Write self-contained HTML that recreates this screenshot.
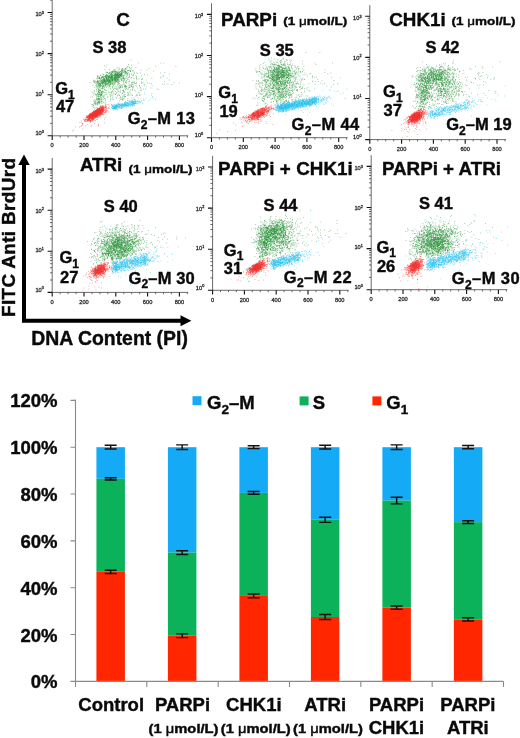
<!DOCTYPE html><html><head><meta charset="utf-8"><title>Figure</title><style>html,body{margin:0;padding:0;background:#fff}svg{display:block}text{font-family:"Liberation Sans", Arial, Helvetica, sans-serif;font-weight:bold;fill:#0a0a0a;stroke:#0a0a0a;stroke-width:0.4px}.tk{font-size:5.7px;font-weight:normal;fill:#2a2a2a;stroke:#2a2a2a;stroke-width:0.28px}</style></head><body><svg width="520" height="738" viewBox="0 0 520 738"><rect width="520" height="738" fill="#fff"/><g><path transform="scale(.5)" d="M209 170h1.55M200 211h1.55M183 209h1.55M198 205h1.55M196 184h1.55M208 163h1.55M199 172h1.55M195 208h1.55M186 211h1.55M191 200h1.55M205 165h1.55M196 203h1.55M191 206h1.55M203 185h1.55M193 199h1.55M185 212h1.55M198 202h1.55M187 203h1.55M192 172h1.55M199 176h1.55M198 157h1.55M196 179h1.55M198 174h1.55M207 192h1.55M211 152h1.55M195 152h1.55M196 198h1.55M210 189h1.55M196 193h1.55M208 168h1.55M199 182h1.55M198 185h1.55M206 195h1.55M197 179h1.55M192 176h1.55M194 204h1.55M194 187h1.55M208 131h1.55M202 191h1.55M196 183h1.55M188 204h1.55M198 167h1.55M200 190h1.55M191 216h1.55M199 205h1.55M206 170h1.55M192 196h1.55M207 155h1.55M205 168h1.55M196 180h1.55M190 207h1.55M202 155h1.55M206 184h1.55M202 156h1.55M191 210h1.55M199 214h1.55M207 149h1.55M200 200h1.55M194 197h1.55M208 162h1.55M210 181h1.55M202 160h1.55M188 199h1.55M190 189h1.55M191 167h1.55M196 202h1.55M200 181h1.55M206 161h1.55M192 169h1.55M200 204h1.55M200 181h1.55M201 187h1.55M195 189h1.55M205 175h1.55M203 190h1.55M207 192h1.55M196 170h1.55M202 190h1.55M201 196h1.55M185 214h1.55M213 130h1.55M192 208h1.55M209 178h1.55M186 222h1.55M197 196h1.55M202 188h1.55M200 190h1.55M202 165h1.55M201 189h1.55M201 199h1.55M187 186h1.55M199 167h1.55M196 157h1.55M200 184h1.55M195 207h1.55M207 194h1.55M184 209h1.55M196 183h1.55M202 184h1.55M193 179h1.55M195 193h1.55M204 170h1.55M203 185h1.55M202 177h1.55M205 168h1.55M204 158h1.55M202 203h1.55M205 176h1.55M195 154h1.55M208 179h1.55M203 189h1.55M206 149h1.55M193 172h1.55M198 205h1.55M196 182h1.55M195 208h1.55M193 189h1.55M199 197h1.55M204 175h1.55M209 139h1.55M194 172h1.55M202 171h1.55M198 203h1.55M199 176h1.55M196 177h1.55M202 204h1.55M204 162h1.55M202 203h1.55M207 171h1.55M190 202h1.55M183 184h1.55M198 185h1.55M198 199h1.55M197 197h1.55M208 175h1.55M209 206h1.55M202 161h1.55M199 188h1.55M199 169h1.55M201 173h1.55M198 190h1.55M188 220h1.55M200 176h1.55M190 172h1.55M194 153h1.55M186 190h1.55M197 203h1.55M202 170h1.55M200 190h1.55M216 165h1.55M195 164h1.55M195 188h1.55M190 204h1.55M211 134h1.55M202 163h1.55M201 194h1.55M205 192h1.55M186 211h1.55M195 188h1.55M196 182h1.55M194 176h1.55M199 208h1.55M192 206h1.55M199 181h1.55M195 199h1.55M203 188h1.55M203 182h1.55M197 170h1.55M193 199h1.55M203 187h1.55M206 205h1.55M194 208h1.55M205 166h1.55M197 184h1.55M197 173h1.55M196 165h1.55M194 201h1.55M195 187h1.55M193 192h1.55M206 165h1.55M196 197h1.55M199 179h1.55M207 174h1.55M193 173h1.55M198 167h1.55M196 192h1.55M208 190h1.55M197 198h1.55M203 197h1.55M200 192h1.55M199 186h1.55M193 184h1.55M196 185h1.55M193 194h1.55M201 194h1.55M190 209h1.55M196 197h1.55M198 167h1.55M204 148h1.55M196 170h1.55M197 199h1.55M203 198h1.55M204 183h1.55M206 158h1.55M197 197h1.55M197 197h1.55M206 199h1.55M199 160h1.55M202 185h1.55M196 190h1.55M200 213h1.55M189 203h1.55M189 206h1.55M181 194h1.55M198 189h1.55M196 163h1.55M207 172h1.55M191 166h1.55M201 190h1.55M190 206h1.55M199 182h1.55M186 208h1.55M200 172h1.55M207 162h1.55M206 173h1.55M203 163h1.55M204 166h1.55M192 180h1.55M196 204h1.55M192 202h1.55M199 199h1.55M191 190h1.55M196 206h1.55M201 194h1.55M198 202h1.55M208 185h1.55M206 184h1.55M185 186h1.55M197 205h1.55M192 191h1.55M208 197h1.55M194 216h1.55M193 182h1.55M193 197h1.55M188 206h1.55M202 189h1.55M188 183h1.55M204 204h1.55M203 207h1.55M196 188h1.55M197 190h1.55M203 167h1.55M203 184h1.55M195 192h1.55M209 180h1.55M196 205h1.55M191 189h1.55M210 198h1.55M211 168h1.55M194 205h1.55M196 183h1.55M184 194h1.55M204 178h1.55M211 166h1.55M195 198h1.55M204 186h1.55M193 158h1.55M208 160h1.55M215 162h1.55M241 148h1.55M222 156h1.55M202 156h1.55M209 153h1.55M218 161h1.55M249 145h1.55M215 163h1.55M230 140h1.55M236 154h1.55M207 167h1.55M222 155h1.55M210 152h1.55M210 166h1.55M232 149h1.55M216 152h1.55M197 155h1.55M256 129h1.55M222 143h1.55M222 147h1.55M221 156h1.55M237 162h1.55M217 147h1.55M239 147h1.55M224 146h1.55M234 165h1.55M209 164h1.55M228 157h1.55M219 146h1.55M239 146h1.55M225 155h1.55M230 152h1.55M210 156h1.55M211 161h1.55M221 165h1.55M235 152h1.55M205 164h1.55M198 156h1.55M228 140h1.55M213 155h1.55M210 167h1.55M222 154h1.55M240 151h1.55M241 143h1.55M210 162h1.55M205 152h1.55M213 154h1.55M240 151h1.55M215 157h1.55M214 168h1.55M208 160h1.55M223 144h1.55M193 165h1.55M202 156h1.55M236 150h1.55M250 148h1.55M218 165h1.55M213 159h1.55M233 144h1.55M222 162h1.55M220 160h1.55M218 161h1.55M210 162h1.55M216 160h1.55M201 164h1.55M232 148h1.55M218 166h1.55M206 171h1.55M214 162h1.55M193 163h1.55M200 170h1.55M210 155h1.55M256 145h1.55M221 160h1.55M221 158h1.55M268 146h1.55M224 161h1.55M232 156h1.55M236 158h1.55M259 140h1.55M193 163h1.55M219 165h1.55M233 156h1.55M238 154h1.55M239 149h1.55M230 152h1.55M219 160h1.55M230 148h1.55M212 145h1.55M255 151h1.55M243 149h1.55M230 159h1.55M254 150h1.55M225 160h1.55M253 135h1.55M204 167h1.55M231 156h1.55M221 164h1.55M231 160h1.55M233 136h1.55M215 148h1.55M232 157h1.55M221 163h1.55M225 151h1.55M240 151h1.55M205 164h1.55M251 143h1.55M228 168h1.55M216 155h1.55M206 154h1.55M217 164h1.55M215 160h1.55M242 152h1.55M195 168h1.55M229 143h1.55M202 154h1.55M234 148h1.55M214 166h1.55M206 156h1.55M226 148h1.55M254 144h1.55M219 145h1.55M204 167h1.55M219 160h1.55M229 160h1.55M247 156h1.55M215 171h1.55M200 161h1.55M235 153h1.55M237 146h1.55M215 160h1.55M226 141h1.55M216 156h1.55M231 145h1.55M229 147h1.55M208 164h1.55M193 169h1.55M262 139h1.55M225 153h1.55M230 162h1.55M213 161h1.55M229 159h1.55M224 161h1.55M204 168h1.55M209 156h1.55M245 143h1.55M222 160h1.55M200 169h1.55M247 139h1.55M229 156h1.55M223 153h1.55M223 153h1.55M212 160h1.55M216 152h1.55M201 156h1.55M224 159h1.55M224 155h1.55M220 155h1.55M219 169h1.55M236 151h1.55M251 142h1.55M189 161h1.55M212 157h1.55M258 135h1.55M207 163h1.55M196 162h1.55M236 158h1.55M230 147h1.55M239 154h1.55M216 167h1.55M202 162h1.55M222 148h1.55M230 156h1.55M197 156h1.55M227 155h1.55M210 168h1.55M237 157h1.55M233 148h1.55M222 167h1.55M228 145h1.55M214 168h1.55M242 148h1.55M211 153h1.55M219 155h1.55M220 163h1.55M230 159h1.55M197 170h1.55M242 141h1.55M258 136h1.55M250 144h1.55M216 156h1.55M207 158h1.55M216 157h1.55M211 162h1.55M241 150h1.55M213 158h1.55M239 151h1.55M209 172h1.55M200 158h1.55M222 153h1.55M241 147h1.55M233 155h1.55M197 162h1.55M221 153h1.55M207 163h1.55M259 147h1.55M223 147h1.55M220 156h1.55M188 165h1.55M214 151h1.55M224 158h1.55M232 154h1.55M212 150h1.55M240 148h1.55M236 146h1.55M234 151h1.55M225 153h1.55M233 150h1.55M216 160h1.55M234 158h1.55M222 151h1.55M228 156h1.55M225 158h1.55M241 151h1.55M200 173h1.55M229 152h1.55M220 166h1.55M224 161h1.55M214 160h1.55M211 159h1.55M213 163h1.55M217 149h1.55M248 140h1.55M212 160h1.55M237 145h1.55M198 166h1.55M211 156h1.55M236 154h1.55M260 143h1.55M265 141h1.55M219 145h1.55M217 162h1.55M249 146h1.55M235 160h1.55M251 138h1.55M229 149h1.55M217 161h1.55M198 164h1.55M243 143h1.55M238 145h1.55M212 169h1.55M234 150h1.55M241 151h1.55M209 159h1.55M219 168h1.55M216 164h1.55M207 166h1.55M235 136h1.55M254 147h1.55M243 148h1.55M232 157h1.55M227 165h1.55M255 148h1.55M235 155h1.55M231 160h1.55M216 153h1.55M238 163h1.55M241 157h1.55M228 151h1.55M215 161h1.55M219 155h1.55M236 142h1.55M225 142h1.55M205 152h1.55M218 153h1.55M222 156h1.55M208 159h1.55M257 141h1.55M224 156h1.55M236 152h1.55M224 154h1.55M244 142h1.55M209 166h1.55M223 151h1.55M241 150h1.55M260 143h1.55M244 138h1.55M250 144h1.55M237 160h1.55M197 171h1.55M234 145h1.55M220 150h1.55M230 143h1.55M200 171h1.55M211 168h1.55M253 150h1.55M212 163h1.55M240 152h1.55M235 148h1.55M219 173h1.55M212 169h1.55M253 149h1.55M206 160h1.55M227 160h1.55M240 143h1.55M231 158h1.55M215 173h1.55M230 151h1.55M209 161h1.55M281 140h1.55M195 163h1.55M218 161h1.55M235 152h1.55M239 146h1.55M243 147h1.55M186 162h1.55M194 161h1.55M232 162h1.55M223 150h1.55M208 162h1.55M215 166h1.55M211 152h1.55M236 151h1.55M223 155h1.55M229 153h1.55M194 162h1.55M216 176h1.55M239 158h1.55M222 157h1.55M213 156h1.55M221 159h1.55M209 163h1.55M207 162h1.55M244 141h1.55M234 160h1.55M239 144h1.55M263 155h1.55M225 157h1.55M245 155h1.55M213 145h1.55M245 160h1.55M222 148h1.55M213 156h1.55M229 163h1.55M212 153h1.55M245 151h1.55M244 152h1.55M228 154h1.55M203 162h1.55M224 174h1.55M213 166h1.55M213 167h1.55M219 174h1.55M239 149h1.55M229 155h1.55M226 157h1.55M210 171h1.55M223 149h1.55M225 145h1.55M203 166h1.55M211 153h1.55M253 147h1.55M237 152h1.55M208 163h1.55M204 154h1.55M231 145h1.55M236 167h1.55M237 150h1.55M185 171h1.55M237 139h1.55M206 158h1.55M230 154h1.55M219 154h1.55M232 148h1.55M221 166h1.55M243 140h1.55M215 159h1.55M242 160h1.55M227 139h1.55M230 158h1.55M258 142h1.55M229 157h1.55M231 165h1.55M207 172h1.55M239 150h1.55M248 160h1.55M211 151h1.55M216 171h1.55M213 162h1.55M221 148h1.55M243 138h1.55M235 155h1.55M220 167h1.55M242 140h1.55M228 160h1.55M234 148h1.55M230 161h1.55M230 157h1.55M235 147h1.55M233 155h1.55M248 141h1.55M243 142h1.55M234 149h1.55M211 173h1.55M208 158h1.55M239 149h1.55M222 145h1.55M222 168h1.55M200 168h1.55M234 147h1.55M219 152h1.55M225 160h1.55M216 154h1.55M243 156h1.55M208 161h1.55M262 148h1.55M203 161h1.55M234 156h1.55M223 153h1.55M196 167h1.55M232 146h1.55M244 148h1.55M198 157h1.55M238 154h1.55M239 143h1.55M227 170h1.55M218 163h1.55M211 162h1.55M206 160h1.55M258 150h1.55M243 152h1.55M234 153h1.55M247 151h1.55M238 155h1.55M228 154h1.55M246 157h1.55M199 156h1.55M227 143h1.55M207 161h1.55M230 142h1.55M225 158h1.55M236 152h1.55M210 156h1.55M196 174h1.55M248 150h1.55M218 156h1.55M242 145h1.55M210 165h1.55M242 149h1.55M212 155h1.55M238 136h1.55M208 167h1.55M212 158h1.55M214 152h1.55M215 161h1.55M233 151h1.55M204 154h1.55M235 155h1.55M230 161h1.55M205 165h1.55M230 153h1.55M215 169h1.55M193 157h1.55M232 158h1.55M243 145h1.55M219 162h1.55M242 146h1.55M250 143h1.55M216 163h1.55M212 159h1.55M227 150h1.55M234 159h1.55M223 162h1.55M235 160h1.55M217 164h1.55M215 161h1.55M250 147h1.55M202 167h1.55M235 148h1.55M224 143h1.55M242 148h1.55M247 155h1.55M224 162h1.55M224 145h1.55M213 150h1.55M205 154h1.55M199 171h1.55M241 150h1.55M227 155h1.55M228 155h1.55M209 164h1.55M228 160h1.55M228 143h1.55M199 169h1.55M220 157h1.55M228 159h1.55M224 156h1.55M219 147h1.55M230 163h1.55M198 162h1.55M220 161h1.55M203 166h1.55M224 160h1.55M217 153h1.55M236 147h1.55M225 164h1.55M234 142h1.55M242 141h1.55M228 152h1.55M221 149h1.55M215 145h1.55M238 152h1.55M228 165h1.55M213 162h1.55M266 144h1.55M239 149h1.55M218 154h1.55M190 163h1.55M255 141h1.55M223 155h1.55M236 154h1.55M225 152h1.55M218 156h1.55M228 149h1.55M210 165h1.55M215 152h1.55M232 163h1.55M199 153h1.55M233 161h1.55M209 161h1.55M244 137h1.55M219 160h1.55M258 149h1.55M249 144h1.55M223 148h1.55M234 157h1.55M200 165h1.55M230 144h1.55M179 165h1.55M231 143h1.55M237 149h1.55M231 151h1.55M214 160h1.55M228 157h1.55M204 173h1.55M231 149h1.55M229 162h1.55M239 152h1.55M187 160h1.55M195 152h1.55M234 155h1.55M188 175h1.55M245 138h1.55M233 164h1.55M219 160h1.55M232 153h1.55M234 163h1.55M211 152h1.55M199 160h1.55M260 137h1.55M199 157h1.55M194 166h1.55M215 151h1.55M243 147h1.55M251 138h1.55M219 164h1.55M265 142h1.55M231 154h1.55M220 168h1.55M222 157h1.55M242 152h1.55M201 172h1.55M223 154h1.55M237 153h1.55M233 151h1.55M252 145h1.55M225 151h1.55M246 153h1.55M217 160h1.55M187 162h1.55M242 149h1.55M276 126h1.55M254 133h1.55M242 158h1.55M248 143h1.55M205 163h1.55M234 145h1.55M228 157h1.55M239 155h1.55M221 152h1.55M200 163h1.55M195 174h1.55M205 164h1.55M236 151h1.55M239 149h1.55M220 154h1.55M220 156h1.55M243 152h1.55M246 154h1.55M225 167h1.55M212 150h1.55M227 146h1.55M203 171h1.55M230 148h1.55M242 160h1.55M233 153h1.55M225 152h1.55M224 167h1.55M210 171h1.55M203 165h1.55M247 151h1.55M215 167h1.55M196 166h1.55M217 160h1.55M208 159h1.55M204 160h1.55M212 155h1.55M209 159h1.55M232 153h1.55M251 144h1.55M208 157h1.55M212 164h1.55M224 154h1.55M256 155h1.55M218 151h1.55M221 155h1.55M252 153h1.55M223 151h1.55M219 169h1.55M208 161h1.55M223 144h1.55M250 156h1.55M239 144h1.55M251 146h1.55M215 158h1.55M248 142h1.55M250 140h1.55M217 165h1.55M258 152h1.55M219 160h1.55M211 165h1.55M219 142h1.55M225 159h1.55M224 149h1.55M212 163h1.55M194 163h1.55M232 143h1.55M200 151h1.55M239 152h1.55M219 160h1.55M203 159h1.55M216 164h1.55M233 152h1.55M215 161h1.55M213 151h1.55M242 153h1.55M221 148h1.55M216 147h1.55M230 149h1.55M189 164h1.55M229 150h1.55M231 149h1.55M214 154h1.55M228 161h1.55M207 161h1.55M235 166h1.55M188 163h1.55M218 139h1.55M200 167h1.55M213 156h1.55M244 137h1.55M205 155h1.55M204 162h1.55M226 151h1.55M208 153h1.55M223 156h1.55M223 163h1.55M235 149h1.55M228 142h1.55M211 163h1.55M223 151h1.55M219 151h1.55M236 163h1.55M218 172h1.55M221 160h1.55M234 151h1.55M220 149h1.55M237 159h1.55M212 158h1.55M253 146h1.55M221 155h1.55M237 151h1.55M230 156h1.55M217 164h1.55M236 155h1.55M232 150h1.55M246 165h1.55M211 169h1.55M220 152h1.55M262 130h1.55M246 145h1.55M217 155h1.55M187 164h1.55M223 152h1.55M210 169h1.55M214 160h1.55M231 155h1.55M229 149h1.55M206 164h1.55M200 169h1.55M241 154h1.55M254 141h1.55M239 149h1.55M236 144h1.55M227 158h1.55M211 148h1.55M222 159h1.55M217 170h1.55M215 157h1.55M218 163h1.55M230 150h1.55M217 157h1.55M207 157h1.55M209 164h1.55M228 157h1.55M201 151h1.55M253 156h1.55M229 162h1.55M233 161h1.55M233 149h1.55M250 137h1.55M215 153h1.55M217 159h1.55M220 169h1.55M239 163h1.55M219 154h1.55M230 164h1.55M212 156h1.55M239 139h1.55M194 165h1.55M215 154h1.55M197 167h1.55M237 155h1.55M221 164h1.55M246 156h1.55M210 163h1.55M214 145h1.55M231 159h1.55M233 150h1.55M229 154h1.55M235 159h1.55M206 166h1.55M205 159h1.55M253 136h1.55M231 151h1.55M216 168h1.55M237 161h1.55M230 154h1.55M237 150h1.55M227 158h1.55M197 169h1.55M233 145h1.55M249 152h1.55M207 158h1.55M211 144h1.55M233 162h1.55M212 150h1.55M194 167h1.55M198 155h1.55M219 164h1.55M198 171h1.55M260 141h1.55M223 164h1.55M231 156h1.55M207 153h1.55M234 158h1.55M249 146h1.55M232 151h1.55M242 144h1.55M217 154h1.55M231 176h1.55M282 180h1.55M219 189h1.55M223 160h1.55M194 152h1.55M278 171h1.55M246 180h1.55M252 161h1.55M254 159h1.55M285 165h1.55M257 174h1.55M240 172h1.55M238 171h1.55M222 184h1.55M232 197h1.55M227 188h1.55M244 200h1.55M240 194h1.55M221 178h1.55M264 164h1.55M231 186h1.55M278 191h1.55M273 190h1.55M226 179h1.55M228 152h1.55M252 173h1.55M262 168h1.55M217 164h1.55M268 146h1.55M205 155h1.55M228 167h1.55M256 132h1.55M209 202h1.55M265 160h1.55M251 175h1.55M187 201h1.55M239 172h1.55M259 174h1.55M222 187h1.55M198 207h1.55M288 172h1.55M230 148h1.55M263 166h1.55M258 175h1.55M215 167h1.55M236 151h1.55M236 183h1.55M249 176h1.55M238 191h1.55M245 169h1.55M282 163h1.55M199 181h1.55M294 166h1.55M223 184h1.55M243 199h1.55M257 185h1.55M202 199h1.55M246 142h1.55M268 164h1.55M230 183h1.55M265 177h1.55M245 158h1.55M223 191h1.55M250 172h1.55M240 184h1.55M230 148h1.55M278 190h1.55M241 174h1.55M248 196h1.55M237 174h1.55M224 176h1.55M193 215h1.55M241 169h1.55M239 184h1.55M240 158h1.55M261 171h1.55M225 163h1.55M248 159h1.55M238 190h1.55M247 184h1.55M262 155h1.55M188 181h1.55M266 151h1.55M234 192h1.55M258 154h1.55M247 192h1.55M205 182h1.55M225 192h1.55M246 157h1.55M197 200h1.55M270 167h1.55M230 168h1.55M220 202h1.55M234 152h1.55M263 169h1.55M265 175h1.55M222 209h1.55M242 160h1.55M249 174h1.55M226 162h1.55M246 197h1.55M274 176h1.55M249 173h1.55M263 165h1.55M267 164h1.55M232 186h1.55M259 183h1.55M262 173h1.55M224 195h1.55M229 150h1.55M258 170h1.55M211 153h1.55M234 178h1.55M225 159h1.55M246 181h1.55M249 189h1.55M217 185h1.55M290 178h1.55M245 200h1.55M243 171h1.55M263 190h1.55M230 189h1.55M224 143h1.55M236 178h1.55M225 167h1.55M293 140h1.55M280 181h1.55M264 168h1.55M264 151h1.55M263 196h1.55M246 182h1.55M250 172h1.55M271 192h1.55M224 182h1.55M250 179h1.55M239 175h1.55M265 170h1.55M254 201h1.55M188 216h1.55M250 174h1.55M244 187h1.55M227 166h1.55M249 173h1.55M228 176h1.55M267 168h1.55M238 196h1.55M247 189h1.55M204 173h1.55M216 153h1.55M244 196h1.55M212 172h1.55M249 170h1.55M234 170h1.55M273 158h1.55M243 198h1.55M243 149h1.55M261 190h1.55M239 155h1.55M224 173h1.55M260 143h1.55M246 162h1.55M233 178h1.55M226 160h1.55M189 187h1.55M215 195h1.55M210 200h1.55M240 175h1.55M282 166h1.55M247 168h1.55M239 152h1.55M243 172h1.55M238 176h1.55M235 161h1.55M241 174h1.55M236 165h1.55M225 165h1.55M224 169h1.55M283 159h1.55M244 194h1.55M257 170h1.55M264 179h1.55M244 145h1.55M251 178h1.55M211 185h1.55M253 162h1.55M220 199h1.55M223 198h1.55M233 174h1.55M283 159h1.55M281 190h1.55M272 153h1.55M247 160h1.55M245 142h1.55M267 196h1.55M193 164h1.55M232 156h1.55M236 188h1.55M231 173h1.55M248 184h1.55M250 163h1.55M225 199h1.55M197 194h1.55M244 186h1.55M227 182h1.55M238 167h1.55M257 163h1.55M270 182h1.55M252 166h1.55M220 193h1.55M250 171h1.55M215 193h1.55M271 152h1.55M236 155h1.55M221 185h1.55M264 174h1.55M212 175h1.55M250 193h1.55M240 199h1.55M302 168h1.55M245 186h1.55M220 189h1.55M237 148h1.55M240 150h1.55M216 182h1.55M238 202h1.55M326 153h1.55M249 185h1.55M232 195h1.55M266 174h1.55M236 174h1.55M212 181h1.55M234 170h1.55M231 178h1.55M248 157h1.55M220 166h1.55M219 185h1.55M243 172h1.55M188 208h1.55M232 163h1.55M217 158h1.55M199 187h1.55M253 172h1.55M242 160h1.55M219 172h1.55M266 172h1.55M194 210h1.55M226 198h1.55M254 185h1.55M294 150h1.55M212 189h1.55M272 155h1.55M212 167h1.55M219 145h1.55M225 170h1.55M255 178h1.55M232 159h1.55M252 173h1.55M242 146h1.55M259 162h1.55M255 197h1.55M246 182h1.55M260 180h1.55M255 188h1.55M264 180h1.55M237 167h1.55M233 178h1.55M256 141h1.55M204 202h1.55M251 157h1.55M229 177h1.55M225 143h1.55M241 195h1.55M211 206h1.55M272 172h1.55M282 152h1.55M246 163h1.55M254 156h1.55M221 191h1.55M227 178h1.55M240 196h1.55M216 153h1.55M292 174h1.55M249 173h1.55M218 171h1.55M231 151h1.55M252 177h1.55M263 180h1.55M257 159h1.55M201 191h1.55M244 162h1.55M244 175h1.55M234 182h1.55M245 192h1.55M256 176h1.55M255 180h1.55M249 171h1.55M258 162h1.55M262 172h1.55M240 180h1.55M213 186h1.55M261 156h1.55M220 177h1.55M264 191h1.55M247 168h1.55M256 166h1.55M287 168h1.55M263 148h1.55M248 192h1.55M272 167h1.55M250 165h1.55M257 154h1.55M244 174h1.55M259 172h1.55M227 146h1.55M266 149h1.55M268 180h1.55M239 177h1.55M220 196h1.55M250 193h1.55M250 165h1.55M237 182h1.55M252 164h1.55M254 191h1.55M194 156h1.55M227 186h1.55M203 200h1.55M220 169h1.55M187 215h1.55M233 186h1.55M225 188h1.55M203 183h1.55M267 165h1.55M222 160h1.55M256 188h1.55M230 189h1.55M234 158h1.55M225 183h1.55M248 193h1.55M227 170h1.55M275 196h1.55M258 175h1.55M267 157h1.55M284 157h1.55M235 191h1.55M205 177h1.55M248 160h1.55M303 187h1.55M270 171h1.55M288 149h1.55M338 148h1.55M208 197h1.55M204 194h1.55M237 169h1.55M272 146h1.55M328 163h1.55M321 156h1.55M297 137h1.55M240 174h1.55M347 165h1.55M292 160h1.55M273 190h1.55M261 186h1.55M325 151h1.55M316 179h1.55M303 157h1.55M328 168h1.55M311 133h1.55M358 166h1.55M246 198h1.55M320 146h1.55M301 176h1.55M327 126h1.55M283 166h1.55M329 145h1.55M338 160h1.55M299 167h1.55M263 173h1.55M272 157h1.55M272 165h1.55M257 191h1.55M343 169h1.55M351 133h1.55M198 193h1.55M268 167h1.55M280 175h1.55M333 156h1.55M324 168h1.55M253 146h1.55M277 185h1.55M274 147h1.55M281 177h1.55M306 142h1.55M278 171h1.55M261 120h1.55M271 135h1.55M277 158h1.55M205 177h1.55M288 169h1.55M273 190h1.55M226 172h1.55M260 170h1.55M279 174h1.55M250 137h1.55M244 181h1.55M277 186h1.55M244 156h1.55M320 154h1.55M335 168h1.55M321 126h1.55M263 135h1.55M257 189h1.55M286 178h1.55M313 178h1.55M280 146h1.55M273 160h1.55" stroke="#258f35" stroke-width="1.55" stroke-opacity="0.64" fill="none"/><path transform="scale(.5)" d="M226 218h1.55M225 217h1.55M267 207h1.55M232 213h1.55M257 210h1.55M231 215h1.55M262 201h1.55M233 210h1.55M230 218h1.55M250 211h1.55M241 218h1.55M230 211h1.55M232 214h1.55M237 214h1.55M268 199h1.55M257 207h1.55M242 211h1.55M238 213h1.55M228 214h1.55M231 218h1.55M232 213h1.55M238 213h1.55M280 198h1.55M242 212h1.55M255 212h1.55M252 205h1.55M236 208h1.55M237 210h1.55M274 203h1.55M233 216h1.55M235 209h1.55M269 203h1.55M250 210h1.55M227 221h1.55M251 209h1.55M253 205h1.55M244 214h1.55M249 210h1.55M238 214h1.55M244 210h1.55M264 207h1.55M260 205h1.55M241 216h1.55M266 204h1.55M262 205h1.55M225 211h1.55M245 209h1.55M251 208h1.55M259 203h1.55M245 207h1.55M241 211h1.55M228 210h1.55M236 206h1.55M253 210h1.55M280 205h1.55M257 211h1.55M263 209h1.55M268 200h1.55M238 213h1.55M259 211h1.55M264 201h1.55M243 209h1.55M242 215h1.55M247 213h1.55M278 206h1.55M259 209h1.55M229 216h1.55M257 208h1.55M254 208h1.55M234 219h1.55M265 203h1.55M228 215h1.55M244 210h1.55M267 211h1.55M235 212h1.55M240 211h1.55M261 204h1.55M248 212h1.55M234 214h1.55M264 204h1.55M243 212h1.55M279 204h1.55M265 204h1.55M250 210h1.55M263 204h1.55M227 213h1.55M235 213h1.55M259 202h1.55M228 215h1.55M251 211h1.55M265 204h1.55M259 208h1.55M240 211h1.55M232 214h1.55M251 208h1.55M264 202h1.55M234 213h1.55M265 212h1.55M250 208h1.55M235 211h1.55M310 199h1.55M277 204h1.55M236 210h1.55M275 204h1.55M249 214h1.55M226 215h1.55M228 216h1.55M253 207h1.55M242 217h1.55M234 209h1.55M243 211h1.55M228 216h1.55M230 213h1.55M236 215h1.55M230 216h1.55M248 212h1.55M230 213h1.55M248 205h1.55M257 207h1.55M273 202h1.55M257 203h1.55M273 203h1.55M242 210h1.55M254 206h1.55M232 211h1.55M272 207h1.55M263 209h1.55M229 219h1.55M229 217h1.55M268 210h1.55M267 208h1.55M264 210h1.55M264 212h1.55M263 208h1.55M270 207h1.55M233 210h1.55M249 212h1.55M242 217h1.55M269 207h1.55M254 211h1.55M262 207h1.55M229 210h1.55M247 209h1.55M241 215h1.55M226 210h1.55M254 210h1.55M228 216h1.55M267 203h1.55M253 211h1.55M260 207h1.55M286 197h1.55M248 210h1.55M231 211h1.55M236 209h1.55M225 213h1.55M238 216h1.55M245 217h1.55M240 212h1.55M251 210h1.55M300 198h1.55M269 202h1.55M291 196h1.55M250 204h1.55M239 207h1.55M260 210h1.55M255 210h1.55M252 214h1.55M225 216h1.55M282 202h1.55M271 203h1.55M270 206h1.55M232 216h1.55M270 202h1.55M249 213h1.55M233 213h1.55M245 210h1.55M237 215h1.55M251 209h1.55M262 211h1.55M239 208h1.55M260 212h1.55M233 219h1.55M246 210h1.55M265 207h1.55M262 204h1.55M252 212h1.55M224 212h1.55M247 212h1.55M238 213h1.55M264 203h1.55M259 201h1.55M254 212h1.55M225 217h1.55M297 201h1.55M235 211h1.55M258 208h1.55M259 204h1.55M225 217h1.55M224 214h1.55M228 216h1.55M249 207h1.55M234 215h1.55M260 207h1.55M268 208h1.55M247 214h1.55M231 208h1.55M268 203h1.55M245 215h1.55M257 209h1.55M241 209h1.55M249 208h1.55M237 217h1.55M268 207h1.55M256 209h1.55M230 218h1.55M233 212h1.55M270 203h1.55M243 214h1.55M230 213h1.55M250 210h1.55M245 212h1.55M246 210h1.55M231 217h1.55M265 203h1.55M275 202h1.55M285 206h1.55M248 208h1.55M225 211h1.55M243 213h1.55M264 205h1.55M230 211h1.55M287 200h1.55M243 213h1.55M230 215h1.55M227 216h1.55M233 213h1.55M263 210h1.55M222 210h1.55M269 204h1.55M270 202h1.55M267 207h1.55M269 207h1.55M229 214h1.55M265 206h1.55M250 213h1.55M275 206h1.55M267 206h1.55M263 209h1.55M252 205h1.55M267 206h1.55M260 212h1.55M236 207h1.55M271 203h1.55M256 211h1.55M241 216h1.55M250 204h1.55M284 207h1.55M243 212h1.55M242 214h1.55M237 211h1.55M268 211h1.55M266 205h1.55M233 213h1.55M267 206h1.55M263 210h1.55M230 217h1.55M233 215h1.55M245 214h1.55M245 213h1.55M228 212h1.55M225 210h1.55M227 213h1.55M258 210h1.55M226 217h1.55M267 208h1.55M282 201h1.55M238 209h1.55M271 205h1.55M236 214h1.55M257 208h1.55M266 205h1.55M260 203h1.55M249 207h1.55M266 208h1.55M249 208h1.55M271 206h1.55M305 195h1.55M232 214h1.55M231 216h1.55M247 208h1.55M231 210h1.55M232 211h1.55M274 207h1.55M275 202h1.55M243 212h1.55M244 208h1.55M231 213h1.55M266 206h1.55M253 211h1.55M267 200h1.55M235 207h1.55M228 215h1.55M241 210h1.55M242 208h1.55M281 205h1.55M222 215h1.55M230 214h1.55M232 212h1.55M263 205h1.55M269 204h1.55M242 209h1.55M254 212h1.55M228 214h1.55M248 209h1.55M250 203h1.55M269 204h1.55M234 211h1.55M225 214h1.55M225 217h1.55M248 211h1.55M231 214h1.55M287 200h1.55M252 215h1.55M255 205h1.55M266 203h1.55M231 214h1.55M271 206h1.55M265 210h1.55M228 210h1.55M267 210h1.55M231 216h1.55M254 206h1.55M246 211h1.55M247 209h1.55M222 215h1.55M255 208h1.55M270 200h1.55M264 200h1.55M253 210h1.55M232 213h1.55M239 211h1.55M266 207h1.55M287 201h1.55M237 212h1.55M247 212h1.55M225 216h1.55M262 202h1.55M244 207h1.55M256 207h1.55M231 212h1.55M234 212h1.55M229 213h1.55M238 214h1.55M246 209h1.55M232 217h1.55M232 214h1.55M241 208h1.55M226 216h1.55M253 207h1.55M223 214h1.55M264 206h1.55M254 207h1.55M251 211h1.55M234 218h1.55M226 215h1.55M255 213h1.55M229 216h1.55M229 214h1.55M250 208h1.55M233 209h1.55M278 203h1.55M270 207h1.55M226 215h1.55M251 210h1.55M225 213h1.55M253 206h1.55M256 211h1.55M271 206h1.55M279 203h1.55M226 214h1.55M229 220h1.55M227 214h1.55M225 210h1.55M230 213h1.55M262 204h1.55M240 210h1.55M270 203h1.55M268 207h1.55M248 206h1.55M257 206h1.55M230 217h1.55M226 213h1.55M262 205h1.55M238 209h1.55M263 206h1.55M256 212h1.55M264 208h1.55M237 210h1.55M236 215h1.55M265 208h1.55M264 206h1.55M259 202h1.55M263 203h1.55M257 202h1.55M267 199h1.55M253 209h1.55M245 210h1.55M261 208h1.55M277 202h1.55M268 207h1.55M238 209h1.55M234 218h1.55M266 208h1.55M251 206h1.55M243 211h1.55M253 205h1.55M268 206h1.55M225 217h1.55M244 209h1.55M258 205h1.55M238 209h1.55M231 211h1.55M229 216h1.55M243 215h1.55M260 209h1.55M235 212h1.55M269 206h1.55M249 206h1.55M240 213h1.55M238 212h1.55M223 211h1.55M232 210h1.55M252 210h1.55M257 213h1.55M304 193h1.55M276 208h1.55M226 214h1.55M253 209h1.55M289 188h1.55M250 204h1.55M257 205h1.55M253 226h1.55M262 209h1.55M304 172h1.55M268 199h1.55M306 197h1.55M302 191h1.55M228 217h1.55M271 219h1.55M288 185h1.55" stroke="#2cc2f0" stroke-width="1.55" stroke-opacity="0.66" fill="none"/><path transform="scale(.5)" d="M188 227h1.55M190 229h1.55M184 233h1.55M200 220h1.55M199 221h1.55M194 224h1.55M175 234h1.55M194 223h1.55M180 241h1.55M184 233h1.55M194 225h1.55M197 226h1.55M193 224h1.55M182 226h1.55M193 221h1.55M187 233h1.55M188 229h1.55M196 223h1.55M189 232h1.55M184 226h1.55M184 231h1.55M197 229h1.55M189 223h1.55M175 239h1.55M192 230h1.55M195 224h1.55M177 233h1.55M195 221h1.55M202 218h1.55M194 230h1.55M197 225h1.55M190 233h1.55M184 234h1.55M206 226h1.55M178 234h1.55M202 217h1.55M180 245h1.55M195 227h1.55M180 230h1.55M200 221h1.55M192 224h1.55M203 217h1.55M194 223h1.55M175 232h1.55M198 220h1.55M176 240h1.55M201 228h1.55M188 225h1.55M177 230h1.55M196 224h1.55M193 223h1.55M190 223h1.55M186 232h1.55M200 221h1.55M182 229h1.55M204 220h1.55M180 235h1.55M190 229h1.55M205 222h1.55M204 224h1.55M183 230h1.55M199 218h1.55M194 225h1.55M191 225h1.55M189 227h1.55M196 224h1.55M196 221h1.55M207 215h1.55M188 230h1.55M189 224h1.55M187 228h1.55M211 224h1.55M181 232h1.55M194 224h1.55M186 227h1.55M194 227h1.55M211 213h1.55M187 230h1.55M189 228h1.55M169 243h1.55M202 225h1.55M189 225h1.55M195 218h1.55M177 237h1.55M187 227h1.55M205 229h1.55M203 225h1.55M199 227h1.55M190 223h1.55M189 227h1.55M197 222h1.55M187 223h1.55M200 222h1.55M216 215h1.55M199 223h1.55M191 224h1.55M192 224h1.55M181 240h1.55M198 226h1.55M185 237h1.55M200 218h1.55M205 222h1.55M193 230h1.55M194 218h1.55M181 227h1.55M200 222h1.55M172 234h1.55M191 229h1.55M194 224h1.55M205 222h1.55M198 217h1.55M203 220h1.55M183 228h1.55M192 226h1.55M203 220h1.55M173 241h1.55M174 235h1.55M195 227h1.55M189 225h1.55M189 223h1.55M189 224h1.55M200 214h1.55M184 228h1.55M177 240h1.55M173 235h1.55M181 234h1.55M189 228h1.55M186 230h1.55M206 217h1.55M194 221h1.55M192 232h1.55M184 227h1.55M178 238h1.55M198 219h1.55M190 225h1.55M195 229h1.55M179 237h1.55M200 224h1.55M185 234h1.55M178 236h1.55M180 232h1.55M171 239h1.55M189 236h1.55M198 224h1.55M174 242h1.55M194 227h1.55M196 221h1.55M196 222h1.55M201 218h1.55M199 230h1.55M196 218h1.55M189 230h1.55M211 221h1.55M182 230h1.55M207 217h1.55M194 221h1.55M184 232h1.55M192 223h1.55M191 228h1.55M183 234h1.55M198 222h1.55M185 234h1.55M211 209h1.55M201 231h1.55M195 222h1.55M204 217h1.55M189 226h1.55M173 235h1.55M195 227h1.55M181 237h1.55M193 225h1.55M189 232h1.55M207 212h1.55M184 237h1.55M203 215h1.55M205 215h1.55M183 231h1.55M174 241h1.55M190 226h1.55M185 231h1.55M194 223h1.55M196 223h1.55M187 227h1.55M193 229h1.55M186 230h1.55M190 227h1.55M191 227h1.55M192 231h1.55M193 222h1.55M195 225h1.55M197 227h1.55M175 237h1.55M182 230h1.55M187 240h1.55M179 228h1.55M190 233h1.55M184 230h1.55M195 224h1.55M202 217h1.55M190 225h1.55M203 215h1.55M202 224h1.55M188 226h1.55M187 226h1.55M194 221h1.55M202 221h1.55M187 226h1.55M199 222h1.55M181 233h1.55M192 222h1.55M198 223h1.55M197 221h1.55M193 226h1.55M188 226h1.55M183 235h1.55M194 231h1.55M191 235h1.55M184 229h1.55M196 224h1.55M192 232h1.55M205 216h1.55M202 224h1.55M193 233h1.55M196 220h1.55M175 238h1.55M200 229h1.55M178 240h1.55M188 234h1.55M191 226h1.55M195 222h1.55M201 215h1.55M181 236h1.55M184 236h1.55M190 227h1.55M198 229h1.55M181 234h1.55M190 229h1.55M192 230h1.55M196 222h1.55M192 229h1.55M195 236h1.55M183 232h1.55M178 235h1.55M195 230h1.55M189 229h1.55M194 223h1.55M192 230h1.55M190 228h1.55M197 222h1.55M187 235h1.55M189 231h1.55M182 233h1.55M187 229h1.55M196 225h1.55M211 215h1.55M200 221h1.55M205 228h1.55M184 230h1.55M191 222h1.55M196 220h1.55M196 225h1.55M197 227h1.55M203 223h1.55M189 228h1.55M201 221h1.55M184 231h1.55M195 222h1.55M181 226h1.55M205 218h1.55M194 227h1.55M204 221h1.55M198 225h1.55M184 229h1.55M202 220h1.55M184 228h1.55M190 226h1.55M202 215h1.55M190 225h1.55M186 231h1.55M173 232h1.55M205 223h1.55M181 240h1.55M202 222h1.55M191 228h1.55M192 231h1.55M194 231h1.55M190 227h1.55M195 225h1.55M183 231h1.55M184 225h1.55M198 223h1.55M188 232h1.55M184 233h1.55M193 224h1.55M185 231h1.55M218 217h1.55M186 229h1.55M192 225h1.55M188 227h1.55M190 225h1.55M177 240h1.55M193 230h1.55M181 231h1.55M184 229h1.55M197 222h1.55M195 225h1.55M179 235h1.55M196 226h1.55M189 225h1.55M182 230h1.55M208 218h1.55M193 227h1.55M203 218h1.55M200 224h1.55M191 227h1.55M173 233h1.55M202 227h1.55M197 223h1.55M194 224h1.55M179 236h1.55M205 220h1.55M185 236h1.55M180 233h1.55M204 217h1.55M188 232h1.55M194 223h1.55M185 236h1.55M193 225h1.55M180 235h1.55M186 229h1.55M190 228h1.55M186 226h1.55M203 220h1.55M199 225h1.55M190 224h1.55M204 220h1.55M190 227h1.55M178 235h1.55M185 230h1.55M185 239h1.55M191 226h1.55M185 227h1.55M190 230h1.55M198 229h1.55M185 231h1.55M198 223h1.55M195 227h1.55M190 221h1.55M186 230h1.55M191 223h1.55M185 240h1.55M195 221h1.55M192 225h1.55M198 221h1.55M207 221h1.55M194 239h1.55M198 224h1.55M191 228h1.55M188 232h1.55M185 229h1.55M191 227h1.55M188 225h1.55M195 225h1.55M197 224h1.55M179 229h1.55M197 227h1.55M199 220h1.55M175 231h1.55M192 223h1.55M193 226h1.55M176 233h1.55M192 228h1.55M194 225h1.55M197 224h1.55M195 233h1.55M186 227h1.55M203 221h1.55M187 223h1.55M187 227h1.55M205 218h1.55M203 222h1.55M193 226h1.55M190 223h1.55M212 216h1.55M185 229h1.55M181 231h1.55M196 225h1.55M198 228h1.55M200 227h1.55M186 232h1.55M186 227h1.55M192 228h1.55M193 220h1.55M190 226h1.55M201 219h1.55M213 221h1.55M190 226h1.55M198 220h1.55M191 231h1.55M190 223h1.55M184 236h1.55M194 233h1.55M190 230h1.55M196 227h1.55M184 233h1.55M192 229h1.55M190 225h1.55M198 216h1.55M185 232h1.55M185 231h1.55M198 228h1.55M195 225h1.55M175 236h1.55M204 226h1.55M197 222h1.55M194 223h1.55M202 220h1.55M199 223h1.55M199 225h1.55M187 223h1.55M195 225h1.55M183 236h1.55M191 223h1.55M194 223h1.55M188 223h1.55M189 231h1.55M198 222h1.55M190 230h1.55M188 227h1.55M196 229h1.55M194 224h1.55M181 230h1.55M189 229h1.55M195 219h1.55M184 230h1.55M185 226h1.55M184 228h1.55M214 222h1.55M186 228h1.55M191 229h1.55M209 215h1.55M176 234h1.55M174 233h1.55M186 230h1.55M201 220h1.55M183 239h1.55M200 218h1.55M183 229h1.55M194 222h1.55M173 240h1.55M197 220h1.55M203 229h1.55M191 225h1.55M214 216h1.55M188 229h1.55M199 223h1.55M202 223h1.55M194 227h1.55M194 228h1.55M176 233h1.55M195 227h1.55M191 223h1.55M183 233h1.55M195 223h1.55M192 235h1.55M201 219h1.55M192 228h1.55M194 227h1.55M184 235h1.55M187 232h1.55M180 232h1.55M179 232h1.55M182 232h1.55M202 219h1.55M185 231h1.55M195 231h1.55M186 230h1.55M187 229h1.55M196 221h1.55M197 220h1.55M189 229h1.55M189 229h1.55M193 233h1.55M188 229h1.55M183 232h1.55M196 225h1.55M213 223h1.55M193 233h1.55M170 240h1.55M196 225h1.55M200 230h1.55M197 221h1.55M192 229h1.55M197 225h1.55M194 227h1.55M172 239h1.55M191 224h1.55M184 232h1.55M196 223h1.55M187 237h1.55M195 218h1.55M197 220h1.55M187 232h1.55M200 225h1.55M178 240h1.55M187 233h1.55M194 228h1.55M202 220h1.55M179 229h1.55M186 230h1.55M191 228h1.55M195 227h1.55M180 243h1.55M182 236h1.55M191 227h1.55M195 224h1.55M186 233h1.55M174 239h1.55M194 223h1.55M190 228h1.55M199 222h1.55M196 221h1.55M190 222h1.55M187 231h1.55M186 234h1.55M201 213h1.55M190 225h1.55M199 218h1.55M203 224h1.55M185 229h1.55M203 219h1.55M184 233h1.55M187 233h1.55M205 221h1.55M200 220h1.55M185 229h1.55M203 216h1.55M201 220h1.55M196 225h1.55M192 221h1.55M179 235h1.55M194 227h1.55M187 226h1.55M207 214h1.55M197 230h1.55M207 216h1.55M193 230h1.55M193 230h1.55M191 225h1.55M191 226h1.55M181 228h1.55M189 236h1.55M191 230h1.55M183 234h1.55M196 229h1.55M187 224h1.55M197 224h1.55M192 227h1.55M189 225h1.55M195 234h1.55M192 230h1.55M198 225h1.55M184 236h1.55M184 242h1.55M175 236h1.55M189 236h1.55M177 233h1.55M185 232h1.55M191 221h1.55M205 213h1.55M192 226h1.55M203 213h1.55M188 227h1.55M193 225h1.55M189 234h1.55M189 234h1.55M200 219h1.55M178 230h1.55M202 228h1.55M205 215h1.55M211 219h1.55M195 223h1.55M192 225h1.55M203 225h1.55M183 238h1.55M187 232h1.55M194 224h1.55M193 229h1.55M186 227h1.55M197 223h1.55M185 224h1.55M185 228h1.55M201 221h1.55M200 226h1.55M199 221h1.55M176 234h1.55M181 228h1.55M186 231h1.55M194 226h1.55M194 227h1.55M197 223h1.55M198 234h1.55M201 221h1.55M176 236h1.55M193 221h1.55M179 229h1.55M189 226h1.55M190 232h1.55M198 218h1.55M202 216h1.55M189 235h1.55M187 232h1.55M183 230h1.55M194 226h1.55M193 226h1.55M191 224h1.55M200 224h1.55M176 231h1.55M190 223h1.55M178 237h1.55M194 231h1.55M185 228h1.55M197 217h1.55M186 236h1.55M194 221h1.55M195 230h1.55M196 220h1.55M197 225h1.55M192 223h1.55M190 235h1.55M193 224h1.55M189 224h1.55M186 230h1.55M187 227h1.55M205 219h1.55M205 211h1.55M197 221h1.55M206 218h1.55M192 231h1.55M192 221h1.55M195 223h1.55M189 228h1.55M177 232h1.55M190 232h1.55M186 233h1.55M196 219h1.55M178 232h1.55M200 224h1.55M180 237h1.55M185 229h1.55M192 235h1.55M196 230h1.55M201 225h1.55M187 233h1.55M184 226h1.55M197 221h1.55M197 230h1.55M188 231h1.55M182 231h1.55M186 233h1.55M186 239h1.55M193 220h1.55M194 229h1.55M168 241h1.55M201 219h1.55M196 218h1.55M201 222h1.55M198 219h1.55M179 237h1.55M179 235h1.55M198 227h1.55M171 235h1.55M191 221h1.55M178 231h1.55M189 227h1.55M188 225h1.55M200 221h1.55M178 232h1.55M186 228h1.55M190 221h1.55M201 222h1.55M191 220h1.55M186 229h1.55M199 217h1.55M198 228h1.55M180 233h1.55M182 228h1.55M201 228h1.55M184 231h1.55M187 230h1.55M196 227h1.55M196 226h1.55M185 228h1.55M186 229h1.55M204 218h1.55M188 226h1.55M186 226h1.55M179 232h1.55M188 232h1.55M207 220h1.55M204 216h1.55M205 222h1.55M198 216h1.55M190 228h1.55M211 213h1.55M189 231h1.55M194 224h1.55M189 221h1.55M187 227h1.55M205 222h1.55M182 238h1.55M186 238h1.55M198 230h1.55M192 220h1.55M178 237h1.55M174 235h1.55M185 232h1.55M190 225h1.55M188 229h1.55M186 230h1.55M181 233h1.55M176 239h1.55M207 216h1.55M180 233h1.55M186 237h1.55M183 229h1.55M194 225h1.55M185 235h1.55M202 219h1.55M187 238h1.55M182 234h1.55M193 226h1.55M191 232h1.55M179 228h1.55M183 229h1.55M177 237h1.55M191 223h1.55M180 231h1.55M196 227h1.55M197 227h1.55M184 231h1.55M169 242h1.55M185 237h1.55M186 227h1.55M185 226h1.55M184 237h1.55M203 217h1.55M200 224h1.55M197 222h1.55M196 223h1.55M202 222h1.55M186 236h1.55M202 223h1.55M184 235h1.55M190 233h1.55M190 230h1.55M188 233h1.55M192 228h1.55M191 226h1.55M198 231h1.55M188 232h1.55M200 227h1.55M186 232h1.55M186 226h1.55M185 227h1.55M182 240h1.55M200 219h1.55M195 224h1.55M197 228h1.55M200 223h1.55M199 221h1.55M177 241h1.55M201 221h1.55M187 228h1.55M188 231h1.55M192 226h1.55M204 219h1.55M203 215h1.55M192 226h1.55M191 230h1.55M192 229h1.55M204 216h1.55M191 235h1.55M191 228h1.55M184 236h1.55M171 238h1.55M191 228h1.55M203 219h1.55M193 227h1.55M183 226h1.55M196 217h1.55M188 229h1.55M182 229h1.55M178 233h1.55M198 217h1.55M181 229h1.55M186 233h1.55M178 231h1.55M206 220h1.55M185 232h1.55M210 210h1.55M190 235h1.55M183 227h1.55M207 218h1.55M186 232h1.55M174 235h1.55M180 230h1.55M179 240h1.55M195 228h1.55M198 223h1.55M180 232h1.55M202 228h1.55M205 216h1.55M201 228h1.55M186 232h1.55M203 225h1.55M187 238h1.55M188 227h1.55M178 238h1.55M192 220h1.55M197 224h1.55M183 236h1.55M185 230h1.55M187 223h1.55M195 228h1.55M202 216h1.55M193 228h1.55M177 240h1.55M200 224h1.55M180 234h1.55M192 224h1.55M194 219h1.55M182 229h1.55M181 230h1.55M192 225h1.55M199 222h1.55M199 218h1.55M193 228h1.55M186 233h1.55M189 228h1.55M215 209h1.55M199 225h1.55M186 232h1.55M195 229h1.55M206 220h1.55M204 228h1.55M190 226h1.55M191 224h1.55M193 225h1.55M176 239h1.55M170 238h1.55M194 226h1.55M185 233h1.55M203 212h1.55M188 224h1.55M181 241h1.55M189 232h1.55M186 230h1.55M218 212h1.55M191 226h1.55M189 225h1.55M208 221h1.55M193 227h1.55M197 229h1.55M181 243h1.55M195 224h1.55M196 233h1.55M189 231h1.55M181 237h1.55M196 222h1.55M190 226h1.55M186 230h1.55M190 225h1.55M191 228h1.55M191 230h1.55M209 213h1.55M206 224h1.55M195 221h1.55M204 213h1.55M200 226h1.55M183 231h1.55M197 227h1.55M189 230h1.55M191 226h1.55M191 232h1.55M198 216h1.55M188 225h1.55M193 223h1.55M196 227h1.55M194 221h1.55M206 214h1.55M189 231h1.55M184 231h1.55M189 225h1.55M210 215h1.55M196 222h1.55M194 226h1.55M192 230h1.55M193 226h1.55M195 228h1.55M191 227h1.55M198 227h1.55M193 222h1.55M197 225h1.55M187 230h1.55M194 219h1.55M191 230h1.55M194 224h1.55M185 234h1.55M189 226h1.55M183 236h1.55M197 228h1.55M191 225h1.55M192 231h1.55M191 228h1.55M195 228h1.55M203 226h1.55M190 228h1.55M200 223h1.55M197 226h1.55M194 218h1.55M187 228h1.55M181 229h1.55M201 220h1.55M181 232h1.55M199 218h1.55M201 228h1.55M183 227h1.55M179 231h1.55M205 215h1.55M201 222h1.55M181 234h1.55M189 228h1.55M197 224h1.55M192 225h1.55M195 224h1.55M190 230h1.55M202 219h1.55M183 235h1.55M191 229h1.55M202 224h1.55M195 224h1.55M181 233h1.55M189 226h1.55M187 229h1.55M179 239h1.55M196 220h1.55M192 229h1.55M204 227h1.55M183 229h1.55M198 226h1.55M173 233h1.55M194 229h1.55M190 224h1.55M167 238h1.55M201 229h1.55M201 228h1.55M200 220h1.55M211 216h1.55M189 224h1.55M187 233h1.55M188 229h1.55M181 232h1.55M195 224h1.55M206 219h1.55M203 221h1.55M201 228h1.55M193 226h1.55M188 231h1.55M189 231h1.55M174 241h1.55M187 232h1.55M182 233h1.55M198 223h1.55M184 226h1.55M197 219h1.55M201 222h1.55M188 225h1.55M187 230h1.55M193 224h1.55M187 226h1.55M188 226h1.55M199 219h1.55M199 226h1.55M181 236h1.55M192 220h1.55M180 233h1.55M185 234h1.55M187 227h1.55M191 222h1.55M181 230h1.55M199 222h1.55M196 226h1.55M183 234h1.55M184 225h1.55M192 225h1.55M199 225h1.55M198 221h1.55M177 234h1.55M195 223h1.55M205 219h1.55M194 222h1.55M181 229h1.55M181 239h1.55M197 227h1.55M193 232h1.55M194 230h1.55M197 229h1.55M195 225h1.55M192 227h1.55M195 230h1.55M169 241h1.55M184 233h1.55M198 230h1.55M186 233h1.55M182 232h1.55M191 230h1.55M181 230h1.55M184 229h1.55M198 230h1.55M182 233h1.55M192 223h1.55M196 220h1.55M188 230h1.55M198 224h1.55M203 226h1.55M197 224h1.55M173 235h1.55M194 225h1.55M183 234h1.55M205 221h1.55M164 248h1.55M181 234h1.55M189 232h1.55M182 229h1.55M188 233h1.55M197 221h1.55M181 231h1.55M177 240h1.55M201 222h1.55M179 233h1.55M199 222h1.55M177 238h1.55M193 223h1.55M207 218h1.55M187 230h1.55M203 223h1.55M207 228h1.55M199 225h1.55M194 223h1.55M181 234h1.55M192 224h1.55M185 235h1.55M190 229h1.55M177 233h1.55M184 226h1.55M198 222h1.55M199 226h1.55M189 230h1.55M180 234h1.55M187 224h1.55M164 247h1.55M184 233h1.55M194 224h1.55M192 228h1.55M194 223h1.55M176 238h1.55M182 238h1.55M192 226h1.55M194 229h1.55M191 231h1.55M193 223h1.55M203 214h1.55M185 233h1.55M183 231h1.55M206 214h1.55M175 243h1.55M179 233h1.55M190 226h1.55M207 220h1.55M195 227h1.55M177 242h1.55M170 240h1.55M190 224h1.55M191 230h1.55M176 236h1.55M190 225h1.55M187 228h1.55M198 223h1.55M188 230h1.55M183 233h1.55M188 228h1.55M200 216h1.55M186 228h1.55M192 223h1.55M191 226h1.55M189 232h1.55M196 219h1.55M196 222h1.55M194 227h1.55M175 235h1.55M194 227h1.55M181 229h1.55M173 232h1.55M185 231h1.55M186 229h1.55M191 230h1.55M201 223h1.55M186 228h1.55M187 231h1.55M195 226h1.55M181 234h1.55M186 223h1.55M180 230h1.55M185 232h1.55M188 228h1.55M195 217h1.55M183 227h1.55M198 219h1.55M183 229h1.55M189 227h1.55M188 227h1.55M198 218h1.55M187 225h1.55M205 222h1.55M206 223h1.55M194 222h1.55M203 218h1.55M188 232h1.55M179 232h1.55M190 230h1.55M197 226h1.55M188 231h1.55M202 214h1.55M193 232h1.55M193 225h1.55M193 223h1.55M187 226h1.55M198 222h1.55M188 231h1.55M199 226h1.55M191 230h1.55M178 233h1.55M191 227h1.55M201 226h1.55M190 227h1.55M200 226h1.55M197 222h1.55M200 216h1.55M192 228h1.55M190 232h1.55M194 232h1.55M189 226h1.55M200 223h1.55M204 221h1.55M193 233h1.55M186 233h1.55M202 218h1.55M181 231h1.55M195 225h1.55M192 228h1.55M190 235h1.55M188 224h1.55M203 220h1.55M185 232h1.55M198 221h1.55M186 229h1.55M188 227h1.55M190 233h1.55M190 225h1.55M182 233h1.55M199 223h1.55M196 220h1.55M180 228h1.55M178 237h1.55M195 219h1.55M185 234h1.55M196 231h1.55M195 222h1.55M186 228h1.55M197 222h1.55M193 220h1.55M187 229h1.55M185 227h1.55M187 228h1.55M192 226h1.55M205 218h1.55M201 217h1.55M202 220h1.55M197 220h1.55M186 230h1.55M190 228h1.55M203 222h1.55M181 241h1.55M189 231h1.55M190 225h1.55M205 217h1.55M196 227h1.55M193 220h1.55M205 225h1.55M195 218h1.55M200 227h1.55M187 227h1.55M196 227h1.55M182 229h1.55M178 230h1.55M191 226h1.55M181 236h1.55M199 227h1.55M210 220h1.55M181 233h1.55M194 222h1.55M188 230h1.55M190 230h1.55M169 238h1.55M193 225h1.55M185 230h1.55M191 227h1.55M203 226h1.55M195 229h1.55M186 225h1.55M182 233h1.55M185 228h1.55M186 237h1.55M196 225h1.55M187 226h1.55M185 233h1.55M191 225h1.55M185 227h1.55M210 216h1.55M210 223h1.55M203 221h1.55M193 227h1.55M188 234h1.55M186 226h1.55M201 222h1.55M188 232h1.55M178 228h1.55M198 220h1.55M183 243h1.55M172 243h1.55M194 220h1.55M209 224h1.55M184 226h1.55M174 239h1.55M163 244h1.55M182 235h1.55M180 231h1.55M162 251h1.55M190 233h1.55M217 210h1.55M176 232h1.55M212 217h1.55M191 232h1.55M190 231h1.55M211 212h1.55M187 240h1.55M211 223h1.55M208 226h1.55M181 252h1.55M196 251h1.55M188 232h1.55M182 236h1.55M158 254h1.55M184 239h1.55M206 230h1.55M189 226h1.55M177 231h1.55M208 225h1.55M183 251h1.55M190 228h1.55M179 229h1.55M150 254h1.55M190 230h1.55M184 241h1.55M176 235h1.55M202 229h1.55M210 225h1.55M199 216h1.55M183 233h1.55M162 242h1.55M211 213h1.55M184 229h1.55M196 221h1.55M184 239h1.55M144 262h1.55M192 226h1.55M161 253h1.55M216 224h1.55M175 249h1.55M208 238h1.55M216 217h1.55M192 239h1.55M179 242h1.55M171 243h1.55M201 216h1.55M169 240h1.55M179 229h1.55M166 239h1.55M175 241h1.55M189 224h1.55M190 241h1.55M204 222h1.55M212 220h1.55M196 220h1.55M204 213h1.55M201 225h1.55M186 227h1.55M187 237h1.55M175 232h1.55M164 258h1.55M182 238h1.55M196 252h1.55M182 235h1.55M211 235h1.55M179 229h1.55M211 225h1.55M200 224h1.55M180 243h1.55M184 240h1.55M203 214h1.55M210 210h1.55M178 240h1.55M184 231h1.55M211 220h1.55M193 225h1.55M170 252h1.55M181 228h1.55M190 222h1.55M190 232h1.55M200 232h1.55M165 247h1.55M164 250h1.55M177 242h1.55M190 236h1.55M188 247h1.55M194 234h1.55M208 246h1.55M172 236h1.55M146 260h1.55M188 227h1.55M159 245h1.55M195 235h1.55M200 221h1.55M190 232h1.55M196 222h1.55M205 212h1.55M177 238h1.55M205 221h1.55M191 221h1.55M196 249h1.55M188 226h1.55M193 233h1.55M209 216h1.55M180 242h1.55M199 233h1.55" stroke="#f23632" stroke-width="1.55" stroke-opacity="0.66" fill="none"/><path d="M52.2 0.0V135.8H188.2M60.2 135.8v1.8M68.1 135.8v1.8M76.1 135.8v1.8M92.0 135.8v1.8M99.9 135.8v1.8M107.8 135.8v1.8M123.8 135.8v1.8M131.7 135.8v1.8M139.7 135.8v1.8M155.6 135.8v1.8M163.5 135.8v1.8M171.4 135.8v1.8M187.4 135.8v1.8M52.2 123.4h-2.2M52.2 116.2h-2.2M52.2 111.1h-2.2M52.2 107.1h-2.2M52.2 103.8h-2.2M52.2 101.1h-2.2M52.2 98.7h-2.2M52.2 96.6h-2.2M52.2 82.3h-2.2M52.2 75.1h-2.2M52.2 70.0h-2.2M52.2 66.0h-2.2M52.2 62.7h-2.2M52.2 60.0h-2.2M52.2 57.6h-2.2M52.2 55.5h-2.2M52.2 41.2h-2.2M52.2 34.0h-2.2M52.2 28.9h-2.2M52.2 24.9h-2.2M52.2 21.6h-2.2M52.2 18.9h-2.2M52.2 16.5h-2.2M52.2 14.4h-2.2M52.2 0.1h-2.2" fill="none" stroke="#3a3a3a" stroke-width="0.75"/><path d="M52.2 135.8v4.2M84.0 135.8v4.2M115.8 135.8v4.2M147.6 135.8v4.2M179.4 135.8v4.2M52.2 135.8h-4.6M52.2 94.7h-4.6M52.2 53.6h-4.6M52.2 12.5h-4.6" fill="none" stroke="#111" stroke-width="1.1"/><text x="52.2" y="147.1" text-anchor="middle" class="tk">0</text><text x="84.0" y="147.1" text-anchor="middle" class="tk">200</text><text x="115.8" y="147.1" text-anchor="middle" class="tk">400</text><text x="147.6" y="147.1" text-anchor="middle" class="tk">600</text><text x="179.4" y="147.1" text-anchor="middle" class="tk">800</text><text x="43.9" y="135.1" text-anchor="end" class="tk">10<tspan dy="-2.4" font-size="3.8">0</tspan></text><text x="43.9" y="95.5" text-anchor="end" class="tk">10<tspan dy="-2.4" font-size="3.8">1</tspan></text><text x="43.9" y="56.0" text-anchor="end" class="tk">10<tspan dy="-2.4" font-size="3.8">2</tspan></text><text x="43.9" y="16.4" text-anchor="end" class="tk">10<tspan dy="-2.4" font-size="3.8">3</tspan></text></g><g><path transform="scale(.5)" d="M556 143h1.55M553 146h1.55M553 140h1.55M552 152h1.55M539 157h1.55M536 150h1.55M576 159h1.55M547 156h1.55M567 149h1.55M555 158h1.55M556 151h1.55M545 132h1.55M567 147h1.55M562 120h1.55M569 151h1.55M558 134h1.55M567 149h1.55M562 159h1.55M555 151h1.55M554 131h1.55M558 133h1.55M561 163h1.55M579 151h1.55M556 134h1.55M581 142h1.55M579 150h1.55M570 156h1.55M575 151h1.55M571 159h1.55M580 126h1.55M555 146h1.55M545 150h1.55M536 141h1.55M557 133h1.55M559 149h1.55M546 140h1.55M559 160h1.55M535 138h1.55M558 147h1.55M551 153h1.55M559 144h1.55M538 120h1.55M575 166h1.55M559 134h1.55M551 163h1.55M568 152h1.55M557 128h1.55M558 131h1.55M549 168h1.55M554 151h1.55M569 140h1.55M530 162h1.55M553 155h1.55M550 151h1.55M563 163h1.55M546 158h1.55M578 146h1.55M536 143h1.55M575 163h1.55M540 143h1.55M559 139h1.55M583 136h1.55M575 150h1.55M582 152h1.55M567 169h1.55M552 138h1.55M546 153h1.55M526 154h1.55M539 148h1.55M553 155h1.55M554 152h1.55M559 149h1.55M575 133h1.55M519 135h1.55M555 143h1.55M545 141h1.55M568 152h1.55M541 142h1.55M567 156h1.55M528 162h1.55M564 132h1.55M545 154h1.55M542 144h1.55M545 129h1.55M568 148h1.55M552 136h1.55M553 151h1.55M559 134h1.55M581 148h1.55M541 158h1.55M556 139h1.55M518 143h1.55M565 143h1.55M536 147h1.55M552 158h1.55M567 131h1.55M561 140h1.55M574 144h1.55M551 130h1.55M550 151h1.55M564 150h1.55M543 136h1.55M559 154h1.55M549 141h1.55M571 143h1.55M576 145h1.55M582 134h1.55M542 149h1.55M564 146h1.55M543 142h1.55M559 163h1.55M540 152h1.55M573 145h1.55M561 135h1.55M555 146h1.55M557 136h1.55M548 143h1.55M548 146h1.55M576 153h1.55M566 145h1.55M562 140h1.55M559 140h1.55M587 151h1.55M542 140h1.55M563 124h1.55M549 139h1.55M551 152h1.55M551 156h1.55M545 151h1.55M556 146h1.55M572 155h1.55M558 156h1.55M572 155h1.55M554 155h1.55M576 157h1.55M542 152h1.55M554 157h1.55M576 150h1.55M528 151h1.55M540 155h1.55M552 156h1.55M553 151h1.55M565 118h1.55M549 152h1.55M574 126h1.55M571 148h1.55M588 142h1.55M577 150h1.55M539 133h1.55M547 159h1.55M562 156h1.55M569 144h1.55M556 152h1.55M579 129h1.55M577 158h1.55M584 142h1.55M584 138h1.55M550 165h1.55M547 134h1.55M550 129h1.55M539 141h1.55M559 161h1.55M565 150h1.55M557 169h1.55M544 155h1.55M557 155h1.55M590 147h1.55M562 149h1.55M577 138h1.55M576 161h1.55M561 147h1.55M569 152h1.55M562 156h1.55M553 143h1.55M552 156h1.55M556 143h1.55M566 158h1.55M554 159h1.55M541 122h1.55M576 137h1.55M554 137h1.55M581 131h1.55M571 156h1.55M594 134h1.55M572 141h1.55M565 150h1.55M531 130h1.55M597 137h1.55M569 145h1.55M571 147h1.55M557 140h1.55M532 134h1.55M553 141h1.55M566 128h1.55M586 158h1.55M544 146h1.55M534 142h1.55M558 155h1.55M573 155h1.55M548 148h1.55M572 147h1.55M554 145h1.55M555 167h1.55M572 140h1.55M575 143h1.55M568 164h1.55M540 169h1.55M577 152h1.55M579 140h1.55M552 148h1.55M547 152h1.55M563 139h1.55M553 164h1.55M577 157h1.55M571 162h1.55M547 169h1.55M568 141h1.55M604 122h1.55M563 168h1.55M555 144h1.55M564 144h1.55M544 151h1.55M588 150h1.55M554 160h1.55M548 135h1.55M565 152h1.55M553 138h1.55M551 156h1.55M557 175h1.55M577 154h1.55M570 146h1.55M575 151h1.55M596 137h1.55M555 144h1.55M529 162h1.55M528 153h1.55M591 140h1.55M539 166h1.55M564 139h1.55M554 131h1.55M560 125h1.55M569 123h1.55M518 143h1.55M569 129h1.55M568 142h1.55M564 144h1.55M566 129h1.55M535 154h1.55M538 155h1.55M563 144h1.55M564 138h1.55M566 150h1.55M558 158h1.55M552 149h1.55M566 163h1.55M576 146h1.55M536 151h1.55M568 145h1.55M554 157h1.55M562 145h1.55M564 151h1.55M579 165h1.55M561 165h1.55M530 148h1.55M572 149h1.55M566 148h1.55M577 152h1.55M567 143h1.55M534 137h1.55M551 160h1.55M548 139h1.55M552 139h1.55M545 146h1.55M533 153h1.55M579 151h1.55M564 166h1.55M584 147h1.55M566 151h1.55M544 152h1.55M555 159h1.55M558 158h1.55M555 178h1.55M544 145h1.55M563 149h1.55M563 128h1.55M564 145h1.55M557 144h1.55M571 170h1.55M589 134h1.55M567 153h1.55M558 155h1.55M580 152h1.55M535 152h1.55M546 146h1.55M562 156h1.55M536 153h1.55M540 151h1.55M562 151h1.55M562 151h1.55M585 164h1.55M542 137h1.55M540 142h1.55M556 148h1.55M538 154h1.55M559 170h1.55M560 152h1.55M525 149h1.55M555 164h1.55M576 147h1.55M543 159h1.55M564 153h1.55M571 160h1.55M562 142h1.55M567 155h1.55M546 161h1.55M562 169h1.55M601 146h1.55M577 149h1.55M579 148h1.55M573 135h1.55M565 160h1.55M565 145h1.55M555 150h1.55M571 169h1.55M565 130h1.55M548 136h1.55M552 151h1.55M554 148h1.55M548 155h1.55M556 158h1.55M557 137h1.55M546 147h1.55M549 161h1.55M559 151h1.55M573 139h1.55M561 154h1.55M580 160h1.55M547 141h1.55M564 140h1.55M555 140h1.55M578 166h1.55M565 137h1.55M545 159h1.55M563 141h1.55M560 165h1.55M562 148h1.55M552 137h1.55M527 150h1.55M549 142h1.55M552 130h1.55M562 153h1.55M535 153h1.55M556 131h1.55M564 145h1.55M545 147h1.55M546 164h1.55M566 152h1.55M538 138h1.55M576 141h1.55M536 159h1.55M544 146h1.55M607 133h1.55M558 157h1.55M539 157h1.55M561 150h1.55M566 141h1.55M541 141h1.55M557 131h1.55M557 152h1.55M556 135h1.55M565 135h1.55M573 143h1.55M593 145h1.55M554 136h1.55M541 146h1.55M574 155h1.55M532 165h1.55M573 120h1.55M547 163h1.55M539 133h1.55M569 139h1.55M547 142h1.55M547 143h1.55M549 162h1.55M552 144h1.55M564 153h1.55M574 163h1.55M529 144h1.55M556 148h1.55M551 143h1.55M560 133h1.55M546 162h1.55M557 150h1.55M556 171h1.55M562 129h1.55M563 134h1.55M567 144h1.55M563 135h1.55M565 140h1.55M558 155h1.55M564 151h1.55M569 170h1.55M583 131h1.55M580 141h1.55M544 153h1.55M541 145h1.55M559 145h1.55M533 166h1.55M525 135h1.55M566 146h1.55M555 167h1.55M553 152h1.55M545 138h1.55M529 148h1.55M569 137h1.55M539 179h1.55M577 130h1.55M556 150h1.55M562 135h1.55M561 150h1.55M561 143h1.55M589 144h1.55M543 128h1.55M579 129h1.55M545 155h1.55M539 150h1.55M577 135h1.55M559 144h1.55M566 148h1.55M544 156h1.55M584 154h1.55M541 142h1.55M554 151h1.55M561 148h1.55M533 139h1.55M560 128h1.55M572 152h1.55M553 155h1.55M525 142h1.55M548 137h1.55M561 148h1.55M583 154h1.55M585 148h1.55M589 131h1.55M549 128h1.55M564 142h1.55M553 148h1.55M553 151h1.55M569 137h1.55M576 132h1.55M557 139h1.55M554 141h1.55M567 141h1.55M548 160h1.55M585 152h1.55M549 143h1.55M553 142h1.55M580 161h1.55M559 140h1.55M537 141h1.55M580 144h1.55M566 149h1.55M574 150h1.55M560 154h1.55M547 135h1.55M557 137h1.55M537 162h1.55M543 127h1.55M573 121h1.55M551 140h1.55M564 149h1.55M567 146h1.55M568 165h1.55M544 159h1.55M582 134h1.55M544 142h1.55M552 159h1.55M542 116h1.55M560 147h1.55M577 141h1.55M540 125h1.55M590 134h1.55M546 148h1.55M562 158h1.55M597 142h1.55M551 150h1.55M557 174h1.55M560 133h1.55M561 141h1.55M560 165h1.55M567 138h1.55M545 160h1.55M552 161h1.55M523 154h1.55M550 146h1.55M577 154h1.55M536 150h1.55M567 130h1.55M572 143h1.55M561 165h1.55M568 137h1.55M558 150h1.55M564 141h1.55M566 141h1.55M537 155h1.55M534 140h1.55M597 151h1.55M556 144h1.55M547 129h1.55M559 123h1.55M592 138h1.55M546 133h1.55M556 155h1.55M554 134h1.55M547 150h1.55M572 148h1.55M570 132h1.55M553 160h1.55M540 134h1.55M567 145h1.55M552 135h1.55M549 118h1.55M565 163h1.55M574 142h1.55M559 148h1.55M577 150h1.55M582 152h1.55M574 161h1.55M574 155h1.55M554 139h1.55M547 142h1.55M557 132h1.55M571 142h1.55M557 156h1.55M579 147h1.55M541 157h1.55M532 159h1.55M552 144h1.55M571 136h1.55M533 154h1.55M567 142h1.55M559 155h1.55M569 146h1.55M555 148h1.55M555 144h1.55M574 144h1.55M549 149h1.55M556 141h1.55M568 128h1.55M573 163h1.55M548 161h1.55M560 121h1.55M566 152h1.55M578 138h1.55M548 158h1.55M579 136h1.55M529 158h1.55M568 160h1.55M559 156h1.55M535 155h1.55M550 144h1.55M533 146h1.55M555 164h1.55M577 150h1.55M563 129h1.55M563 136h1.55M562 153h1.55M563 163h1.55M565 137h1.55M566 153h1.55M542 156h1.55M556 163h1.55M587 153h1.55M561 152h1.55M563 170h1.55M544 149h1.55M558 143h1.55M550 139h1.55M562 147h1.55M558 135h1.55M556 130h1.55M560 144h1.55M558 144h1.55M566 153h1.55M567 118h1.55M566 145h1.55M548 156h1.55M546 145h1.55M547 130h1.55M553 157h1.55M545 149h1.55M555 137h1.55M548 144h1.55M573 148h1.55M533 147h1.55M573 141h1.55M561 168h1.55M582 146h1.55M542 152h1.55M561 146h1.55M543 122h1.55M576 134h1.55M568 150h1.55M543 162h1.55M574 144h1.55M585 169h1.55M577 140h1.55M550 138h1.55M549 151h1.55M566 144h1.55M562 144h1.55M574 155h1.55M530 160h1.55M521 129h1.55M549 148h1.55M564 155h1.55M551 145h1.55M558 138h1.55M556 154h1.55M539 167h1.55M562 143h1.55M551 134h1.55M519 144h1.55M542 152h1.55M556 155h1.55M554 144h1.55M593 143h1.55M568 137h1.55M544 143h1.55M552 138h1.55M549 136h1.55M546 153h1.55M570 135h1.55M569 124h1.55M573 145h1.55M573 154h1.55M570 141h1.55M557 155h1.55M576 167h1.55M558 162h1.55M554 152h1.55M547 155h1.55M561 125h1.55M584 146h1.55M552 141h1.55M548 164h1.55M580 181h1.55M588 162h1.55M523 177h1.55M567 173h1.55M532 163h1.55M593 154h1.55M554 168h1.55M584 183h1.55M583 165h1.55M559 166h1.55M567 195h1.55M593 180h1.55M518 172h1.55M555 179h1.55M545 165h1.55M524 201h1.55M557 144h1.55M572 188h1.55M524 165h1.55M568 175h1.55M568 161h1.55M562 146h1.55M525 197h1.55M549 200h1.55M598 160h1.55M562 157h1.55M548 159h1.55M549 161h1.55M563 146h1.55M527 203h1.55M543 197h1.55M561 154h1.55M544 155h1.55M579 185h1.55M565 143h1.55M567 168h1.55M568 162h1.55M555 177h1.55M530 138h1.55M591 172h1.55M536 171h1.55M592 168h1.55M534 160h1.55M566 192h1.55M551 174h1.55M531 175h1.55M580 148h1.55M581 154h1.55M552 163h1.55M583 170h1.55M571 187h1.55M559 186h1.55M531 172h1.55M545 174h1.55M539 176h1.55M552 164h1.55M561 134h1.55M556 148h1.55M548 198h1.55M547 188h1.55M573 156h1.55M561 195h1.55M562 184h1.55M589 156h1.55M611 105h1.55M548 128h1.55M536 118h1.55M553 159h1.55M591 147h1.55M595 164h1.55M522 179h1.55M534 162h1.55M514 206h1.55M531 179h1.55M581 177h1.55M530 192h1.55M548 152h1.55M553 146h1.55M608 177h1.55M583 199h1.55M541 168h1.55M561 168h1.55M524 201h1.55M537 190h1.55M519 186h1.55M570 184h1.55M586 165h1.55M581 190h1.55M568 205h1.55M547 172h1.55M603 159h1.55M544 155h1.55M559 175h1.55M556 154h1.55M599 199h1.55M561 185h1.55M547 125h1.55M578 182h1.55M527 132h1.55M597 144h1.55M566 190h1.55M591 174h1.55M563 178h1.55M535 209h1.55M513 211h1.55M547 182h1.55M557 185h1.55M546 183h1.55M531 150h1.55M549 153h1.55M570 179h1.55M531 190h1.55M505 196h1.55M605 138h1.55M569 168h1.55M586 167h1.55M581 151h1.55M600 143h1.55M541 165h1.55M579 156h1.55M605 159h1.55M544 158h1.55M583 171h1.55M568 170h1.55M561 167h1.55M545 162h1.55M557 137h1.55M563 172h1.55M519 132h1.55M554 188h1.55M551 177h1.55M547 139h1.55M547 183h1.55M544 164h1.55M516 162h1.55M555 208h1.55M596 197h1.55M572 172h1.55M537 162h1.55M558 188h1.55M578 170h1.55M562 194h1.55M528 192h1.55M565 183h1.55M565 180h1.55M551 178h1.55M557 180h1.55M542 157h1.55M577 146h1.55M571 163h1.55M556 159h1.55M542 181h1.55M564 177h1.55M529 183h1.55M550 191h1.55M566 150h1.55M563 200h1.55M553 181h1.55M535 194h1.55M562 188h1.55M572 202h1.55M574 188h1.55M559 175h1.55M540 156h1.55M516 180h1.55M572 178h1.55M560 201h1.55M554 172h1.55M543 178h1.55M552 200h1.55M558 193h1.55M579 189h1.55M587 170h1.55M559 192h1.55M570 196h1.55M520 174h1.55M505 161h1.55M537 144h1.55M554 139h1.55M526 192h1.55M564 187h1.55M558 179h1.55M564 142h1.55M523 146h1.55M527 201h1.55M568 177h1.55M570 165h1.55M583 176h1.55M555 183h1.55M553 193h1.55M556 170h1.55M564 155h1.55M545 182h1.55M543 170h1.55M557 188h1.55M537 170h1.55M566 184h1.55M545 174h1.55M514 198h1.55M556 148h1.55M570 201h1.55M577 178h1.55M564 148h1.55M561 171h1.55M553 172h1.55M528 154h1.55M569 152h1.55M550 158h1.55M566 117h1.55M583 188h1.55M534 161h1.55M564 162h1.55M561 193h1.55M552 125h1.55M576 191h1.55M526 127h1.55M573 184h1.55M570 181h1.55M532 178h1.55M561 145h1.55M522 149h1.55M573 150h1.55M564 155h1.55M534 169h1.55M523 198h1.55M604 128h1.55M562 163h1.55M555 162h1.55M565 195h1.55M537 183h1.55M554 125h1.55M511 137h1.55M548 187h1.55M544 128h1.55M534 189h1.55M564 152h1.55M564 172h1.55M582 193h1.55M593 180h1.55M568 194h1.55M538 157h1.55M569 177h1.55M559 101h1.55M582 189h1.55M560 194h1.55M595 133h1.55M516 169h1.55M543 145h1.55M567 191h1.55M546 177h1.55M593 166h1.55M546 187h1.55M576 179h1.55M591 148h1.55M559 173h1.55M575 137h1.55M550 170h1.55M527 186h1.55M560 177h1.55M553 154h1.55M568 155h1.55M546 190h1.55M523 175h1.55M556 174h1.55M566 179h1.55M524 167h1.55M553 154h1.55M559 185h1.55M558 190h1.55M560 204h1.55M554 148h1.55M572 202h1.55M548 195h1.55M520 166h1.55M568 177h1.55M585 153h1.55M543 177h1.55M553 176h1.55M579 142h1.55M526 137h1.55M522 189h1.55M607 150h1.55M581 167h1.55M570 188h1.55M590 174h1.55M532 169h1.55M549 137h1.55M569 165h1.55M537 167h1.55M528 199h1.55M585 163h1.55M534 195h1.55M552 169h1.55M557 157h1.55M517 194h1.55M555 152h1.55M549 208h1.55M537 174h1.55M615 192h1.55M548 193h1.55M579 158h1.55M552 169h1.55M592 175h1.55M531 180h1.55M528 176h1.55M577 180h1.55M571 145h1.55M599 175h1.55M566 155h1.55M570 151h1.55M564 158h1.55M575 160h1.55M568 166h1.55M555 175h1.55M546 188h1.55M585 175h1.55M509 197h1.55M548 149h1.55M561 162h1.55M547 190h1.55M519 168h1.55M560 191h1.55M553 151h1.55M574 154h1.55M581 165h1.55M557 175h1.55M563 173h1.55M540 191h1.55M584 179h1.55M548 143h1.55M536 180h1.55M550 188h1.55M550 164h1.55M547 156h1.55M578 195h1.55M559 179h1.55M578 164h1.55M577 135h1.55M572 164h1.55M585 172h1.55M544 156h1.55M573 184h1.55M553 205h1.55M604 174h1.55M549 190h1.55M545 175h1.55M554 158h1.55M593 167h1.55M535 134h1.55M542 162h1.55M563 177h1.55M534 176h1.55M553 135h1.55M517 150h1.55M541 199h1.55M546 141h1.55M549 159h1.55M558 199h1.55M553 167h1.55M532 136h1.55M555 166h1.55M527 193h1.55M558 158h1.55M576 203h1.55M529 206h1.55M529 178h1.55M556 177h1.55M537 172h1.55M555 180h1.55M562 180h1.55M547 152h1.55M572 171h1.55M553 145h1.55M532 175h1.55M562 182h1.55M544 197h1.55M552 156h1.55M555 202h1.55M560 147h1.55M565 184h1.55M549 184h1.55M529 160h1.55M541 135h1.55M585 181h1.55M615 175h1.55M555 167h1.55M549 180h1.55M570 191h1.55M556 182h1.55M587 154h1.55M559 198h1.55M557 194h1.55M547 170h1.55M570 150h1.55M543 174h1.55M552 158h1.55M600 144h1.55M575 166h1.55M564 177h1.55M552 160h1.55M624 156h1.55M532 189h1.55M572 157h1.55M558 163h1.55M533 147h1.55M513 192h1.55M542 189h1.55M561 172h1.55M569 130h1.55M572 193h1.55M560 192h1.55M541 188h1.55M581 189h1.55M567 190h1.55M571 147h1.55M522 166h1.55M536 172h1.55M551 158h1.55M521 140h1.55M567 188h1.55M578 141h1.55M570 184h1.55M543 198h1.55M591 167h1.55M558 183h1.55M585 178h1.55M538 172h1.55M528 138h1.55M511 176h1.55M566 163h1.55M556 178h1.55M632 154h1.55M597 168h1.55M596 168h1.55M575 141h1.55M574 129h1.55M526 193h1.55M556 181h1.55M570 175h1.55M573 190h1.55M515 143h1.55M561 166h1.55M530 171h1.55M554 165h1.55M555 152h1.55M589 177h1.55M545 161h1.55M528 197h1.55M600 173h1.55M557 202h1.55M571 183h1.55M530 173h1.55M547 129h1.55M556 192h1.55M591 163h1.55M570 136h1.55M570 166h1.55M533 185h1.55M544 182h1.55M573 176h1.55M568 182h1.55M591 145h1.55M530 191h1.55M567 183h1.55M555 171h1.55M513 167h1.55M572 194h1.55M553 178h1.55M551 176h1.55M523 181h1.55M564 165h1.55M569 186h1.55M556 154h1.55M558 170h1.55M556 164h1.55M529 182h1.55M579 191h1.55M571 183h1.55M553 201h1.55M532 154h1.55M525 179h1.55M518 138h1.55M576 189h1.55M533 186h1.55M557 138h1.55M593 190h1.55M558 154h1.55M544 189h1.55M583 201h1.55M558 177h1.55M551 176h1.55M518 165h1.55M539 135h1.55M602 177h1.55M593 136h1.55M541 185h1.55M586 186h1.55M531 207h1.55M545 194h1.55M562 169h1.55M555 206h1.55M560 161h1.55M550 146h1.55M543 159h1.55M557 146h1.55M598 193h1.55M513 161h1.55M562 167h1.55M551 193h1.55M581 160h1.55M545 177h1.55M569 202h1.55M541 167h1.55M566 204h1.55M555 131h1.55M576 201h1.55M550 191h1.55M544 197h1.55M545 180h1.55M526 161h1.55M556 132h1.55M571 151h1.55M569 175h1.55M531 166h1.55M562 189h1.55M565 167h1.55M537 147h1.55M546 175h1.55M583 182h1.55M548 167h1.55M552 188h1.55M532 175h1.55M545 159h1.55M579 171h1.55M577 187h1.55M594 180h1.55M556 184h1.55M543 160h1.55M561 194h1.55M574 171h1.55M569 168h1.55M555 196h1.55M585 175h1.55M579 120h1.55M572 119h1.55M539 190h1.55M525 162h1.55M541 186h1.55M572 182h1.55M586 143h1.55M566 136h1.55M568 169h1.55M577 148h1.55M523 157h1.55M601 163h1.55M593 194h1.55M565 189h1.55M538 173h1.55M526 182h1.55M576 188h1.55M531 168h1.55M573 152h1.55M548 186h1.55M583 150h1.55M564 169h1.55M551 163h1.55M573 171h1.55M569 204h1.55M548 142h1.55M568 203h1.55M547 175h1.55M580 123h1.55M557 179h1.55M565 198h1.55M591 195h1.55M575 182h1.55M534 173h1.55M599 194h1.55M565 189h1.55M532 189h1.55M525 160h1.55M525 180h1.55M543 156h1.55M547 182h1.55M591 154h1.55M579 139h1.55M567 166h1.55M548 171h1.55M585 187h1.55M542 132h1.55M534 184h1.55M558 191h1.55M536 145h1.55M556 167h1.55M540 169h1.55M555 184h1.55M554 149h1.55M528 162h1.55M565 178h1.55M540 171h1.55M579 192h1.55M573 171h1.55M574 166h1.55M552 172h1.55M564 185h1.55M554 154h1.55M572 141h1.55M579 176h1.55M529 124h1.55M545 186h1.55M570 191h1.55M560 170h1.55M551 200h1.55M556 166h1.55M536 177h1.55M564 194h1.55M573 203h1.55M580 186h1.55M579 169h1.55M565 204h1.55M579 195h1.55M604 156h1.55M562 174h1.55M570 162h1.55M562 155h1.55M547 141h1.55M570 173h1.55M530 208h1.55M537 151h1.55M528 178h1.55M534 194h1.55M545 177h1.55M573 188h1.55M545 172h1.55M591 159h1.55M546 157h1.55M561 205h1.55M565 137h1.55M530 164h1.55M531 182h1.55M557 183h1.55M552 161h1.55M548 182h1.55M550 171h1.55M540 161h1.55M567 187h1.55M531 187h1.55M577 157h1.55M549 132h1.55M589 157h1.55M589 174h1.55M549 172h1.55M517 183h1.55M541 149h1.55M563 139h1.55M541 146h1.55M558 163h1.55M572 200h1.55M579 181h1.55M572 173h1.55M538 186h1.55M565 180h1.55M589 142h1.55M561 182h1.55M589 168h1.55M589 199h1.55M511 168h1.55M578 175h1.55M552 166h1.55M569 174h1.55M557 170h1.55M578 155h1.55M546 153h1.55M575 183h1.55M559 199h1.55M563 190h1.55M579 142h1.55M554 196h1.55M591 198h1.55M551 185h1.55M562 173h1.55M534 160h1.55M564 166h1.55M584 128h1.55M565 183h1.55M552 179h1.55M537 195h1.55M544 166h1.55M525 195h1.55M534 180h1.55M520 188h1.55M560 166h1.55M546 168h1.55M575 179h1.55M537 191h1.55M563 168h1.55M515 144h1.55M566 170h1.55M599 153h1.55M566 175h1.55M559 155h1.55M513 178h1.55M531 190h1.55M555 185h1.55M540 175h1.55M547 171h1.55M577 190h1.55M557 194h1.55M572 156h1.55M575 148h1.55M564 196h1.55M536 153h1.55M557 158h1.55M546 183h1.55M595 146h1.55M526 197h1.55M556 152h1.55M575 153h1.55M581 155h1.55M580 190h1.55M533 192h1.55M579 141h1.55M535 186h1.55M556 163h1.55M558 142h1.55M564 179h1.55M547 153h1.55M550 165h1.55M553 202h1.55M512 191h1.55M536 161h1.55M553 197h1.55M575 181h1.55M604 176h1.55M562 191h1.55M589 162h1.55M553 178h1.55M552 150h1.55M533 148h1.55M543 177h1.55M603 177h1.55M558 179h1.55M559 172h1.55M552 167h1.55M542 149h1.55M577 197h1.55M547 185h1.55M547 196h1.55M546 160h1.55M578 174h1.55M557 197h1.55M585 181h1.55M540 163h1.55M598 174h1.55M569 187h1.55M574 184h1.55M567 176h1.55M536 181h1.55M568 148h1.55M569 127h1.55M571 132h1.55M573 165h1.55M516 162h1.55M556 184h1.55M523 154h1.55M559 185h1.55M541 181h1.55M564 160h1.55M559 170h1.55M561 184h1.55M583 173h1.55M537 141h1.55M539 189h1.55M561 179h1.55M551 155h1.55M585 199h1.55M603 192h1.55M532 165h1.55M541 205h1.55M573 161h1.55M559 144h1.55M582 181h1.55M545 168h1.55M547 172h1.55M575 166h1.55M520 146h1.55M554 168h1.55M522 183h1.55M523 147h1.55M553 207h1.55M559 196h1.55M563 195h1.55M521 187h1.55M554 194h1.55M568 154h1.55M556 178h1.55M561 154h1.55M566 199h1.55M561 122h1.55M570 166h1.55M566 161h1.55M566 170h1.55M585 172h1.55M517 187h1.55M558 158h1.55M567 158h1.55M566 167h1.55M533 187h1.55M572 136h1.55M544 159h1.55M517 196h1.55M565 192h1.55M512 143h1.55M552 175h1.55M562 132h1.55M543 182h1.55M546 157h1.55M571 137h1.55M553 203h1.55M571 196h1.55M560 142h1.55M555 179h1.55M561 189h1.55M566 179h1.55M564 192h1.55M567 166h1.55M539 181h1.55M531 172h1.55M549 178h1.55M564 180h1.55M556 188h1.55M608 184h1.55M571 178h1.55M601 192h1.55M554 168h1.55M537 132h1.55M561 166h1.55M519 174h1.55M529 169h1.55M566 177h1.55M549 196h1.55M537 145h1.55M541 186h1.55M572 203h1.55M543 153h1.55M560 163h1.55M573 173h1.55M546 146h1.55M528 160h1.55M589 172h1.55M556 199h1.55M570 168h1.55M570 175h1.55M561 188h1.55M581 174h1.55M580 151h1.55M546 203h1.55M578 163h1.55M545 155h1.55M511 172h1.55M546 161h1.55M547 188h1.55M570 165h1.55M524 171h1.55M542 204h1.55M539 195h1.55M603 189h1.55M538 185h1.55M588 179h1.55M573 149h1.55M547 169h1.55M578 166h1.55M590 160h1.55M596 190h1.55M529 194h1.55M549 182h1.55M517 167h1.55M560 154h1.55M574 165h1.55M544 167h1.55M540 129h1.55M531 151h1.55M546 140h1.55M552 203h1.55M544 183h1.55M572 189h1.55M551 124h1.55M555 162h1.55M617 181h1.55M558 183h1.55M566 192h1.55M548 161h1.55M580 163h1.55M602 185h1.55M569 194h1.55M577 185h1.55M585 168h1.55M515 210h1.55M568 157h1.55M577 161h1.55M547 175h1.55M558 175h1.55M583 191h1.55M545 149h1.55M552 165h1.55M545 177h1.55M578 136h1.55M561 189h1.55M550 161h1.55M604 143h1.55M555 178h1.55M560 197h1.55M547 171h1.55M524 201h1.55M528 198h1.55M591 158h1.55M535 192h1.55M526 204h1.55M512 145h1.55M567 145h1.55M570 190h1.55M576 161h1.55M562 202h1.55M513 163h1.55M568 171h1.55M550 173h1.55M533 164h1.55M594 182h1.55M523 183h1.55M511 141h1.55M553 168h1.55M563 186h1.55M546 203h1.55M600 166h1.55M574 139h1.55M553 188h1.55M547 170h1.55M531 160h1.55M555 194h1.55M566 142h1.55M538 184h1.55M551 165h1.55M575 175h1.55M539 193h1.55M568 132h1.55M565 193h1.55M607 140h1.55M578 192h1.55M555 119h1.55M652 172h1.55M573 177h1.55M549 164h1.55M560 177h1.55M624 164h1.55M640 166h1.55M648 167h1.55M583 195h1.55M611 149h1.55M596 139h1.55M624 153h1.55M538 180h1.55M619 182h1.55M655 147h1.55M662 174h1.55M664 126h1.55M607 169h1.55M666 169h1.55M588 146h1.55M600 179h1.55M558 182h1.55M639 105h1.55M567 193h1.55M625 162h1.55M585 170h1.55M649 140h1.55M570 161h1.55M550 154h1.55M524 188h1.55M629 126h1.55M590 149h1.55M624 152h1.55M582 165h1.55M578 185h1.55M617 167h1.55M604 144h1.55M569 152h1.55M554 157h1.55M614 152h1.55M628 155h1.55M528 148h1.55M608 159h1.55M601 157h1.55M597 190h1.55M549 142h1.55M628 178h1.55M661 146h1.55M561 187h1.55M571 149h1.55M630 163h1.55M594 179h1.55M609 182h1.55M635 159h1.55M631 129h1.55M609 146h1.55M613 178h1.55M643 161h1.55M629 168h1.55M649 145h1.55M595 149h1.55M593 181h1.55M600 169h1.55M645 168h1.55M554 148h1.55M636 163h1.55M611 192h1.55M667 161h1.55M517 183h1.55M618 148h1.55M609 158h1.55M594 167h1.55M582 121h1.55M603 161h1.55M521 181h1.55M620 147h1.55M541 177h1.55M663 155h1.55M591 155h1.55M599 174h1.55" stroke="#258f35" stroke-width="1.55" stroke-opacity="0.64" fill="none"/><path transform="scale(.5)" d="M554 215h1.55M570 215h1.55M582 209h1.55M574 213h1.55M591 207h1.55M598 203h1.55M568 214h1.55M576 206h1.55M604 212h1.55M643 199h1.55M585 218h1.55M606 201h1.55M625 208h1.55M592 202h1.55M611 206h1.55M600 207h1.55M559 212h1.55M575 217h1.55M642 203h1.55M618 208h1.55M626 204h1.55M572 222h1.55M611 204h1.55M610 202h1.55M561 209h1.55M564 216h1.55M567 211h1.55M614 200h1.55M587 212h1.55M621 197h1.55M578 213h1.55M597 208h1.55M609 208h1.55M627 205h1.55M589 208h1.55M632 197h1.55M569 211h1.55M572 211h1.55M593 209h1.55M599 204h1.55M643 201h1.55M623 205h1.55M632 201h1.55M566 216h1.55M584 211h1.55M588 205h1.55M580 209h1.55M630 202h1.55M562 215h1.55M552 215h1.55M560 217h1.55M627 198h1.55M603 204h1.55M624 201h1.55M597 202h1.55M622 209h1.55M579 216h1.55M573 216h1.55M564 211h1.55M563 212h1.55M601 216h1.55M591 209h1.55M571 217h1.55M602 200h1.55M562 211h1.55M607 211h1.55M612 208h1.55M570 213h1.55M565 218h1.55M623 206h1.55M568 213h1.55M564 214h1.55M619 203h1.55M572 207h1.55M575 211h1.55M624 202h1.55M565 215h1.55M553 213h1.55M593 215h1.55M628 207h1.55M617 209h1.55M618 202h1.55M569 208h1.55M612 208h1.55M621 210h1.55M623 208h1.55M615 203h1.55M577 212h1.55M592 203h1.55M615 207h1.55M585 209h1.55M590 201h1.55M560 222h1.55M607 203h1.55M568 215h1.55M629 203h1.55M622 203h1.55M568 218h1.55M592 209h1.55M591 214h1.55M565 216h1.55M597 211h1.55M623 206h1.55M580 219h1.55M566 215h1.55M576 215h1.55M613 202h1.55M608 206h1.55M609 213h1.55M624 198h1.55M570 209h1.55M573 210h1.55M563 217h1.55M582 207h1.55M655 195h1.55M608 209h1.55M561 213h1.55M578 206h1.55M588 206h1.55M606 207h1.55M570 212h1.55M587 208h1.55M560 214h1.55M561 208h1.55M618 207h1.55M581 211h1.55M599 205h1.55M624 202h1.55M607 205h1.55M565 214h1.55M573 213h1.55M584 209h1.55M555 212h1.55M622 205h1.55M585 208h1.55M563 216h1.55M600 215h1.55M586 209h1.55M629 206h1.55M574 212h1.55M591 217h1.55M570 216h1.55M620 202h1.55M625 206h1.55M567 213h1.55M623 204h1.55M571 210h1.55M621 199h1.55M616 207h1.55M594 211h1.55M556 217h1.55M614 209h1.55M597 206h1.55M624 203h1.55M594 212h1.55M644 196h1.55M596 209h1.55M596 212h1.55M577 211h1.55M600 207h1.55M604 204h1.55M568 212h1.55M610 208h1.55M577 214h1.55M593 211h1.55M607 208h1.55M646 208h1.55M599 207h1.55M558 213h1.55M569 223h1.55M577 221h1.55M626 204h1.55M557 213h1.55M570 206h1.55M575 212h1.55M558 216h1.55M593 214h1.55M657 192h1.55M630 202h1.55M616 203h1.55M560 223h1.55M557 224h1.55M626 200h1.55M570 213h1.55M587 210h1.55M631 202h1.55M581 213h1.55M596 202h1.55M562 219h1.55M602 209h1.55M588 205h1.55M554 216h1.55M599 209h1.55M613 214h1.55M570 217h1.55M564 217h1.55M557 213h1.55M619 201h1.55M578 212h1.55M609 213h1.55M581 208h1.55M589 207h1.55M567 212h1.55M618 199h1.55M637 205h1.55M558 222h1.55M628 198h1.55M558 218h1.55M609 205h1.55M619 212h1.55M572 221h1.55M632 198h1.55M592 212h1.55M567 212h1.55M587 203h1.55M615 199h1.55M594 215h1.55M574 213h1.55M610 207h1.55M619 202h1.55M605 213h1.55M616 198h1.55M596 218h1.55M568 215h1.55M583 209h1.55M596 201h1.55M600 208h1.55M627 197h1.55M579 214h1.55M588 214h1.55M558 213h1.55M563 209h1.55M567 216h1.55M568 213h1.55M620 208h1.55M626 196h1.55M631 206h1.55M631 210h1.55M595 207h1.55M593 207h1.55M587 208h1.55M595 211h1.55M630 202h1.55M589 206h1.55M600 208h1.55M643 200h1.55M591 205h1.55M576 213h1.55M593 209h1.55M636 203h1.55M570 219h1.55M556 221h1.55M563 209h1.55M626 205h1.55M593 213h1.55M603 211h1.55M596 212h1.55M577 209h1.55M562 217h1.55M599 205h1.55M583 212h1.55M587 217h1.55M624 197h1.55M612 197h1.55M561 214h1.55M617 208h1.55M641 201h1.55M563 216h1.55M603 202h1.55M621 199h1.55M646 199h1.55M558 215h1.55M626 206h1.55M626 196h1.55M627 204h1.55M585 217h1.55M581 208h1.55M564 208h1.55M632 199h1.55M613 203h1.55M570 213h1.55M608 199h1.55M576 218h1.55M618 198h1.55M629 197h1.55M554 216h1.55M622 204h1.55M589 208h1.55M580 212h1.55M597 203h1.55M617 208h1.55M583 215h1.55M602 210h1.55M574 217h1.55M575 206h1.55M563 220h1.55M600 207h1.55M583 219h1.55M593 202h1.55M615 204h1.55M624 205h1.55M566 218h1.55M576 213h1.55M631 203h1.55M628 194h1.55M597 213h1.55M558 216h1.55M577 217h1.55M612 209h1.55M567 211h1.55M575 207h1.55M588 211h1.55M604 204h1.55M557 216h1.55M576 216h1.55M647 193h1.55M575 210h1.55M622 199h1.55M564 211h1.55M615 202h1.55M563 217h1.55M566 206h1.55M632 203h1.55M615 205h1.55M589 203h1.55M563 214h1.55M590 201h1.55M601 210h1.55M582 216h1.55M619 204h1.55M625 197h1.55M608 206h1.55M586 204h1.55M583 212h1.55M577 211h1.55M623 202h1.55M570 222h1.55M559 213h1.55M591 211h1.55M571 207h1.55M577 208h1.55M594 202h1.55M560 214h1.55M605 211h1.55M564 208h1.55M631 206h1.55M566 215h1.55M576 213h1.55M628 204h1.55M586 206h1.55M587 208h1.55M556 222h1.55M602 206h1.55M620 195h1.55M629 199h1.55M598 209h1.55M595 212h1.55M602 207h1.55M601 208h1.55M608 198h1.55M562 215h1.55M611 212h1.55M626 199h1.55M571 223h1.55M571 216h1.55M593 202h1.55M612 203h1.55M607 214h1.55M564 214h1.55M606 200h1.55M548 219h1.55M660 198h1.55M610 209h1.55M551 219h1.55M602 206h1.55M650 204h1.55M633 201h1.55M579 214h1.55M583 206h1.55M619 207h1.55M593 205h1.55M598 207h1.55M617 204h1.55M576 210h1.55M560 220h1.55M605 207h1.55M590 215h1.55M578 218h1.55M557 223h1.55M617 210h1.55M575 216h1.55M593 209h1.55M613 207h1.55M632 194h1.55M619 206h1.55M614 202h1.55M579 213h1.55M562 220h1.55M588 205h1.55M609 202h1.55M599 202h1.55M558 218h1.55M603 207h1.55M624 204h1.55M575 212h1.55M596 210h1.55M564 216h1.55M605 209h1.55M601 211h1.55M641 201h1.55M624 206h1.55M593 208h1.55M629 199h1.55M591 209h1.55M565 214h1.55M566 223h1.55M589 210h1.55M641 202h1.55M582 212h1.55M589 207h1.55M585 212h1.55M558 213h1.55M567 216h1.55M552 211h1.55M617 209h1.55M613 204h1.55M614 204h1.55M595 207h1.55M598 207h1.55M589 204h1.55M576 208h1.55M566 218h1.55M604 199h1.55M633 195h1.55M578 208h1.55M570 206h1.55M585 207h1.55M554 213h1.55M578 211h1.55M604 202h1.55M629 198h1.55M605 203h1.55M617 204h1.55M588 214h1.55M577 205h1.55M597 216h1.55M650 198h1.55M554 209h1.55M584 216h1.55M621 208h1.55M629 204h1.55M635 198h1.55M587 209h1.55M588 211h1.55M584 208h1.55M559 218h1.55M620 211h1.55M632 200h1.55M631 203h1.55M618 202h1.55M604 212h1.55M560 211h1.55M604 205h1.55M600 207h1.55M610 209h1.55M600 205h1.55M601 204h1.55M575 209h1.55M561 216h1.55M628 203h1.55M611 212h1.55M604 204h1.55M630 197h1.55M555 218h1.55M608 208h1.55M621 212h1.55M565 212h1.55M561 216h1.55M559 223h1.55M558 218h1.55M575 208h1.55M623 200h1.55M633 203h1.55M577 212h1.55M612 199h1.55M595 201h1.55M605 201h1.55M573 209h1.55M557 218h1.55M620 204h1.55M572 218h1.55M562 212h1.55M634 193h1.55M604 205h1.55M622 201h1.55M604 198h1.55M619 206h1.55M571 209h1.55M592 202h1.55M605 201h1.55M602 210h1.55M577 212h1.55M565 224h1.55M557 213h1.55M570 214h1.55M559 214h1.55M570 216h1.55M565 206h1.55M578 211h1.55M567 212h1.55M590 202h1.55M564 216h1.55M574 214h1.55M575 216h1.55M562 212h1.55M615 205h1.55M568 212h1.55M633 199h1.55M589 205h1.55M592 215h1.55M604 210h1.55M560 210h1.55M556 222h1.55M625 195h1.55M631 197h1.55M596 206h1.55M607 204h1.55M622 210h1.55M602 205h1.55M574 206h1.55M563 216h1.55M610 205h1.55M618 197h1.55M558 215h1.55M576 210h1.55M630 209h1.55M632 205h1.55M614 207h1.55M564 218h1.55M588 210h1.55M602 206h1.55M592 211h1.55M577 210h1.55M599 210h1.55M625 202h1.55M561 214h1.55M614 208h1.55M555 211h1.55M611 211h1.55M565 217h1.55M557 217h1.55M569 212h1.55M558 216h1.55M629 208h1.55M622 200h1.55M572 207h1.55M561 209h1.55M644 200h1.55M614 212h1.55M627 206h1.55M571 210h1.55M564 218h1.55M562 217h1.55M590 202h1.55M618 195h1.55M619 202h1.55M560 211h1.55M576 205h1.55M630 208h1.55M576 209h1.55M586 215h1.55M624 194h1.55M614 206h1.55M573 210h1.55M587 215h1.55M567 222h1.55M609 212h1.55M607 198h1.55M605 206h1.55M615 199h1.55M631 196h1.55M599 207h1.55M561 218h1.55M594 205h1.55M588 204h1.55M561 219h1.55M578 205h1.55M578 216h1.55M573 213h1.55M595 204h1.55M578 207h1.55M560 218h1.55M566 219h1.55M578 212h1.55M576 205h1.55M609 205h1.55M577 221h1.55M601 203h1.55M570 217h1.55M608 204h1.55M588 209h1.55M612 207h1.55M580 212h1.55M557 212h1.55M575 213h1.55M571 218h1.55M608 208h1.55M596 205h1.55M646 199h1.55M590 206h1.55M588 210h1.55M572 213h1.55M613 201h1.55M564 221h1.55M567 220h1.55M585 210h1.55M559 217h1.55M571 209h1.55M602 204h1.55M598 202h1.55M556 213h1.55M591 205h1.55M601 214h1.55M605 209h1.55M625 199h1.55M593 210h1.55M593 211h1.55M568 213h1.55M600 213h1.55M581 210h1.55M555 216h1.55M633 200h1.55M565 220h1.55M615 200h1.55M604 211h1.55M579 210h1.55M626 202h1.55M565 224h1.55M625 199h1.55M587 211h1.55M575 217h1.55M619 202h1.55M630 203h1.55M576 212h1.55M622 198h1.55M618 212h1.55M557 225h1.55M565 211h1.55M588 219h1.55M602 212h1.55M618 202h1.55M572 215h1.55M577 209h1.55M636 200h1.55M632 199h1.55M612 206h1.55M628 204h1.55M595 206h1.55M558 220h1.55M648 195h1.55M549 219h1.55M581 208h1.55M615 203h1.55M589 213h1.55M612 210h1.55M575 211h1.55M585 212h1.55M577 205h1.55M565 206h1.55M613 201h1.55M563 222h1.55M563 212h1.55M592 205h1.55M624 201h1.55M559 212h1.55M620 203h1.55M611 206h1.55M571 212h1.55M572 212h1.55M622 198h1.55M565 215h1.55M589 205h1.55M555 213h1.55M629 204h1.55M600 207h1.55M563 215h1.55M623 206h1.55M597 210h1.55M605 211h1.55M571 214h1.55M613 205h1.55M578 220h1.55M626 207h1.55M584 204h1.55M592 212h1.55M572 212h1.55M610 209h1.55M624 203h1.55M621 201h1.55M652 197h1.55M593 209h1.55M572 207h1.55M550 217h1.55M601 211h1.55M604 201h1.55M569 214h1.55M559 216h1.55M560 217h1.55M576 214h1.55M599 199h1.55M568 216h1.55M559 213h1.55M575 211h1.55M599 211h1.55M562 215h1.55M611 200h1.55M628 204h1.55M586 212h1.55M547 211h1.55M621 210h1.55M584 211h1.55M597 205h1.55M586 208h1.55M628 206h1.55M570 210h1.55M598 205h1.55M648 199h1.55M616 200h1.55M561 214h1.55M588 217h1.55M611 209h1.55M583 208h1.55M599 211h1.55M574 209h1.55M610 201h1.55M599 211h1.55M559 216h1.55M592 210h1.55M611 210h1.55M595 205h1.55M611 207h1.55M549 215h1.55M573 209h1.55M565 216h1.55M584 212h1.55M576 204h1.55M608 206h1.55M629 201h1.55M581 207h1.55M582 217h1.55M570 220h1.55M562 211h1.55M611 208h1.55M570 209h1.55M592 204h1.55M570 218h1.55M618 199h1.55M551 214h1.55M589 212h1.55M575 210h1.55M585 206h1.55M630 196h1.55M606 200h1.55M553 215h1.55M601 199h1.55M618 202h1.55M579 206h1.55M549 210h1.55M625 208h1.55M594 214h1.55M623 204h1.55M606 200h1.55M576 217h1.55M587 214h1.55M571 211h1.55M573 212h1.55M628 194h1.55M612 199h1.55M636 197h1.55M627 198h1.55M625 196h1.55M567 216h1.55M576 216h1.55M597 208h1.55M594 208h1.55M630 202h1.55M588 205h1.55M550 210h1.55M584 203h1.55M556 213h1.55M564 210h1.55M561 215h1.55M591 215h1.55M617 198h1.55M635 198h1.55M565 207h1.55M572 210h1.55M597 207h1.55M604 210h1.55M612 206h1.55M617 205h1.55M555 210h1.55M562 208h1.55M569 220h1.55M617 200h1.55M557 221h1.55M563 214h1.55M636 209h1.55M562 214h1.55M587 213h1.55M605 203h1.55M595 207h1.55M577 208h1.55M558 214h1.55M633 199h1.55M586 214h1.55M619 203h1.55M561 217h1.55M627 197h1.55M564 222h1.55M593 217h1.55M567 218h1.55M582 211h1.55M583 209h1.55M582 213h1.55M582 218h1.55M589 207h1.55M616 206h1.55M562 211h1.55M583 211h1.55M576 212h1.55M630 204h1.55M555 218h1.55M562 211h1.55M553 221h1.55M596 208h1.55M581 212h1.55M618 210h1.55M557 215h1.55M595 213h1.55M588 217h1.55M611 208h1.55M565 216h1.55M573 216h1.55M637 194h1.55M605 199h1.55M590 207h1.55M557 219h1.55M595 208h1.55M604 201h1.55M551 212h1.55M566 215h1.55M624 207h1.55M609 203h1.55M575 212h1.55M582 209h1.55M605 211h1.55M564 214h1.55M562 216h1.55M618 208h1.55M590 213h1.55M612 205h1.55M617 207h1.55M607 202h1.55M578 212h1.55M561 211h1.55M563 222h1.55M604 210h1.55M552 220h1.55M637 200h1.55M586 215h1.55M613 209h1.55M558 214h1.55M604 202h1.55M613 202h1.55M590 211h1.55M637 193h1.55M567 217h1.55M628 200h1.55M617 209h1.55M566 222h1.55M605 209h1.55M634 204h1.55M571 213h1.55M558 219h1.55M617 209h1.55M617 204h1.55M618 201h1.55M636 198h1.55M573 207h1.55M598 203h1.55M614 209h1.55M568 210h1.55M621 201h1.55M622 209h1.55M560 217h1.55M590 217h1.55M566 217h1.55M625 203h1.55M575 222h1.55M563 214h1.55M609 208h1.55M569 210h1.55M591 213h1.55M622 204h1.55M583 208h1.55M582 209h1.55M619 211h1.55M592 212h1.55M570 214h1.55M583 208h1.55M571 216h1.55M624 203h1.55M588 210h1.55M554 220h1.55M608 200h1.55M557 220h1.55M569 214h1.55M633 207h1.55M609 206h1.55M580 216h1.55M623 202h1.55M625 200h1.55M569 215h1.55M608 204h1.55M610 203h1.55M577 209h1.55M583 213h1.55M562 210h1.55M584 219h1.55M574 216h1.55M566 216h1.55M644 204h1.55M595 214h1.55M571 212h1.55M599 214h1.55M618 203h1.55M582 214h1.55M608 213h1.55M630 198h1.55M597 200h1.55M573 215h1.55M630 200h1.55M589 202h1.55M604 207h1.55M627 202h1.55M581 213h1.55M560 214h1.55M623 208h1.55M637 201h1.55M601 206h1.55M624 206h1.55M567 215h1.55M595 208h1.55M568 216h1.55M579 211h1.55M595 210h1.55M590 209h1.55M574 212h1.55M557 213h1.55M574 216h1.55M582 212h1.55M601 202h1.55M617 210h1.55M554 211h1.55M602 209h1.55M602 214h1.55M610 205h1.55M592 211h1.55M598 212h1.55M600 201h1.55M571 219h1.55M551 220h1.55M574 219h1.55M563 217h1.55M574 215h1.55M628 201h1.55M608 210h1.55M598 208h1.55M610 214h1.55M609 207h1.55M561 210h1.55M579 211h1.55M572 219h1.55M576 215h1.55M647 198h1.55M557 212h1.55M609 207h1.55M594 207h1.55M618 198h1.55M622 205h1.55M636 201h1.55M616 203h1.55M596 214h1.55M595 210h1.55M599 207h1.55M584 210h1.55M608 207h1.55M571 217h1.55M601 203h1.55M609 207h1.55M572 211h1.55M615 208h1.55M588 211h1.55M576 215h1.55M608 206h1.55M615 204h1.55M604 201h1.55M572 208h1.55M569 212h1.55M569 216h1.55M590 204h1.55M572 215h1.55M579 208h1.55M647 201h1.55M626 205h1.55M576 213h1.55M618 199h1.55M592 210h1.55M574 208h1.55M583 213h1.55M575 213h1.55M615 208h1.55M562 213h1.55M621 206h1.55M608 207h1.55M621 206h1.55M626 203h1.55M589 212h1.55M615 206h1.55M621 205h1.55M605 215h1.55M625 205h1.55M600 206h1.55M625 198h1.55M589 207h1.55M569 211h1.55M562 215h1.55M554 212h1.55M569 219h1.55M566 211h1.55M586 211h1.55M558 215h1.55M607 209h1.55M567 220h1.55M593 212h1.55M594 208h1.55M627 202h1.55M598 213h1.55M631 199h1.55M621 201h1.55M580 208h1.55M619 201h1.55M630 206h1.55M605 202h1.55M588 211h1.55M557 210h1.55M561 216h1.55M577 216h1.55M599 208h1.55M610 204h1.55M610 207h1.55M587 215h1.55M586 208h1.55M588 207h1.55M562 213h1.55M608 207h1.55M630 209h1.55M577 213h1.55M604 208h1.55M566 208h1.55M583 214h1.55M626 200h1.55M578 204h1.55M616 205h1.55M631 200h1.55M578 218h1.55M622 199h1.55M575 220h1.55M597 204h1.55M562 216h1.55M611 207h1.55M591 205h1.55M594 215h1.55M616 211h1.55M605 206h1.55M566 208h1.55M578 212h1.55M596 216h1.55M559 215h1.55M606 202h1.55M640 205h1.55M563 220h1.55M623 200h1.55M606 213h1.55M624 205h1.55M622 194h1.55M626 203h1.55M611 210h1.55M604 213h1.55M554 216h1.55M601 208h1.55M568 212h1.55M558 216h1.55M623 211h1.55M611 207h1.55M578 209h1.55M568 209h1.55M557 216h1.55M631 196h1.55M601 211h1.55M629 198h1.55M572 217h1.55M554 221h1.55M579 213h1.55M571 218h1.55M619 206h1.55M574 208h1.55M567 206h1.55M553 220h1.55M587 216h1.55M584 218h1.55M567 213h1.55M565 208h1.55M567 217h1.55M625 198h1.55M633 205h1.55M599 212h1.55M567 211h1.55M571 214h1.55M599 216h1.55M607 204h1.55M614 202h1.55M617 207h1.55M569 209h1.55M635 197h1.55M642 199h1.55M577 209h1.55M594 207h1.55M620 210h1.55M578 213h1.55M617 203h1.55M648 195h1.55M567 211h1.55M574 211h1.55M584 214h1.55M606 208h1.55M633 203h1.55M622 201h1.55M603 211h1.55M570 212h1.55M623 200h1.55M566 223h1.55M607 209h1.55M554 215h1.55M574 212h1.55M573 210h1.55M637 198h1.55M619 211h1.55M553 215h1.55M553 210h1.55M603 212h1.55M566 207h1.55M628 208h1.55M605 210h1.55M584 217h1.55M621 207h1.55M558 215h1.55M565 216h1.55M583 212h1.55M572 216h1.55M604 212h1.55M589 211h1.55M587 211h1.55M584 208h1.55M576 212h1.55M560 215h1.55M574 221h1.55M593 208h1.55M613 203h1.55M594 210h1.55M572 217h1.55M554 212h1.55M582 211h1.55M633 207h1.55M557 215h1.55M559 217h1.55M628 202h1.55M607 208h1.55M586 208h1.55M583 212h1.55M625 204h1.55M603 208h1.55M610 199h1.55M630 203h1.55M616 206h1.55M652 200h1.55M550 215h1.55M590 210h1.55M569 215h1.55M623 206h1.55M562 218h1.55M610 207h1.55M590 213h1.55M580 216h1.55M619 210h1.55M617 205h1.55M619 208h1.55M566 222h1.55M598 210h1.55M567 216h1.55M621 204h1.55M573 211h1.55M599 211h1.55M561 218h1.55M621 201h1.55M612 212h1.55M612 198h1.55M572 221h1.55M602 208h1.55M618 203h1.55M560 218h1.55M594 205h1.55M583 214h1.55M613 206h1.55M604 212h1.55M581 213h1.55M615 206h1.55M572 214h1.55M631 198h1.55M606 210h1.55M606 213h1.55M560 222h1.55M580 210h1.55M587 213h1.55M619 201h1.55M631 201h1.55M609 209h1.55M618 202h1.55M578 215h1.55M573 215h1.55M555 214h1.55M601 207h1.55M603 205h1.55M572 213h1.55M604 202h1.55M563 224h1.55M600 215h1.55M555 217h1.55M595 207h1.55M594 210h1.55M624 198h1.55M575 216h1.55M573 213h1.55M652 200h1.55M584 209h1.55M559 207h1.55M603 210h1.55M581 210h1.55M585 207h1.55M556 211h1.55M604 208h1.55M584 208h1.55M588 208h1.55M633 200h1.55M619 205h1.55M596 203h1.55M575 211h1.55M592 213h1.55M653 195h1.55M590 205h1.55M624 205h1.55M627 198h1.55M601 202h1.55M575 205h1.55M585 211h1.55M577 214h1.55M625 210h1.55M577 213h1.55M618 200h1.55M640 194h1.55M605 204h1.55M549 219h1.55M553 217h1.55M595 215h1.55M562 212h1.55M595 209h1.55M635 198h1.55M562 218h1.55M565 219h1.55M604 202h1.55M568 209h1.55M625 205h1.55M616 206h1.55M574 220h1.55M603 208h1.55M599 204h1.55M597 203h1.55M616 204h1.55M584 217h1.55M557 215h1.55M620 206h1.55M596 202h1.55M561 211h1.55M594 211h1.55M606 202h1.55M629 196h1.55M584 209h1.55M624 208h1.55M584 205h1.55M592 206h1.55M566 221h1.55M600 208h1.55M623 198h1.55M610 207h1.55M572 212h1.55M582 206h1.55M622 200h1.55M629 204h1.55M556 222h1.55M594 203h1.55M590 215h1.55M624 203h1.55M586 203h1.55M572 212h1.55M615 207h1.55M568 212h1.55M578 211h1.55M629 194h1.55M618 202h1.55M618 212h1.55M626 202h1.55M592 205h1.55M572 216h1.55M577 214h1.55M577 209h1.55M567 208h1.55M560 212h1.55M564 210h1.55M624 201h1.55M609 203h1.55M614 207h1.55M566 221h1.55M620 209h1.55M640 198h1.55M584 213h1.55M566 222h1.55M577 219h1.55M564 220h1.55M573 222h1.55M561 212h1.55M560 214h1.55M609 205h1.55M583 218h1.55M564 215h1.55M596 212h1.55M581 208h1.55M560 219h1.55M628 210h1.55M616 204h1.55M605 207h1.55M571 214h1.55M574 205h1.55M615 208h1.55M608 206h1.55M585 220h1.55M628 202h1.55M604 203h1.55M579 215h1.55M553 215h1.55M567 207h1.55M612 208h1.55M630 198h1.55M586 213h1.55M571 214h1.55M577 213h1.55M581 212h1.55M651 206h1.55M589 208h1.55M578 214h1.55M607 206h1.55M576 211h1.55M581 215h1.55M570 215h1.55M574 214h1.55M575 214h1.55M628 194h1.55M598 204h1.55M583 221h1.55M601 201h1.55M601 210h1.55M586 206h1.55M565 216h1.55M559 219h1.55M612 206h1.55M590 214h1.55M564 220h1.55M567 219h1.55M603 204h1.55M591 202h1.55M578 210h1.55M553 219h1.55M646 197h1.55M621 200h1.55M564 210h1.55M614 201h1.55M581 214h1.55M583 203h1.55M619 206h1.55M586 219h1.55M591 213h1.55M613 202h1.55M579 212h1.55M628 203h1.55M567 220h1.55M567 217h1.55M623 199h1.55M555 213h1.55M571 220h1.55M602 205h1.55M655 195h1.55M585 216h1.55M558 214h1.55M628 198h1.55M595 212h1.55M579 212h1.55M568 211h1.55M580 212h1.55M612 201h1.55M561 208h1.55M601 213h1.55M566 210h1.55M570 222h1.55M565 209h1.55M551 221h1.55M602 210h1.55M568 214h1.55M624 203h1.55M607 202h1.55M603 201h1.55M588 206h1.55M585 207h1.55M553 218h1.55M611 207h1.55M593 212h1.55M559 222h1.55M605 205h1.55M569 213h1.55M558 220h1.55M573 207h1.55M591 209h1.55M591 209h1.55M569 217h1.55M573 204h1.55M612 211h1.55M578 209h1.55M608 203h1.55M564 218h1.55M621 202h1.55M574 212h1.55M632 204h1.55M579 205h1.55M578 208h1.55M632 197h1.55M556 210h1.55M616 209h1.55M572 216h1.55M596 212h1.55M631 195h1.55M562 215h1.55M576 215h1.55M645 197h1.55M637 200h1.55M641 195h1.55M613 211h1.55M624 201h1.55M568 207h1.55M615 203h1.55M604 206h1.55M563 223h1.55M657 193h1.55M645 181h1.55M597 202h1.55M632 213h1.55M655 203h1.55M693 178h1.55M590 220h1.55M666 211h1.55M639 206h1.55M606 225h1.55M658 195h1.55M624 199h1.55M570 229h1.55M610 219h1.55M615 216h1.55M607 218h1.55M668 182h1.55M564 219h1.55M691 197h1.55M674 167h1.55M675 168h1.55M681 188h1.55M686 186h1.55M650 192h1.55M661 196h1.55M654 198h1.55M624 204h1.55M596 212h1.55M680 156h1.55M599 211h1.55M615 218h1.55M636 205h1.55M620 199h1.55M676 182h1.55M661 181h1.55M647 209h1.55M639 191h1.55M614 230h1.55M602 221h1.55M673 183h1.55M653 206h1.55M688 196h1.55M658 180h1.55M662 208h1.55M607 206h1.55M618 225h1.55M587 211h1.55M636 214h1.55M562 211h1.55" stroke="#2cc2f0" stroke-width="1.55" stroke-opacity="0.66" fill="none"/><path transform="scale(.5)" d="M509 231h1.55M508 237h1.55M516 224h1.55M511 225h1.55M537 224h1.55M521 230h1.55M509 230h1.55M488 238h1.55M525 221h1.55M510 225h1.55M532 217h1.55M496 238h1.55M516 236h1.55M514 225h1.55M514 230h1.55M534 222h1.55M506 232h1.55M528 219h1.55M518 229h1.55M529 217h1.55M496 235h1.55M486 234h1.55M525 227h1.55M502 236h1.55M495 235h1.55M514 238h1.55M514 223h1.55M503 236h1.55M537 217h1.55M510 230h1.55M527 227h1.55M519 235h1.55M501 242h1.55M525 222h1.55M522 218h1.55M516 226h1.55M520 223h1.55M505 234h1.55M515 228h1.55M508 232h1.55M519 225h1.55M521 221h1.55M521 220h1.55M523 217h1.55M525 227h1.55M541 210h1.55M529 218h1.55M519 232h1.55M522 227h1.55M516 238h1.55M536 224h1.55M503 231h1.55M524 228h1.55M516 226h1.55M517 224h1.55M526 225h1.55M514 234h1.55M524 221h1.55M487 235h1.55M515 226h1.55M520 227h1.55M523 231h1.55M485 236h1.55M493 243h1.55M527 224h1.55M513 237h1.55M515 229h1.55M512 237h1.55M517 225h1.55M528 219h1.55M531 214h1.55M481 236h1.55M517 232h1.55M519 221h1.55M501 241h1.55M525 226h1.55M533 219h1.55M513 236h1.55M527 231h1.55M504 240h1.55M532 211h1.55M515 230h1.55M522 218h1.55M512 224h1.55M490 241h1.55M516 234h1.55M540 220h1.55M519 233h1.55M524 223h1.55M514 231h1.55M511 234h1.55M498 230h1.55M529 228h1.55M502 232h1.55M543 216h1.55M513 230h1.55M520 227h1.55M527 217h1.55M520 218h1.55M515 231h1.55M503 246h1.55M523 230h1.55M533 230h1.55M516 230h1.55M502 229h1.55M511 228h1.55M510 230h1.55M511 230h1.55M517 231h1.55M522 226h1.55M507 237h1.55M519 219h1.55M502 236h1.55M519 221h1.55M527 228h1.55M515 223h1.55M520 227h1.55M503 233h1.55M516 228h1.55M531 214h1.55M507 231h1.55M513 229h1.55M533 215h1.55M518 230h1.55M514 227h1.55M509 226h1.55M519 232h1.55M546 228h1.55M514 229h1.55M525 217h1.55M530 213h1.55M520 225h1.55M528 222h1.55M503 236h1.55M523 221h1.55M501 228h1.55M523 232h1.55M520 221h1.55M523 226h1.55M505 227h1.55M519 226h1.55M514 234h1.55M496 239h1.55M528 218h1.55M506 225h1.55M516 233h1.55M525 216h1.55M514 235h1.55M521 238h1.55M514 221h1.55M521 229h1.55M525 226h1.55M532 222h1.55M540 218h1.55M520 230h1.55M501 233h1.55M522 230h1.55M524 226h1.55M510 231h1.55M519 222h1.55M530 219h1.55M509 234h1.55M523 230h1.55M515 230h1.55M515 227h1.55M525 215h1.55M524 218h1.55M502 229h1.55M534 226h1.55M546 216h1.55M486 233h1.55M519 230h1.55M508 226h1.55M520 228h1.55M531 225h1.55M508 234h1.55M506 229h1.55M516 233h1.55M515 238h1.55M518 226h1.55M524 225h1.55M523 229h1.55M516 227h1.55M501 232h1.55M518 226h1.55M518 231h1.55M506 230h1.55M516 232h1.55M506 227h1.55M515 223h1.55M519 232h1.55M526 221h1.55M510 232h1.55M504 229h1.55M511 228h1.55M520 227h1.55M521 226h1.55M504 236h1.55M501 231h1.55M525 226h1.55M523 223h1.55M529 226h1.55M519 231h1.55M506 225h1.55M495 242h1.55M520 222h1.55M511 240h1.55M496 235h1.55M527 218h1.55M505 226h1.55M513 226h1.55M511 222h1.55M515 239h1.55M512 228h1.55M521 229h1.55M516 233h1.55M514 228h1.55M516 219h1.55M493 236h1.55M524 230h1.55M517 227h1.55M504 230h1.55M537 214h1.55M523 219h1.55M513 224h1.55M507 231h1.55M522 218h1.55M514 230h1.55M522 225h1.55M516 223h1.55M506 228h1.55M521 226h1.55M503 237h1.55M514 224h1.55M493 235h1.55M521 231h1.55M525 221h1.55M523 229h1.55M502 230h1.55M532 218h1.55M515 230h1.55M495 233h1.55M513 223h1.55M506 227h1.55M507 229h1.55M533 223h1.55M527 223h1.55M505 232h1.55M525 227h1.55M515 231h1.55M508 232h1.55M527 225h1.55M531 222h1.55M506 227h1.55M534 223h1.55M525 229h1.55M513 231h1.55M527 229h1.55M512 233h1.55M520 232h1.55M522 232h1.55M528 228h1.55M492 231h1.55M532 224h1.55M503 231h1.55M538 214h1.55M526 229h1.55M496 235h1.55M528 221h1.55M514 222h1.55M505 227h1.55M527 225h1.55M518 226h1.55M525 228h1.55M514 228h1.55M517 227h1.55M520 227h1.55M509 226h1.55M510 232h1.55M509 237h1.55M522 225h1.55M514 226h1.55M513 226h1.55M536 216h1.55M510 222h1.55M528 230h1.55M531 219h1.55M528 228h1.55M508 235h1.55M525 229h1.55M507 227h1.55M509 230h1.55M510 239h1.55M516 228h1.55M498 231h1.55M524 219h1.55M513 235h1.55M515 227h1.55M516 231h1.55M507 236h1.55M516 230h1.55M536 220h1.55M522 227h1.55M516 232h1.55M514 236h1.55M491 233h1.55M504 231h1.55M516 230h1.55M526 226h1.55M522 227h1.55M525 218h1.55M515 223h1.55M519 218h1.55M518 234h1.55M518 225h1.55M513 230h1.55M516 234h1.55M537 221h1.55M508 240h1.55M507 232h1.55M532 217h1.55M511 236h1.55M504 234h1.55M527 225h1.55M522 235h1.55M529 222h1.55M522 220h1.55M505 233h1.55M520 230h1.55M524 224h1.55M515 220h1.55M513 224h1.55M508 231h1.55M533 231h1.55M523 226h1.55M528 221h1.55M518 233h1.55M514 232h1.55M513 228h1.55M499 230h1.55M512 226h1.55M494 241h1.55M514 231h1.55M508 230h1.55M523 229h1.55M493 235h1.55M511 225h1.55M526 223h1.55M501 236h1.55M506 226h1.55M496 233h1.55M500 238h1.55M502 238h1.55M511 228h1.55M508 228h1.55M535 217h1.55M504 234h1.55M516 229h1.55M527 217h1.55M538 215h1.55M487 242h1.55M525 227h1.55M508 227h1.55M520 231h1.55M516 243h1.55M519 232h1.55M518 233h1.55M507 234h1.55M504 236h1.55M527 219h1.55M525 225h1.55M519 230h1.55M516 232h1.55M502 239h1.55M537 216h1.55M508 232h1.55M509 225h1.55M517 230h1.55M523 223h1.55M510 234h1.55M521 233h1.55M504 228h1.55M524 218h1.55M513 232h1.55M514 231h1.55M531 222h1.55M533 223h1.55M517 219h1.55M509 234h1.55M513 237h1.55M514 232h1.55M542 218h1.55M491 235h1.55M527 223h1.55M518 223h1.55M510 230h1.55M515 220h1.55M532 219h1.55M500 231h1.55M513 223h1.55M517 226h1.55M525 227h1.55M505 228h1.55M522 221h1.55M534 226h1.55M531 231h1.55M516 226h1.55M526 218h1.55M506 234h1.55M516 231h1.55M508 235h1.55M526 216h1.55M521 217h1.55M519 231h1.55M509 230h1.55M525 217h1.55M504 228h1.55M509 228h1.55M524 217h1.55M510 229h1.55M522 227h1.55M516 225h1.55M499 239h1.55M541 213h1.55M514 238h1.55M505 230h1.55M523 222h1.55M524 227h1.55M536 224h1.55M522 226h1.55M496 233h1.55M512 226h1.55M530 220h1.55M509 232h1.55M513 222h1.55M523 217h1.55M526 227h1.55M525 219h1.55M514 226h1.55M515 234h1.55M514 225h1.55M517 239h1.55M505 227h1.55M517 222h1.55M509 233h1.55M507 236h1.55M522 224h1.55M510 229h1.55M503 236h1.55M503 242h1.55M503 239h1.55M531 214h1.55M531 223h1.55M525 229h1.55M510 229h1.55M498 235h1.55M527 233h1.55M490 242h1.55M515 228h1.55M503 231h1.55M519 230h1.55M534 218h1.55M511 231h1.55M497 238h1.55M522 224h1.55M504 238h1.55M498 243h1.55M517 226h1.55M507 233h1.55M506 229h1.55M524 226h1.55M514 235h1.55M514 224h1.55M520 218h1.55M514 233h1.55M526 218h1.55M507 227h1.55M516 228h1.55M536 216h1.55M520 227h1.55M516 222h1.55M523 228h1.55M521 226h1.55M520 227h1.55M495 246h1.55M516 239h1.55M525 226h1.55M524 235h1.55M517 222h1.55M521 232h1.55M528 225h1.55M509 230h1.55M524 230h1.55M516 227h1.55M530 215h1.55M546 217h1.55M506 231h1.55M536 223h1.55M514 232h1.55M521 223h1.55M514 225h1.55M508 233h1.55M516 227h1.55M531 220h1.55M530 220h1.55M529 221h1.55M508 236h1.55M538 219h1.55M546 219h1.55M505 228h1.55M497 232h1.55M519 223h1.55M502 232h1.55M527 223h1.55M528 222h1.55M521 227h1.55M501 235h1.55M523 228h1.55M498 244h1.55M531 221h1.55M505 226h1.55M517 235h1.55M513 233h1.55M516 232h1.55M516 225h1.55M510 231h1.55M513 225h1.55M507 228h1.55M531 222h1.55M506 234h1.55M498 239h1.55M503 235h1.55M511 227h1.55M517 225h1.55M515 227h1.55M502 231h1.55M529 216h1.55M500 233h1.55M497 233h1.55M515 230h1.55M508 232h1.55M518 232h1.55M516 226h1.55M522 225h1.55M527 221h1.55M500 232h1.55M528 235h1.55M514 227h1.55M516 227h1.55M512 223h1.55M521 227h1.55M508 234h1.55M520 225h1.55M517 220h1.55M528 220h1.55M517 228h1.55M512 225h1.55M504 239h1.55M513 234h1.55M506 226h1.55M490 237h1.55M502 235h1.55M512 235h1.55M499 235h1.55M487 252h1.55M510 225h1.55M538 219h1.55M508 233h1.55M520 221h1.55M505 231h1.55M514 223h1.55M512 231h1.55M509 238h1.55M518 223h1.55M528 220h1.55M513 234h1.55M505 237h1.55M520 225h1.55M491 240h1.55M515 233h1.55M515 225h1.55M507 239h1.55M512 228h1.55M510 222h1.55M520 231h1.55M526 226h1.55M524 223h1.55M532 225h1.55M524 222h1.55M505 229h1.55M541 214h1.55M508 232h1.55M530 219h1.55M534 222h1.55M534 227h1.55M515 230h1.55M508 225h1.55M509 229h1.55M536 214h1.55M513 233h1.55M493 237h1.55M524 218h1.55M530 233h1.55M505 229h1.55M510 226h1.55M547 217h1.55M541 216h1.55M500 235h1.55M528 225h1.55M536 223h1.55M512 225h1.55M515 231h1.55M515 225h1.55M533 212h1.55M538 217h1.55M498 237h1.55M514 234h1.55M511 230h1.55M515 223h1.55M504 228h1.55M515 224h1.55M533 226h1.55M536 222h1.55M519 221h1.55M530 229h1.55M516 222h1.55M515 228h1.55M514 220h1.55M512 234h1.55M505 236h1.55M513 227h1.55M519 235h1.55M497 233h1.55M527 229h1.55M532 232h1.55M542 212h1.55M497 234h1.55M517 229h1.55M513 230h1.55M517 232h1.55M509 228h1.55M525 230h1.55M508 224h1.55M521 217h1.55M503 239h1.55M496 247h1.55M514 234h1.55M505 236h1.55M513 225h1.55M526 232h1.55M534 221h1.55M505 233h1.55M515 235h1.55M535 221h1.55M508 228h1.55M534 216h1.55M505 230h1.55M528 220h1.55M525 226h1.55M519 235h1.55M510 236h1.55M513 221h1.55M493 245h1.55M506 233h1.55M531 224h1.55M505 227h1.55M520 223h1.55M527 226h1.55M520 229h1.55M508 231h1.55M524 230h1.55M506 229h1.55M517 224h1.55M514 232h1.55M524 221h1.55M482 239h1.55M506 229h1.55M535 220h1.55M505 232h1.55M516 225h1.55M500 234h1.55M525 220h1.55M521 219h1.55M505 227h1.55M521 230h1.55M512 228h1.55M517 220h1.55M520 228h1.55M542 217h1.55M505 228h1.55M513 233h1.55M502 228h1.55M504 233h1.55M512 231h1.55M507 231h1.55M521 220h1.55M515 234h1.55M499 235h1.55M485 235h1.55M516 227h1.55M502 238h1.55M507 229h1.55M510 227h1.55M526 233h1.55M511 223h1.55M510 230h1.55M517 233h1.55M542 216h1.55M525 226h1.55M530 215h1.55M528 217h1.55M522 218h1.55M521 225h1.55M527 227h1.55M486 238h1.55M520 229h1.55M515 233h1.55M506 231h1.55M516 223h1.55M514 225h1.55M526 227h1.55M498 239h1.55M515 231h1.55M543 218h1.55M523 228h1.55M527 229h1.55M527 221h1.55M514 235h1.55M537 221h1.55M538 230h1.55M537 218h1.55M527 219h1.55M512 229h1.55M506 239h1.55M523 242h1.55M533 218h1.55M533 224h1.55M521 224h1.55M516 224h1.55M525 231h1.55M522 223h1.55M528 216h1.55M484 253h1.55M532 247h1.55M541 218h1.55M492 243h1.55M521 226h1.55M517 240h1.55M499 242h1.55M513 245h1.55M524 224h1.55M522 228h1.55M479 238h1.55M505 237h1.55M471 250h1.55M531 243h1.55M509 238h1.55M484 234h1.55M508 223h1.55M516 247h1.55M470 261h1.55M533 214h1.55M488 235h1.55M514 237h1.55M513 239h1.55M518 232h1.55M526 221h1.55M498 242h1.55M508 245h1.55M513 240h1.55M496 229h1.55M454 263h1.55M526 217h1.55M439 260h1.55M516 228h1.55M506 238h1.55M513 222h1.55M433 267h1.55M537 221h1.55M483 245h1.55M521 243h1.55M544 217h1.55M525 228h1.55M517 246h1.55M533 228h1.55M466 246h1.55M540 233h1.55M508 231h1.55M520 240h1.55M545 249h1.55M509 239h1.55" stroke="#f23632" stroke-width="1.55" stroke-opacity="0.66" fill="none"/><path d="M211.5 3.2V137.7H347.5M219.4 137.7v1.8M227.4 137.7v1.8M235.3 137.7v1.8M251.2 137.7v1.8M259.2 137.7v1.8M267.1 137.7v1.8M283.1 137.7v1.8M291.0 137.7v1.8M298.9 137.7v1.8M314.9 137.7v1.8M322.8 137.7v1.8M330.8 137.7v1.8M346.6 137.7v1.8M211.5 125.3h-2.2M211.5 118.1h-2.2M211.5 113.0h-2.2M211.5 109.0h-2.2M211.5 105.7h-2.2M211.5 103.0h-2.2M211.5 100.6h-2.2M211.5 98.5h-2.2M211.5 84.2h-2.2M211.5 77.0h-2.2M211.5 71.9h-2.2M211.5 67.9h-2.2M211.5 64.6h-2.2M211.5 61.9h-2.2M211.5 59.5h-2.2M211.5 57.4h-2.2M211.5 43.1h-2.2M211.5 35.9h-2.2M211.5 30.8h-2.2M211.5 26.8h-2.2M211.5 23.5h-2.2M211.5 20.8h-2.2M211.5 18.4h-2.2M211.5 16.3h-2.2" fill="none" stroke="#3a3a3a" stroke-width="0.75"/><path d="M211.5 137.7v4.2M243.3 137.7v4.2M275.1 137.7v4.2M306.9 137.7v4.2M338.7 137.7v4.2M211.5 137.7h-4.6M211.5 96.6h-4.6M211.5 55.5h-4.6M211.5 14.4h-4.6" fill="none" stroke="#111" stroke-width="1.1"/><text x="211.5" y="149.0" text-anchor="middle" class="tk">0</text><text x="243.3" y="149.0" text-anchor="middle" class="tk">200</text><text x="275.1" y="149.0" text-anchor="middle" class="tk">400</text><text x="306.9" y="149.0" text-anchor="middle" class="tk">600</text><text x="338.7" y="149.0" text-anchor="middle" class="tk">800</text><text x="203.2" y="137.0" text-anchor="end" class="tk">10<tspan dy="-2.4" font-size="3.8">0</tspan></text><text x="203.2" y="97.4" text-anchor="end" class="tk">10<tspan dy="-2.4" font-size="3.8">1</tspan></text><text x="203.2" y="57.9" text-anchor="end" class="tk">10<tspan dy="-2.4" font-size="3.8">2</tspan></text><text x="203.2" y="18.3" text-anchor="end" class="tk">10<tspan dy="-2.4" font-size="3.8">3</tspan></text></g><g><path transform="scale(.5)" d="M880 146h1.55M871 168h1.55M889 142h1.55M873 158h1.55M842 158h1.55M857 159h1.55M860 166h1.55M881 153h1.55M869 148h1.55M859 164h1.55M839 161h1.55M881 139h1.55M890 140h1.55M876 157h1.55M859 157h1.55M866 164h1.55M873 144h1.55M860 172h1.55M858 140h1.55M845 147h1.55M854 156h1.55M869 152h1.55M882 154h1.55M852 174h1.55M840 146h1.55M869 138h1.55M849 163h1.55M872 157h1.55M842 147h1.55M864 158h1.55M864 152h1.55M862 154h1.55M893 157h1.55M873 156h1.55M857 152h1.55M846 148h1.55M897 173h1.55M846 142h1.55M892 169h1.55M865 136h1.55M891 144h1.55M881 155h1.55M850 145h1.55M849 144h1.55M874 149h1.55M879 149h1.55M854 157h1.55M840 140h1.55M863 176h1.55M883 155h1.55M878 140h1.55M872 158h1.55M861 151h1.55M876 160h1.55M837 153h1.55M887 147h1.55M844 139h1.55M893 143h1.55M854 158h1.55M896 169h1.55M835 135h1.55M841 164h1.55M855 151h1.55M895 145h1.55M846 153h1.55M830 154h1.55M880 133h1.55M849 156h1.55M839 146h1.55M849 159h1.55M867 142h1.55M851 161h1.55M847 149h1.55M837 156h1.55M862 145h1.55M867 149h1.55M873 162h1.55M899 135h1.55M867 148h1.55M841 174h1.55M858 153h1.55M868 163h1.55M873 170h1.55M886 150h1.55M883 168h1.55M862 134h1.55M854 144h1.55M853 156h1.55M854 156h1.55M844 124h1.55M842 147h1.55M857 144h1.55M861 156h1.55M857 165h1.55M867 158h1.55M866 147h1.55M851 136h1.55M873 160h1.55M861 147h1.55M871 154h1.55M847 179h1.55M849 140h1.55M857 147h1.55M861 149h1.55M865 153h1.55M892 164h1.55M882 156h1.55M862 155h1.55M906 121h1.55M864 137h1.55M878 158h1.55M883 165h1.55M876 157h1.55M882 156h1.55M872 152h1.55M868 143h1.55M865 175h1.55M857 141h1.55M825 155h1.55M867 139h1.55M848 171h1.55M877 169h1.55M884 142h1.55M869 142h1.55M897 138h1.55M857 142h1.55M858 171h1.55M859 157h1.55M854 135h1.55M833 175h1.55M842 151h1.55M899 140h1.55M895 158h1.55M878 149h1.55M872 144h1.55M873 164h1.55M884 152h1.55M860 174h1.55M833 151h1.55M865 149h1.55M836 153h1.55M886 170h1.55M885 167h1.55M886 156h1.55M877 168h1.55M881 145h1.55M887 135h1.55M881 152h1.55M866 154h1.55M850 156h1.55M856 163h1.55M875 145h1.55M880 158h1.55M881 156h1.55M874 154h1.55M832 143h1.55M871 134h1.55M894 148h1.55M867 157h1.55M900 164h1.55M857 165h1.55M863 164h1.55M864 152h1.55M846 147h1.55M862 155h1.55M849 146h1.55M901 149h1.55M874 170h1.55M906 149h1.55M878 152h1.55M829 169h1.55M851 160h1.55M910 140h1.55M867 164h1.55M884 158h1.55M837 156h1.55M876 152h1.55M850 155h1.55M878 173h1.55M896 146h1.55M880 157h1.55M841 155h1.55M895 151h1.55M837 154h1.55M879 150h1.55M864 144h1.55M863 137h1.55M862 174h1.55M870 148h1.55M910 161h1.55M863 149h1.55M844 160h1.55M840 135h1.55M847 167h1.55M866 164h1.55M873 150h1.55M887 146h1.55M870 153h1.55M844 161h1.55M842 157h1.55M884 143h1.55M898 148h1.55M860 142h1.55M838 151h1.55M857 158h1.55M880 140h1.55M843 162h1.55M882 169h1.55M854 154h1.55M847 134h1.55M904 139h1.55M846 156h1.55M848 157h1.55M854 161h1.55M867 147h1.55M848 141h1.55M858 154h1.55M856 172h1.55M882 142h1.55M866 155h1.55M875 159h1.55M835 141h1.55M878 145h1.55M880 153h1.55M837 160h1.55M874 159h1.55M886 144h1.55M879 146h1.55M856 156h1.55M878 173h1.55M879 136h1.55M875 160h1.55M863 140h1.55M881 151h1.55M908 137h1.55M857 139h1.55M861 150h1.55M853 164h1.55M886 149h1.55M871 164h1.55M858 158h1.55M882 166h1.55M859 146h1.55M876 158h1.55M878 152h1.55M860 140h1.55M837 167h1.55M889 140h1.55M877 159h1.55M871 147h1.55M878 136h1.55M834 158h1.55M894 148h1.55M886 144h1.55M898 139h1.55M892 164h1.55M840 154h1.55M857 147h1.55M871 160h1.55M872 159h1.55M853 152h1.55M875 140h1.55M876 149h1.55M872 156h1.55M882 172h1.55M879 130h1.55M894 160h1.55M883 147h1.55M900 150h1.55M850 170h1.55M883 134h1.55M847 156h1.55M925 147h1.55M870 141h1.55M843 157h1.55M846 160h1.55M879 165h1.55M872 141h1.55M870 153h1.55M851 158h1.55M889 145h1.55M905 159h1.55M854 153h1.55M877 158h1.55M860 160h1.55M880 157h1.55M850 143h1.55M880 159h1.55M852 165h1.55M883 160h1.55M878 160h1.55M882 157h1.55M905 152h1.55M863 148h1.55M871 157h1.55M857 158h1.55M837 160h1.55M885 148h1.55M863 135h1.55M865 161h1.55M863 157h1.55M895 144h1.55M849 155h1.55M866 140h1.55M882 155h1.55M888 141h1.55M879 148h1.55M875 151h1.55M868 160h1.55M883 155h1.55M848 143h1.55M868 158h1.55M857 155h1.55M869 159h1.55M898 154h1.55M849 140h1.55M884 146h1.55M873 153h1.55M865 162h1.55M837 148h1.55M855 171h1.55M869 179h1.55M852 146h1.55M860 160h1.55M908 140h1.55M883 152h1.55M865 135h1.55M877 148h1.55M869 144h1.55M879 150h1.55M856 160h1.55M878 148h1.55M883 160h1.55M821 174h1.55M858 158h1.55M841 152h1.55M868 162h1.55M886 150h1.55M863 156h1.55M862 147h1.55M825 152h1.55M882 148h1.55M918 143h1.55M877 145h1.55M886 165h1.55M840 168h1.55M894 145h1.55M894 141h1.55M839 156h1.55M882 139h1.55M850 140h1.55M888 152h1.55M857 158h1.55M872 166h1.55M877 143h1.55M882 147h1.55M926 141h1.55M862 143h1.55M871 151h1.55M905 126h1.55M849 142h1.55M857 138h1.55M852 129h1.55M855 160h1.55M866 148h1.55M866 138h1.55M892 156h1.55M881 155h1.55M849 165h1.55M864 146h1.55M866 152h1.55M856 177h1.55M883 130h1.55M848 166h1.55M885 143h1.55M887 139h1.55M844 160h1.55M863 142h1.55M860 174h1.55M896 155h1.55M860 161h1.55M848 148h1.55M871 151h1.55M879 160h1.55M845 142h1.55M865 161h1.55M845 162h1.55M823 152h1.55M859 141h1.55M877 154h1.55M848 158h1.55M863 160h1.55M907 154h1.55M898 140h1.55M862 154h1.55M906 173h1.55M888 158h1.55M890 147h1.55M842 160h1.55M845 181h1.55M838 163h1.55M829 169h1.55M880 134h1.55M889 130h1.55M859 146h1.55M840 159h1.55M865 145h1.55M841 143h1.55M883 146h1.55M860 152h1.55M869 138h1.55M850 159h1.55M840 152h1.55M873 160h1.55M895 136h1.55M882 144h1.55M896 131h1.55M879 158h1.55M856 163h1.55M876 149h1.55M866 160h1.55M861 143h1.55M846 157h1.55M879 158h1.55M860 150h1.55M877 139h1.55M860 145h1.55M880 149h1.55M832 175h1.55M855 163h1.55M882 157h1.55M872 155h1.55M850 148h1.55M860 151h1.55M847 156h1.55M872 159h1.55M908 140h1.55M895 133h1.55M846 161h1.55M877 142h1.55M865 155h1.55M870 167h1.55M881 161h1.55M897 159h1.55M845 140h1.55M860 145h1.55M870 142h1.55M892 148h1.55M870 149h1.55M861 167h1.55M855 156h1.55M871 154h1.55M883 145h1.55M867 143h1.55M911 159h1.55M869 146h1.55M858 147h1.55M891 141h1.55M883 145h1.55M895 137h1.55M862 150h1.55M866 160h1.55M862 144h1.55M862 143h1.55M876 145h1.55M850 162h1.55M888 142h1.55M855 167h1.55M845 151h1.55M845 138h1.55M837 154h1.55M861 164h1.55M877 143h1.55M865 163h1.55M879 143h1.55M862 178h1.55M870 159h1.55M867 138h1.55M863 145h1.55M905 169h1.55M891 163h1.55M854 157h1.55M856 149h1.55M856 158h1.55M884 157h1.55M857 169h1.55M910 141h1.55M863 153h1.55M846 148h1.55M872 165h1.55M868 146h1.55M857 133h1.55M851 140h1.55M891 160h1.55M832 157h1.55M895 155h1.55M860 173h1.55M885 148h1.55M871 164h1.55M852 156h1.55M882 167h1.55M882 148h1.55M848 151h1.55M877 169h1.55M873 158h1.55M872 144h1.55M870 157h1.55M876 154h1.55M872 144h1.55M884 153h1.55M870 147h1.55M866 155h1.55M896 131h1.55M856 163h1.55M865 175h1.55M901 141h1.55M906 139h1.55M826 170h1.55M887 151h1.55M878 147h1.55M852 171h1.55M879 152h1.55M888 146h1.55M835 164h1.55M858 152h1.55M843 181h1.55M882 165h1.55M874 141h1.55M885 142h1.55M892 165h1.55M855 149h1.55M898 153h1.55M839 161h1.55M899 144h1.55M837 164h1.55M877 141h1.55M879 135h1.55M871 147h1.55M872 142h1.55M866 144h1.55M883 156h1.55M878 151h1.55M870 154h1.55M872 150h1.55M843 166h1.55M870 161h1.55M832 137h1.55M866 167h1.55M884 148h1.55M876 151h1.55M861 150h1.55M838 154h1.55M885 142h1.55M881 150h1.55M890 141h1.55M828 165h1.55M840 162h1.55M905 154h1.55M887 161h1.55M837 169h1.55M864 160h1.55M822 168h1.55M868 157h1.55M845 173h1.55M851 148h1.55M886 127h1.55M866 160h1.55M845 149h1.55M857 159h1.55M840 158h1.55M881 160h1.55M876 155h1.55M879 161h1.55M855 164h1.55M868 159h1.55M842 159h1.55M884 143h1.55M868 156h1.55M894 160h1.55M914 137h1.55M874 148h1.55M905 162h1.55M850 155h1.55M861 147h1.55M876 161h1.55M841 141h1.55M852 168h1.55M851 161h1.55M879 153h1.55M834 142h1.55M898 148h1.55M833 154h1.55M876 154h1.55M885 133h1.55M864 155h1.55M872 150h1.55M862 138h1.55M887 137h1.55M840 151h1.55M863 171h1.55M899 164h1.55M847 179h1.55M844 153h1.55M895 139h1.55M872 143h1.55M860 155h1.55M866 162h1.55M897 164h1.55M871 151h1.55M838 171h1.55M877 160h1.55M871 157h1.55M868 158h1.55M862 145h1.55M837 168h1.55M875 148h1.55M882 149h1.55M853 157h1.55M840 150h1.55M872 164h1.55M877 141h1.55M884 171h1.55M881 145h1.55M914 139h1.55M904 145h1.55M834 178h1.55M891 144h1.55M870 139h1.55M866 152h1.55M874 152h1.55M858 155h1.55M875 139h1.55M868 149h1.55M880 160h1.55M848 155h1.55M863 164h1.55M859 172h1.55M889 145h1.55M895 173h1.55M866 151h1.55M852 147h1.55M867 149h1.55M867 156h1.55M858 154h1.55M895 150h1.55M854 162h1.55M883 136h1.55M880 147h1.55M884 161h1.55M858 149h1.55M872 132h1.55M857 146h1.55M901 158h1.55M864 147h1.55M875 148h1.55M896 136h1.55M850 163h1.55M850 158h1.55M882 149h1.55M886 144h1.55M859 175h1.55M859 167h1.55M842 161h1.55M907 152h1.55M882 144h1.55M870 162h1.55M905 148h1.55M907 144h1.55M866 153h1.55M859 161h1.55M881 159h1.55M884 162h1.55M833 161h1.55M891 157h1.55M905 135h1.55M863 141h1.55M862 154h1.55M877 152h1.55M894 161h1.55M849 172h1.55M862 156h1.55M845 150h1.55M841 167h1.55M899 155h1.55M876 181h1.55M868 152h1.55M864 147h1.55M863 154h1.55M853 157h1.55M866 144h1.55M856 166h1.55M861 160h1.55M860 141h1.55M856 136h1.55M892 149h1.55M866 152h1.55M850 150h1.55M878 155h1.55M857 149h1.55M842 163h1.55M851 173h1.55M847 150h1.55M894 159h1.55M856 149h1.55M872 160h1.55M853 145h1.55M834 173h1.55M867 150h1.55M852 165h1.55M890 148h1.55M843 153h1.55M861 142h1.55M887 160h1.55M853 156h1.55M857 149h1.55M860 137h1.55M849 171h1.55M858 160h1.55M858 161h1.55M849 152h1.55M867 157h1.55M838 152h1.55M895 151h1.55M866 142h1.55M865 145h1.55M860 162h1.55M898 163h1.55M880 139h1.55M871 152h1.55M889 160h1.55M865 150h1.55M857 185h1.55M849 183h1.55M833 159h1.55M842 216h1.55M862 196h1.55M830 174h1.55M833 195h1.55M844 157h1.55M833 183h1.55M841 206h1.55M843 185h1.55M831 176h1.55M847 157h1.55M836 191h1.55M839 179h1.55M865 167h1.55M843 185h1.55M853 180h1.55M845 204h1.55M849 186h1.55M837 180h1.55M846 184h1.55M840 148h1.55M845 195h1.55M846 199h1.55M851 195h1.55M849 174h1.55M848 204h1.55M845 208h1.55M851 192h1.55M845 168h1.55M846 170h1.55M857 176h1.55M838 193h1.55M842 198h1.55M856 217h1.55M830 216h1.55M852 176h1.55M847 179h1.55M849 180h1.55M838 188h1.55M846 171h1.55M846 175h1.55M853 181h1.55M835 190h1.55M843 184h1.55M840 155h1.55M841 150h1.55M855 153h1.55M846 176h1.55M845 182h1.55M846 178h1.55M850 153h1.55M857 186h1.55M841 190h1.55M841 177h1.55M844 184h1.55M833 196h1.55M845 207h1.55M837 213h1.55M845 193h1.55M832 213h1.55M837 198h1.55M846 186h1.55M850 190h1.55M841 176h1.55M860 139h1.55M851 191h1.55M854 197h1.55M839 206h1.55M847 198h1.55M845 169h1.55M847 180h1.55M849 185h1.55M848 160h1.55M847 199h1.55M850 182h1.55M845 154h1.55M845 174h1.55M847 208h1.55M845 175h1.55M854 198h1.55M841 203h1.55M849 158h1.55M858 194h1.55M842 195h1.55M843 202h1.55M848 199h1.55M835 195h1.55M838 161h1.55M852 210h1.55M846 207h1.55M836 169h1.55M837 216h1.55M848 197h1.55M858 170h1.55M833 167h1.55M853 163h1.55M842 180h1.55M833 206h1.55M838 188h1.55M849 190h1.55M840 195h1.55M837 176h1.55M848 171h1.55M843 161h1.55M843 191h1.55M851 195h1.55M849 182h1.55M847 189h1.55M845 213h1.55M853 181h1.55M851 173h1.55M865 144h1.55M836 162h1.55M852 182h1.55M832 188h1.55M842 191h1.55M848 186h1.55M836 179h1.55M857 152h1.55M847 193h1.55M851 165h1.55M848 201h1.55M842 185h1.55M854 178h1.55M824 211h1.55M852 187h1.55M854 162h1.55M837 193h1.55M834 174h1.55M841 183h1.55M845 202h1.55M845 155h1.55M852 188h1.55M833 166h1.55M835 178h1.55M852 177h1.55M850 172h1.55M837 180h1.55M845 183h1.55M848 212h1.55M856 187h1.55M841 170h1.55M851 183h1.55M850 209h1.55M848 184h1.55M853 206h1.55M846 192h1.55M857 178h1.55M841 187h1.55M852 176h1.55M845 203h1.55M842 188h1.55M844 188h1.55M860 172h1.55M849 193h1.55M852 196h1.55M841 191h1.55M845 183h1.55M831 197h1.55M840 216h1.55M841 180h1.55M841 197h1.55M846 206h1.55M847 163h1.55M843 156h1.55M843 203h1.55M843 205h1.55M856 164h1.55M861 171h1.55M840 205h1.55M833 194h1.55M854 205h1.55M857 183h1.55M849 200h1.55M845 213h1.55M848 191h1.55M853 179h1.55M858 191h1.55M841 213h1.55M840 207h1.55M845 155h1.55M848 195h1.55M857 161h1.55M834 205h1.55M843 172h1.55M850 193h1.55M850 198h1.55M844 200h1.55M829 217h1.55M846 186h1.55M848 192h1.55M852 174h1.55M850 177h1.55M840 164h1.55M832 167h1.55M849 189h1.55M855 186h1.55M849 182h1.55M864 158h1.55M850 179h1.55M830 183h1.55M843 209h1.55M852 176h1.55M841 168h1.55M835 190h1.55M844 187h1.55M847 181h1.55M854 186h1.55M854 132h1.55M835 181h1.55M849 146h1.55M845 176h1.55M843 203h1.55M837 206h1.55M854 153h1.55M850 182h1.55M851 155h1.55M842 191h1.55M850 162h1.55M854 190h1.55M832 192h1.55M856 167h1.55M856 174h1.55M848 150h1.55M837 191h1.55M846 194h1.55M839 176h1.55M838 172h1.55M854 185h1.55M860 174h1.55M850 192h1.55M843 197h1.55M830 180h1.55M851 175h1.55M845 187h1.55M853 185h1.55M835 202h1.55M850 162h1.55M839 210h1.55M855 165h1.55M851 206h1.55M860 159h1.55M843 213h1.55M842 204h1.55M854 178h1.55M851 164h1.55M842 156h1.55M852 149h1.55M847 162h1.55M858 167h1.55M842 151h1.55M841 211h1.55M855 167h1.55M858 163h1.55M846 202h1.55M860 198h1.55M842 185h1.55M844 185h1.55M849 184h1.55M839 185h1.55M844 161h1.55M833 174h1.55M849 199h1.55M848 171h1.55M849 174h1.55M840 168h1.55M851 172h1.55M843 167h1.55M850 175h1.55M853 160h1.55M842 172h1.55M838 175h1.55M845 163h1.55M848 138h1.55M855 170h1.55M841 188h1.55M849 198h1.55M850 175h1.55M840 200h1.55M854 188h1.55M844 159h1.55M842 199h1.55M848 166h1.55M863 211h1.55M847 182h1.55M845 184h1.55M848 199h1.55M856 162h1.55M851 200h1.55M834 170h1.55M841 198h1.55M854 155h1.55M856 153h1.55M847 189h1.55M853 173h1.55M851 207h1.55M862 152h1.55M845 209h1.55M845 183h1.55M855 176h1.55M847 175h1.55M852 186h1.55M849 200h1.55M843 149h1.55M854 197h1.55M843 195h1.55M836 177h1.55M836 185h1.55M846 193h1.55M853 162h1.55M852 136h1.55M854 151h1.55M850 189h1.55M840 181h1.55M842 160h1.55M853 182h1.55M826 202h1.55M838 211h1.55M847 199h1.55M854 167h1.55M848 201h1.55M844 172h1.55M845 166h1.55M847 195h1.55M850 198h1.55M835 195h1.55M846 177h1.55M845 204h1.55M826 214h1.55M847 192h1.55M857 215h1.55M842 174h1.55M845 181h1.55M840 212h1.55M850 186h1.55M861 177h1.55M834 189h1.55M844 200h1.55M854 182h1.55M838 171h1.55M853 184h1.55M843 202h1.55M842 156h1.55M838 172h1.55M832 168h1.55M841 179h1.55M845 169h1.55M844 147h1.55M834 203h1.55M836 217h1.55M833 220h1.55M843 167h1.55M852 167h1.55M833 208h1.55M840 194h1.55M831 201h1.55M832 191h1.55M853 167h1.55M848 201h1.55M839 198h1.55M846 180h1.55M848 168h1.55M846 184h1.55M838 213h1.55M837 160h1.55M830 194h1.55M839 182h1.55M844 190h1.55M839 178h1.55M842 193h1.55M839 173h1.55M857 174h1.55M854 152h1.55M852 170h1.55M849 192h1.55M833 191h1.55M849 190h1.55M841 174h1.55M841 186h1.55M932 189h1.55M858 213h1.55M862 149h1.55M919 142h1.55M939 137h1.55M916 180h1.55M894 199h1.55M893 207h1.55M918 144h1.55M890 205h1.55M890 187h1.55M874 166h1.55M901 173h1.55M910 159h1.55M894 171h1.55M852 176h1.55M892 164h1.55M887 203h1.55M912 182h1.55M887 193h1.55M886 192h1.55M865 177h1.55M876 178h1.55M888 180h1.55M881 195h1.55M891 160h1.55M873 153h1.55M885 157h1.55M857 184h1.55M882 209h1.55M850 173h1.55M873 154h1.55M899 186h1.55M832 188h1.55M912 148h1.55M851 179h1.55M898 198h1.55M856 199h1.55M908 194h1.55M882 183h1.55M896 138h1.55M888 159h1.55M921 166h1.55M916 150h1.55M903 180h1.55M878 182h1.55M875 167h1.55M892 155h1.55M891 178h1.55M906 163h1.55M850 163h1.55M883 196h1.55M878 196h1.55M885 196h1.55M863 193h1.55M903 174h1.55M885 171h1.55M894 183h1.55M897 163h1.55M840 199h1.55M879 153h1.55M889 173h1.55M886 177h1.55M901 160h1.55M853 206h1.55M896 206h1.55M929 183h1.55M883 160h1.55M874 199h1.55M899 194h1.55M899 168h1.55M899 176h1.55M875 200h1.55M871 167h1.55M911 203h1.55M891 184h1.55M892 189h1.55M874 152h1.55M875 198h1.55M908 163h1.55M881 141h1.55M902 182h1.55M904 181h1.55M873 163h1.55M856 176h1.55M878 192h1.55M890 198h1.55M902 193h1.55M880 184h1.55M880 148h1.55M858 188h1.55M890 126h1.55M882 160h1.55M901 190h1.55M889 156h1.55M897 180h1.55M890 200h1.55M864 199h1.55M922 184h1.55M911 186h1.55M916 189h1.55M855 180h1.55M903 187h1.55M886 192h1.55M861 166h1.55M914 164h1.55M902 176h1.55M887 194h1.55M896 171h1.55M902 167h1.55M868 210h1.55M880 178h1.55M852 186h1.55M852 182h1.55M856 191h1.55M889 186h1.55M889 182h1.55M852 200h1.55M881 182h1.55M852 168h1.55M905 198h1.55M891 193h1.55M869 201h1.55M919 174h1.55M909 183h1.55M865 175h1.55M904 134h1.55M873 179h1.55M858 194h1.55M907 161h1.55M878 207h1.55M873 140h1.55M854 182h1.55M862 194h1.55M894 194h1.55M882 184h1.55M876 180h1.55M843 182h1.55M923 174h1.55M848 175h1.55M873 189h1.55M874 159h1.55M875 193h1.55M896 188h1.55M879 165h1.55M884 169h1.55M882 151h1.55M886 174h1.55M872 167h1.55M849 209h1.55M918 177h1.55M891 149h1.55M864 167h1.55M863 191h1.55M911 176h1.55M865 192h1.55M896 160h1.55M853 197h1.55M909 193h1.55M844 169h1.55M916 175h1.55M882 184h1.55M898 165h1.55M902 190h1.55M897 140h1.55M897 160h1.55M881 186h1.55M930 170h1.55M883 191h1.55M895 149h1.55M871 176h1.55M869 187h1.55M905 157h1.55M858 178h1.55M878 173h1.55M884 169h1.55M862 176h1.55M850 196h1.55M863 193h1.55M888 156h1.55M867 158h1.55M876 183h1.55M858 192h1.55M933 162h1.55M896 164h1.55M850 197h1.55M896 201h1.55M907 179h1.55M869 195h1.55M908 167h1.55M912 174h1.55M888 153h1.55M860 190h1.55M898 166h1.55M904 202h1.55M892 176h1.55M905 200h1.55M876 182h1.55M920 169h1.55M858 205h1.55M873 159h1.55M867 161h1.55M857 194h1.55M862 201h1.55M904 168h1.55M875 175h1.55M880 186h1.55M886 166h1.55M896 178h1.55M919 172h1.55M849 159h1.55M876 200h1.55M886 177h1.55M886 204h1.55M877 172h1.55M918 164h1.55M905 147h1.55M902 160h1.55M900 164h1.55M866 211h1.55M866 173h1.55M913 178h1.55M870 156h1.55M906 170h1.55M909 167h1.55M881 179h1.55M876 172h1.55M884 183h1.55M905 200h1.55M887 190h1.55M900 137h1.55M890 156h1.55M908 174h1.55M878 150h1.55M889 165h1.55M843 186h1.55M912 186h1.55M873 175h1.55M900 196h1.55M884 167h1.55M852 171h1.55M840 170h1.55M894 153h1.55M836 188h1.55M877 178h1.55M860 161h1.55M880 182h1.55M861 193h1.55M843 194h1.55M867 182h1.55M845 192h1.55M898 183h1.55M884 197h1.55M872 179h1.55M870 167h1.55M858 192h1.55M891 158h1.55M843 180h1.55M874 182h1.55M885 182h1.55M895 181h1.55M900 166h1.55M842 178h1.55M855 202h1.55M899 169h1.55M888 205h1.55M887 178h1.55M889 168h1.55M890 186h1.55M898 165h1.55M891 194h1.55M889 187h1.55M881 162h1.55M895 178h1.55M886 178h1.55M882 187h1.55M898 186h1.55M883 172h1.55M879 177h1.55M912 166h1.55M888 187h1.55M866 181h1.55M883 157h1.55M859 162h1.55M879 177h1.55M900 161h1.55M896 190h1.55M884 183h1.55M911 190h1.55M910 171h1.55M870 180h1.55M897 197h1.55M910 177h1.55M908 182h1.55M869 169h1.55M898 176h1.55M848 168h1.55M907 203h1.55M852 190h1.55M894 174h1.55M853 181h1.55M891 168h1.55M882 192h1.55M863 167h1.55M888 177h1.55M889 165h1.55M889 160h1.55M851 165h1.55M904 186h1.55M900 189h1.55M893 185h1.55M854 171h1.55M873 149h1.55M849 178h1.55M870 203h1.55M868 195h1.55M891 166h1.55M845 213h1.55M890 185h1.55M903 167h1.55M873 192h1.55M926 188h1.55M864 201h1.55M891 172h1.55M905 202h1.55M892 195h1.55M892 206h1.55M865 189h1.55M894 190h1.55M883 167h1.55M912 153h1.55M904 156h1.55M855 196h1.55M882 180h1.55M909 163h1.55M899 169h1.55M845 163h1.55M891 179h1.55M860 214h1.55M895 161h1.55M860 215h1.55M892 191h1.55M909 165h1.55M921 177h1.55M858 178h1.55M873 170h1.55M926 191h1.55M910 190h1.55M889 168h1.55M924 169h1.55M895 183h1.55M876 191h1.55M869 171h1.55M881 153h1.55M855 194h1.55M875 158h1.55M862 174h1.55M905 154h1.55M877 183h1.55M906 178h1.55M899 175h1.55M905 166h1.55M896 183h1.55M897 179h1.55M950 158h1.55M889 183h1.55M841 188h1.55M892 169h1.55M876 159h1.55M896 188h1.55M857 163h1.55M877 191h1.55M861 196h1.55M897 166h1.55M880 165h1.55M904 160h1.55M844 188h1.55M868 149h1.55M919 164h1.55M861 164h1.55M883 189h1.55M909 169h1.55M888 191h1.55M862 150h1.55M875 208h1.55M917 179h1.55M881 178h1.55M937 192h1.55M890 172h1.55M891 170h1.55M882 133h1.55M888 154h1.55M887 192h1.55M885 209h1.55M938 194h1.55M917 181h1.55M880 191h1.55M875 198h1.55M881 176h1.55M884 155h1.55M895 199h1.55M924 185h1.55M879 181h1.55M859 148h1.55M874 176h1.55M870 194h1.55M881 181h1.55M896 194h1.55M904 159h1.55M895 185h1.55M911 173h1.55M897 167h1.55M858 179h1.55M905 197h1.55M917 191h1.55M843 173h1.55M900 162h1.55M873 156h1.55M906 155h1.55M892 182h1.55M882 190h1.55M874 149h1.55M867 160h1.55M879 159h1.55M932 200h1.55M872 187h1.55M879 188h1.55M891 183h1.55M887 178h1.55M923 173h1.55M897 145h1.55M862 178h1.55M885 169h1.55M853 195h1.55M918 182h1.55M883 201h1.55M885 172h1.55M887 140h1.55M877 166h1.55M856 187h1.55M872 177h1.55M912 174h1.55M895 163h1.55M893 168h1.55M866 164h1.55M888 191h1.55M835 149h1.55M885 165h1.55M906 176h1.55M863 170h1.55M884 146h1.55M881 184h1.55M855 193h1.55M882 177h1.55M914 182h1.55M894 178h1.55M865 188h1.55M883 184h1.55M885 170h1.55M860 190h1.55M898 192h1.55M912 188h1.55M889 178h1.55M883 190h1.55M885 179h1.55M889 176h1.55M864 171h1.55M874 178h1.55M909 148h1.55M864 166h1.55M878 130h1.55M908 185h1.55M890 171h1.55M893 207h1.55M890 194h1.55M883 163h1.55M905 183h1.55M898 166h1.55M894 187h1.55M847 182h1.55M896 153h1.55M884 163h1.55M847 163h1.55M924 183h1.55M861 179h1.55M904 181h1.55M831 172h1.55M910 174h1.55M905 189h1.55M871 208h1.55M903 193h1.55M903 173h1.55M877 189h1.55M893 183h1.55M902 198h1.55M877 198h1.55M871 181h1.55M893 202h1.55M870 151h1.55M908 166h1.55M887 188h1.55M880 191h1.55M858 209h1.55M868 158h1.55M872 213h1.55M894 179h1.55M880 184h1.55M857 163h1.55M916 183h1.55M889 179h1.55M886 176h1.55M841 202h1.55M891 173h1.55M837 176h1.55M898 197h1.55M878 170h1.55M853 176h1.55M901 139h1.55M918 182h1.55M916 198h1.55M894 165h1.55M862 186h1.55M874 191h1.55M914 169h1.55M882 170h1.55M877 159h1.55M863 195h1.55M873 198h1.55M875 184h1.55M890 182h1.55M875 194h1.55M915 169h1.55M891 203h1.55M857 187h1.55M890 168h1.55M882 173h1.55M881 190h1.55M877 187h1.55M891 153h1.55M880 176h1.55M837 141h1.55M886 179h1.55M886 188h1.55M868 180h1.55M862 185h1.55M892 187h1.55M876 186h1.55M902 185h1.55M867 173h1.55M913 190h1.55M916 192h1.55M907 156h1.55M889 162h1.55M891 156h1.55M888 165h1.55M909 178h1.55M839 196h1.55M864 168h1.55M918 189h1.55M902 194h1.55M894 166h1.55M878 178h1.55M891 156h1.55M899 192h1.55M857 196h1.55M864 208h1.55M918 159h1.55M859 186h1.55M895 190h1.55M858 187h1.55M889 159h1.55M863 198h1.55M898 174h1.55M855 185h1.55M873 169h1.55M904 169h1.55M885 180h1.55M889 181h1.55M864 192h1.55M884 168h1.55M891 154h1.55M867 210h1.55M876 170h1.55M834 193h1.55M862 216h1.55M855 134h1.55M845 199h1.55M916 167h1.55M965 136h1.55M886 170h1.55M916 187h1.55M954 189h1.55M885 170h1.55M882 183h1.55M916 167h1.55M857 213h1.55M957 176h1.55M907 147h1.55M930 155h1.55M906 189h1.55M946 166h1.55M890 203h1.55M888 182h1.55M903 170h1.55M865 200h1.55M965 145h1.55M957 145h1.55M974 156h1.55M941 139h1.55M990 186h1.55M934 154h1.55M875 173h1.55M963 151h1.55M903 174h1.55M905 126h1.55M911 177h1.55M988 155h1.55M956 150h1.55M961 153h1.55M981 159h1.55M853 191h1.55M957 147h1.55M896 170h1.55M966 170h1.55M966 163h1.55M964 134h1.55M950 133h1.55M892 169h1.55M875 207h1.55M977 181h1.55M829 203h1.55M891 180h1.55M950 157h1.55M954 147h1.55M933 171h1.55M959 153h1.55M938 178h1.55M881 180h1.55M916 155h1.55M991 183h1.55M942 165h1.55M984 134h1.55M986 158h1.55M902 147h1.55M959 159h1.55M855 194h1.55M972 149h1.55M906 185h1.55M942 186h1.55M878 139h1.55M901 175h1.55M913 182h1.55M918 171h1.55M957 156h1.55M941 164h1.55M959 170h1.55M975 152h1.55M955 171h1.55M906 165h1.55M949 156h1.55M851 185h1.55M971 165h1.55M932 160h1.55M923 165h1.55M848 198h1.55M967 187h1.55M870 170h1.55M923 183h1.55M999 124h1.55M915 173h1.55" stroke="#258f35" stroke-width="1.55" stroke-opacity="0.64" fill="none"/><path transform="scale(.5)" d="M874 230h1.55M925 217h1.55M894 220h1.55M939 209h1.55M889 222h1.55M881 228h1.55M939 207h1.55M897 218h1.55M870 220h1.55M885 220h1.55M889 228h1.55M920 215h1.55M886 219h1.55M871 233h1.55M932 216h1.55M933 201h1.55M928 204h1.55M908 221h1.55M923 214h1.55M936 203h1.55M917 209h1.55M892 225h1.55M925 218h1.55M931 220h1.55M858 228h1.55M877 227h1.55M928 213h1.55M886 221h1.55M911 212h1.55M876 230h1.55M897 229h1.55M868 229h1.55M960 203h1.55M935 210h1.55M884 216h1.55M861 217h1.55M884 221h1.55M883 218h1.55M954 210h1.55M929 219h1.55M904 221h1.55M887 217h1.55M931 206h1.55M936 202h1.55M889 228h1.55M858 228h1.55M864 222h1.55M869 228h1.55M941 218h1.55M864 230h1.55M922 213h1.55M934 215h1.55M900 225h1.55M864 223h1.55M933 212h1.55M887 223h1.55M910 214h1.55M878 219h1.55M886 216h1.55M931 216h1.55M879 214h1.55M859 225h1.55M919 221h1.55M884 227h1.55M871 233h1.55M872 221h1.55M906 213h1.55M867 229h1.55M861 233h1.55M878 230h1.55M864 226h1.55M905 213h1.55M917 224h1.55M878 230h1.55M880 222h1.55M912 209h1.55M900 216h1.55M914 222h1.55M974 196h1.55M860 229h1.55M877 219h1.55M860 223h1.55M871 230h1.55M930 212h1.55M875 225h1.55M873 230h1.55M862 225h1.55M860 233h1.55M989 198h1.55M897 224h1.55M923 211h1.55M920 210h1.55M911 207h1.55M895 219h1.55M899 214h1.55M918 207h1.55M876 219h1.55M875 233h1.55M932 216h1.55M909 210h1.55M896 218h1.55M920 210h1.55M868 226h1.55M956 202h1.55M921 218h1.55M870 227h1.55M881 231h1.55M937 216h1.55M899 221h1.55M928 205h1.55M917 216h1.55M889 223h1.55M870 216h1.55M859 234h1.55M917 217h1.55M913 206h1.55M885 217h1.55M874 226h1.55M966 195h1.55M883 228h1.55M931 214h1.55M879 230h1.55M875 222h1.55M921 211h1.55M905 223h1.55M949 200h1.55M878 218h1.55M860 231h1.55M905 216h1.55M878 229h1.55M931 213h1.55M973 210h1.55M869 229h1.55M875 215h1.55M890 215h1.55M934 205h1.55M959 210h1.55M913 222h1.55M864 223h1.55M936 217h1.55M938 205h1.55M936 212h1.55M925 213h1.55M942 205h1.55M937 211h1.55M897 218h1.55M891 221h1.55M880 222h1.55M912 213h1.55M923 222h1.55M888 213h1.55M887 217h1.55M898 225h1.55M928 218h1.55M863 235h1.55M878 216h1.55M878 225h1.55M935 205h1.55M906 213h1.55M912 213h1.55M902 223h1.55M894 213h1.55M886 219h1.55M877 217h1.55M861 227h1.55M880 229h1.55M911 220h1.55M862 236h1.55M892 229h1.55M886 221h1.55M886 224h1.55M939 203h1.55M870 229h1.55M927 211h1.55M965 204h1.55M929 214h1.55M866 222h1.55M864 227h1.55M901 214h1.55M910 213h1.55M868 218h1.55M911 213h1.55M905 213h1.55M872 228h1.55M929 216h1.55M890 223h1.55M874 233h1.55M916 212h1.55M896 221h1.55M901 212h1.55M915 218h1.55M925 219h1.55M877 228h1.55M892 214h1.55M885 226h1.55M899 216h1.55M933 212h1.55M915 215h1.55M885 227h1.55M914 215h1.55M870 228h1.55M927 207h1.55M926 211h1.55M871 231h1.55M922 210h1.55M865 228h1.55M863 228h1.55M926 206h1.55M898 215h1.55M916 212h1.55M892 212h1.55M876 222h1.55M942 204h1.55M860 228h1.55M857 224h1.55M941 214h1.55M900 229h1.55M908 216h1.55M868 228h1.55M898 228h1.55M906 211h1.55M960 199h1.55M878 224h1.55M930 215h1.55M879 215h1.55M912 210h1.55M877 230h1.55M874 229h1.55M909 214h1.55M863 224h1.55M914 209h1.55M869 226h1.55M912 222h1.55M910 219h1.55M902 211h1.55M918 216h1.55M902 215h1.55M927 211h1.55M888 221h1.55M926 210h1.55M881 223h1.55M866 237h1.55M882 220h1.55M893 214h1.55M887 218h1.55M857 229h1.55M881 228h1.55M900 220h1.55M930 210h1.55M904 219h1.55M908 223h1.55M865 224h1.55M898 220h1.55M864 232h1.55M870 226h1.55M875 219h1.55M927 217h1.55M919 211h1.55M872 224h1.55M931 217h1.55M872 222h1.55M921 219h1.55M918 216h1.55M880 213h1.55M894 218h1.55M906 221h1.55M888 220h1.55M903 219h1.55M890 220h1.55M865 230h1.55M875 220h1.55M903 220h1.55M879 231h1.55M876 221h1.55M931 202h1.55M868 226h1.55M934 210h1.55M873 218h1.55M939 209h1.55M944 202h1.55M915 218h1.55M910 225h1.55M911 213h1.55M873 229h1.55M889 229h1.55M870 223h1.55M936 207h1.55M944 204h1.55M878 225h1.55M885 220h1.55M903 219h1.55M886 220h1.55M861 230h1.55M921 219h1.55M962 200h1.55M872 217h1.55M895 224h1.55M913 214h1.55M865 228h1.55M895 217h1.55M917 216h1.55M893 222h1.55M872 221h1.55M907 219h1.55M893 221h1.55M888 217h1.55M924 211h1.55M856 218h1.55M934 200h1.55M883 230h1.55M865 222h1.55M891 226h1.55M934 208h1.55M914 214h1.55M889 221h1.55M883 223h1.55M948 205h1.55M914 212h1.55M952 209h1.55M930 206h1.55M909 210h1.55M883 221h1.55M869 226h1.55M867 233h1.55M916 211h1.55M878 226h1.55M916 216h1.55M937 204h1.55M929 209h1.55M861 227h1.55M871 228h1.55M910 216h1.55M878 226h1.55M875 229h1.55M905 215h1.55M862 230h1.55M928 209h1.55M876 229h1.55M867 235h1.55M867 222h1.55M861 223h1.55M898 218h1.55M893 213h1.55M860 230h1.55M928 215h1.55M867 228h1.55M883 220h1.55M910 224h1.55M895 223h1.55M883 225h1.55M913 215h1.55M897 224h1.55M905 219h1.55M923 218h1.55M883 218h1.55M886 219h1.55M907 222h1.55M908 218h1.55M931 217h1.55M868 236h1.55M921 214h1.55M876 226h1.55M871 221h1.55M916 213h1.55M911 210h1.55M885 229h1.55M884 228h1.55M911 224h1.55M883 220h1.55M909 217h1.55M887 221h1.55M867 235h1.55M860 226h1.55M882 216h1.55M864 230h1.55M898 221h1.55M916 218h1.55M908 214h1.55M934 205h1.55M882 224h1.55M886 232h1.55M900 214h1.55M868 229h1.55M869 233h1.55M906 211h1.55M864 227h1.55M894 225h1.55M893 218h1.55M881 224h1.55M914 210h1.55M899 218h1.55M934 221h1.55M946 213h1.55M897 225h1.55M910 214h1.55M898 214h1.55M934 207h1.55M941 216h1.55M901 224h1.55M905 214h1.55M890 217h1.55M930 210h1.55M900 224h1.55M900 228h1.55M902 216h1.55M872 227h1.55M919 213h1.55M882 222h1.55M911 217h1.55M890 220h1.55M898 221h1.55M888 216h1.55M962 203h1.55M920 215h1.55M890 218h1.55M925 205h1.55M920 214h1.55M932 215h1.55M918 217h1.55M928 205h1.55M983 199h1.55M945 202h1.55M872 228h1.55M947 213h1.55M875 218h1.55M888 222h1.55M902 222h1.55M891 214h1.55M875 224h1.55M913 215h1.55M857 232h1.55M916 208h1.55M874 232h1.55M946 210h1.55M880 226h1.55M855 227h1.55M901 219h1.55M887 218h1.55M876 228h1.55M921 218h1.55M866 228h1.55M897 213h1.55M891 217h1.55M884 225h1.55M876 228h1.55M931 209h1.55M868 233h1.55M920 211h1.55M865 231h1.55M876 218h1.55M883 229h1.55M946 202h1.55M868 229h1.55M894 220h1.55M888 216h1.55M911 206h1.55M880 216h1.55M869 230h1.55M876 224h1.55M950 207h1.55M903 216h1.55M871 226h1.55M869 228h1.55M861 236h1.55M860 233h1.55M923 206h1.55M862 222h1.55M878 229h1.55M857 231h1.55M915 216h1.55M882 223h1.55M856 227h1.55M963 202h1.55M895 216h1.55M901 215h1.55M909 212h1.55M911 216h1.55M884 223h1.55M938 210h1.55M864 225h1.55M956 199h1.55M915 214h1.55M864 226h1.55M896 216h1.55M877 224h1.55M893 226h1.55M916 220h1.55M872 229h1.55M861 225h1.55M865 230h1.55M887 229h1.55M881 225h1.55M869 215h1.55M909 219h1.55M863 221h1.55M866 231h1.55M908 219h1.55M872 231h1.55M883 216h1.55M935 215h1.55M856 232h1.55M859 222h1.55M863 224h1.55M915 214h1.55M922 219h1.55M914 218h1.55M883 228h1.55M937 203h1.55M988 158h1.55M995 192h1.55M991 202h1.55M890 215h1.55M970 191h1.55M1009 172h1.55M935 207h1.55M922 210h1.55M901 226h1.55M912 220h1.55M1008 192h1.55M942 232h1.55M920 210h1.55M874 237h1.55M943 222h1.55M901 220h1.55M944 197h1.55M988 182h1.55M918 216h1.55M942 212h1.55M995 188h1.55M903 211h1.55M925 211h1.55" stroke="#2cc2f0" stroke-width="1.55" stroke-opacity="0.66" fill="none"/><path transform="scale(.5)" d="M822 236h1.55M849 215h1.55M833 241h1.55M841 232h1.55M829 236h1.55M848 213h1.55M810 242h1.55M829 234h1.55M826 235h1.55M837 231h1.55M836 226h1.55M830 229h1.55M843 226h1.55M853 225h1.55M824 240h1.55M842 217h1.55M841 233h1.55M829 236h1.55M835 238h1.55M833 235h1.55M837 235h1.55M827 235h1.55M836 230h1.55M833 233h1.55M827 238h1.55M823 235h1.55M835 232h1.55M825 239h1.55M827 230h1.55M828 234h1.55M824 234h1.55M831 238h1.55M817 244h1.55M825 230h1.55M823 242h1.55M819 236h1.55M834 234h1.55M836 230h1.55M827 236h1.55M833 226h1.55M844 223h1.55M831 233h1.55M825 238h1.55M837 232h1.55M832 240h1.55M833 226h1.55M831 233h1.55M833 232h1.55M827 230h1.55M846 218h1.55M835 233h1.55M819 235h1.55M828 232h1.55M834 246h1.55M851 228h1.55M833 225h1.55M818 241h1.55M834 240h1.55M846 227h1.55M835 231h1.55M849 228h1.55M827 234h1.55M837 230h1.55M837 223h1.55M838 237h1.55M828 245h1.55M825 232h1.55M843 224h1.55M839 231h1.55M827 232h1.55M819 242h1.55M824 237h1.55M835 230h1.55M842 226h1.55M841 226h1.55M815 244h1.55M825 239h1.55M813 246h1.55M831 240h1.55M827 231h1.55M830 230h1.55M820 230h1.55M827 243h1.55M831 230h1.55M840 224h1.55M843 235h1.55M834 235h1.55M810 238h1.55M820 236h1.55M839 230h1.55M820 233h1.55M831 233h1.55M831 231h1.55M836 230h1.55M839 229h1.55M823 243h1.55M838 234h1.55M831 229h1.55M826 237h1.55M825 245h1.55M835 230h1.55M824 241h1.55M827 238h1.55M827 239h1.55M850 224h1.55M822 242h1.55M841 228h1.55M837 232h1.55M824 229h1.55M835 234h1.55M840 236h1.55M820 242h1.55M828 235h1.55M820 238h1.55M830 235h1.55M835 233h1.55M842 232h1.55M834 233h1.55M816 249h1.55M826 234h1.55M823 242h1.55M831 242h1.55M824 232h1.55M841 233h1.55M827 240h1.55M824 236h1.55M828 237h1.55M822 246h1.55M832 237h1.55M838 232h1.55M833 229h1.55M818 234h1.55M824 232h1.55M841 236h1.55M823 247h1.55M838 229h1.55M841 234h1.55M837 230h1.55M834 228h1.55M828 227h1.55M821 242h1.55M842 233h1.55M837 230h1.55M840 242h1.55M822 235h1.55M820 236h1.55M845 242h1.55M835 238h1.55M827 246h1.55M830 227h1.55M847 215h1.55M832 243h1.55M838 225h1.55M835 239h1.55M822 241h1.55M839 220h1.55M828 246h1.55M828 231h1.55M825 237h1.55M843 236h1.55M842 218h1.55M831 232h1.55M838 234h1.55M837 229h1.55M825 238h1.55M830 237h1.55M835 227h1.55M840 231h1.55M837 231h1.55M847 230h1.55M841 231h1.55M816 239h1.55M823 244h1.55M830 232h1.55M829 232h1.55M838 239h1.55M837 221h1.55M825 233h1.55M831 238h1.55M834 243h1.55M824 234h1.55M838 227h1.55M835 235h1.55M829 224h1.55M833 234h1.55M838 229h1.55M831 237h1.55M832 233h1.55M817 239h1.55M844 224h1.55M834 229h1.55M836 226h1.55M832 240h1.55M834 229h1.55M828 237h1.55M831 225h1.55M829 240h1.55M833 237h1.55M830 240h1.55M839 226h1.55M828 226h1.55M841 233h1.55M837 233h1.55M819 239h1.55M823 230h1.55M830 236h1.55M825 238h1.55M829 231h1.55M827 240h1.55M825 241h1.55M829 236h1.55M824 233h1.55M825 236h1.55M829 233h1.55M833 235h1.55M833 236h1.55M827 229h1.55M834 224h1.55M822 233h1.55M833 229h1.55M825 227h1.55M824 237h1.55M822 241h1.55M834 230h1.55M830 227h1.55M828 246h1.55M843 235h1.55M837 230h1.55M841 232h1.55M838 231h1.55M828 241h1.55M826 235h1.55M843 221h1.55M839 229h1.55M845 225h1.55M846 231h1.55M839 235h1.55M829 236h1.55M816 241h1.55M836 240h1.55M831 234h1.55M821 244h1.55M840 230h1.55M830 235h1.55M832 239h1.55M835 242h1.55M833 234h1.55M825 246h1.55M834 234h1.55M828 239h1.55M830 228h1.55M833 243h1.55M827 242h1.55M832 227h1.55M836 235h1.55M840 231h1.55M823 240h1.55M847 224h1.55M824 234h1.55M822 232h1.55M840 235h1.55M829 237h1.55M824 236h1.55M825 228h1.55M831 228h1.55M838 227h1.55M839 232h1.55M837 225h1.55M841 231h1.55M824 231h1.55M838 236h1.55M836 229h1.55M818 245h1.55M824 242h1.55M831 238h1.55M841 229h1.55M818 237h1.55M838 238h1.55M842 234h1.55M821 232h1.55M827 236h1.55M826 239h1.55M816 244h1.55M823 233h1.55M830 239h1.55M832 244h1.55M839 239h1.55M821 238h1.55M820 239h1.55M847 227h1.55M819 236h1.55M848 228h1.55M836 227h1.55M830 229h1.55M827 232h1.55M830 235h1.55M823 239h1.55M833 238h1.55M827 239h1.55M841 225h1.55M833 225h1.55M832 223h1.55M840 224h1.55M830 233h1.55M833 237h1.55M818 239h1.55M819 237h1.55M844 225h1.55M826 241h1.55M836 231h1.55M827 234h1.55M825 243h1.55M836 235h1.55M837 232h1.55M832 234h1.55M842 228h1.55M835 238h1.55M833 233h1.55M839 240h1.55M836 230h1.55M833 230h1.55M842 233h1.55M827 235h1.55M814 241h1.55M826 233h1.55M826 237h1.55M829 243h1.55M834 235h1.55M823 241h1.55M830 241h1.55M831 230h1.55M836 234h1.55M830 247h1.55M834 226h1.55M828 243h1.55M818 233h1.55M831 236h1.55M832 233h1.55M829 236h1.55M834 226h1.55M823 239h1.55M830 233h1.55M848 219h1.55M837 230h1.55M832 226h1.55M843 231h1.55M832 231h1.55M824 240h1.55M825 232h1.55M836 233h1.55M833 232h1.55M824 236h1.55M820 239h1.55M827 235h1.55M822 230h1.55M824 233h1.55M829 228h1.55M829 242h1.55M834 226h1.55M846 246h1.55M840 219h1.55M834 237h1.55M840 238h1.55M827 232h1.55M843 228h1.55M833 240h1.55M832 237h1.55M833 236h1.55M835 232h1.55M825 234h1.55M836 232h1.55M828 231h1.55M835 232h1.55M847 226h1.55M823 242h1.55M837 240h1.55M843 221h1.55M823 236h1.55M822 240h1.55M826 228h1.55M819 244h1.55M818 244h1.55M829 235h1.55M841 232h1.55M823 230h1.55M834 237h1.55M834 238h1.55M826 240h1.55M815 233h1.55M828 234h1.55M830 235h1.55M824 235h1.55M830 239h1.55M834 223h1.55M833 229h1.55M829 234h1.55M837 230h1.55M838 221h1.55M832 231h1.55M826 239h1.55M827 238h1.55M824 236h1.55M834 233h1.55M843 225h1.55M830 233h1.55M825 233h1.55M825 238h1.55M845 223h1.55M826 243h1.55M845 236h1.55M840 220h1.55M827 234h1.55M830 239h1.55M836 234h1.55M835 229h1.55M826 236h1.55M832 234h1.55M826 229h1.55M825 236h1.55M838 227h1.55M831 240h1.55M834 243h1.55M828 236h1.55M839 225h1.55M838 227h1.55M837 239h1.55M828 237h1.55M834 239h1.55M819 240h1.55M829 235h1.55M830 235h1.55M820 235h1.55M834 232h1.55M846 228h1.55M838 230h1.55M829 230h1.55M831 234h1.55M822 238h1.55M835 233h1.55M820 235h1.55M829 228h1.55M820 236h1.55M832 232h1.55M828 232h1.55M837 229h1.55M821 234h1.55M842 234h1.55M829 226h1.55M837 233h1.55M832 231h1.55M824 240h1.55M830 236h1.55M846 235h1.55M826 241h1.55M841 228h1.55M830 235h1.55M835 236h1.55M834 242h1.55M839 230h1.55M841 231h1.55M831 246h1.55M830 228h1.55M818 248h1.55M828 230h1.55M841 218h1.55M837 238h1.55M824 235h1.55M833 237h1.55M830 233h1.55M849 224h1.55M835 230h1.55M839 233h1.55M839 221h1.55M838 235h1.55M824 239h1.55M833 238h1.55M834 240h1.55M833 240h1.55M840 242h1.55M827 239h1.55M822 242h1.55M826 229h1.55M837 232h1.55M837 230h1.55M838 231h1.55M834 233h1.55M834 222h1.55M839 220h1.55M826 228h1.55M829 235h1.55M822 234h1.55M820 241h1.55M839 235h1.55M838 236h1.55M828 234h1.55M828 245h1.55M825 236h1.55M834 239h1.55M824 237h1.55M824 241h1.55M841 231h1.55M829 228h1.55M828 237h1.55M831 233h1.55M840 220h1.55M823 231h1.55M822 243h1.55M828 239h1.55M832 232h1.55M824 236h1.55M825 234h1.55M836 237h1.55M822 234h1.55M830 233h1.55M825 229h1.55M836 234h1.55M836 237h1.55M829 237h1.55M826 242h1.55M841 232h1.55M833 240h1.55M843 232h1.55M835 228h1.55M836 233h1.55M817 247h1.55M833 241h1.55M822 238h1.55M828 229h1.55M831 226h1.55M834 233h1.55M830 229h1.55M836 226h1.55M830 240h1.55M836 225h1.55M824 238h1.55M824 238h1.55M848 225h1.55M828 236h1.55M827 234h1.55M818 238h1.55M826 237h1.55M846 217h1.55M833 233h1.55M832 227h1.55M844 230h1.55M842 227h1.55M833 234h1.55M827 233h1.55M831 230h1.55M830 239h1.55M829 236h1.55M829 224h1.55M833 234h1.55M845 215h1.55M835 225h1.55M819 243h1.55M831 234h1.55M816 241h1.55M841 219h1.55M832 230h1.55M837 242h1.55M833 227h1.55M836 228h1.55M844 231h1.55M834 240h1.55M837 227h1.55M846 220h1.55M833 244h1.55M830 236h1.55M832 236h1.55M828 234h1.55M829 240h1.55M833 241h1.55M815 244h1.55M828 244h1.55M830 234h1.55M842 230h1.55M832 234h1.55M830 242h1.55M822 250h1.55M826 242h1.55M832 244h1.55M832 231h1.55M824 242h1.55M826 233h1.55M838 226h1.55M833 225h1.55M836 230h1.55M833 227h1.55M830 229h1.55M830 241h1.55M829 231h1.55M847 225h1.55M828 246h1.55M825 239h1.55M827 234h1.55M833 236h1.55M851 224h1.55M832 240h1.55M826 235h1.55M819 243h1.55M825 237h1.55M836 231h1.55M839 231h1.55M836 236h1.55M822 245h1.55M828 233h1.55M844 223h1.55M838 234h1.55M845 228h1.55M826 235h1.55M821 238h1.55M823 231h1.55M839 238h1.55M830 238h1.55M829 229h1.55M823 240h1.55M838 234h1.55M830 238h1.55M837 226h1.55M820 234h1.55M844 227h1.55M832 230h1.55M833 234h1.55M833 233h1.55M815 238h1.55M835 236h1.55M829 244h1.55M832 232h1.55M830 229h1.55M832 239h1.55M828 227h1.55M841 227h1.55M847 229h1.55M828 238h1.55M854 236h1.55M833 232h1.55M823 236h1.55M816 242h1.55M826 241h1.55M833 233h1.55M827 236h1.55M822 232h1.55M833 231h1.55M837 219h1.55M820 240h1.55M821 236h1.55M829 239h1.55M826 230h1.55M823 236h1.55M830 236h1.55M827 226h1.55M827 235h1.55M838 238h1.55M828 233h1.55M834 231h1.55M825 240h1.55M837 234h1.55M837 228h1.55M847 233h1.55M835 240h1.55M836 229h1.55M823 238h1.55M831 226h1.55M816 243h1.55M843 226h1.55M825 229h1.55M844 228h1.55M837 228h1.55M837 238h1.55M847 224h1.55M827 244h1.55M842 225h1.55M838 229h1.55M821 241h1.55M828 242h1.55M834 236h1.55M833 231h1.55M830 239h1.55M827 230h1.55M836 224h1.55M827 241h1.55M833 233h1.55M835 229h1.55M820 239h1.55M843 227h1.55M831 234h1.55M818 238h1.55M832 228h1.55M829 239h1.55M824 239h1.55M829 231h1.55M826 241h1.55M824 241h1.55M835 226h1.55M828 229h1.55M835 233h1.55M839 236h1.55M825 236h1.55M833 236h1.55M831 239h1.55M833 227h1.55M844 234h1.55M839 233h1.55M822 242h1.55M829 229h1.55M839 228h1.55M845 236h1.55M829 232h1.55M853 229h1.55M813 246h1.55M828 233h1.55M832 238h1.55M827 234h1.55M823 240h1.55M831 242h1.55M829 238h1.55M831 231h1.55M826 233h1.55M827 239h1.55M835 234h1.55M834 227h1.55M838 233h1.55M823 240h1.55M830 231h1.55M832 229h1.55M821 243h1.55M829 231h1.55M829 233h1.55M821 233h1.55M835 239h1.55M830 236h1.55M819 234h1.55M822 240h1.55M823 239h1.55M835 221h1.55M838 230h1.55M841 236h1.55M832 237h1.55M816 245h1.55M818 235h1.55M821 233h1.55M827 230h1.55M832 225h1.55M828 243h1.55M840 228h1.55M839 229h1.55M829 228h1.55M834 233h1.55M829 228h1.55M837 221h1.55M837 235h1.55M838 231h1.55M825 238h1.55M829 242h1.55M834 237h1.55M837 228h1.55M821 238h1.55M837 236h1.55M838 231h1.55M827 232h1.55M816 246h1.55M835 229h1.55M840 224h1.55M829 228h1.55M828 231h1.55M816 252h1.55M836 224h1.55M832 227h1.55M817 240h1.55M822 242h1.55M822 233h1.55M823 233h1.55M836 229h1.55M831 227h1.55M831 229h1.55M839 238h1.55M844 222h1.55M829 231h1.55M824 239h1.55M823 240h1.55M842 234h1.55M822 236h1.55M821 233h1.55M830 231h1.55M839 224h1.55M828 231h1.55M838 230h1.55M827 241h1.55M819 239h1.55M838 226h1.55M832 239h1.55M843 226h1.55M842 227h1.55M831 233h1.55M817 233h1.55M827 235h1.55M831 230h1.55M827 240h1.55M831 239h1.55M823 234h1.55M827 232h1.55M828 233h1.55M822 230h1.55M825 234h1.55M841 219h1.55M828 239h1.55M832 231h1.55M842 229h1.55M836 231h1.55M823 230h1.55M841 224h1.55M834 233h1.55M847 229h1.55M841 230h1.55M835 230h1.55M829 236h1.55M834 234h1.55M822 231h1.55M825 236h1.55M826 244h1.55M831 229h1.55M840 234h1.55M824 238h1.55M838 228h1.55M822 239h1.55M818 240h1.55M823 243h1.55M819 245h1.55M824 233h1.55M828 236h1.55M827 236h1.55M831 240h1.55M828 232h1.55M824 249h1.55M837 230h1.55M829 244h1.55M826 230h1.55M826 236h1.55M846 220h1.55M833 239h1.55M838 224h1.55M826 232h1.55M831 224h1.55M838 229h1.55M837 231h1.55M824 240h1.55M825 231h1.55M830 231h1.55M823 234h1.55M831 242h1.55M835 229h1.55M837 220h1.55M834 239h1.55M815 243h1.55M817 234h1.55M838 236h1.55M813 236h1.55M837 224h1.55M841 224h1.55M825 236h1.55M833 236h1.55M837 246h1.55M823 240h1.55M813 243h1.55M839 223h1.55M835 243h1.55M823 240h1.55M844 238h1.55M826 229h1.55M838 235h1.55M829 233h1.55M840 230h1.55M830 235h1.55M824 241h1.55M838 232h1.55M829 239h1.55M823 234h1.55M832 230h1.55M832 232h1.55M838 233h1.55M831 240h1.55M839 224h1.55M830 231h1.55M834 227h1.55M836 231h1.55M828 230h1.55M835 228h1.55M842 231h1.55M834 238h1.55M838 225h1.55M832 235h1.55M837 245h1.55M836 227h1.55M837 234h1.55M829 237h1.55M832 237h1.55M825 236h1.55M831 226h1.55M841 229h1.55M834 227h1.55M839 240h1.55M819 245h1.55M842 221h1.55M830 234h1.55M833 232h1.55M839 233h1.55M828 237h1.55M824 245h1.55M828 243h1.55M835 225h1.55M837 236h1.55M833 232h1.55M818 235h1.55M833 229h1.55M817 248h1.55M849 227h1.55M843 224h1.55M829 240h1.55M825 240h1.55M809 239h1.55M850 221h1.55M833 236h1.55M831 237h1.55M842 231h1.55M826 228h1.55M844 230h1.55M825 239h1.55M829 230h1.55M828 237h1.55M831 240h1.55M840 231h1.55M834 236h1.55M826 237h1.55M827 228h1.55M824 231h1.55M831 228h1.55M829 239h1.55M826 231h1.55M828 231h1.55M847 233h1.55M824 241h1.55M824 235h1.55M825 243h1.55M830 234h1.55M832 233h1.55M820 243h1.55M834 230h1.55M837 236h1.55M830 244h1.55M831 239h1.55M837 232h1.55M832 231h1.55M823 242h1.55M814 248h1.55M847 220h1.55M842 228h1.55M828 234h1.55M826 234h1.55M840 236h1.55M816 245h1.55M833 241h1.55M833 225h1.55M839 237h1.55M835 237h1.55M838 228h1.55M831 228h1.55M802 249h1.55M826 253h1.55M836 221h1.55M834 246h1.55M851 220h1.55M851 245h1.55M783 261h1.55M812 259h1.55M828 227h1.55M854 224h1.55M813 273h1.55M829 250h1.55M830 237h1.55M844 239h1.55M833 236h1.55M815 254h1.55M830 241h1.55M833 252h1.55M847 222h1.55M848 239h1.55M829 242h1.55M808 259h1.55M840 236h1.55M832 259h1.55M816 255h1.55M824 235h1.55M852 258h1.55M832 252h1.55M839 260h1.55M822 244h1.55M806 247h1.55M817 264h1.55M827 235h1.55M829 262h1.55M807 240h1.55M830 257h1.55M818 259h1.55M836 241h1.55M837 232h1.55M823 248h1.55M819 234h1.55M853 228h1.55M811 256h1.55M851 228h1.55M844 228h1.55M834 225h1.55M830 245h1.55M833 255h1.55M814 263h1.55M850 244h1.55M814 241h1.55M804 275h1.55M851 215h1.55M832 248h1.55M839 228h1.55M847 237h1.55M828 226h1.55M834 269h1.55M819 238h1.55M809 245h1.55M827 230h1.55M814 236h1.55M839 248h1.55M828 228h1.55M816 245h1.55M844 250h1.55M803 261h1.55M851 224h1.55M819 235h1.55M846 234h1.55M826 226h1.55M826 243h1.55M803 257h1.55M816 232h1.55M850 247h1.55M825 233h1.55M845 223h1.55M812 236h1.55M838 247h1.55M826 232h1.55M829 241h1.55" stroke="#f23632" stroke-width="1.55" stroke-opacity="0.66" fill="none"/><path d="M369.8 5.1V139.6H505.8M377.8 139.6v1.8M385.7 139.6v1.8M393.7 139.6v1.8M409.6 139.6v1.8M417.5 139.6v1.8M425.4 139.6v1.8M441.4 139.6v1.8M449.3 139.6v1.8M457.2 139.6v1.8M473.2 139.6v1.8M481.1 139.6v1.8M489.1 139.6v1.8M505.0 139.6v1.8M369.8 127.2h-2.2M369.8 120.0h-2.2M369.8 114.9h-2.2M369.8 110.9h-2.2M369.8 107.6h-2.2M369.8 104.9h-2.2M369.8 102.5h-2.2M369.8 100.4h-2.2M369.8 86.1h-2.2M369.8 78.9h-2.2M369.8 73.8h-2.2M369.8 69.8h-2.2M369.8 66.5h-2.2M369.8 63.8h-2.2M369.8 61.4h-2.2M369.8 59.3h-2.2M369.8 45.0h-2.2M369.8 37.8h-2.2M369.8 32.7h-2.2M369.8 28.7h-2.2M369.8 25.4h-2.2M369.8 22.7h-2.2M369.8 20.3h-2.2M369.8 18.2h-2.2" fill="none" stroke="#3a3a3a" stroke-width="0.75"/><path d="M369.8 139.6v4.2M401.6 139.6v4.2M433.4 139.6v4.2M465.2 139.6v4.2M497.0 139.6v4.2M369.8 139.6h-4.6M369.8 98.5h-4.6M369.8 57.4h-4.6M369.8 16.3h-4.6" fill="none" stroke="#111" stroke-width="1.1"/><text x="369.8" y="150.9" text-anchor="middle" class="tk">0</text><text x="401.6" y="150.9" text-anchor="middle" class="tk">200</text><text x="433.4" y="150.9" text-anchor="middle" class="tk">400</text><text x="465.2" y="150.9" text-anchor="middle" class="tk">600</text><text x="497.0" y="150.9" text-anchor="middle" class="tk">800</text><text x="361.5" y="138.9" text-anchor="end" class="tk">10<tspan dy="-2.4" font-size="3.8">0</tspan></text><text x="361.5" y="99.3" text-anchor="end" class="tk">10<tspan dy="-2.4" font-size="3.8">1</tspan></text><text x="361.5" y="59.8" text-anchor="end" class="tk">10<tspan dy="-2.4" font-size="3.8">2</tspan></text><text x="361.5" y="20.2" text-anchor="end" class="tk">10<tspan dy="-2.4" font-size="3.8">3</tspan></text></g><g><path transform="scale(.5)" d="M253 490h1.55M222 506h1.55M226 485h1.55M247 484h1.55M225 496h1.55M218 504h1.55M235 495h1.55M214 507h1.55M258 468h1.55M217 473h1.55M248 473h1.55M235 491h1.55M258 472h1.55M209 475h1.55M238 477h1.55M217 506h1.55M261 475h1.55M256 481h1.55M235 514h1.55M273 495h1.55M210 471h1.55M242 510h1.55M188 487h1.55M250 491h1.55M239 495h1.55M258 488h1.55M247 500h1.55M262 489h1.55M229 484h1.55M242 484h1.55M224 476h1.55M268 479h1.55M233 472h1.55M285 480h1.55M216 500h1.55M217 488h1.55M229 471h1.55M267 504h1.55M250 500h1.55M231 512h1.55M235 474h1.55M234 481h1.55M204 496h1.55M233 487h1.55M259 495h1.55M249 479h1.55M235 480h1.55M241 505h1.55M263 450h1.55M233 480h1.55M200 444h1.55M205 473h1.55M235 456h1.55M232 490h1.55M228 493h1.55M224 487h1.55M265 490h1.55M213 490h1.55M241 485h1.55M233 496h1.55M271 483h1.55M251 481h1.55M209 520h1.55M235 481h1.55M241 497h1.55M270 473h1.55M190 499h1.55M242 484h1.55M235 484h1.55M243 484h1.55M254 466h1.55M239 489h1.55M214 486h1.55M225 481h1.55M267 485h1.55M236 488h1.55M249 497h1.55M246 453h1.55M205 487h1.55M238 464h1.55M272 474h1.55M241 481h1.55M220 472h1.55M203 482h1.55M217 498h1.55M222 479h1.55M248 505h1.55M202 480h1.55M257 491h1.55M257 486h1.55M215 500h1.55M257 489h1.55M180 507h1.55M193 481h1.55M256 465h1.55M233 479h1.55M213 502h1.55M244 481h1.55M273 471h1.55M225 467h1.55M274 482h1.55M242 461h1.55M240 486h1.55M249 476h1.55M261 508h1.55M221 470h1.55M261 497h1.55M201 490h1.55M222 474h1.55M230 483h1.55M221 497h1.55M272 508h1.55M242 515h1.55M250 461h1.55M287 456h1.55M260 489h1.55M204 498h1.55M218 465h1.55M226 484h1.55M194 479h1.55M248 466h1.55M227 498h1.55M237 475h1.55M252 457h1.55M238 492h1.55M262 489h1.55M214 508h1.55M242 490h1.55M238 485h1.55M233 500h1.55M258 463h1.55M248 506h1.55M226 488h1.55M233 479h1.55M227 476h1.55M241 509h1.55M248 511h1.55M244 498h1.55M280 476h1.55M218 482h1.55M220 510h1.55M218 491h1.55M255 491h1.55M230 499h1.55M207 494h1.55M201 480h1.55M245 463h1.55M236 491h1.55M242 485h1.55M228 468h1.55M251 486h1.55M243 478h1.55M224 461h1.55M264 485h1.55M213 485h1.55M230 482h1.55M236 482h1.55M221 499h1.55M233 488h1.55M229 492h1.55M232 483h1.55M247 479h1.55M242 517h1.55M223 474h1.55M231 458h1.55M217 511h1.55M224 497h1.55M238 489h1.55M260 501h1.55M265 479h1.55M258 481h1.55M224 509h1.55M231 485h1.55M239 505h1.55M269 468h1.55M236 488h1.55M228 481h1.55M248 475h1.55M235 450h1.55M224 485h1.55M232 494h1.55M232 495h1.55M229 489h1.55M208 468h1.55M219 504h1.55M240 493h1.55M223 474h1.55M254 480h1.55M284 475h1.55M267 487h1.55M215 498h1.55M246 476h1.55M249 481h1.55M241 488h1.55M210 490h1.55M201 473h1.55M213 489h1.55M199 522h1.55M254 468h1.55M218 504h1.55M250 487h1.55M245 511h1.55M224 480h1.55M247 477h1.55M239 505h1.55M215 479h1.55M231 503h1.55M225 476h1.55M264 480h1.55M223 502h1.55M219 493h1.55M203 487h1.55M221 486h1.55M223 494h1.55M205 510h1.55M236 494h1.55M265 479h1.55M230 495h1.55M209 474h1.55M187 501h1.55M235 491h1.55M238 480h1.55M230 458h1.55M224 487h1.55M222 466h1.55M252 467h1.55M233 477h1.55M213 498h1.55M202 513h1.55M237 492h1.55M254 499h1.55M215 494h1.55M265 467h1.55M251 487h1.55M220 494h1.55M250 471h1.55M268 456h1.55M207 497h1.55M237 480h1.55M243 510h1.55M225 471h1.55M208 506h1.55M248 459h1.55M202 482h1.55M241 496h1.55M207 498h1.55M271 488h1.55M229 510h1.55M251 494h1.55M238 460h1.55M267 486h1.55M243 480h1.55M231 492h1.55M282 487h1.55M195 491h1.55M254 488h1.55M239 485h1.55M224 458h1.55M232 516h1.55M204 505h1.55M227 494h1.55M273 473h1.55M233 484h1.55M265 493h1.55M288 499h1.55M230 495h1.55M190 485h1.55M233 474h1.55M230 514h1.55M258 475h1.55M248 485h1.55M182 499h1.55M269 476h1.55M196 498h1.55M269 460h1.55M207 487h1.55M208 452h1.55M246 498h1.55M251 459h1.55M262 484h1.55M268 451h1.55M241 473h1.55M218 472h1.55M257 493h1.55M214 474h1.55M235 484h1.55M219 505h1.55M284 463h1.55M229 470h1.55M247 473h1.55M215 485h1.55M236 504h1.55M181 491h1.55M190 491h1.55M195 501h1.55M241 490h1.55M266 472h1.55M232 488h1.55M221 499h1.55M188 476h1.55M250 492h1.55M258 481h1.55M188 484h1.55M241 499h1.55M183 489h1.55M275 464h1.55M251 509h1.55M253 501h1.55M211 490h1.55M203 499h1.55M208 520h1.55M219 487h1.55M226 493h1.55M224 490h1.55M245 452h1.55M206 479h1.55M227 491h1.55M238 471h1.55M221 479h1.55M229 497h1.55M267 461h1.55M222 498h1.55M232 459h1.55M214 472h1.55M254 511h1.55M222 492h1.55M231 462h1.55M241 457h1.55M199 502h1.55M238 494h1.55M234 502h1.55M217 501h1.55M241 476h1.55M226 505h1.55M231 467h1.55M224 515h1.55M248 444h1.55M261 489h1.55M255 478h1.55M231 497h1.55M240 473h1.55M257 502h1.55M235 477h1.55M235 489h1.55M252 467h1.55M244 492h1.55M229 491h1.55M268 470h1.55M222 505h1.55M242 514h1.55M233 476h1.55M261 475h1.55M204 517h1.55M244 471h1.55M215 473h1.55M227 494h1.55M217 509h1.55M207 507h1.55M249 481h1.55M243 492h1.55M228 500h1.55M243 478h1.55M231 464h1.55M267 499h1.55M243 450h1.55M243 475h1.55M208 490h1.55M264 496h1.55M224 492h1.55M216 496h1.55M201 500h1.55M215 472h1.55M302 485h1.55M234 501h1.55M230 489h1.55M217 468h1.55M232 480h1.55M200 466h1.55M208 489h1.55M230 504h1.55M254 471h1.55M189 512h1.55M212 488h1.55M205 472h1.55M235 483h1.55M214 504h1.55M203 502h1.55M235 475h1.55M217 494h1.55M216 500h1.55M210 499h1.55M234 480h1.55M202 494h1.55M227 485h1.55M261 463h1.55M219 476h1.55M244 496h1.55M274 458h1.55M247 487h1.55M230 481h1.55M252 486h1.55M222 472h1.55M216 472h1.55M255 490h1.55M174 483h1.55M242 502h1.55M261 492h1.55M206 479h1.55M204 483h1.55M226 508h1.55M181 523h1.55M260 488h1.55M198 470h1.55M247 486h1.55M231 480h1.55M238 485h1.55M246 504h1.55M256 500h1.55M205 509h1.55M220 492h1.55M215 468h1.55M202 464h1.55M231 512h1.55M257 508h1.55M213 458h1.55M243 447h1.55M258 502h1.55M188 487h1.55M281 499h1.55M236 492h1.55M231 484h1.55M213 487h1.55M251 513h1.55M215 498h1.55M249 472h1.55M263 498h1.55M232 475h1.55M235 475h1.55M205 460h1.55M197 496h1.55M193 487h1.55M268 458h1.55M252 491h1.55M213 491h1.55M194 498h1.55M241 493h1.55M220 470h1.55M216 484h1.55M236 508h1.55M228 484h1.55M233 455h1.55M260 470h1.55M256 476h1.55M242 476h1.55M262 465h1.55M234 484h1.55M265 481h1.55M233 501h1.55M223 463h1.55M265 478h1.55M247 470h1.55M224 478h1.55M227 488h1.55M243 508h1.55M245 465h1.55M209 484h1.55M220 512h1.55M209 492h1.55M222 500h1.55M224 465h1.55M227 507h1.55M211 466h1.55M239 496h1.55M227 492h1.55M271 472h1.55M258 500h1.55M199 459h1.55M273 499h1.55M277 492h1.55M254 509h1.55M194 530h1.55M229 490h1.55M258 487h1.55M269 488h1.55M255 511h1.55M196 482h1.55M235 493h1.55M248 494h1.55M265 475h1.55M250 505h1.55M213 504h1.55M228 483h1.55M225 496h1.55M236 506h1.55M197 477h1.55M277 470h1.55M206 509h1.55M261 481h1.55M233 476h1.55M215 487h1.55M264 495h1.55M235 465h1.55M276 488h1.55M229 487h1.55M200 526h1.55M225 468h1.55M240 506h1.55M247 495h1.55M229 502h1.55M191 465h1.55M241 470h1.55M228 486h1.55M238 468h1.55M251 511h1.55M187 512h1.55M246 473h1.55M225 475h1.55M190 491h1.55M233 488h1.55M209 475h1.55M243 480h1.55M248 467h1.55M184 483h1.55M275 490h1.55M211 493h1.55M259 464h1.55M256 493h1.55M217 489h1.55M218 492h1.55M233 464h1.55M222 495h1.55M248 495h1.55M229 474h1.55M209 471h1.55M258 471h1.55M194 484h1.55M238 502h1.55M230 472h1.55M265 499h1.55M225 466h1.55M233 474h1.55M251 453h1.55M241 484h1.55M249 483h1.55M286 476h1.55M219 493h1.55M218 507h1.55M251 502h1.55M226 500h1.55M224 473h1.55M252 483h1.55M217 490h1.55M213 500h1.55M232 508h1.55M215 512h1.55M254 487h1.55M224 513h1.55M265 484h1.55M205 496h1.55M219 460h1.55M230 500h1.55M242 491h1.55M222 482h1.55M265 454h1.55M200 491h1.55M258 482h1.55M213 480h1.55M242 496h1.55M218 460h1.55M249 478h1.55M229 500h1.55M242 488h1.55M224 486h1.55M248 475h1.55M216 489h1.55M209 494h1.55M231 470h1.55M245 484h1.55M243 505h1.55M238 469h1.55M279 479h1.55M264 483h1.55M227 494h1.55M224 514h1.55M191 485h1.55M266 483h1.55M238 515h1.55M268 480h1.55M230 455h1.55M262 483h1.55M254 479h1.55M222 487h1.55M231 466h1.55M217 477h1.55M254 486h1.55M220 507h1.55M282 500h1.55M228 469h1.55M233 502h1.55M211 507h1.55M265 497h1.55M188 503h1.55M203 467h1.55M259 459h1.55M252 497h1.55M212 504h1.55M197 478h1.55M238 494h1.55M254 482h1.55M188 502h1.55M196 487h1.55M195 477h1.55M229 476h1.55M197 510h1.55M236 482h1.55M236 482h1.55M226 475h1.55M261 496h1.55M276 486h1.55M212 487h1.55M221 465h1.55M279 458h1.55M241 490h1.55M217 494h1.55M263 449h1.55M212 472h1.55M248 503h1.55M225 480h1.55M239 463h1.55M203 443h1.55M254 492h1.55M211 481h1.55M253 477h1.55M230 492h1.55M237 500h1.55M242 484h1.55M227 502h1.55M209 482h1.55M257 496h1.55M237 497h1.55M229 490h1.55M246 470h1.55M252 510h1.55M234 462h1.55M194 512h1.55M230 474h1.55M229 493h1.55M231 471h1.55M215 503h1.55M234 483h1.55M215 466h1.55M201 496h1.55M285 495h1.55M221 492h1.55M225 489h1.55M229 491h1.55M248 481h1.55M212 510h1.55M247 462h1.55M226 498h1.55M222 490h1.55M221 453h1.55M212 506h1.55M224 486h1.55M209 489h1.55M245 481h1.55M252 484h1.55M277 451h1.55M254 472h1.55M243 509h1.55M212 503h1.55M258 470h1.55M249 491h1.55M270 470h1.55M239 475h1.55M187 477h1.55M182 487h1.55M239 480h1.55M263 475h1.55M205 470h1.55M212 495h1.55M221 459h1.55M207 516h1.55M227 477h1.55M233 488h1.55M248 462h1.55M221 468h1.55M237 503h1.55M234 481h1.55M206 490h1.55M226 508h1.55M233 485h1.55M243 489h1.55M241 478h1.55M249 465h1.55M225 482h1.55M241 480h1.55M254 462h1.55M244 495h1.55M222 482h1.55M246 481h1.55M220 503h1.55M235 484h1.55M240 497h1.55M270 477h1.55M248 491h1.55M218 499h1.55M227 483h1.55M246 486h1.55M282 464h1.55M242 473h1.55M265 504h1.55M271 467h1.55M232 492h1.55M208 478h1.55M247 479h1.55M253 482h1.55M225 512h1.55M253 499h1.55M230 490h1.55M218 480h1.55M205 513h1.55M246 483h1.55M207 485h1.55M246 508h1.55M201 455h1.55M230 466h1.55M277 479h1.55M218 479h1.55M216 506h1.55M242 470h1.55M233 449h1.55M262 473h1.55M221 502h1.55M251 497h1.55M222 504h1.55M225 491h1.55M235 491h1.55M220 493h1.55M239 482h1.55M265 473h1.55M267 489h1.55M209 480h1.55M257 480h1.55M273 470h1.55M205 499h1.55M242 494h1.55M208 484h1.55M223 511h1.55M217 507h1.55M232 491h1.55M214 503h1.55M232 471h1.55M182 508h1.55M257 506h1.55M238 482h1.55M259 472h1.55M222 483h1.55M251 475h1.55M210 491h1.55M216 506h1.55M256 486h1.55M236 465h1.55M263 456h1.55M249 500h1.55M218 475h1.55M260 493h1.55M238 480h1.55M234 481h1.55M232 497h1.55M265 501h1.55M233 452h1.55M214 481h1.55M237 479h1.55M213 487h1.55M209 483h1.55M258 483h1.55M267 464h1.55M229 507h1.55M233 494h1.55M227 492h1.55M230 510h1.55M257 507h1.55M244 486h1.55M247 485h1.55M239 476h1.55M208 493h1.55M260 500h1.55M236 482h1.55M225 476h1.55M235 496h1.55M200 464h1.55M249 464h1.55M207 487h1.55M232 490h1.55M240 457h1.55M229 471h1.55M196 476h1.55M231 471h1.55M255 471h1.55M241 488h1.55M219 497h1.55M207 483h1.55M244 472h1.55M226 491h1.55M234 476h1.55M215 484h1.55M206 511h1.55M239 501h1.55M211 508h1.55M211 502h1.55M239 475h1.55M240 488h1.55M239 480h1.55M216 499h1.55M243 461h1.55M232 502h1.55M194 484h1.55M208 482h1.55M257 485h1.55M252 476h1.55M204 486h1.55M243 507h1.55M250 474h1.55M214 465h1.55M285 451h1.55M239 500h1.55M212 483h1.55M198 463h1.55M229 487h1.55M283 484h1.55M202 487h1.55M254 489h1.55M237 469h1.55M249 477h1.55M235 475h1.55M228 464h1.55M254 509h1.55M218 495h1.55M232 455h1.55M241 479h1.55M252 496h1.55M211 456h1.55M260 493h1.55M271 480h1.55M220 482h1.55M255 452h1.55M223 470h1.55M214 508h1.55M234 477h1.55M267 468h1.55M222 494h1.55M238 508h1.55M269 483h1.55M232 486h1.55M253 471h1.55M236 486h1.55M246 472h1.55M222 506h1.55M201 487h1.55M213 488h1.55M272 474h1.55M262 479h1.55M226 486h1.55M237 478h1.55M254 485h1.55M218 458h1.55M195 500h1.55M211 467h1.55M247 476h1.55M211 474h1.55M270 491h1.55M247 494h1.55M245 458h1.55M225 501h1.55M230 483h1.55M243 472h1.55M210 462h1.55M207 483h1.55M269 476h1.55M200 468h1.55M243 490h1.55M248 491h1.55M208 516h1.55M204 453h1.55M228 457h1.55M247 463h1.55M207 504h1.55M230 459h1.55M209 498h1.55M217 500h1.55M212 496h1.55M233 491h1.55M204 512h1.55M239 494h1.55M204 495h1.55M258 496h1.55M250 466h1.55M212 474h1.55M208 507h1.55M247 486h1.55M188 466h1.55M212 469h1.55M211 485h1.55M233 495h1.55M261 482h1.55M226 466h1.55M220 480h1.55M259 509h1.55M215 491h1.55M186 479h1.55M234 499h1.55M236 509h1.55M229 512h1.55M226 497h1.55M248 503h1.55M236 510h1.55M258 481h1.55M244 490h1.55M241 481h1.55M276 490h1.55M252 489h1.55M221 509h1.55M220 490h1.55M246 498h1.55M265 478h1.55M199 521h1.55M218 490h1.55M228 490h1.55M235 511h1.55M250 492h1.55M233 494h1.55M215 482h1.55M215 512h1.55M260 501h1.55M192 525h1.55M218 506h1.55M259 491h1.55M239 496h1.55M238 493h1.55M242 487h1.55M220 495h1.55M249 488h1.55M229 506h1.55M222 504h1.55M221 487h1.55M260 493h1.55M208 490h1.55M232 496h1.55M238 492h1.55M250 485h1.55M257 490h1.55M271 493h1.55M235 512h1.55M221 483h1.55M248 483h1.55M211 509h1.55M248 500h1.55M247 483h1.55M244 503h1.55M239 472h1.55M247 498h1.55M238 507h1.55M302 469h1.55M246 515h1.55M260 511h1.55M216 509h1.55M247 506h1.55M245 486h1.55M256 482h1.55M268 485h1.55M240 513h1.55M236 494h1.55M223 516h1.55M203 503h1.55M240 482h1.55M217 494h1.55M295 468h1.55M182 498h1.55M237 493h1.55M237 514h1.55M255 486h1.55M249 510h1.55M254 472h1.55M249 492h1.55M214 516h1.55M236 489h1.55M266 501h1.55M254 490h1.55M233 479h1.55M271 503h1.55M250 478h1.55M204 507h1.55M251 505h1.55M224 488h1.55M243 469h1.55M242 488h1.55M240 501h1.55M251 497h1.55M240 503h1.55M236 509h1.55M248 513h1.55M276 454h1.55M251 500h1.55M239 499h1.55M236 509h1.55M229 482h1.55M249 465h1.55M231 478h1.55M200 493h1.55M246 498h1.55M266 485h1.55M253 474h1.55M237 517h1.55M250 501h1.55M224 501h1.55M213 512h1.55M203 512h1.55M228 486h1.55M228 509h1.55M243 487h1.55M247 498h1.55M255 501h1.55M260 479h1.55M229 512h1.55M242 488h1.55M235 513h1.55M219 503h1.55M237 508h1.55M244 475h1.55M237 495h1.55M196 520h1.55M258 472h1.55M242 508h1.55M257 498h1.55M253 500h1.55M228 499h1.55M251 502h1.55M237 472h1.55M251 502h1.55M237 517h1.55M226 489h1.55M222 512h1.55M219 496h1.55M205 507h1.55M240 493h1.55M263 486h1.55M214 497h1.55M220 497h1.55M249 513h1.55M241 495h1.55M242 512h1.55M219 472h1.55M211 487h1.55M233 493h1.55M242 476h1.55M207 497h1.55M204 506h1.55M234 487h1.55M234 487h1.55M261 491h1.55M211 492h1.55M241 495h1.55M259 503h1.55M237 480h1.55M242 498h1.55M232 499h1.55M243 505h1.55M241 517h1.55M248 501h1.55M242 503h1.55M205 513h1.55M241 461h1.55M224 504h1.55M232 501h1.55M254 494h1.55M253 507h1.55M227 501h1.55M238 495h1.55M271 486h1.55M257 489h1.55M197 494h1.55M270 508h1.55M274 482h1.55M256 473h1.55M247 495h1.55M212 502h1.55M269 493h1.55M251 483h1.55M200 515h1.55M250 501h1.55M225 476h1.55M245 496h1.55M262 511h1.55M259 494h1.55M225 516h1.55M202 499h1.55M211 516h1.55M256 506h1.55M269 485h1.55M259 496h1.55M245 496h1.55M203 508h1.55M227 497h1.55M256 498h1.55M218 485h1.55M257 496h1.55M230 484h1.55M218 495h1.55M254 506h1.55M226 488h1.55M244 472h1.55M243 502h1.55M214 501h1.55M263 478h1.55M264 497h1.55M252 514h1.55M233 480h1.55M239 467h1.55M223 479h1.55M225 492h1.55M238 513h1.55M253 505h1.55M243 471h1.55M243 499h1.55M277 463h1.55M237 487h1.55M207 475h1.55M194 509h1.55M242 510h1.55M242 502h1.55M244 504h1.55M236 480h1.55M243 507h1.55M244 498h1.55M243 506h1.55M271 501h1.55M250 511h1.55M241 506h1.55M292 485h1.55M215 502h1.55M234 497h1.55M251 498h1.55M253 495h1.55M230 493h1.55M224 520h1.55M276 501h1.55M216 510h1.55M239 508h1.55M228 500h1.55M253 512h1.55M211 490h1.55M239 510h1.55M190 514h1.55M268 506h1.55M232 498h1.55M237 476h1.55M229 491h1.55M195 522h1.55M228 495h1.55M246 477h1.55M246 500h1.55M247 512h1.55M199 505h1.55M193 512h1.55M214 516h1.55M238 488h1.55M226 488h1.55M243 488h1.55M217 491h1.55M259 496h1.55M286 479h1.55M272 468h1.55M219 501h1.55M240 497h1.55M230 510h1.55M226 498h1.55M199 515h1.55M265 500h1.55M242 491h1.55M241 516h1.55M216 501h1.55M246 508h1.55M236 512h1.55M220 504h1.55M268 504h1.55M253 494h1.55M233 517h1.55M246 494h1.55M239 518h1.55M262 479h1.55M250 489h1.55M230 485h1.55M222 492h1.55M239 495h1.55M222 485h1.55M235 505h1.55M253 504h1.55M248 508h1.55M245 510h1.55M228 516h1.55M230 491h1.55M238 501h1.55M224 504h1.55M221 516h1.55M190 532h1.55M186 528h1.55M219 499h1.55M225 510h1.55M261 498h1.55M222 511h1.55M243 483h1.55M228 491h1.55M228 479h1.55M237 497h1.55M236 477h1.55M200 514h1.55M198 493h1.55M222 516h1.55M236 481h1.55M213 507h1.55M229 491h1.55M275 497h1.55M239 489h1.55M245 510h1.55M228 471h1.55M257 500h1.55M210 507h1.55M217 503h1.55M240 501h1.55M274 480h1.55M234 510h1.55M252 493h1.55M272 483h1.55M224 503h1.55M244 504h1.55M203 506h1.55M227 501h1.55M203 510h1.55M217 473h1.55M280 489h1.55M231 479h1.55M216 507h1.55M257 475h1.55M224 520h1.55M263 496h1.55M241 516h1.55M210 508h1.55M295 495h1.55M216 494h1.55M222 493h1.55M221 497h1.55M206 519h1.55M214 472h1.55M189 521h1.55M232 509h1.55M235 503h1.55M266 494h1.55M238 504h1.55M222 515h1.55M220 512h1.55M229 492h1.55M195 498h1.55M224 516h1.55M265 483h1.55M253 499h1.55M234 509h1.55M251 505h1.55M204 520h1.55M253 478h1.55M264 484h1.55M250 491h1.55M208 514h1.55M225 498h1.55M220 510h1.55M250 485h1.55M210 509h1.55M227 498h1.55M254 481h1.55M193 490h1.55M241 500h1.55M254 509h1.55M249 502h1.55M240 516h1.55M217 510h1.55M234 504h1.55M229 485h1.55M279 486h1.55M228 485h1.55M208 519h1.55M300 486h1.55M228 502h1.55M225 498h1.55M256 493h1.55M209 501h1.55M245 507h1.55M232 494h1.55M253 472h1.55M272 476h1.55M225 516h1.55M245 504h1.55M210 507h1.55M241 499h1.55M223 516h1.55M231 494h1.55M183 535h1.55M246 513h1.55M255 497h1.55M210 499h1.55M255 494h1.55M199 496h1.55M228 483h1.55M245 492h1.55M196 494h1.55M242 505h1.55M208 519h1.55M186 528h1.55M245 505h1.55M276 484h1.55M219 473h1.55M249 510h1.55M264 508h1.55M256 501h1.55M217 504h1.55M221 510h1.55M248 491h1.55M222 518h1.55M236 514h1.55M262 493h1.55M277 481h1.55M233 508h1.55M264 486h1.55M219 504h1.55M246 457h1.55M255 501h1.55M235 492h1.55M220 498h1.55M251 492h1.55M225 507h1.55M224 509h1.55M255 484h1.55M261 498h1.55M233 518h1.55M246 502h1.55M271 484h1.55M235 510h1.55M266 506h1.55M225 518h1.55M237 480h1.55M231 492h1.55M207 508h1.55M224 519h1.55M204 522h1.55M234 485h1.55M230 518h1.55M236 501h1.55M230 479h1.55M182 515h1.55M236 516h1.55M232 469h1.55M210 490h1.55M247 503h1.55M241 494h1.55M250 499h1.55M233 491h1.55M190 505h1.55M259 482h1.55M219 513h1.55M236 492h1.55M242 514h1.55M219 504h1.55M267 487h1.55M267 489h1.55M251 495h1.55M224 518h1.55M257 490h1.55M193 507h1.55M250 490h1.55M255 489h1.55M245 512h1.55M233 490h1.55M271 477h1.55M222 492h1.55M227 517h1.55M241 490h1.55M205 507h1.55M262 504h1.55M276 500h1.55M251 488h1.55M249 503h1.55M221 481h1.55M281 482h1.55M215 490h1.55M233 516h1.55M223 505h1.55M241 497h1.55M211 498h1.55M285 474h1.55M235 505h1.55M213 513h1.55M230 502h1.55M226 512h1.55M211 500h1.55M219 497h1.55M215 508h1.55M243 485h1.55M255 497h1.55M235 479h1.55M226 497h1.55M234 489h1.55M230 488h1.55M235 517h1.55M235 510h1.55M249 485h1.55M236 513h1.55M252 495h1.55M222 485h1.55M240 490h1.55M254 484h1.55M269 486h1.55M247 499h1.55M272 489h1.55M236 488h1.55M230 503h1.55M239 511h1.55M249 482h1.55M231 492h1.55M252 514h1.55M247 494h1.55M246 498h1.55M222 500h1.55M242 480h1.55M272 482h1.55M240 489h1.55M253 503h1.55M248 486h1.55M261 486h1.55M248 502h1.55M241 515h1.55M223 507h1.55M278 501h1.55M216 502h1.55M230 504h1.55M255 471h1.55M226 482h1.55M208 512h1.55M238 517h1.55M196 518h1.55M260 505h1.55M224 494h1.55M235 484h1.55M261 498h1.55M248 513h1.55M244 508h1.55M210 518h1.55M230 485h1.55M237 489h1.55M212 501h1.55M244 492h1.55M222 518h1.55M239 472h1.55M216 507h1.55M244 491h1.55M263 506h1.55M243 472h1.55M263 481h1.55M229 489h1.55M257 498h1.55M226 520h1.55M183 513h1.55M230 506h1.55M215 503h1.55M222 498h1.55M243 499h1.55M244 510h1.55M235 502h1.55M230 491h1.55M235 487h1.55M238 483h1.55M221 509h1.55M211 507h1.55M266 486h1.55M225 495h1.55M229 500h1.55M275 490h1.55M229 501h1.55M239 504h1.55M192 520h1.55M211 487h1.55M269 502h1.55M279 495h1.55M239 473h1.55M252 498h1.55M233 496h1.55M254 477h1.55M221 497h1.55M234 509h1.55M236 474h1.55M193 518h1.55M207 507h1.55M209 497h1.55M209 505h1.55M269 472h1.55M249 503h1.55M214 479h1.55M234 509h1.55M227 508h1.55M183 534h1.55M265 492h1.55M229 504h1.55M233 476h1.55M251 475h1.55M244 496h1.55M222 515h1.55M280 498h1.55M265 490h1.55M215 483h1.55M232 517h1.55M262 489h1.55M225 488h1.55M239 503h1.55M185 513h1.55M205 493h1.55M263 496h1.55M233 510h1.55M256 491h1.55M267 472h1.55M224 481h1.55M249 504h1.55M223 516h1.55M257 503h1.55M203 483h1.55M239 487h1.55M213 507h1.55M239 489h1.55M260 478h1.55M277 482h1.55M192 526h1.55M195 502h1.55M264 502h1.55M234 514h1.55M226 516h1.55M214 515h1.55M254 505h1.55M241 505h1.55M248 470h1.55M245 477h1.55M268 485h1.55M227 501h1.55M212 484h1.55M235 490h1.55M245 497h1.55M259 494h1.55M239 475h1.55M276 482h1.55M249 490h1.55M248 498h1.55M228 498h1.55M178 515h1.55M255 499h1.55M268 477h1.55M226 488h1.55M258 491h1.55M243 497h1.55M201 495h1.55M261 480h1.55M230 505h1.55M240 493h1.55M267 487h1.55M245 477h1.55M186 516h1.55M208 489h1.55M215 507h1.55M221 513h1.55M252 486h1.55M228 492h1.55M264 508h1.55M227 493h1.55M216 510h1.55M272 483h1.55M251 512h1.55M221 501h1.55M245 511h1.55M214 496h1.55M234 514h1.55M245 475h1.55M244 488h1.55M247 492h1.55M234 494h1.55M225 505h1.55M261 498h1.55M223 520h1.55M210 509h1.55M213 485h1.55M244 501h1.55M229 510h1.55M191 518h1.55M239 486h1.55M271 509h1.55M235 491h1.55M230 477h1.55M269 494h1.55M259 501h1.55M233 517h1.55M226 486h1.55M242 484h1.55M275 487h1.55M251 492h1.55M243 503h1.55M220 495h1.55M265 493h1.55M242 480h1.55M233 451h1.55M269 478h1.55M278 496h1.55M194 471h1.55M236 484h1.55M231 484h1.55M233 519h1.55M238 478h1.55M255 501h1.55M240 510h1.55M230 504h1.55M229 500h1.55M250 497h1.55M222 518h1.55M264 494h1.55M238 493h1.55M211 511h1.55M216 511h1.55M245 509h1.55M262 492h1.55M197 483h1.55M188 502h1.55M248 479h1.55M223 520h1.55M258 467h1.55M235 490h1.55M238 513h1.55M217 504h1.55M245 513h1.55M234 484h1.55M237 493h1.55M236 504h1.55M249 494h1.55M260 487h1.55M212 494h1.55M247 498h1.55M242 495h1.55M246 484h1.55M264 495h1.55M234 507h1.55M216 512h1.55M226 479h1.55M251 503h1.55M241 492h1.55M207 516h1.55M272 502h1.55M217 506h1.55M256 497h1.55M211 506h1.55M250 501h1.55M223 483h1.55M245 476h1.55M221 511h1.55M244 482h1.55M207 494h1.55M266 504h1.55M253 510h1.55M242 490h1.55M229 505h1.55M239 506h1.55M215 486h1.55M263 499h1.55M248 477h1.55M223 503h1.55M246 509h1.55M264 484h1.55M189 502h1.55M249 498h1.55M235 488h1.55M218 484h1.55M224 518h1.55M255 483h1.55M247 510h1.55M242 492h1.55M245 485h1.55M232 472h1.55M213 517h1.55M231 503h1.55M240 494h1.55M284 498h1.55M218 491h1.55M227 495h1.55M221 506h1.55M233 492h1.55M203 501h1.55M234 507h1.55M257 483h1.55M187 510h1.55M228 512h1.55M238 485h1.55M218 507h1.55M239 504h1.55M205 508h1.55M233 487h1.55M286 487h1.55M318 484h1.55M247 470h1.55M225 489h1.55M260 489h1.55M304 489h1.55M271 491h1.55M216 477h1.55M241 493h1.55M257 503h1.55M247 501h1.55M310 495h1.55M353 474h1.55M287 497h1.55M292 494h1.55M277 483h1.55M278 479h1.55M258 463h1.55M268 502h1.55M255 484h1.55M275 452h1.55M202 485h1.55M279 441h1.55M282 501h1.55M322 469h1.55M215 497h1.55M263 508h1.55M329 466h1.55M268 452h1.55M313 498h1.55M290 494h1.55M332 486h1.55M274 473h1.55M325 479h1.55M271 484h1.55M278 487h1.55M279 508h1.55M222 494h1.55M280 481h1.55M251 493h1.55M264 508h1.55M272 470h1.55M293 481h1.55M282 480h1.55M260 481h1.55M254 483h1.55M254 502h1.55M328 474h1.55M290 469h1.55M256 497h1.55M236 489h1.55M270 491h1.55M253 488h1.55M316 475h1.55M281 504h1.55M225 456h1.55M245 495h1.55M285 478h1.55M292 468h1.55M251 484h1.55M313 492h1.55M334 478h1.55M352 478h1.55M243 514h1.55M288 484h1.55M370 476h1.55M254 470h1.55M223 505h1.55M274 482h1.55M310 455h1.55M321 495h1.55M226 499h1.55M296 461h1.55M309 494h1.55M315 481h1.55M326 467h1.55M271 494h1.55M259 477h1.55M288 482h1.55M241 479h1.55M292 490h1.55M278 475h1.55M308 471h1.55" stroke="#258f35" stroke-width="1.55" stroke-opacity="0.64" fill="none"/><path transform="scale(.5)" d="M249 523h1.55M241 518h1.55M230 535h1.55M251 534h1.55M262 515h1.55M224 543h1.55M230 527h1.55M225 532h1.55M267 525h1.55M280 525h1.55M276 518h1.55M261 524h1.55M268 518h1.55M251 533h1.55M288 526h1.55M258 516h1.55M299 504h1.55M228 532h1.55M287 518h1.55M291 507h1.55M291 519h1.55M230 535h1.55M231 527h1.55M269 517h1.55M311 512h1.55M270 534h1.55M288 526h1.55M234 540h1.55M287 515h1.55M292 513h1.55M274 521h1.55M251 535h1.55M257 536h1.55M249 537h1.55M262 523h1.55M239 538h1.55M283 518h1.55M271 518h1.55M277 524h1.55M249 526h1.55M281 529h1.55M236 533h1.55M280 521h1.55M287 519h1.55M271 528h1.55M288 517h1.55M250 530h1.55M226 535h1.55M222 535h1.55M227 533h1.55M280 513h1.55M248 533h1.55M295 519h1.55M235 522h1.55M295 527h1.55M262 521h1.55M270 519h1.55M263 523h1.55M231 534h1.55M222 524h1.55M246 524h1.55M263 530h1.55M263 523h1.55M248 519h1.55M260 525h1.55M260 519h1.55M260 532h1.55M263 526h1.55M233 535h1.55M235 535h1.55M243 527h1.55M242 541h1.55M290 528h1.55M239 533h1.55M282 531h1.55M302 523h1.55M230 539h1.55M274 516h1.55M289 522h1.55M274 514h1.55M291 522h1.55M263 531h1.55M250 534h1.55M273 512h1.55M257 533h1.55M243 527h1.55M250 528h1.55M255 530h1.55M226 539h1.55M245 539h1.55M234 523h1.55M271 519h1.55M291 521h1.55M247 539h1.55M231 538h1.55M234 538h1.55M300 521h1.55M228 532h1.55M234 540h1.55M224 528h1.55M257 536h1.55M287 528h1.55M275 530h1.55M272 535h1.55M262 522h1.55M275 529h1.55M262 530h1.55M229 531h1.55M226 531h1.55M270 521h1.55M289 517h1.55M236 533h1.55M237 528h1.55M297 517h1.55M283 525h1.55M225 524h1.55M225 527h1.55M252 522h1.55M256 523h1.55M277 511h1.55M309 520h1.55M248 520h1.55M265 532h1.55M226 537h1.55M226 545h1.55M231 526h1.55M258 528h1.55M284 521h1.55M236 534h1.55M302 516h1.55M254 538h1.55M258 523h1.55M273 518h1.55M255 519h1.55M253 520h1.55M334 513h1.55M228 527h1.55M275 528h1.55M230 540h1.55M227 537h1.55M281 525h1.55M267 522h1.55M226 536h1.55M257 534h1.55M274 521h1.55M230 533h1.55M247 529h1.55M263 533h1.55M224 539h1.55M267 526h1.55M265 527h1.55M254 524h1.55M270 518h1.55M274 522h1.55M251 534h1.55M255 521h1.55M262 524h1.55M251 534h1.55M265 528h1.55M295 520h1.55M240 535h1.55M228 538h1.55M235 536h1.55M238 537h1.55M295 530h1.55M277 523h1.55M289 526h1.55M250 534h1.55M281 524h1.55M247 521h1.55M229 527h1.55M266 521h1.55M274 524h1.55M291 525h1.55M250 532h1.55M239 526h1.55M272 522h1.55M239 520h1.55M274 526h1.55M295 512h1.55M238 531h1.55M282 513h1.55M237 534h1.55M271 518h1.55M244 528h1.55M262 530h1.55M239 537h1.55M290 517h1.55M246 537h1.55M239 529h1.55M258 522h1.55M292 515h1.55M223 537h1.55M272 522h1.55M289 514h1.55M254 520h1.55M286 508h1.55M229 533h1.55M286 521h1.55M243 542h1.55M228 524h1.55M267 522h1.55M290 521h1.55M290 518h1.55M276 519h1.55M253 531h1.55M286 513h1.55M230 543h1.55M243 522h1.55M283 527h1.55M244 530h1.55M280 527h1.55M280 527h1.55M259 522h1.55M286 529h1.55M269 537h1.55M251 532h1.55M254 530h1.55M258 533h1.55M230 539h1.55M245 533h1.55M292 524h1.55M270 533h1.55M258 526h1.55M243 526h1.55M267 526h1.55M244 519h1.55M295 521h1.55M231 531h1.55M235 534h1.55M248 522h1.55M226 537h1.55M291 515h1.55M270 526h1.55M224 544h1.55M230 536h1.55M233 537h1.55M264 536h1.55M288 522h1.55M240 532h1.55M245 533h1.55M234 534h1.55M304 515h1.55M265 535h1.55M287 512h1.55M283 512h1.55M275 522h1.55M248 530h1.55M245 531h1.55M274 515h1.55M291 531h1.55M230 543h1.55M253 526h1.55M266 521h1.55M231 535h1.55M259 535h1.55M284 529h1.55M242 526h1.55M294 529h1.55M268 519h1.55M287 523h1.55M234 525h1.55M255 521h1.55M235 529h1.55M296 515h1.55M248 533h1.55M298 506h1.55M259 535h1.55M293 523h1.55M272 529h1.55M226 531h1.55M285 516h1.55M304 522h1.55M281 517h1.55M223 525h1.55M269 519h1.55M241 530h1.55M254 528h1.55M298 520h1.55M249 520h1.55M300 521h1.55M249 541h1.55M253 531h1.55M257 534h1.55M254 528h1.55M277 521h1.55M228 526h1.55M280 515h1.55M257 527h1.55M257 520h1.55M233 534h1.55M315 523h1.55M240 525h1.55M269 530h1.55M272 516h1.55M270 523h1.55M274 518h1.55M261 526h1.55M229 527h1.55M283 522h1.55M240 536h1.55M251 531h1.55M224 526h1.55M235 539h1.55M305 513h1.55M267 531h1.55M288 514h1.55M277 524h1.55M265 526h1.55M266 521h1.55M264 523h1.55M232 539h1.55M236 539h1.55M240 534h1.55M266 535h1.55M242 528h1.55M283 529h1.55M229 533h1.55M301 516h1.55M261 524h1.55M230 536h1.55M269 532h1.55M243 533h1.55M236 533h1.55M247 536h1.55M240 528h1.55M289 514h1.55M243 530h1.55M252 519h1.55M251 532h1.55M231 541h1.55M228 536h1.55M303 514h1.55M277 523h1.55M257 516h1.55M243 529h1.55M280 530h1.55M250 518h1.55M287 525h1.55M253 533h1.55M286 527h1.55M263 523h1.55M254 530h1.55M258 536h1.55M288 520h1.55M247 531h1.55M266 528h1.55M254 526h1.55M271 513h1.55M293 521h1.55M231 538h1.55M237 538h1.55M261 519h1.55M255 526h1.55M260 528h1.55M244 541h1.55M284 508h1.55M272 523h1.55M232 537h1.55M269 513h1.55M284 521h1.55M232 528h1.55M233 521h1.55M248 540h1.55M288 522h1.55M243 533h1.55M248 527h1.55M240 542h1.55M280 518h1.55M233 524h1.55M288 521h1.55M283 521h1.55M266 515h1.55M232 538h1.55M275 525h1.55M254 526h1.55M298 523h1.55M290 529h1.55M244 534h1.55M234 538h1.55M295 520h1.55M242 533h1.55M277 515h1.55M222 538h1.55M243 528h1.55M250 524h1.55M272 520h1.55M238 532h1.55M244 523h1.55M295 531h1.55M231 533h1.55M237 539h1.55M262 521h1.55M274 533h1.55M226 529h1.55M247 519h1.55M246 521h1.55M265 527h1.55M290 525h1.55M255 523h1.55M230 530h1.55M238 535h1.55M290 527h1.55M287 510h1.55M235 535h1.55M239 534h1.55M241 530h1.55M280 522h1.55M268 516h1.55M278 525h1.55M264 519h1.55M237 535h1.55M224 538h1.55M260 525h1.55M247 528h1.55M270 520h1.55M259 522h1.55M286 524h1.55M228 540h1.55M231 537h1.55M282 521h1.55M245 525h1.55M222 535h1.55M307 517h1.55M231 520h1.55M266 535h1.55M252 517h1.55M223 547h1.55M227 540h1.55M290 521h1.55M232 540h1.55M227 531h1.55M234 533h1.55M244 523h1.55M259 536h1.55M288 517h1.55M238 521h1.55M275 533h1.55M268 532h1.55M275 526h1.55M291 524h1.55M236 529h1.55M235 532h1.55M243 536h1.55M273 524h1.55M234 528h1.55M279 534h1.55M253 529h1.55M265 528h1.55M281 518h1.55M225 540h1.55M257 529h1.55M282 524h1.55M232 544h1.55M237 533h1.55M282 510h1.55M226 523h1.55M247 532h1.55M223 534h1.55M269 531h1.55M281 512h1.55M223 532h1.55M250 533h1.55M259 521h1.55M242 537h1.55M226 526h1.55M264 521h1.55M252 527h1.55M280 525h1.55M285 515h1.55M259 527h1.55M250 529h1.55M261 521h1.55M263 523h1.55M232 538h1.55M271 524h1.55M243 537h1.55M236 545h1.55M239 534h1.55M250 532h1.55M248 542h1.55M285 518h1.55M284 516h1.55M228 535h1.55M266 520h1.55M259 521h1.55M244 525h1.55M238 518h1.55M301 510h1.55M239 544h1.55M231 532h1.55M231 524h1.55M235 535h1.55M286 521h1.55M223 526h1.55M255 530h1.55M289 530h1.55M285 524h1.55M235 535h1.55M291 529h1.55M290 518h1.55M257 523h1.55M233 533h1.55M265 528h1.55M293 510h1.55M300 518h1.55M242 540h1.55M258 530h1.55M288 513h1.55M239 526h1.55M294 528h1.55M227 534h1.55M257 534h1.55M287 508h1.55M275 524h1.55M269 517h1.55M244 533h1.55M234 530h1.55M277 515h1.55M228 533h1.55M254 534h1.55M244 523h1.55M247 529h1.55M269 523h1.55M253 521h1.55M264 534h1.55M245 524h1.55M243 529h1.55M273 525h1.55M277 521h1.55M225 527h1.55M267 528h1.55M293 515h1.55M234 529h1.55M241 534h1.55M284 515h1.55M294 512h1.55M270 528h1.55M238 536h1.55M231 525h1.55M244 530h1.55M263 525h1.55M257 523h1.55M255 532h1.55M235 539h1.55M282 518h1.55M248 536h1.55M310 504h1.55M268 536h1.55M262 531h1.55M243 525h1.55M278 524h1.55M245 533h1.55M271 528h1.55M291 514h1.55M285 515h1.55M247 538h1.55M273 513h1.55M258 536h1.55M242 533h1.55M318 512h1.55M232 527h1.55M282 511h1.55M272 526h1.55M231 533h1.55M287 511h1.55M269 525h1.55M237 535h1.55M224 547h1.55M260 519h1.55M239 532h1.55M279 519h1.55M269 523h1.55M269 528h1.55M251 523h1.55M307 505h1.55M252 525h1.55M242 523h1.55M228 534h1.55M290 517h1.55M293 515h1.55M255 525h1.55M284 521h1.55M290 521h1.55M251 519h1.55M235 532h1.55M264 524h1.55M227 525h1.55M273 521h1.55M280 517h1.55M234 524h1.55M275 518h1.55M306 521h1.55M247 521h1.55M262 537h1.55M243 532h1.55M281 513h1.55M281 516h1.55M277 527h1.55M288 529h1.55M314 513h1.55M232 525h1.55M270 531h1.55M309 518h1.55M239 525h1.55M230 526h1.55M238 538h1.55M224 535h1.55M279 527h1.55M265 536h1.55M278 531h1.55M276 519h1.55M233 529h1.55M288 513h1.55M226 529h1.55M254 522h1.55M243 527h1.55M229 533h1.55M226 545h1.55M278 526h1.55M238 533h1.55M232 533h1.55M249 531h1.55M288 523h1.55M253 525h1.55M265 520h1.55M271 529h1.55M274 533h1.55M239 538h1.55M279 521h1.55M247 541h1.55M251 520h1.55M226 542h1.55M277 519h1.55M242 536h1.55M285 526h1.55M280 508h1.55M290 520h1.55M277 525h1.55M273 527h1.55M225 543h1.55M254 527h1.55M232 524h1.55M270 517h1.55M235 541h1.55M222 539h1.55M227 532h1.55M249 525h1.55M277 527h1.55M252 524h1.55M227 536h1.55M230 540h1.55M273 529h1.55M231 538h1.55M283 526h1.55M248 526h1.55M239 522h1.55M287 527h1.55M247 534h1.55M313 515h1.55M250 529h1.55M259 527h1.55M228 534h1.55M306 514h1.55M276 517h1.55M283 514h1.55M310 517h1.55M270 517h1.55M230 528h1.55M251 516h1.55M274 526h1.55M254 534h1.55M285 518h1.55M266 522h1.55M254 520h1.55M230 524h1.55M222 532h1.55M268 528h1.55M292 509h1.55M234 545h1.55M281 526h1.55M283 523h1.55M235 533h1.55M269 515h1.55M263 527h1.55M293 518h1.55M230 539h1.55M296 507h1.55M265 539h1.55M232 532h1.55M270 526h1.55M240 525h1.55M290 512h1.55M277 515h1.55M233 532h1.55M240 530h1.55M243 528h1.55M240 523h1.55M252 522h1.55M275 521h1.55M228 532h1.55M238 537h1.55M229 525h1.55M285 511h1.55M251 540h1.55M286 515h1.55M284 518h1.55M286 516h1.55M225 523h1.55M269 526h1.55M291 510h1.55M246 529h1.55M270 527h1.55M242 544h1.55M298 522h1.55M297 521h1.55M272 531h1.55M259 526h1.55M237 532h1.55M292 507h1.55M288 515h1.55M262 516h1.55M276 523h1.55M243 532h1.55M232 538h1.55M285 522h1.55M261 526h1.55M241 533h1.55M229 526h1.55M265 526h1.55M280 533h1.55M287 521h1.55M237 540h1.55M259 519h1.55M234 534h1.55M251 527h1.55M266 522h1.55M229 545h1.55M252 529h1.55M251 534h1.55M288 517h1.55M304 515h1.55M255 518h1.55M228 539h1.55M291 526h1.55M232 540h1.55M239 539h1.55M289 518h1.55M248 533h1.55M232 534h1.55M230 528h1.55M251 541h1.55M266 538h1.55M287 522h1.55M281 524h1.55M248 530h1.55M233 533h1.55M268 522h1.55M231 536h1.55M243 524h1.55M317 513h1.55M288 510h1.55M235 537h1.55M251 527h1.55M265 524h1.55M258 534h1.55M252 525h1.55M241 530h1.55M287 517h1.55M288 524h1.55M263 526h1.55M267 524h1.55M224 542h1.55M276 523h1.55M238 526h1.55M226 525h1.55M256 535h1.55M293 511h1.55M246 533h1.55M225 525h1.55M269 529h1.55M274 522h1.55M317 524h1.55M230 531h1.55M233 542h1.55M262 527h1.55M236 526h1.55M294 509h1.55M229 527h1.55M249 533h1.55M239 538h1.55M289 527h1.55M229 531h1.55M300 519h1.55M275 517h1.55M328 507h1.55M245 525h1.55M252 523h1.55M255 532h1.55M228 533h1.55M260 539h1.55M292 513h1.55M240 520h1.55M232 524h1.55M307 509h1.55M280 521h1.55M260 534h1.55M269 521h1.55M282 521h1.55M293 517h1.55M246 523h1.55M233 542h1.55M277 533h1.55M240 525h1.55M237 533h1.55M290 528h1.55M287 508h1.55M286 522h1.55M289 527h1.55M279 516h1.55M284 525h1.55M226 538h1.55M290 523h1.55M269 522h1.55M262 532h1.55M255 531h1.55M240 526h1.55M231 537h1.55M236 532h1.55M254 525h1.55M296 519h1.55M259 518h1.55M248 523h1.55M253 535h1.55M232 535h1.55M266 514h1.55M231 533h1.55M259 525h1.55M293 517h1.55M249 525h1.55M259 521h1.55M248 527h1.55M296 524h1.55M231 531h1.55M288 522h1.55M244 536h1.55M281 508h1.55M256 541h1.55M277 530h1.55M243 533h1.55M321 522h1.55M251 530h1.55M292 519h1.55M260 513h1.55M285 529h1.55M242 535h1.55M245 522h1.55M296 521h1.55M273 519h1.55M261 539h1.55M260 525h1.55M294 519h1.55M232 527h1.55M254 533h1.55M228 523h1.55M247 526h1.55M283 524h1.55M248 525h1.55M260 536h1.55M275 524h1.55M257 531h1.55M232 536h1.55M254 516h1.55M289 519h1.55M288 532h1.55M234 542h1.55M306 523h1.55M224 543h1.55M225 536h1.55M271 521h1.55M241 525h1.55M226 537h1.55M279 516h1.55M287 514h1.55M231 538h1.55M223 541h1.55M250 531h1.55M281 510h1.55M248 526h1.55M269 518h1.55M260 523h1.55M230 546h1.55M243 527h1.55M252 537h1.55M224 530h1.55M234 529h1.55M274 522h1.55M250 526h1.55M255 540h1.55M240 519h1.55M232 529h1.55M282 525h1.55M272 525h1.55M230 538h1.55M308 509h1.55M283 522h1.55M263 518h1.55M293 509h1.55M241 533h1.55M244 524h1.55M232 531h1.55M286 525h1.55M231 525h1.55M222 540h1.55M269 524h1.55M287 522h1.55M291 507h1.55M233 524h1.55M230 529h1.55M233 532h1.55M292 508h1.55M268 512h1.55M243 527h1.55M276 528h1.55M279 519h1.55M282 519h1.55M229 541h1.55M298 520h1.55M264 520h1.55M238 534h1.55M225 535h1.55M289 515h1.55M235 530h1.55M293 520h1.55M273 521h1.55M263 523h1.55M243 538h1.55M226 528h1.55M243 528h1.55M241 526h1.55M231 541h1.55M295 520h1.55M293 531h1.55M258 522h1.55M250 534h1.55M228 534h1.55M265 527h1.55M259 536h1.55M287 507h1.55M249 520h1.55M238 524h1.55M265 521h1.55M276 526h1.55M265 523h1.55M242 527h1.55M282 526h1.55M287 519h1.55M232 537h1.55M266 528h1.55M228 527h1.55M293 518h1.55M244 518h1.55M281 531h1.55M239 535h1.55M268 523h1.55M232 541h1.55M268 513h1.55M273 529h1.55M290 513h1.55M243 527h1.55M270 513h1.55M272 530h1.55M276 530h1.55M290 524h1.55M283 513h1.55M250 527h1.55M232 540h1.55M278 531h1.55M229 539h1.55M274 530h1.55M243 530h1.55M264 529h1.55M265 516h1.55M282 525h1.55M266 518h1.55M246 534h1.55M247 530h1.55M261 518h1.55M263 527h1.55M256 534h1.55M228 540h1.55M267 516h1.55M236 529h1.55M270 541h1.55M238 529h1.55M231 536h1.55M256 520h1.55M283 530h1.55M312 503h1.55M292 539h1.55M296 504h1.55M335 524h1.55M344 520h1.55M264 557h1.55M260 569h1.55M250 550h1.55M288 519h1.55M289 523h1.55M295 521h1.55M335 495h1.55M290 554h1.55M260 527h1.55M274 532h1.55M298 523h1.55M356 494h1.55M343 507h1.55M241 541h1.55M309 496h1.55M236 553h1.55M300 545h1.55M325 494h1.55M285 520h1.55M241 555h1.55M321 491h1.55M314 511h1.55M312 512h1.55M328 508h1.55M335 542h1.55M344 509h1.55M312 501h1.55M301 500h1.55" stroke="#2cc2f0" stroke-width="1.55" stroke-opacity="0.66" fill="none"/><path transform="scale(.5)" d="M196 548h1.55M200 535h1.55M196 541h1.55M192 539h1.55M204 534h1.55M193 542h1.55M203 540h1.55M208 535h1.55M200 543h1.55M201 537h1.55M193 554h1.55M194 544h1.55M200 546h1.55M198 539h1.55M208 538h1.55M188 548h1.55M191 557h1.55M198 541h1.55M194 540h1.55M202 540h1.55M191 539h1.55M198 531h1.55M202 534h1.55M204 543h1.55M198 538h1.55M203 535h1.55M202 534h1.55M201 539h1.55M194 538h1.55M212 539h1.55M203 529h1.55M204 543h1.55M207 527h1.55M196 536h1.55M196 541h1.55M195 538h1.55M201 536h1.55M207 537h1.55M201 548h1.55M198 537h1.55M189 541h1.55M196 537h1.55M204 543h1.55M195 542h1.55M209 537h1.55M215 539h1.55M199 544h1.55M200 538h1.55M200 535h1.55M203 543h1.55M203 535h1.55M182 554h1.55M199 538h1.55M183 547h1.55M203 543h1.55M191 550h1.55M205 539h1.55M191 553h1.55M205 539h1.55M196 538h1.55M207 539h1.55M203 532h1.55M192 545h1.55M188 542h1.55M192 547h1.55M193 536h1.55M202 538h1.55M200 535h1.55M194 539h1.55M196 546h1.55M197 539h1.55M197 546h1.55M188 545h1.55M192 536h1.55M195 538h1.55M206 532h1.55M204 538h1.55M205 546h1.55M207 543h1.55M208 522h1.55M220 538h1.55M209 553h1.55M211 525h1.55M186 538h1.55M185 544h1.55M202 527h1.55M198 539h1.55M199 536h1.55M196 537h1.55M203 531h1.55M190 536h1.55M195 546h1.55M206 543h1.55M195 532h1.55M205 543h1.55M200 538h1.55M195 544h1.55M203 531h1.55M198 538h1.55M196 538h1.55M189 536h1.55M203 533h1.55M189 542h1.55M207 546h1.55M194 544h1.55M190 548h1.55M202 525h1.55M207 539h1.55M191 545h1.55M202 544h1.55M198 538h1.55M197 543h1.55M208 534h1.55M205 545h1.55M207 544h1.55M205 546h1.55M201 540h1.55M202 545h1.55M206 540h1.55M185 542h1.55M197 530h1.55M196 547h1.55M195 531h1.55M206 531h1.55M205 538h1.55M195 541h1.55M196 543h1.55M198 543h1.55M192 547h1.55M186 543h1.55M179 556h1.55M198 547h1.55M203 539h1.55M218 536h1.55M208 530h1.55M202 539h1.55M187 551h1.55M202 544h1.55M210 539h1.55M192 546h1.55M203 542h1.55M193 533h1.55M202 535h1.55M188 539h1.55M195 535h1.55M199 546h1.55M210 538h1.55M196 536h1.55M207 544h1.55M195 530h1.55M208 539h1.55M210 529h1.55M184 538h1.55M190 539h1.55M203 532h1.55M196 535h1.55M190 545h1.55M182 546h1.55M185 538h1.55M193 549h1.55M191 536h1.55M201 535h1.55M213 538h1.55M204 534h1.55M188 552h1.55M209 540h1.55M201 540h1.55M194 549h1.55M189 549h1.55M194 543h1.55M200 539h1.55M192 551h1.55M195 547h1.55M194 540h1.55M196 536h1.55M190 537h1.55M195 542h1.55M195 536h1.55M186 553h1.55M192 540h1.55M201 537h1.55M209 529h1.55M207 533h1.55M206 541h1.55M209 538h1.55M203 532h1.55M190 545h1.55M199 542h1.55M190 539h1.55M191 544h1.55M203 546h1.55M202 537h1.55M196 544h1.55M195 546h1.55M186 542h1.55M206 537h1.55M194 555h1.55M193 547h1.55M201 551h1.55M195 544h1.55M202 538h1.55M203 538h1.55M189 544h1.55M200 539h1.55M183 541h1.55M199 534h1.55M203 547h1.55M186 541h1.55M207 531h1.55M199 539h1.55M203 533h1.55M207 536h1.55M200 540h1.55M192 546h1.55M192 541h1.55M202 541h1.55M208 533h1.55M196 544h1.55M208 537h1.55M195 537h1.55M207 522h1.55M196 534h1.55M202 542h1.55M196 541h1.55M203 538h1.55M196 539h1.55M203 533h1.55M212 532h1.55M207 526h1.55M209 525h1.55M191 534h1.55M201 534h1.55M194 540h1.55M183 561h1.55M205 536h1.55M192 540h1.55M203 530h1.55M188 539h1.55M199 537h1.55M204 529h1.55M205 533h1.55M192 545h1.55M209 541h1.55M197 545h1.55M192 545h1.55M201 545h1.55M204 542h1.55M206 532h1.55M190 543h1.55M187 546h1.55M185 546h1.55M212 541h1.55M193 539h1.55M204 540h1.55M204 532h1.55M185 540h1.55M190 549h1.55M204 547h1.55M196 538h1.55M210 540h1.55M199 537h1.55M198 551h1.55M193 543h1.55M195 539h1.55M195 545h1.55M197 545h1.55M187 553h1.55M197 545h1.55M189 551h1.55M196 534h1.55M193 545h1.55M192 543h1.55M189 537h1.55M200 533h1.55M198 540h1.55M210 530h1.55M210 528h1.55M202 540h1.55M206 556h1.55M207 534h1.55M193 542h1.55M185 551h1.55M187 542h1.55M209 534h1.55M209 530h1.55M204 538h1.55M201 541h1.55M207 542h1.55M194 535h1.55M209 550h1.55M192 544h1.55M206 535h1.55M201 530h1.55M190 547h1.55M206 537h1.55M199 531h1.55M194 541h1.55M189 537h1.55M217 543h1.55M206 547h1.55M186 548h1.55M194 539h1.55M199 537h1.55M207 533h1.55M191 548h1.55M199 545h1.55M196 544h1.55M205 543h1.55M203 539h1.55M195 546h1.55M206 535h1.55M196 546h1.55M203 543h1.55M193 539h1.55M211 541h1.55M196 532h1.55M207 539h1.55M201 541h1.55M190 539h1.55M203 535h1.55M202 530h1.55M199 537h1.55M207 546h1.55M197 541h1.55M178 548h1.55M199 538h1.55M194 537h1.55M205 538h1.55M183 543h1.55M207 529h1.55M205 536h1.55M196 539h1.55M204 550h1.55M183 543h1.55M193 551h1.55M200 530h1.55M196 543h1.55M193 551h1.55M189 550h1.55M204 543h1.55M186 547h1.55M201 539h1.55M204 536h1.55M208 536h1.55M197 546h1.55M199 538h1.55M193 541h1.55M203 536h1.55M189 544h1.55M192 551h1.55M197 538h1.55M199 539h1.55M199 533h1.55M193 541h1.55M200 538h1.55M214 537h1.55M198 531h1.55M214 526h1.55M200 542h1.55M186 547h1.55M207 533h1.55M195 542h1.55M199 538h1.55M208 528h1.55M210 533h1.55M209 541h1.55M194 542h1.55M194 545h1.55M197 543h1.55M210 543h1.55M218 532h1.55M171 552h1.55M198 532h1.55M186 538h1.55M190 540h1.55M199 537h1.55M199 542h1.55M209 545h1.55M203 539h1.55M202 544h1.55M196 553h1.55M190 547h1.55M186 547h1.55M193 547h1.55M201 539h1.55M205 530h1.55M203 543h1.55M189 538h1.55M215 539h1.55M201 544h1.55M198 535h1.55M192 541h1.55M190 544h1.55M204 540h1.55M197 531h1.55M200 546h1.55M202 541h1.55M193 535h1.55M200 545h1.55M207 536h1.55M206 542h1.55M205 543h1.55M198 544h1.55M191 544h1.55M191 546h1.55M196 540h1.55M202 551h1.55M208 546h1.55M201 538h1.55M201 544h1.55M214 532h1.55M197 537h1.55M198 544h1.55M212 536h1.55M195 542h1.55M189 549h1.55M195 548h1.55M183 560h1.55M204 536h1.55M207 527h1.55M187 544h1.55M204 543h1.55M198 531h1.55M197 537h1.55M199 542h1.55M194 542h1.55M200 544h1.55M200 538h1.55M202 531h1.55M201 543h1.55M201 534h1.55M193 549h1.55M207 545h1.55M196 537h1.55M195 535h1.55M202 532h1.55M187 543h1.55M190 545h1.55M191 542h1.55M192 539h1.55M200 542h1.55M190 542h1.55M209 528h1.55M176 549h1.55M194 535h1.55M208 539h1.55M200 546h1.55M206 538h1.55M209 540h1.55M200 540h1.55M207 537h1.55M196 539h1.55M191 541h1.55M205 533h1.55M207 535h1.55M193 553h1.55M197 533h1.55M204 545h1.55M196 544h1.55M195 548h1.55M210 528h1.55M205 535h1.55M198 543h1.55M213 529h1.55M210 541h1.55M201 549h1.55M205 547h1.55M192 539h1.55M203 543h1.55M199 533h1.55M195 539h1.55M206 531h1.55M195 533h1.55M194 545h1.55M197 538h1.55M198 538h1.55M188 555h1.55M190 547h1.55M203 538h1.55M186 542h1.55M194 535h1.55M202 530h1.55M201 546h1.55M206 539h1.55M191 547h1.55M204 533h1.55M190 536h1.55M188 547h1.55M198 538h1.55M216 527h1.55M201 542h1.55M200 539h1.55M210 540h1.55M182 548h1.55M192 541h1.55M188 542h1.55M202 532h1.55M189 541h1.55M204 537h1.55M193 543h1.55M199 531h1.55M188 547h1.55M195 546h1.55M187 551h1.55M206 537h1.55M211 532h1.55M200 539h1.55M190 548h1.55M216 525h1.55M197 537h1.55M209 530h1.55M199 531h1.55M197 554h1.55M191 541h1.55M207 547h1.55M190 540h1.55M196 538h1.55M197 541h1.55M190 551h1.55M191 543h1.55M195 535h1.55M174 555h1.55M182 543h1.55M189 546h1.55M187 550h1.55M191 556h1.55M188 547h1.55M188 538h1.55M190 538h1.55M190 541h1.55M202 541h1.55M199 535h1.55M208 534h1.55M201 535h1.55M191 544h1.55M211 529h1.55M204 540h1.55M190 548h1.55M199 532h1.55M191 554h1.55M208 540h1.55M201 543h1.55M201 531h1.55M189 544h1.55M199 536h1.55M212 538h1.55M190 537h1.55M210 540h1.55M202 550h1.55M203 534h1.55M196 537h1.55M206 554h1.55M192 547h1.55M193 538h1.55M200 549h1.55M199 547h1.55M198 537h1.55M215 527h1.55M176 543h1.55M198 535h1.55M191 540h1.55M197 539h1.55M207 548h1.55M193 542h1.55M179 553h1.55M215 537h1.55M192 541h1.55M196 549h1.55M192 555h1.55M189 542h1.55M197 547h1.55M203 543h1.55M189 544h1.55M206 541h1.55M196 532h1.55M194 535h1.55M190 545h1.55M197 549h1.55M199 536h1.55M200 554h1.55M194 535h1.55M203 538h1.55M193 545h1.55M194 533h1.55M205 542h1.55M210 543h1.55M200 539h1.55M188 536h1.55M204 540h1.55M202 532h1.55M199 547h1.55M210 543h1.55M190 533h1.55M196 532h1.55M185 540h1.55M190 551h1.55M202 533h1.55M187 537h1.55M190 539h1.55M209 538h1.55M185 548h1.55M177 552h1.55M180 554h1.55M190 547h1.55M197 542h1.55M202 537h1.55M209 537h1.55M199 547h1.55M199 549h1.55M189 539h1.55M206 533h1.55M192 544h1.55M202 531h1.55M207 531h1.55M206 541h1.55M198 543h1.55M195 534h1.55M195 540h1.55M198 542h1.55M201 534h1.55M200 541h1.55M181 555h1.55M199 546h1.55M194 546h1.55M204 545h1.55M214 534h1.55M181 548h1.55M203 543h1.55M192 551h1.55M195 535h1.55M219 534h1.55M204 539h1.55M215 541h1.55M197 538h1.55M185 545h1.55M195 550h1.55M218 535h1.55M197 538h1.55M193 547h1.55M205 532h1.55M201 539h1.55M202 541h1.55M216 538h1.55M194 539h1.55M199 538h1.55M194 545h1.55M190 537h1.55M207 545h1.55M199 537h1.55M181 541h1.55M218 534h1.55M188 539h1.55M194 545h1.55M196 545h1.55M199 533h1.55M197 542h1.55M205 547h1.55M195 546h1.55M205 534h1.55M201 530h1.55M203 542h1.55M209 533h1.55M197 550h1.55M203 544h1.55M180 544h1.55M192 544h1.55M201 547h1.55M190 551h1.55M188 541h1.55M191 541h1.55M199 550h1.55M191 535h1.55M195 542h1.55M201 541h1.55M197 537h1.55M207 539h1.55M209 536h1.55M185 548h1.55M194 544h1.55M199 533h1.55M196 538h1.55M199 531h1.55M206 530h1.55M195 555h1.55M195 546h1.55M201 545h1.55M205 536h1.55M195 531h1.55M217 532h1.55M189 544h1.55M183 542h1.55M190 545h1.55M200 547h1.55M200 538h1.55M198 544h1.55M179 545h1.55M198 545h1.55M190 540h1.55M193 538h1.55M183 547h1.55M197 544h1.55M210 539h1.55M209 535h1.55M197 539h1.55M190 542h1.55M197 540h1.55M199 540h1.55M188 543h1.55M204 544h1.55M209 549h1.55M201 549h1.55M190 563h1.55M205 528h1.55M192 552h1.55M206 531h1.55M172 546h1.55M188 574h1.55M190 549h1.55M208 531h1.55M184 566h1.55M191 579h1.55M193 543h1.55M184 538h1.55M202 533h1.55M177 572h1.55M178 553h1.55M196 556h1.55M179 567h1.55M191 540h1.55M198 529h1.55M212 538h1.55M198 531h1.55M177 578h1.55M167 552h1.55M212 532h1.55M210 538h1.55M186 556h1.55M196 537h1.55M201 544h1.55M188 551h1.55M167 576h1.55M165 580h1.55M221 536h1.55M197 574h1.55M208 539h1.55M181 559h1.55M219 553h1.55M204 535h1.55M191 565h1.55M184 542h1.55M171 549h1.55M192 546h1.55M218 535h1.55M202 576h1.55M199 544h1.55M209 548h1.55M215 525h1.55M194 561h1.55M215 538h1.55M205 553h1.55M192 560h1.55M194 544h1.55M193 540h1.55M181 540h1.55M214 529h1.55M208 528h1.55M202 566h1.55M205 550h1.55M207 554h1.55M192 545h1.55" stroke="#f23632" stroke-width="1.55" stroke-opacity="0.66" fill="none"/><path d="M52.2 157.9V292.4H188.2M60.2 292.4v1.8M68.1 292.4v1.8M76.1 292.4v1.8M92.0 292.4v1.8M99.9 292.4v1.8M107.8 292.4v1.8M123.8 292.4v1.8M131.7 292.4v1.8M139.7 292.4v1.8M155.6 292.4v1.8M163.5 292.4v1.8M171.4 292.4v1.8M187.4 292.4v1.8M52.2 280.0h-2.2M52.2 272.8h-2.2M52.2 267.7h-2.2M52.2 263.7h-2.2M52.2 260.4h-2.2M52.2 257.7h-2.2M52.2 255.3h-2.2M52.2 253.2h-2.2M52.2 238.9h-2.2M52.2 231.7h-2.2M52.2 226.6h-2.2M52.2 222.6h-2.2M52.2 219.3h-2.2M52.2 216.6h-2.2M52.2 214.2h-2.2M52.2 212.1h-2.2M52.2 197.8h-2.2M52.2 190.6h-2.2M52.2 185.5h-2.2M52.2 181.5h-2.2M52.2 178.2h-2.2M52.2 175.5h-2.2M52.2 173.1h-2.2M52.2 171.0h-2.2" fill="none" stroke="#3a3a3a" stroke-width="0.75"/><path d="M52.2 292.4v4.2M84.0 292.4v4.2M115.8 292.4v4.2M147.6 292.4v4.2M179.4 292.4v4.2M52.2 292.4h-4.6M52.2 251.3h-4.6M52.2 210.2h-4.6M52.2 169.1h-4.6" fill="none" stroke="#111" stroke-width="1.1"/><text x="52.2" y="303.7" text-anchor="middle" class="tk">0</text><text x="84.0" y="303.7" text-anchor="middle" class="tk">200</text><text x="115.8" y="303.7" text-anchor="middle" class="tk">400</text><text x="147.6" y="303.7" text-anchor="middle" class="tk">600</text><text x="179.4" y="303.7" text-anchor="middle" class="tk">800</text><text x="43.9" y="291.7" text-anchor="end" class="tk">10<tspan dy="-2.4" font-size="3.8">0</tspan></text><text x="43.9" y="252.1" text-anchor="end" class="tk">10<tspan dy="-2.4" font-size="3.8">1</tspan></text><text x="43.9" y="212.6" text-anchor="end" class="tk">10<tspan dy="-2.4" font-size="3.8">2</tspan></text><text x="43.9" y="173.0" text-anchor="end" class="tk">10<tspan dy="-2.4" font-size="3.8">3</tspan></text></g><g><path transform="scale(.5)" d="M561 459h1.55M544 467h1.55M544 458h1.55M600 462h1.55M551 455h1.55M567 475h1.55M587 480h1.55M560 457h1.55M554 470h1.55M546 468h1.55M566 456h1.55M553 451h1.55M542 442h1.55M537 475h1.55M532 486h1.55M557 478h1.55M572 443h1.55M533 461h1.55M537 463h1.55M540 466h1.55M558 468h1.55M549 467h1.55M553 453h1.55M527 483h1.55M558 444h1.55M553 475h1.55M535 458h1.55M561 456h1.55M546 464h1.55M534 468h1.55M535 474h1.55M560 468h1.55M564 468h1.55M536 456h1.55M530 469h1.55M551 452h1.55M537 457h1.55M534 456h1.55M523 454h1.55M537 473h1.55M547 460h1.55M511 457h1.55M513 483h1.55M527 461h1.55M552 449h1.55M527 470h1.55M554 470h1.55M562 452h1.55M585 450h1.55M580 455h1.55M558 443h1.55M579 445h1.55M584 452h1.55M567 475h1.55M567 455h1.55M570 437h1.55M532 475h1.55M551 463h1.55M532 479h1.55M521 459h1.55M527 486h1.55M564 450h1.55M531 443h1.55M535 468h1.55M541 454h1.55M515 469h1.55M564 442h1.55M513 478h1.55M544 461h1.55M582 455h1.55M546 452h1.55M552 444h1.55M535 483h1.55M554 454h1.55M564 455h1.55M542 460h1.55M561 442h1.55M546 457h1.55M570 469h1.55M563 464h1.55M552 485h1.55M530 450h1.55M559 463h1.55M530 463h1.55M561 480h1.55M507 456h1.55M549 463h1.55M538 453h1.55M567 459h1.55M560 441h1.55M564 447h1.55M543 457h1.55M527 456h1.55M552 480h1.55M542 461h1.55M553 459h1.55M562 465h1.55M557 486h1.55M549 476h1.55M543 470h1.55M541 463h1.55M556 477h1.55M548 454h1.55M538 452h1.55M566 462h1.55M547 448h1.55M546 473h1.55M549 488h1.55M548 461h1.55M542 468h1.55M555 448h1.55M520 461h1.55M564 453h1.55M557 457h1.55M551 455h1.55M552 455h1.55M551 466h1.55M530 456h1.55M561 462h1.55M552 475h1.55M565 458h1.55M555 458h1.55M550 454h1.55M599 438h1.55M561 458h1.55M541 464h1.55M567 469h1.55M557 465h1.55M520 469h1.55M547 473h1.55M577 466h1.55M543 463h1.55M592 442h1.55M545 461h1.55M559 466h1.55M530 472h1.55M537 454h1.55M544 450h1.55M531 466h1.55M562 447h1.55M549 467h1.55M546 469h1.55M563 460h1.55M518 482h1.55M543 470h1.55M557 464h1.55M535 472h1.55M560 458h1.55M544 448h1.55M536 475h1.55M547 458h1.55M557 480h1.55M560 460h1.55M562 445h1.55M573 448h1.55M546 447h1.55M557 460h1.55M566 483h1.55M513 470h1.55M550 447h1.55M570 464h1.55M555 453h1.55M554 445h1.55M546 441h1.55M570 468h1.55M563 471h1.55M570 467h1.55M536 479h1.55M524 473h1.55M560 457h1.55M532 463h1.55M566 451h1.55M530 473h1.55M543 459h1.55M544 456h1.55M563 467h1.55M568 461h1.55M574 452h1.55M548 487h1.55M537 470h1.55M542 453h1.55M594 450h1.55M542 458h1.55M553 469h1.55M531 482h1.55M551 453h1.55M549 452h1.55M566 446h1.55M531 467h1.55M549 471h1.55M551 459h1.55M528 441h1.55M563 442h1.55M569 453h1.55M559 438h1.55M536 477h1.55M511 484h1.55M533 457h1.55M581 452h1.55M516 482h1.55M577 447h1.55M549 467h1.55M549 446h1.55M565 450h1.55M558 458h1.55M557 441h1.55M558 469h1.55M577 453h1.55M541 434h1.55M550 475h1.55M528 474h1.55M544 446h1.55M566 455h1.55M537 483h1.55M518 488h1.55M557 440h1.55M555 478h1.55M537 472h1.55M531 460h1.55M540 459h1.55M551 433h1.55M553 475h1.55M527 454h1.55M502 458h1.55M555 458h1.55M553 456h1.55M540 458h1.55M543 467h1.55M542 461h1.55M563 471h1.55M533 446h1.55M546 469h1.55M532 473h1.55M552 461h1.55M535 455h1.55M537 458h1.55M508 485h1.55M553 459h1.55M562 465h1.55M539 439h1.55M536 484h1.55M579 451h1.55M581 443h1.55M547 486h1.55M551 458h1.55M528 468h1.55M529 451h1.55M543 459h1.55M564 461h1.55M545 494h1.55M537 476h1.55M569 453h1.55M574 459h1.55M571 463h1.55M566 452h1.55M541 433h1.55M540 470h1.55M545 464h1.55M545 470h1.55M577 453h1.55M541 447h1.55M582 456h1.55M560 465h1.55M529 487h1.55M507 484h1.55M568 474h1.55M536 464h1.55M532 479h1.55M527 473h1.55M545 447h1.55M532 456h1.55M531 460h1.55M546 450h1.55M542 464h1.55M534 483h1.55M571 456h1.55M549 466h1.55M548 473h1.55M571 464h1.55M516 455h1.55M597 467h1.55M554 442h1.55M568 473h1.55M539 450h1.55M545 475h1.55M563 462h1.55M567 461h1.55M570 446h1.55M562 455h1.55M538 476h1.55M515 468h1.55M564 445h1.55M558 456h1.55M562 455h1.55M553 449h1.55M558 461h1.55M537 483h1.55M548 458h1.55M566 457h1.55M506 486h1.55M527 448h1.55M556 465h1.55M562 458h1.55M582 448h1.55M542 452h1.55M555 476h1.55M548 456h1.55M564 450h1.55M532 464h1.55M515 456h1.55M535 478h1.55M524 472h1.55M584 452h1.55M534 485h1.55M545 456h1.55M548 462h1.55M569 441h1.55M534 467h1.55M553 462h1.55M546 475h1.55M543 481h1.55M549 474h1.55M551 462h1.55M566 456h1.55M529 461h1.55M538 462h1.55M552 473h1.55M566 453h1.55M542 467h1.55M540 455h1.55M532 481h1.55M540 451h1.55M533 479h1.55M532 474h1.55M520 457h1.55M553 476h1.55M538 469h1.55M527 450h1.55M565 451h1.55M557 444h1.55M575 474h1.55M528 466h1.55M544 475h1.55M569 457h1.55M529 455h1.55M534 455h1.55M537 481h1.55M551 462h1.55M517 464h1.55M533 459h1.55M552 461h1.55M529 442h1.55M573 446h1.55M533 462h1.55M546 458h1.55M567 449h1.55M543 469h1.55M508 480h1.55M548 442h1.55M552 467h1.55M539 481h1.55M541 481h1.55M566 488h1.55M531 451h1.55M534 479h1.55M548 461h1.55M524 462h1.55M553 467h1.55M542 452h1.55M555 474h1.55M558 452h1.55M547 470h1.55M560 461h1.55M548 483h1.55M566 460h1.55M521 474h1.55M543 446h1.55M571 428h1.55M540 462h1.55M572 454h1.55M515 459h1.55M523 444h1.55M558 487h1.55M543 465h1.55M563 463h1.55M539 472h1.55M559 461h1.55M528 452h1.55M569 461h1.55M530 478h1.55M526 459h1.55M548 458h1.55M566 460h1.55M533 475h1.55M528 475h1.55M517 472h1.55M559 468h1.55M544 475h1.55M550 473h1.55M554 457h1.55M541 467h1.55M535 461h1.55M544 446h1.55M549 464h1.55M554 461h1.55M561 476h1.55M552 472h1.55M544 484h1.55M536 498h1.55M551 444h1.55M540 453h1.55M558 446h1.55M534 454h1.55M559 471h1.55M552 473h1.55M559 475h1.55M561 486h1.55M553 451h1.55M583 455h1.55M519 468h1.55M546 452h1.55M514 459h1.55M513 476h1.55M546 473h1.55M506 479h1.55M560 460h1.55M566 454h1.55M536 464h1.55M547 456h1.55M539 459h1.55M570 466h1.55M539 448h1.55M543 473h1.55M562 441h1.55M541 470h1.55M540 464h1.55M522 464h1.55M584 439h1.55M541 483h1.55M533 466h1.55M549 467h1.55M559 453h1.55M552 459h1.55M519 482h1.55M550 457h1.55M527 480h1.55M532 460h1.55M550 476h1.55M527 458h1.55M530 475h1.55M557 458h1.55M584 440h1.55M578 452h1.55M551 455h1.55M566 443h1.55M548 463h1.55M543 467h1.55M542 451h1.55M539 470h1.55M550 468h1.55M548 487h1.55M551 466h1.55M538 465h1.55M543 466h1.55M567 465h1.55M545 458h1.55M535 473h1.55M520 470h1.55M550 464h1.55M535 474h1.55M565 467h1.55M539 470h1.55M555 461h1.55M562 464h1.55M536 474h1.55M548 478h1.55M554 469h1.55M555 466h1.55M560 452h1.55M548 477h1.55M569 455h1.55M574 454h1.55M547 457h1.55M537 464h1.55M525 486h1.55M550 459h1.55M561 471h1.55M556 445h1.55M560 471h1.55M551 452h1.55M526 475h1.55M552 464h1.55M552 492h1.55M540 470h1.55M529 458h1.55M537 459h1.55M544 462h1.55M531 466h1.55M573 471h1.55M526 455h1.55M565 463h1.55M572 433h1.55M540 458h1.55M580 450h1.55M568 453h1.55M544 456h1.55M545 470h1.55M539 458h1.55M557 445h1.55M544 459h1.55M553 467h1.55M518 477h1.55M535 473h1.55M548 465h1.55M561 457h1.55M540 485h1.55M556 452h1.55M574 437h1.55M567 481h1.55M533 467h1.55M522 472h1.55M567 457h1.55M555 446h1.55M546 466h1.55M554 445h1.55M545 459h1.55M547 458h1.55M548 459h1.55M554 461h1.55M542 472h1.55M524 454h1.55M567 443h1.55M562 465h1.55M562 457h1.55M556 463h1.55M540 461h1.55M550 477h1.55M531 479h1.55M538 487h1.55M530 475h1.55M523 478h1.55M553 451h1.55M566 453h1.55M537 451h1.55M575 480h1.55M549 459h1.55M558 475h1.55M528 442h1.55M540 483h1.55M567 462h1.55M533 463h1.55M560 449h1.55M567 467h1.55M578 465h1.55M572 452h1.55M532 473h1.55M564 465h1.55M538 465h1.55M557 467h1.55M552 457h1.55M528 480h1.55M565 448h1.55M560 459h1.55M535 474h1.55M540 461h1.55M569 447h1.55M570 472h1.55M544 443h1.55M539 469h1.55M548 455h1.55M541 469h1.55M581 463h1.55M557 446h1.55M539 475h1.55M535 483h1.55M520 464h1.55M556 456h1.55M530 455h1.55M554 453h1.55M570 431h1.55M540 462h1.55M553 450h1.55M554 449h1.55M565 443h1.55M534 457h1.55M550 443h1.55M548 468h1.55M565 463h1.55M540 471h1.55M563 476h1.55M562 440h1.55M564 456h1.55M550 463h1.55M503 485h1.55M517 466h1.55M550 451h1.55M544 475h1.55M587 464h1.55M541 479h1.55M548 469h1.55M549 451h1.55M541 479h1.55M567 461h1.55M541 460h1.55M537 454h1.55M556 457h1.55M546 480h1.55M550 438h1.55M564 451h1.55M520 459h1.55M529 465h1.55M557 452h1.55M546 460h1.55M553 466h1.55M526 491h1.55M543 477h1.55M549 462h1.55M560 468h1.55M550 478h1.55M562 446h1.55M554 450h1.55M549 472h1.55M552 440h1.55M536 463h1.55M525 446h1.55M555 468h1.55M552 450h1.55M516 489h1.55M564 446h1.55M559 434h1.55M543 467h1.55M572 452h1.55M545 469h1.55M522 463h1.55M554 461h1.55M520 455h1.55M510 458h1.55M541 461h1.55M544 471h1.55M534 466h1.55M543 486h1.55M533 457h1.55M592 460h1.55M546 462h1.55M557 468h1.55M540 480h1.55M536 453h1.55M553 462h1.55M557 456h1.55M562 466h1.55M567 458h1.55M554 455h1.55M559 468h1.55M543 473h1.55M536 474h1.55M561 449h1.55M536 458h1.55M538 465h1.55M533 479h1.55M544 468h1.55M562 460h1.55M547 446h1.55M575 445h1.55M565 484h1.55M549 463h1.55M541 477h1.55M561 467h1.55M538 477h1.55M540 464h1.55M531 477h1.55M546 467h1.55M541 478h1.55M543 467h1.55M538 463h1.55M554 476h1.55M550 477h1.55M562 439h1.55M553 460h1.55M535 460h1.55M510 449h1.55M522 475h1.55M528 474h1.55M561 449h1.55M526 471h1.55M544 443h1.55M556 459h1.55M554 458h1.55M559 456h1.55M561 466h1.55M556 462h1.55M556 452h1.55M573 448h1.55M557 459h1.55M578 454h1.55M517 467h1.55M564 454h1.55M563 461h1.55M550 464h1.55M544 457h1.55M561 474h1.55M554 462h1.55M542 483h1.55M567 466h1.55M559 439h1.55M549 465h1.55M554 482h1.55M542 456h1.55M566 446h1.55M568 454h1.55M542 445h1.55M561 448h1.55M549 442h1.55M533 482h1.55M543 477h1.55M559 455h1.55M517 464h1.55M570 469h1.55M542 489h1.55M557 450h1.55M571 457h1.55M572 459h1.55M516 487h1.55M541 441h1.55M549 463h1.55M546 458h1.55M554 470h1.55M521 485h1.55M532 454h1.55M551 479h1.55M558 459h1.55M577 444h1.55M541 455h1.55M533 471h1.55M551 458h1.55M533 464h1.55M551 489h1.55M550 445h1.55M546 461h1.55M540 464h1.55M543 460h1.55M534 475h1.55M520 444h1.55M534 461h1.55M545 468h1.55M536 453h1.55M550 467h1.55M520 434h1.55M546 478h1.55M543 468h1.55M563 464h1.55M539 451h1.55M531 454h1.55M566 469h1.55M538 460h1.55M545 463h1.55M543 464h1.55M579 467h1.55M584 445h1.55M537 474h1.55M553 477h1.55M539 471h1.55M590 448h1.55M572 456h1.55M538 461h1.55M552 450h1.55M554 483h1.55M548 465h1.55M534 458h1.55M537 465h1.55M548 482h1.55M573 471h1.55M570 462h1.55M540 470h1.55M570 466h1.55M539 467h1.55M522 451h1.55M561 445h1.55M548 455h1.55M543 454h1.55M548 459h1.55M534 475h1.55M539 479h1.55M546 457h1.55M554 452h1.55M548 475h1.55M568 442h1.55M571 455h1.55M547 469h1.55M529 451h1.55M561 474h1.55M513 470h1.55M548 458h1.55M566 450h1.55M521 462h1.55M581 458h1.55M564 451h1.55M542 461h1.55M534 480h1.55M540 473h1.55M561 454h1.55M551 464h1.55M541 465h1.55M545 452h1.55M553 459h1.55M554 461h1.55M528 472h1.55M554 478h1.55M550 464h1.55M539 444h1.55M559 490h1.55M518 478h1.55M551 448h1.55M548 460h1.55M551 456h1.55M552 463h1.55M555 451h1.55M519 473h1.55M535 457h1.55M565 458h1.55M512 498h1.55M566 471h1.55M521 454h1.55M550 459h1.55M536 490h1.55M530 471h1.55M529 485h1.55M520 483h1.55M537 479h1.55M522 497h1.55M540 437h1.55M524 509h1.55M519 495h1.55M524 492h1.55M518 466h1.55M527 456h1.55M532 492h1.55M537 494h1.55M530 492h1.55M517 455h1.55M529 467h1.55M528 478h1.55M528 507h1.55M524 510h1.55M533 464h1.55M535 485h1.55M533 505h1.55M524 480h1.55M531 500h1.55M520 504h1.55M536 488h1.55M534 483h1.55M526 487h1.55M538 483h1.55M525 478h1.55M519 512h1.55M514 493h1.55M526 483h1.55M537 489h1.55M513 497h1.55M525 489h1.55M532 456h1.55M527 510h1.55M535 500h1.55M523 473h1.55M542 500h1.55M524 467h1.55M531 484h1.55M532 481h1.55M530 488h1.55M538 509h1.55M531 493h1.55M533 474h1.55M517 490h1.55M540 497h1.55M541 493h1.55M535 506h1.55M542 490h1.55M518 491h1.55M544 472h1.55M532 481h1.55M521 493h1.55M534 479h1.55M546 475h1.55M535 468h1.55M530 464h1.55M526 485h1.55M527 485h1.55M534 469h1.55M523 512h1.55M529 473h1.55M522 457h1.55M523 481h1.55M514 503h1.55M524 471h1.55M538 461h1.55M529 464h1.55M524 496h1.55M529 486h1.55M521 473h1.55M528 495h1.55M531 464h1.55M529 495h1.55M529 472h1.55M532 491h1.55M540 493h1.55M534 499h1.55M524 472h1.55M518 521h1.55M526 513h1.55M527 495h1.55M522 505h1.55M523 508h1.55M539 442h1.55M519 512h1.55M527 450h1.55M514 473h1.55M534 509h1.55M524 465h1.55M536 492h1.55M521 519h1.55M536 464h1.55M516 497h1.55M530 496h1.55M520 486h1.55M511 483h1.55M536 466h1.55M523 498h1.55M541 486h1.55M537 470h1.55M526 485h1.55M546 458h1.55M531 472h1.55M531 489h1.55M521 475h1.55M536 473h1.55M533 466h1.55M532 507h1.55M535 494h1.55M525 513h1.55M518 491h1.55M533 495h1.55M521 518h1.55M512 468h1.55M546 496h1.55M523 500h1.55M540 491h1.55M516 499h1.55M522 498h1.55M528 483h1.55M529 486h1.55M519 457h1.55M522 484h1.55M529 505h1.55M532 488h1.55M528 476h1.55M533 508h1.55M524 513h1.55M527 488h1.55M533 495h1.55M531 465h1.55M513 489h1.55M515 492h1.55M528 482h1.55M524 516h1.55M522 475h1.55M530 504h1.55M525 486h1.55M531 496h1.55M532 505h1.55M546 508h1.55M532 488h1.55M532 500h1.55M535 499h1.55M534 484h1.55M536 504h1.55M521 511h1.55M529 485h1.55M524 480h1.55M529 472h1.55M526 491h1.55M521 481h1.55M522 483h1.55M524 508h1.55M526 467h1.55M530 480h1.55M520 494h1.55M518 515h1.55M526 500h1.55M530 495h1.55M517 472h1.55M527 485h1.55M528 463h1.55M520 507h1.55M519 481h1.55M526 489h1.55M523 486h1.55M527 469h1.55M532 461h1.55M529 501h1.55M522 495h1.55M534 470h1.55M528 492h1.55M532 478h1.55M531 487h1.55M525 489h1.55M524 503h1.55M537 492h1.55M523 505h1.55M523 486h1.55M529 486h1.55M535 496h1.55M525 483h1.55M530 511h1.55M522 457h1.55M525 460h1.55M516 475h1.55M528 492h1.55M532 477h1.55M534 469h1.55M530 490h1.55M521 473h1.55M529 483h1.55M524 504h1.55M533 486h1.55M517 485h1.55M528 489h1.55M522 468h1.55M535 497h1.55M529 456h1.55M534 466h1.55M523 488h1.55M512 507h1.55M528 484h1.55M529 511h1.55M518 487h1.55M534 457h1.55M521 461h1.55M523 480h1.55M521 466h1.55M519 468h1.55M528 494h1.55M524 510h1.55M538 483h1.55M529 491h1.55M535 477h1.55M534 467h1.55M533 499h1.55M535 469h1.55M529 485h1.55M529 484h1.55M527 463h1.55M535 490h1.55M531 494h1.55M530 488h1.55M527 508h1.55M540 469h1.55M523 469h1.55M517 467h1.55M533 477h1.55M534 483h1.55M520 460h1.55M544 513h1.55M531 504h1.55M538 507h1.55M525 494h1.55M530 485h1.55M523 505h1.55M522 477h1.55M523 466h1.55M532 511h1.55M523 465h1.55M528 478h1.55M534 460h1.55M517 486h1.55M529 485h1.55M520 490h1.55M524 469h1.55M532 487h1.55M516 488h1.55M534 458h1.55M534 490h1.55M520 514h1.55M537 481h1.55M526 486h1.55M539 488h1.55M527 517h1.55M527 505h1.55M532 491h1.55M522 459h1.55M529 458h1.55M531 470h1.55M528 493h1.55M516 452h1.55M543 458h1.55M531 479h1.55M537 466h1.55M513 482h1.55M534 494h1.55M522 484h1.55M529 506h1.55M531 485h1.55M517 503h1.55M532 488h1.55M515 517h1.55M524 484h1.55M522 498h1.55M547 478h1.55M533 487h1.55M524 509h1.55M520 474h1.55M531 506h1.55M526 478h1.55M534 460h1.55M516 484h1.55M532 495h1.55M529 506h1.55M516 496h1.55M519 481h1.55M512 484h1.55M538 504h1.55M518 481h1.55M533 490h1.55M537 451h1.55M541 500h1.55M526 502h1.55M541 501h1.55M533 480h1.55M515 481h1.55M527 506h1.55M540 478h1.55M536 494h1.55M528 451h1.55M525 462h1.55M525 494h1.55M523 495h1.55M531 474h1.55M532 468h1.55M525 500h1.55M515 497h1.55M530 477h1.55M521 491h1.55M534 498h1.55M524 500h1.55M519 485h1.55M517 481h1.55M517 460h1.55M521 495h1.55M536 469h1.55M526 499h1.55M530 476h1.55M533 506h1.55M519 508h1.55M524 457h1.55M531 507h1.55M533 480h1.55M533 455h1.55M520 485h1.55M519 482h1.55M535 508h1.55M528 491h1.55M530 480h1.55M512 500h1.55M538 496h1.55M532 497h1.55M514 495h1.55M530 456h1.55M517 522h1.55M541 491h1.55M529 480h1.55M531 464h1.55M527 483h1.55M516 498h1.55M529 512h1.55M531 477h1.55M542 494h1.55M528 499h1.55M534 475h1.55M523 476h1.55M546 474h1.55M518 479h1.55M540 477h1.55M528 466h1.55M536 458h1.55M518 499h1.55M523 479h1.55M530 496h1.55M539 500h1.55M522 488h1.55M517 498h1.55M523 484h1.55M528 485h1.55M525 480h1.55M522 500h1.55M531 498h1.55M524 512h1.55M523 512h1.55M519 475h1.55M532 510h1.55M519 505h1.55M525 449h1.55M528 477h1.55M524 479h1.55M540 499h1.55M530 478h1.55M532 488h1.55M526 500h1.55M525 488h1.55M521 469h1.55M544 500h1.55M529 502h1.55M531 503h1.55M532 490h1.55M539 488h1.55M516 495h1.55M530 484h1.55M532 455h1.55M526 484h1.55M523 498h1.55M538 487h1.55M523 470h1.55M509 513h1.55M526 461h1.55M520 488h1.55M534 499h1.55M520 490h1.55M519 502h1.55M542 495h1.55M535 489h1.55M525 467h1.55M535 474h1.55M533 472h1.55M523 504h1.55M519 514h1.55M525 467h1.55M524 459h1.55M513 464h1.55M521 489h1.55M532 455h1.55M530 487h1.55M527 501h1.55M524 508h1.55M530 503h1.55M528 490h1.55M521 482h1.55M521 479h1.55M531 507h1.55M521 514h1.55M528 482h1.55M518 513h1.55M522 486h1.55M523 503h1.55M532 491h1.55M527 465h1.55M547 501h1.55M575 479h1.55M560 505h1.55M554 484h1.55M542 465h1.55M555 450h1.55M550 471h1.55M562 487h1.55M569 478h1.55M528 490h1.55M575 497h1.55M561 471h1.55M565 474h1.55M589 500h1.55M574 493h1.55M579 483h1.55M521 475h1.55M570 487h1.55M531 492h1.55M541 504h1.55M587 491h1.55M552 484h1.55M573 479h1.55M510 482h1.55M548 468h1.55M545 501h1.55M549 485h1.55M569 471h1.55M566 458h1.55M564 484h1.55M547 461h1.55M577 474h1.55M544 495h1.55M574 488h1.55M558 467h1.55M559 472h1.55M558 492h1.55M524 491h1.55M536 463h1.55M569 477h1.55M526 485h1.55M575 459h1.55M569 493h1.55M576 473h1.55M565 480h1.55M561 502h1.55M547 459h1.55M563 498h1.55M549 500h1.55M540 498h1.55M583 465h1.55M554 469h1.55M539 486h1.55M560 478h1.55M569 458h1.55M536 475h1.55M519 513h1.55M529 499h1.55M560 470h1.55M559 487h1.55M586 481h1.55M556 467h1.55M554 448h1.55M568 485h1.55M575 474h1.55M580 458h1.55M547 465h1.55M568 466h1.55M574 494h1.55M557 473h1.55M564 478h1.55M564 501h1.55M565 489h1.55M551 473h1.55M549 475h1.55M570 479h1.55M558 494h1.55M518 501h1.55M561 507h1.55M557 483h1.55M541 481h1.55M570 469h1.55M548 487h1.55M565 502h1.55M546 468h1.55M578 467h1.55M558 470h1.55M570 489h1.55M552 465h1.55M541 455h1.55M577 485h1.55M571 464h1.55M536 496h1.55M574 495h1.55M544 476h1.55M570 469h1.55M557 486h1.55M545 474h1.55M540 474h1.55M548 484h1.55M558 476h1.55M581 470h1.55M590 499h1.55M566 472h1.55M564 483h1.55M552 504h1.55M542 479h1.55M558 477h1.55M563 483h1.55M528 509h1.55M570 485h1.55M573 479h1.55M548 502h1.55M550 474h1.55M561 471h1.55M564 480h1.55M560 497h1.55M547 481h1.55M562 485h1.55M565 478h1.55M572 488h1.55M524 516h1.55M570 483h1.55M566 489h1.55M572 496h1.55M552 493h1.55M557 483h1.55M545 505h1.55M557 480h1.55M551 511h1.55M524 466h1.55M581 481h1.55M579 486h1.55M553 483h1.55M550 480h1.55M582 487h1.55M554 479h1.55M570 481h1.55M532 488h1.55M583 487h1.55M574 491h1.55M558 495h1.55M573 495h1.55M565 475h1.55M564 486h1.55M566 471h1.55M546 483h1.55M539 468h1.55M546 488h1.55M571 484h1.55M555 468h1.55M549 495h1.55M551 491h1.55M567 486h1.55M581 459h1.55M566 484h1.55M555 468h1.55M539 517h1.55M565 485h1.55M551 490h1.55M536 471h1.55M536 493h1.55M545 468h1.55M543 496h1.55M547 494h1.55M588 457h1.55M561 485h1.55M582 471h1.55M531 509h1.55M526 487h1.55M585 490h1.55M572 480h1.55M561 503h1.55M523 475h1.55M565 482h1.55M564 477h1.55M561 497h1.55M554 468h1.55M543 484h1.55M561 473h1.55M565 475h1.55M545 480h1.55M575 494h1.55M544 506h1.55M545 483h1.55M562 486h1.55M549 508h1.55M562 500h1.55M573 484h1.55M585 467h1.55M502 475h1.55M560 506h1.55M552 510h1.55M549 470h1.55M559 491h1.55M561 488h1.55M569 477h1.55M551 501h1.55M551 476h1.55M540 486h1.55M532 461h1.55M570 507h1.55M558 453h1.55M594 467h1.55M552 474h1.55M546 497h1.55M559 494h1.55M562 496h1.55M533 467h1.55M568 482h1.55M574 478h1.55M545 511h1.55M594 481h1.55M542 486h1.55M518 478h1.55M566 473h1.55M584 475h1.55M537 508h1.55M532 470h1.55M540 481h1.55M557 476h1.55M547 463h1.55M573 495h1.55M560 460h1.55M593 480h1.55M538 473h1.55M577 488h1.55M545 485h1.55M576 497h1.55M575 504h1.55M564 503h1.55M530 494h1.55M567 488h1.55M529 450h1.55M552 481h1.55M568 495h1.55M586 459h1.55M562 469h1.55M548 513h1.55M544 463h1.55M585 497h1.55M581 482h1.55M595 454h1.55M563 496h1.55M559 505h1.55M525 502h1.55M542 457h1.55M522 458h1.55M563 501h1.55M515 500h1.55M553 479h1.55M559 483h1.55M554 497h1.55M563 464h1.55M548 500h1.55M532 487h1.55M590 446h1.55M544 494h1.55M554 491h1.55M561 485h1.55M553 491h1.55M528 476h1.55M562 481h1.55M534 486h1.55M576 484h1.55M540 491h1.55M571 491h1.55M568 461h1.55M565 469h1.55M579 498h1.55M529 481h1.55M570 489h1.55M553 453h1.55M528 488h1.55M526 494h1.55M545 493h1.55M551 503h1.55M558 502h1.55M581 481h1.55M539 510h1.55M554 501h1.55M549 475h1.55M559 491h1.55M589 471h1.55M573 491h1.55M556 470h1.55M567 471h1.55M582 490h1.55M559 480h1.55M564 497h1.55M550 497h1.55M576 483h1.55M520 451h1.55M585 460h1.55M561 441h1.55M539 506h1.55M574 486h1.55M567 483h1.55M555 492h1.55M514 486h1.55M533 454h1.55M576 487h1.55M555 468h1.55M559 506h1.55M594 481h1.55M566 470h1.55M529 446h1.55M566 465h1.55M577 477h1.55M529 490h1.55M577 453h1.55M552 511h1.55M562 475h1.55M541 483h1.55M549 478h1.55M584 480h1.55M544 483h1.55M533 490h1.55M567 476h1.55M524 498h1.55M563 463h1.55M540 478h1.55M531 511h1.55M589 488h1.55M550 508h1.55M550 498h1.55M601 471h1.55M565 474h1.55M550 471h1.55M585 474h1.55M554 476h1.55M542 465h1.55M528 487h1.55M574 473h1.55M551 499h1.55M556 498h1.55M548 464h1.55M554 500h1.55M581 494h1.55M565 480h1.55M552 508h1.55M566 491h1.55M519 483h1.55M563 496h1.55M531 496h1.55M574 455h1.55M540 499h1.55M581 475h1.55M540 508h1.55M595 480h1.55M576 498h1.55M567 470h1.55M516 507h1.55M563 490h1.55M559 468h1.55M552 462h1.55M559 497h1.55M552 484h1.55M559 492h1.55M561 490h1.55M559 505h1.55M554 505h1.55M551 481h1.55M552 472h1.55M564 486h1.55M595 472h1.55M580 437h1.55M566 489h1.55M585 459h1.55M559 476h1.55M578 463h1.55M578 483h1.55M567 487h1.55M562 483h1.55M541 488h1.55M570 475h1.55M593 492h1.55M587 489h1.55M555 475h1.55M546 484h1.55M589 485h1.55M604 476h1.55M573 500h1.55M561 483h1.55M564 496h1.55M524 495h1.55M583 470h1.55M533 494h1.55M567 499h1.55M538 473h1.55M572 484h1.55M543 500h1.55M557 484h1.55M512 526h1.55M534 510h1.55M580 477h1.55M570 465h1.55M568 459h1.55M548 464h1.55M547 483h1.55M584 490h1.55M554 466h1.55M553 460h1.55M540 481h1.55M566 473h1.55M539 498h1.55M554 481h1.55M526 498h1.55M551 475h1.55M570 509h1.55M540 489h1.55M570 471h1.55M518 474h1.55M542 506h1.55M567 491h1.55M576 468h1.55M563 474h1.55M586 486h1.55M549 496h1.55M534 471h1.55M531 500h1.55M549 477h1.55M555 488h1.55M567 473h1.55M580 505h1.55M569 466h1.55M546 501h1.55M531 472h1.55M509 494h1.55M589 472h1.55M548 458h1.55M549 479h1.55M557 471h1.55M560 510h1.55M530 469h1.55M571 460h1.55M545 499h1.55M550 500h1.55M543 479h1.55M567 471h1.55M565 495h1.55M575 487h1.55M535 468h1.55M533 491h1.55M532 486h1.55M521 469h1.55M576 476h1.55M579 502h1.55M557 483h1.55M578 484h1.55M552 464h1.55M567 472h1.55M511 476h1.55M591 494h1.55M554 469h1.55M536 481h1.55M547 497h1.55M542 483h1.55M529 465h1.55M534 472h1.55M540 492h1.55M575 443h1.55M538 478h1.55M564 484h1.55M525 470h1.55M549 491h1.55M547 473h1.55M554 485h1.55M545 480h1.55M572 484h1.55M547 476h1.55M552 498h1.55M574 479h1.55M576 475h1.55M573 489h1.55M563 473h1.55M571 482h1.55M553 498h1.55M578 497h1.55M538 478h1.55M544 497h1.55M527 473h1.55M598 464h1.55M566 483h1.55M521 461h1.55M540 497h1.55M534 481h1.55M515 497h1.55M593 476h1.55M572 475h1.55M562 463h1.55M555 493h1.55M539 483h1.55M567 496h1.55M569 472h1.55M558 476h1.55M548 453h1.55M591 455h1.55M536 465h1.55M546 480h1.55M556 491h1.55M581 490h1.55M585 485h1.55M536 488h1.55M550 473h1.55M542 470h1.55M561 484h1.55M523 463h1.55M547 488h1.55M558 485h1.55M578 500h1.55M576 470h1.55M544 488h1.55M546 493h1.55M546 463h1.55M572 488h1.55M534 501h1.55M557 491h1.55M582 465h1.55M598 453h1.55M550 462h1.55M568 478h1.55M635 459h1.55M657 484h1.55M611 486h1.55M673 447h1.55M565 456h1.55M661 480h1.55M630 468h1.55M532 490h1.55M594 438h1.55M617 470h1.55M660 461h1.55M579 483h1.55M603 445h1.55M656 474h1.55M620 445h1.55M606 435h1.55M657 463h1.55M553 478h1.55M630 455h1.55M607 483h1.55M624 470h1.55M583 445h1.55M576 483h1.55M572 471h1.55M563 492h1.55M605 471h1.55M527 461h1.55M613 474h1.55M691 467h1.55M648 460h1.55M636 477h1.55M578 484h1.55M634 456h1.55M558 477h1.55M631 453h1.55M675 467h1.55M579 497h1.55M623 482h1.55M673 441h1.55M587 463h1.55M632 483h1.55M671 467h1.55M522 490h1.55M596 468h1.55M640 471h1.55M620 421h1.55M591 486h1.55M599 422h1.55M604 486h1.55M641 444h1.55M572 476h1.55M622 463h1.55M564 454h1.55M640 466h1.55M548 494h1.55M584 470h1.55M570 488h1.55M576 462h1.55M642 475h1.55M582 453h1.55M593 488h1.55M608 490h1.55M613 455h1.55M559 450h1.55M609 457h1.55M601 447h1.55M658 474h1.55M636 462h1.55M525 484h1.55M599 467h1.55M640 460h1.55M618 460h1.55M567 448h1.55M583 450h1.55M597 487h1.55M634 474h1.55M613 491h1.55M614 468h1.55M580 492h1.55M674 460h1.55" stroke="#258f35" stroke-width="1.55" stroke-opacity="0.64" fill="none"/><path transform="scale(.5)" d="M590 516h1.55M583 528h1.55M560 521h1.55M594 518h1.55M595 520h1.55M588 520h1.55M549 535h1.55M555 522h1.55M557 525h1.55M546 531h1.55M588 519h1.55M554 525h1.55M597 521h1.55M575 515h1.55M560 520h1.55M608 513h1.55M556 527h1.55M607 510h1.55M596 507h1.55M541 538h1.55M563 513h1.55M548 538h1.55M583 511h1.55M559 527h1.55M572 515h1.55M552 532h1.55M548 521h1.55M590 518h1.55M553 520h1.55M578 523h1.55M578 523h1.55M589 516h1.55M542 526h1.55M579 520h1.55M579 520h1.55M554 529h1.55M586 510h1.55M556 534h1.55M548 526h1.55M590 512h1.55M591 523h1.55M556 524h1.55M615 515h1.55M559 531h1.55M576 518h1.55M586 522h1.55M587 516h1.55M581 513h1.55M545 520h1.55M546 526h1.55M586 512h1.55M547 530h1.55M547 534h1.55M572 520h1.55M553 525h1.55M599 520h1.55M584 506h1.55M582 518h1.55M556 529h1.55M552 521h1.55M599 515h1.55M576 526h1.55M546 520h1.55M556 517h1.55M587 516h1.55M574 519h1.55M561 527h1.55M567 523h1.55M559 529h1.55M563 512h1.55M543 526h1.55M544 520h1.55M550 520h1.55M562 526h1.55M590 517h1.55M588 522h1.55M596 514h1.55M575 510h1.55M544 522h1.55M540 531h1.55M547 528h1.55M596 521h1.55M561 528h1.55M546 523h1.55M593 511h1.55M585 518h1.55M541 527h1.55M561 528h1.55M546 526h1.55M576 510h1.55M547 523h1.55M595 520h1.55M570 520h1.55M583 509h1.55M546 529h1.55M577 521h1.55M561 527h1.55M542 523h1.55M577 522h1.55M545 526h1.55M562 528h1.55M558 531h1.55M558 530h1.55M559 528h1.55M555 525h1.55M571 513h1.55M542 523h1.55M576 513h1.55M557 523h1.55M572 516h1.55M561 531h1.55M546 521h1.55M556 525h1.55M617 508h1.55M574 526h1.55M588 514h1.55M567 526h1.55M581 518h1.55M546 523h1.55M543 529h1.55M579 519h1.55M578 517h1.55M580 513h1.55M597 524h1.55M560 525h1.55M597 509h1.55M604 520h1.55M586 516h1.55M548 519h1.55M556 519h1.55M549 523h1.55M546 521h1.55M587 514h1.55M543 527h1.55M565 519h1.55M547 531h1.55M601 512h1.55M595 520h1.55M583 528h1.55M593 512h1.55M548 536h1.55M596 515h1.55M568 525h1.55M594 510h1.55M547 532h1.55M574 511h1.55M544 532h1.55M589 524h1.55M560 518h1.55M570 524h1.55M588 525h1.55M572 523h1.55M550 525h1.55M554 523h1.55M553 530h1.55M570 521h1.55M571 528h1.55M556 523h1.55M561 526h1.55M570 530h1.55M597 517h1.55M591 522h1.55M557 521h1.55M555 524h1.55M592 514h1.55M573 525h1.55M546 530h1.55M577 519h1.55M561 514h1.55M594 513h1.55M564 522h1.55M547 527h1.55M594 513h1.55M573 518h1.55M593 509h1.55M608 512h1.55M561 531h1.55M561 522h1.55M560 523h1.55M598 516h1.55M595 519h1.55M593 521h1.55M558 521h1.55M583 515h1.55M554 528h1.55M562 524h1.55M569 519h1.55M560 525h1.55M597 520h1.55M559 519h1.55M579 524h1.55M584 529h1.55M544 529h1.55M594 509h1.55M578 518h1.55M583 510h1.55M566 511h1.55M593 519h1.55M548 527h1.55M578 528h1.55M580 513h1.55M581 512h1.55M570 515h1.55M593 520h1.55M595 518h1.55M614 520h1.55M565 519h1.55M542 529h1.55M588 518h1.55M558 524h1.55M546 539h1.55M565 517h1.55M600 518h1.55M561 525h1.55M568 524h1.55M547 536h1.55M555 530h1.55M547 535h1.55M618 503h1.55M578 521h1.55M543 537h1.55M589 521h1.55M573 514h1.55M557 519h1.55M545 519h1.55M566 516h1.55M566 531h1.55M582 528h1.55M618 502h1.55M602 513h1.55M591 514h1.55M593 521h1.55M544 519h1.55M559 518h1.55M585 506h1.55M578 519h1.55M547 534h1.55M591 527h1.55M548 523h1.55M564 517h1.55M562 518h1.55M549 528h1.55M556 517h1.55M550 524h1.55M567 512h1.55M566 532h1.55M580 518h1.55M572 519h1.55M574 527h1.55M558 530h1.55M572 519h1.55M551 529h1.55M585 517h1.55M587 517h1.55M558 525h1.55M578 528h1.55M585 518h1.55M575 524h1.55M551 525h1.55M572 525h1.55M589 521h1.55M580 515h1.55M567 522h1.55M551 536h1.55M564 531h1.55M563 526h1.55M576 521h1.55M565 519h1.55M550 538h1.55M571 525h1.55M544 532h1.55M573 526h1.55M577 523h1.55M600 515h1.55M551 525h1.55M572 531h1.55M584 520h1.55M564 526h1.55M541 524h1.55M568 520h1.55M561 527h1.55M618 516h1.55M564 525h1.55M575 521h1.55M575 518h1.55M562 515h1.55M567 517h1.55M551 525h1.55M557 529h1.55M566 520h1.55M612 503h1.55M550 525h1.55M565 527h1.55M552 530h1.55M574 526h1.55M573 519h1.55M542 527h1.55M576 522h1.55M559 525h1.55M600 512h1.55M595 519h1.55M554 529h1.55M544 521h1.55M543 533h1.55M577 523h1.55M551 535h1.55M546 528h1.55M583 517h1.55M586 514h1.55M559 527h1.55M546 536h1.55M568 518h1.55M553 514h1.55M542 527h1.55M547 530h1.55M557 515h1.55M573 528h1.55M580 522h1.55M577 525h1.55M546 526h1.55M559 526h1.55M594 515h1.55M569 515h1.55M541 529h1.55M553 528h1.55M556 525h1.55M549 520h1.55M591 514h1.55M555 522h1.55M578 522h1.55M585 518h1.55M595 506h1.55M554 521h1.55M576 519h1.55M551 532h1.55M573 524h1.55M621 509h1.55M554 525h1.55M591 507h1.55M572 511h1.55M549 520h1.55M560 530h1.55M583 520h1.55M594 521h1.55M593 509h1.55M579 521h1.55M547 523h1.55M566 516h1.55M560 519h1.55M558 515h1.55M609 501h1.55M597 520h1.55M592 515h1.55M550 524h1.55M548 529h1.55M568 526h1.55M578 523h1.55M561 519h1.55M550 530h1.55M595 511h1.55M558 525h1.55M593 517h1.55M590 513h1.55M569 519h1.55M564 524h1.55M610 514h1.55M564 519h1.55M590 517h1.55M583 520h1.55M588 520h1.55M541 527h1.55M569 526h1.55M619 509h1.55M594 508h1.55M583 515h1.55M593 520h1.55M616 505h1.55M574 524h1.55M578 529h1.55M589 513h1.55M587 512h1.55M552 531h1.55M586 512h1.55M553 521h1.55M562 520h1.55M548 530h1.55M596 512h1.55M596 508h1.55M552 534h1.55M560 525h1.55M565 523h1.55M595 517h1.55M562 526h1.55M558 522h1.55M560 526h1.55M580 515h1.55M546 526h1.55M558 515h1.55M586 518h1.55M576 524h1.55M597 515h1.55M556 529h1.55M553 533h1.55M564 512h1.55M575 526h1.55M587 515h1.55M583 524h1.55M571 525h1.55M563 523h1.55M561 515h1.55M564 525h1.55M598 507h1.55M549 531h1.55M605 508h1.55M565 529h1.55M549 530h1.55M598 516h1.55M583 518h1.55M594 504h1.55M546 523h1.55M562 520h1.55M549 531h1.55M560 521h1.55M566 529h1.55M569 527h1.55M569 515h1.55M563 519h1.55M544 529h1.55M591 515h1.55M546 522h1.55M552 526h1.55M591 520h1.55M568 521h1.55M549 523h1.55M563 525h1.55M593 510h1.55M550 531h1.55M574 518h1.55M570 527h1.55M583 519h1.55M546 532h1.55M570 522h1.55M565 515h1.55M566 525h1.55M555 526h1.55M588 519h1.55M567 528h1.55M566 523h1.55M597 515h1.55M577 516h1.55M567 528h1.55M622 499h1.55M551 527h1.55M599 511h1.55M547 530h1.55M554 517h1.55M545 524h1.55M550 528h1.55M586 515h1.55M595 518h1.55M546 526h1.55M568 529h1.55M571 528h1.55M555 530h1.55M552 531h1.55M572 520h1.55M550 531h1.55M570 520h1.55M593 516h1.55M608 502h1.55M587 517h1.55M564 525h1.55M582 518h1.55M570 526h1.55M567 520h1.55M578 513h1.55M583 509h1.55M552 526h1.55M569 515h1.55M556 528h1.55M555 530h1.55M566 512h1.55M556 519h1.55M597 506h1.55M576 515h1.55M552 525h1.55M543 527h1.55M561 520h1.55M554 533h1.55M550 525h1.55M580 523h1.55M560 532h1.55M556 523h1.55M588 512h1.55M581 522h1.55M595 511h1.55M587 512h1.55M599 505h1.55M556 519h1.55M588 516h1.55M565 520h1.55M578 526h1.55M559 523h1.55M568 517h1.55M589 507h1.55M565 534h1.55M553 522h1.55M572 518h1.55M575 529h1.55M548 524h1.55M563 517h1.55M568 529h1.55M551 532h1.55M574 517h1.55M544 530h1.55M613 510h1.55M590 510h1.55M560 516h1.55M572 514h1.55M546 523h1.55M597 510h1.55M571 525h1.55M554 527h1.55M592 505h1.55M565 526h1.55M592 511h1.55M552 522h1.55M603 511h1.55M598 505h1.55M571 522h1.55M543 532h1.55M572 526h1.55M563 525h1.55M560 525h1.55M564 519h1.55M586 518h1.55M553 522h1.55M547 525h1.55M604 520h1.55M551 517h1.55M576 531h1.55M552 521h1.55M551 524h1.55M582 527h1.55M593 515h1.55M560 528h1.55M571 518h1.55M563 518h1.55M593 510h1.55M579 524h1.55M586 509h1.55M582 526h1.55M542 520h1.55M554 533h1.55M561 519h1.55M583 524h1.55M583 523h1.55M593 505h1.55M550 526h1.55M597 508h1.55M600 511h1.55M570 516h1.55M566 514h1.55M595 526h1.55M550 535h1.55M578 523h1.55M562 525h1.55M597 503h1.55M569 520h1.55M544 526h1.55M581 517h1.55M566 516h1.55M603 503h1.55M541 534h1.55M595 514h1.55M578 513h1.55M588 513h1.55M572 518h1.55M549 529h1.55M554 523h1.55M561 531h1.55M545 537h1.55M588 512h1.55M582 522h1.55M578 516h1.55M563 528h1.55M602 510h1.55M556 531h1.55M544 519h1.55M621 511h1.55M555 518h1.55M553 524h1.55M549 519h1.55M548 539h1.55M590 505h1.55M550 523h1.55M579 521h1.55M581 517h1.55M581 519h1.55M584 511h1.55M551 530h1.55M572 515h1.55M547 537h1.55M565 527h1.55M615 511h1.55M588 518h1.55M578 510h1.55M548 526h1.55M557 523h1.55M576 522h1.55M579 520h1.55M572 522h1.55M561 515h1.55M584 516h1.55M560 527h1.55M587 505h1.55M572 521h1.55M568 529h1.55M551 529h1.55M557 516h1.55M598 516h1.55M559 534h1.55M615 518h1.55M546 521h1.55M547 533h1.55M546 530h1.55M545 523h1.55M548 528h1.55M558 524h1.55M591 511h1.55M551 529h1.55M605 503h1.55M550 520h1.55M555 525h1.55M543 525h1.55M597 511h1.55M540 525h1.55M605 509h1.55M547 525h1.55M568 521h1.55M547 527h1.55M621 505h1.55M588 514h1.55M563 525h1.55M597 508h1.55M579 525h1.55M572 521h1.55M566 516h1.55M547 525h1.55M574 526h1.55M557 533h1.55M560 520h1.55M588 522h1.55M568 518h1.55M557 524h1.55M554 515h1.55M567 513h1.55M548 520h1.55M549 527h1.55M547 532h1.55M548 527h1.55M561 532h1.55M552 529h1.55M559 519h1.55M548 526h1.55M564 525h1.55M595 511h1.55M582 513h1.55M591 521h1.55M578 511h1.55M593 511h1.55M551 520h1.55M548 523h1.55M596 519h1.55M552 523h1.55M563 516h1.55M549 531h1.55M556 521h1.55M580 514h1.55M563 526h1.55M552 530h1.55M550 527h1.55M558 526h1.55M561 533h1.55M589 515h1.55M574 527h1.55M558 526h1.55M565 523h1.55M609 518h1.55M565 518h1.55M565 529h1.55M560 522h1.55M576 532h1.55M589 521h1.55M585 514h1.55M578 526h1.55M556 520h1.55M543 525h1.55M585 511h1.55M546 536h1.55M555 522h1.55M591 519h1.55M549 522h1.55M564 517h1.55M555 529h1.55M567 517h1.55M546 534h1.55M606 512h1.55M554 524h1.55M586 519h1.55M594 519h1.55M576 519h1.55M589 515h1.55M568 519h1.55M591 508h1.55M556 530h1.55M584 514h1.55M590 511h1.55M600 509h1.55M582 516h1.55M586 513h1.55M544 529h1.55M584 528h1.55M550 525h1.55M582 509h1.55M576 519h1.55M546 533h1.55M550 537h1.55M583 520h1.55M571 516h1.55M585 511h1.55M563 514h1.55M594 521h1.55M604 522h1.55M567 516h1.55M574 522h1.55M562 514h1.55M573 522h1.55M557 530h1.55M636 504h1.55M644 487h1.55M677 473h1.55M646 493h1.55M616 489h1.55M600 510h1.55M633 505h1.55M650 471h1.55M559 519h1.55M612 507h1.55M627 511h1.55M589 539h1.55M599 530h1.55M611 504h1.55M593 536h1.55M681 475h1.55M597 523h1.55M600 509h1.55M548 523h1.55M548 529h1.55M564 524h1.55M588 532h1.55M609 508h1.55M585 511h1.55M644 478h1.55M567 520h1.55M546 521h1.55M636 481h1.55M605 524h1.55M638 511h1.55" stroke="#2cc2f0" stroke-width="1.55" stroke-opacity="0.66" fill="none"/><path transform="scale(.5)" d="M503 540h1.55M517 531h1.55M501 538h1.55M505 540h1.55M508 549h1.55M505 540h1.55M525 523h1.55M505 531h1.55M508 532h1.55M517 530h1.55M504 534h1.55M517 525h1.55M513 533h1.55M499 538h1.55M525 533h1.55M520 535h1.55M513 534h1.55M511 540h1.55M515 534h1.55M507 534h1.55M510 539h1.55M512 536h1.55M519 533h1.55M511 542h1.55M519 525h1.55M510 535h1.55M507 541h1.55M509 531h1.55M515 528h1.55M516 531h1.55M510 532h1.55M504 545h1.55M517 536h1.55M515 535h1.55M522 535h1.55M510 542h1.55M514 531h1.55M511 538h1.55M512 534h1.55M520 536h1.55M502 534h1.55M524 538h1.55M514 538h1.55M510 530h1.55M524 529h1.55M509 540h1.55M521 535h1.55M523 530h1.55M524 530h1.55M537 522h1.55M524 527h1.55M510 539h1.55M531 518h1.55M528 532h1.55M523 528h1.55M492 546h1.55M511 535h1.55M515 540h1.55M508 530h1.55M513 527h1.55M513 534h1.55M515 535h1.55M507 539h1.55M513 532h1.55M502 538h1.55M495 544h1.55M509 538h1.55M513 537h1.55M516 537h1.55M513 529h1.55M508 539h1.55M526 527h1.55M500 536h1.55M513 530h1.55M508 538h1.55M513 533h1.55M493 545h1.55M518 530h1.55M506 536h1.55M505 540h1.55M505 540h1.55M512 538h1.55M504 538h1.55M509 538h1.55M524 531h1.55M521 534h1.55M516 532h1.55M514 541h1.55M513 536h1.55M520 527h1.55M519 543h1.55M517 529h1.55M521 523h1.55M513 538h1.55M514 534h1.55M505 540h1.55M499 535h1.55M514 538h1.55M504 545h1.55M506 537h1.55M504 547h1.55M517 526h1.55M515 532h1.55M519 535h1.55M510 531h1.55M522 536h1.55M506 536h1.55M510 536h1.55M517 537h1.55M506 541h1.55M523 526h1.55M510 536h1.55M519 539h1.55M508 538h1.55M521 536h1.55M505 544h1.55M513 536h1.55M520 525h1.55M529 532h1.55M522 541h1.55M501 539h1.55M505 536h1.55M514 528h1.55M522 529h1.55M525 527h1.55M505 541h1.55M499 548h1.55M524 521h1.55M504 536h1.55M510 547h1.55M507 541h1.55M512 530h1.55M513 536h1.55M518 537h1.55M510 536h1.55M510 547h1.55M508 539h1.55M499 536h1.55M505 539h1.55M505 542h1.55M506 536h1.55M505 531h1.55M515 533h1.55M515 536h1.55M510 533h1.55M521 537h1.55M523 535h1.55M512 542h1.55M519 529h1.55M514 528h1.55M508 536h1.55M504 538h1.55M521 529h1.55M507 542h1.55M528 528h1.55M518 528h1.55M511 535h1.55M533 530h1.55M505 539h1.55M515 527h1.55M515 531h1.55M526 531h1.55M523 528h1.55M518 535h1.55M515 539h1.55M517 528h1.55M508 537h1.55M520 537h1.55M500 542h1.55M516 537h1.55M497 553h1.55M514 532h1.55M515 538h1.55M523 525h1.55M509 539h1.55M504 532h1.55M495 538h1.55M522 526h1.55M504 538h1.55M515 525h1.55M513 536h1.55M509 538h1.55M518 527h1.55M498 542h1.55M511 530h1.55M528 521h1.55M522 535h1.55M534 528h1.55M506 538h1.55M508 532h1.55M502 537h1.55M517 543h1.55M518 529h1.55M512 537h1.55M520 525h1.55M518 526h1.55M515 530h1.55M507 541h1.55M512 541h1.55M500 545h1.55M528 525h1.55M526 519h1.55M514 533h1.55M530 528h1.55M500 539h1.55M534 522h1.55M517 534h1.55M507 545h1.55M511 532h1.55M516 536h1.55M517 529h1.55M495 550h1.55M496 546h1.55M513 531h1.55M518 526h1.55M513 529h1.55M513 531h1.55M499 541h1.55M507 537h1.55M512 535h1.55M518 523h1.55M514 539h1.55M517 524h1.55M511 540h1.55M519 537h1.55M508 537h1.55M504 539h1.55M510 533h1.55M510 537h1.55M521 532h1.55M528 532h1.55M517 535h1.55M499 545h1.55M516 537h1.55M530 529h1.55M519 532h1.55M517 527h1.55M524 529h1.55M522 525h1.55M521 525h1.55M519 526h1.55M511 538h1.55M502 541h1.55M530 531h1.55M500 543h1.55M511 540h1.55M510 532h1.55M526 527h1.55M508 534h1.55M505 535h1.55M502 532h1.55M525 529h1.55M512 535h1.55M520 531h1.55M498 540h1.55M508 540h1.55M513 536h1.55M523 524h1.55M523 530h1.55M511 535h1.55M521 536h1.55M532 529h1.55M508 541h1.55M524 533h1.55M504 552h1.55M509 544h1.55M510 540h1.55M515 540h1.55M537 527h1.55M507 532h1.55M504 538h1.55M510 530h1.55M515 529h1.55M515 527h1.55M514 534h1.55M513 534h1.55M509 531h1.55M513 536h1.55M521 540h1.55M526 521h1.55M515 529h1.55M522 534h1.55M518 535h1.55M503 549h1.55M523 530h1.55M510 534h1.55M512 541h1.55M519 530h1.55M522 526h1.55M506 542h1.55M527 541h1.55M500 545h1.55M516 537h1.55M522 533h1.55M527 525h1.55M514 534h1.55M512 539h1.55M499 536h1.55M515 536h1.55M506 545h1.55M513 533h1.55M530 525h1.55M516 536h1.55M513 538h1.55M514 533h1.55M507 535h1.55M513 529h1.55M524 524h1.55M514 539h1.55M522 528h1.55M502 543h1.55M519 527h1.55M513 531h1.55M515 536h1.55M507 535h1.55M500 540h1.55M510 529h1.55M499 537h1.55M523 532h1.55M515 537h1.55M520 538h1.55M520 530h1.55M527 530h1.55M498 537h1.55M515 532h1.55M514 540h1.55M513 533h1.55M502 539h1.55M517 539h1.55M516 537h1.55M514 534h1.55M494 541h1.55M520 534h1.55M507 540h1.55M525 536h1.55M509 533h1.55M506 547h1.55M517 534h1.55M523 529h1.55M525 520h1.55M509 536h1.55M527 532h1.55M525 522h1.55M525 530h1.55M509 538h1.55M519 532h1.55M522 525h1.55M521 534h1.55M511 544h1.55M498 542h1.55M512 539h1.55M506 532h1.55M508 534h1.55M519 533h1.55M516 541h1.55M517 531h1.55M516 528h1.55M512 535h1.55M519 537h1.55M514 543h1.55M509 540h1.55M515 531h1.55M494 542h1.55M519 535h1.55M510 531h1.55M515 540h1.55M508 535h1.55M510 537h1.55M524 522h1.55M507 542h1.55M520 535h1.55M507 533h1.55M509 530h1.55M513 530h1.55M504 536h1.55M507 535h1.55M520 538h1.55M508 539h1.55M510 538h1.55M518 532h1.55M515 542h1.55M509 537h1.55M513 537h1.55M503 546h1.55M515 536h1.55M511 541h1.55M523 539h1.55M514 539h1.55M513 539h1.55M516 535h1.55M521 529h1.55M527 526h1.55M511 540h1.55M510 535h1.55M510 533h1.55M514 539h1.55M520 540h1.55M522 535h1.55M517 538h1.55M523 525h1.55M513 540h1.55M525 527h1.55M510 540h1.55M513 528h1.55M507 543h1.55M519 536h1.55M508 531h1.55M510 529h1.55M513 533h1.55M510 539h1.55M499 538h1.55M516 538h1.55M508 539h1.55M534 522h1.55M512 541h1.55M534 530h1.55M508 539h1.55M514 529h1.55M509 534h1.55M509 538h1.55M520 526h1.55M502 538h1.55M512 540h1.55M511 535h1.55M506 533h1.55M527 522h1.55M501 542h1.55M521 531h1.55M516 540h1.55M520 538h1.55M524 530h1.55M534 515h1.55M511 538h1.55M522 525h1.55M525 536h1.55M503 549h1.55M514 534h1.55M507 542h1.55M517 533h1.55M526 530h1.55M521 528h1.55M509 537h1.55M519 535h1.55M526 537h1.55M507 541h1.55M505 535h1.55M491 540h1.55M510 544h1.55M525 525h1.55M516 539h1.55M519 527h1.55M515 534h1.55M498 544h1.55M506 530h1.55M506 540h1.55M510 536h1.55M519 534h1.55M507 534h1.55M513 536h1.55M537 519h1.55M508 533h1.55M520 533h1.55M512 534h1.55M505 539h1.55M520 522h1.55M501 542h1.55M515 537h1.55M519 534h1.55M500 542h1.55M518 525h1.55M509 530h1.55M534 522h1.55M499 545h1.55M509 535h1.55M505 537h1.55M517 534h1.55M521 524h1.55M515 531h1.55M511 529h1.55M511 537h1.55M522 535h1.55M505 531h1.55M516 532h1.55M508 534h1.55M533 533h1.55M517 537h1.55M526 527h1.55M505 546h1.55M511 542h1.55M514 532h1.55M513 533h1.55M513 530h1.55M526 537h1.55M486 543h1.55M517 539h1.55M505 536h1.55M518 533h1.55M516 532h1.55M527 524h1.55M509 541h1.55M520 530h1.55M510 530h1.55M519 534h1.55M516 537h1.55M499 537h1.55M504 538h1.55M524 534h1.55M508 546h1.55M508 535h1.55M532 533h1.55M519 531h1.55M506 530h1.55M534 522h1.55M492 547h1.55M516 541h1.55M493 544h1.55M497 544h1.55M517 529h1.55M497 536h1.55M506 530h1.55M511 542h1.55M512 538h1.55M512 537h1.55M503 536h1.55M511 532h1.55M499 540h1.55M507 534h1.55M517 537h1.55M517 526h1.55M517 535h1.55M510 533h1.55M520 532h1.55M512 537h1.55M512 534h1.55M511 532h1.55M510 534h1.55M503 537h1.55M511 533h1.55M511 531h1.55M508 531h1.55M511 534h1.55M527 530h1.55M513 527h1.55M515 543h1.55M501 539h1.55M519 539h1.55M499 546h1.55M510 537h1.55M535 525h1.55M501 538h1.55M507 538h1.55M514 537h1.55M515 527h1.55M514 538h1.55M505 543h1.55M516 524h1.55M517 530h1.55M509 538h1.55M518 530h1.55M522 540h1.55M512 540h1.55M501 544h1.55M511 533h1.55M512 530h1.55M518 540h1.55M519 536h1.55M507 540h1.55M511 534h1.55M497 548h1.55M514 528h1.55M498 541h1.55M508 533h1.55M523 532h1.55M500 540h1.55M517 531h1.55M517 535h1.55M522 531h1.55M526 533h1.55M523 528h1.55M496 539h1.55M510 534h1.55M513 529h1.55M515 538h1.55M499 538h1.55M504 542h1.55M515 535h1.55M516 539h1.55M527 528h1.55M517 531h1.55M527 518h1.55M526 530h1.55M506 532h1.55M515 535h1.55M520 533h1.55M511 541h1.55M513 533h1.55M528 527h1.55M497 540h1.55M501 544h1.55M498 541h1.55M520 539h1.55M507 550h1.55M513 543h1.55M508 539h1.55M507 539h1.55M507 532h1.55M529 531h1.55M506 534h1.55M521 532h1.55M513 536h1.55M493 539h1.55M517 541h1.55M511 532h1.55M512 543h1.55M517 541h1.55M511 533h1.55M518 538h1.55M515 541h1.55M516 531h1.55M525 522h1.55M507 532h1.55M516 530h1.55M524 525h1.55M515 531h1.55M516 539h1.55M501 543h1.55M518 522h1.55M505 537h1.55M514 532h1.55M531 537h1.55M510 536h1.55M503 538h1.55M504 543h1.55M512 539h1.55M517 534h1.55M503 533h1.55M511 530h1.55M510 534h1.55M522 534h1.55M515 541h1.55M533 517h1.55M517 539h1.55M503 540h1.55M508 531h1.55M510 534h1.55M509 530h1.55M513 531h1.55M523 532h1.55M500 547h1.55M513 545h1.55M520 531h1.55M513 540h1.55M511 537h1.55M513 530h1.55M512 543h1.55M518 532h1.55M513 537h1.55M514 536h1.55M528 531h1.55M522 536h1.55M511 527h1.55M525 532h1.55M511 532h1.55M514 538h1.55M510 538h1.55M510 546h1.55M523 528h1.55M515 537h1.55M516 528h1.55M521 529h1.55M524 535h1.55M515 534h1.55M516 527h1.55M533 529h1.55M512 529h1.55M514 535h1.55M514 536h1.55M506 539h1.55M516 534h1.55M502 540h1.55M510 530h1.55M515 547h1.55M515 534h1.55M519 533h1.55M505 539h1.55M507 537h1.55M513 531h1.55M500 544h1.55M527 528h1.55M513 529h1.55M524 522h1.55M506 537h1.55M517 535h1.55M503 537h1.55M511 542h1.55M510 544h1.55M508 531h1.55M508 536h1.55M516 531h1.55M519 528h1.55M510 544h1.55M501 539h1.55M517 533h1.55M510 532h1.55M523 528h1.55M515 531h1.55M496 539h1.55M505 543h1.55M507 532h1.55M513 533h1.55M511 534h1.55M520 538h1.55M538 523h1.55M522 539h1.55M523 528h1.55M520 534h1.55M504 542h1.55M504 542h1.55M517 532h1.55M522 534h1.55M507 537h1.55M528 525h1.55M505 531h1.55M504 533h1.55M526 536h1.55M514 539h1.55M512 543h1.55M510 531h1.55M515 535h1.55M511 532h1.55M519 531h1.55M521 534h1.55M502 543h1.55M500 548h1.55M527 532h1.55M511 535h1.55M529 532h1.55M517 531h1.55M519 534h1.55M513 545h1.55M512 539h1.55M522 543h1.55M505 531h1.55M502 539h1.55M504 544h1.55M520 531h1.55M506 543h1.55M495 537h1.55M502 536h1.55M521 525h1.55M517 535h1.55M521 531h1.55M514 529h1.55M501 542h1.55M511 531h1.55M510 539h1.55M519 534h1.55M509 538h1.55M517 533h1.55M510 547h1.55M514 529h1.55M506 533h1.55M510 531h1.55M513 531h1.55M529 530h1.55M518 539h1.55M515 533h1.55M508 542h1.55M522 530h1.55M507 536h1.55M521 528h1.55M509 536h1.55M509 528h1.55M504 544h1.55M492 550h1.55M535 523h1.55M515 535h1.55M527 530h1.55M518 528h1.55M513 537h1.55M510 537h1.55M497 536h1.55M513 545h1.55M509 536h1.55M510 533h1.55M517 543h1.55M515 536h1.55M513 541h1.55M518 535h1.55M506 542h1.55M506 537h1.55M514 540h1.55M516 537h1.55M504 533h1.55M532 522h1.55M519 535h1.55M503 546h1.55M503 540h1.55M502 539h1.55M514 537h1.55M516 531h1.55M507 534h1.55M512 535h1.55M509 531h1.55M519 533h1.55M509 536h1.55M508 537h1.55M511 533h1.55M524 528h1.55M507 538h1.55M512 529h1.55M519 534h1.55M528 537h1.55M531 551h1.55M522 521h1.55M538 529h1.55M493 546h1.55M496 544h1.55M499 536h1.55M493 538h1.55M493 540h1.55M496 563h1.55M526 560h1.55M504 540h1.55M528 530h1.55M517 561h1.55M491 549h1.55M528 530h1.55M461 558h1.55M500 546h1.55M487 555h1.55M504 553h1.55M500 551h1.55M518 523h1.55M502 540h1.55M507 549h1.55M512 530h1.55M494 542h1.55M524 524h1.55M496 544h1.55M520 529h1.55M525 536h1.55M512 545h1.55M500 537h1.55M520 522h1.55M498 562h1.55M500 535h1.55M530 546h1.55M517 544h1.55M527 544h1.55M510 536h1.55M520 535h1.55M506 533h1.55M524 530h1.55M522 536h1.55M476 560h1.55M506 541h1.55M536 516h1.55M481 562h1.55M522 526h1.55M529 518h1.55M506 549h1.55M534 520h1.55M534 517h1.55M496 549h1.55M539 521h1.55M523 535h1.55M507 546h1.55M494 558h1.55M509 559h1.55M517 540h1.55M486 545h1.55M477 553h1.55M535 542h1.55M513 554h1.55M473 560h1.55" stroke="#f23632" stroke-width="1.55" stroke-opacity="0.66" fill="none"/><path d="M212.6 155.8V290.3H348.6M220.5 290.3v1.8M228.5 290.3v1.8M236.4 290.3v1.8M252.3 290.3v1.8M260.3 290.3v1.8M268.2 290.3v1.8M284.1 290.3v1.8M292.1 290.3v1.8M300.1 290.3v1.8M315.9 290.3v1.8M323.9 290.3v1.8M331.9 290.3v1.8M347.8 290.3v1.8M212.6 277.9h-2.2M212.6 270.7h-2.2M212.6 265.6h-2.2M212.6 261.6h-2.2M212.6 258.3h-2.2M212.6 255.6h-2.2M212.6 253.2h-2.2M212.6 251.1h-2.2M212.6 236.8h-2.2M212.6 229.6h-2.2M212.6 224.5h-2.2M212.6 220.5h-2.2M212.6 217.2h-2.2M212.6 214.5h-2.2M212.6 212.1h-2.2M212.6 210.0h-2.2M212.6 195.7h-2.2M212.6 188.5h-2.2M212.6 183.4h-2.2M212.6 179.4h-2.2M212.6 176.1h-2.2M212.6 173.4h-2.2M212.6 171.0h-2.2M212.6 168.9h-2.2" fill="none" stroke="#3a3a3a" stroke-width="0.75"/><path d="M212.6 290.3v4.2M244.4 290.3v4.2M276.2 290.3v4.2M308.0 290.3v4.2M339.8 290.3v4.2M212.6 290.3h-4.6M212.6 249.2h-4.6M212.6 208.1h-4.6M212.6 167.0h-4.6" fill="none" stroke="#111" stroke-width="1.1"/><text x="212.6" y="301.6" text-anchor="middle" class="tk">0</text><text x="244.4" y="301.6" text-anchor="middle" class="tk">200</text><text x="276.2" y="301.6" text-anchor="middle" class="tk">400</text><text x="308.0" y="301.6" text-anchor="middle" class="tk">600</text><text x="339.8" y="301.6" text-anchor="middle" class="tk">800</text><text x="204.3" y="289.6" text-anchor="end" class="tk">10<tspan dy="-2.4" font-size="3.8">0</tspan></text><text x="204.3" y="250.0" text-anchor="end" class="tk">10<tspan dy="-2.4" font-size="3.8">1</tspan></text><text x="204.3" y="210.5" text-anchor="end" class="tk">10<tspan dy="-2.4" font-size="3.8">2</tspan></text><text x="204.3" y="170.9" text-anchor="end" class="tk">10<tspan dy="-2.4" font-size="3.8">3</tspan></text></g><g><path transform="scale(.5)" d="M901 493h1.55M845 483h1.55M867 475h1.55M857 444h1.55M846 493h1.55M862 475h1.55M886 451h1.55M851 484h1.55M860 483h1.55M861 482h1.55M912 481h1.55M841 498h1.55M854 477h1.55M862 497h1.55M843 471h1.55M875 469h1.55M871 462h1.55M869 493h1.55M866 508h1.55M861 491h1.55M864 453h1.55M896 492h1.55M873 497h1.55M844 458h1.55M877 470h1.55M892 468h1.55M884 485h1.55M864 508h1.55M885 451h1.55M907 465h1.55M874 472h1.55M877 488h1.55M864 511h1.55M867 465h1.55M875 506h1.55M860 457h1.55M877 461h1.55M866 463h1.55M820 475h1.55M855 473h1.55M847 491h1.55M871 475h1.55M843 463h1.55M844 496h1.55M862 450h1.55M861 490h1.55M880 486h1.55M891 489h1.55M854 486h1.55M855 490h1.55M852 471h1.55M859 466h1.55M848 485h1.55M854 483h1.55M849 456h1.55M825 510h1.55M883 496h1.55M870 458h1.55M892 470h1.55M834 506h1.55M880 476h1.55M860 451h1.55M884 497h1.55M857 455h1.55M880 474h1.55M836 482h1.55M875 479h1.55M901 467h1.55M865 476h1.55M876 475h1.55M895 474h1.55M909 466h1.55M848 483h1.55M848 483h1.55M879 488h1.55M863 507h1.55M856 491h1.55M862 466h1.55M849 494h1.55M867 464h1.55M840 454h1.55M856 501h1.55M858 469h1.55M863 455h1.55M856 461h1.55M880 490h1.55M833 502h1.55M875 486h1.55M875 464h1.55M867 492h1.55M888 483h1.55M857 463h1.55M901 474h1.55M866 496h1.55M868 501h1.55M852 451h1.55M873 484h1.55M903 469h1.55M879 471h1.55M871 486h1.55M890 483h1.55M863 488h1.55M866 477h1.55M835 478h1.55M848 453h1.55M893 476h1.55M853 491h1.55M880 463h1.55M860 483h1.55M883 466h1.55M860 479h1.55M857 489h1.55M842 460h1.55M847 470h1.55M844 502h1.55M860 466h1.55M876 480h1.55M838 466h1.55M824 462h1.55M857 479h1.55M881 505h1.55M866 481h1.55M858 486h1.55M859 466h1.55M841 462h1.55M886 472h1.55M867 474h1.55M885 494h1.55M840 470h1.55M878 508h1.55M851 470h1.55M867 495h1.55M847 477h1.55M836 481h1.55M881 469h1.55M848 492h1.55M908 443h1.55M825 467h1.55M869 483h1.55M838 467h1.55M881 459h1.55M828 467h1.55M868 478h1.55M883 491h1.55M874 490h1.55M860 473h1.55M843 463h1.55M876 505h1.55M877 500h1.55M882 479h1.55M826 512h1.55M870 475h1.55M882 499h1.55M880 435h1.55M905 461h1.55M841 481h1.55M853 486h1.55M860 465h1.55M863 489h1.55M860 482h1.55M898 472h1.55M842 485h1.55M877 453h1.55M848 465h1.55M871 469h1.55M861 495h1.55M882 475h1.55M854 446h1.55M919 464h1.55M863 478h1.55M864 463h1.55M862 483h1.55M856 470h1.55M873 476h1.55M841 489h1.55M875 480h1.55M870 500h1.55M867 479h1.55M907 460h1.55M871 485h1.55M907 452h1.55M873 491h1.55M846 460h1.55M884 484h1.55M856 469h1.55M857 513h1.55M851 473h1.55M852 465h1.55M890 472h1.55M852 484h1.55M849 468h1.55M866 493h1.55M895 470h1.55M887 496h1.55M884 507h1.55M870 468h1.55M854 480h1.55M885 482h1.55M843 482h1.55M883 489h1.55M862 478h1.55M856 463h1.55M920 468h1.55M885 468h1.55M839 475h1.55M866 462h1.55M857 492h1.55M863 484h1.55M888 459h1.55M892 485h1.55M876 462h1.55M893 474h1.55M887 474h1.55M850 460h1.55M909 484h1.55M844 473h1.55M831 472h1.55M848 476h1.55M865 459h1.55M849 480h1.55M837 462h1.55M857 478h1.55M901 477h1.55M887 447h1.55M867 484h1.55M827 462h1.55M913 459h1.55M859 460h1.55M894 479h1.55M886 443h1.55M896 496h1.55M870 461h1.55M880 486h1.55M869 482h1.55M860 473h1.55M863 488h1.55M901 484h1.55M852 482h1.55M922 473h1.55M856 482h1.55M886 477h1.55M835 481h1.55M855 461h1.55M843 489h1.55M876 464h1.55M849 484h1.55M878 488h1.55M883 471h1.55M888 460h1.55M869 477h1.55M882 474h1.55M886 464h1.55M883 482h1.55M890 444h1.55M854 454h1.55M828 493h1.55M845 477h1.55M892 457h1.55M863 468h1.55M853 505h1.55M885 471h1.55M866 492h1.55M855 506h1.55M896 446h1.55M885 469h1.55M904 464h1.55M874 477h1.55M870 457h1.55M870 477h1.55M870 484h1.55M874 490h1.55M852 479h1.55M839 468h1.55M810 463h1.55M896 462h1.55M899 465h1.55M858 484h1.55M844 469h1.55M840 504h1.55M865 493h1.55M874 478h1.55M890 469h1.55M858 466h1.55M880 487h1.55M838 468h1.55M846 485h1.55M886 484h1.55M877 479h1.55M864 483h1.55M895 481h1.55M883 500h1.55M877 462h1.55M856 484h1.55M878 501h1.55M847 461h1.55M911 467h1.55M893 466h1.55M835 468h1.55M852 460h1.55M879 459h1.55M915 494h1.55M873 478h1.55M853 472h1.55M830 490h1.55M879 455h1.55M902 481h1.55M858 485h1.55M908 457h1.55M852 487h1.55M859 474h1.55M901 458h1.55M900 467h1.55M831 483h1.55M856 477h1.55M900 485h1.55M833 483h1.55M864 467h1.55M904 490h1.55M896 493h1.55M865 461h1.55M880 460h1.55M859 461h1.55M882 492h1.55M872 484h1.55M862 486h1.55M842 469h1.55M878 460h1.55M887 468h1.55M868 480h1.55M858 463h1.55M855 492h1.55M849 482h1.55M837 479h1.55M882 461h1.55M890 461h1.55M872 463h1.55M861 450h1.55M868 478h1.55M863 479h1.55M856 466h1.55M884 483h1.55M848 465h1.55M898 499h1.55M853 480h1.55M864 465h1.55M883 468h1.55M861 453h1.55M851 473h1.55M847 487h1.55M878 450h1.55M885 464h1.55M829 479h1.55M852 508h1.55M857 473h1.55M889 483h1.55M877 455h1.55M861 469h1.55M852 508h1.55M874 470h1.55M889 481h1.55M856 483h1.55M893 478h1.55M877 491h1.55M873 464h1.55M861 504h1.55M873 501h1.55M847 495h1.55M848 459h1.55M842 461h1.55M875 469h1.55M892 497h1.55M892 468h1.55M884 478h1.55M873 468h1.55M875 459h1.55M846 479h1.55M890 496h1.55M839 471h1.55M857 470h1.55M894 487h1.55M842 474h1.55M851 470h1.55M870 497h1.55M869 464h1.55M833 502h1.55M883 498h1.55M868 475h1.55M854 467h1.55M853 481h1.55M878 442h1.55M854 473h1.55M852 491h1.55M867 455h1.55M890 473h1.55M902 459h1.55M859 486h1.55M855 486h1.55M845 447h1.55M884 470h1.55M892 467h1.55M849 478h1.55M873 480h1.55M874 458h1.55M880 469h1.55M859 488h1.55M869 485h1.55M870 483h1.55M854 466h1.55M872 464h1.55M899 479h1.55M887 497h1.55M831 483h1.55M863 455h1.55M849 471h1.55M880 465h1.55M873 485h1.55M876 480h1.55M875 493h1.55M856 500h1.55M869 476h1.55M884 482h1.55M861 460h1.55M865 471h1.55M877 468h1.55M872 482h1.55M877 478h1.55M842 490h1.55M904 478h1.55M874 479h1.55M830 489h1.55M873 479h1.55M918 488h1.55M863 493h1.55M858 500h1.55M851 489h1.55M897 504h1.55M874 493h1.55M869 467h1.55M894 462h1.55M890 469h1.55M850 501h1.55M866 469h1.55M857 515h1.55M880 507h1.55M881 462h1.55M835 475h1.55M877 483h1.55M857 496h1.55M854 480h1.55M862 490h1.55M862 478h1.55M834 489h1.55M845 481h1.55M889 473h1.55M874 470h1.55M878 461h1.55M854 470h1.55M867 470h1.55M867 493h1.55M833 493h1.55M890 499h1.55M895 464h1.55M834 475h1.55M878 481h1.55M887 493h1.55M859 470h1.55M859 498h1.55M877 468h1.55M837 476h1.55M878 469h1.55M880 488h1.55M877 490h1.55M870 450h1.55M875 507h1.55M856 478h1.55M879 483h1.55M874 489h1.55M878 472h1.55M858 462h1.55M854 459h1.55M857 469h1.55M868 497h1.55M860 435h1.55M849 467h1.55M871 505h1.55M868 489h1.55M880 495h1.55M841 488h1.55M855 477h1.55M894 493h1.55M898 486h1.55M848 471h1.55M858 454h1.55M879 456h1.55M832 462h1.55M883 474h1.55M867 472h1.55M903 462h1.55M902 431h1.55M921 466h1.55M872 479h1.55M857 466h1.55M857 498h1.55M901 464h1.55M887 483h1.55M897 495h1.55M891 464h1.55M867 480h1.55M894 492h1.55M885 483h1.55M853 469h1.55M837 480h1.55M855 488h1.55M868 456h1.55M904 469h1.55M897 458h1.55M884 478h1.55M878 495h1.55M823 461h1.55M900 461h1.55M880 506h1.55M876 486h1.55M899 476h1.55M884 462h1.55M891 487h1.55M871 479h1.55M886 495h1.55M826 482h1.55M878 478h1.55M855 457h1.55M867 490h1.55M878 478h1.55M853 494h1.55M869 452h1.55M885 488h1.55M859 484h1.55M850 488h1.55M842 495h1.55M843 462h1.55M854 477h1.55M884 479h1.55M865 474h1.55M887 453h1.55M866 468h1.55M889 474h1.55M898 504h1.55M900 433h1.55M861 470h1.55M860 462h1.55M848 454h1.55M889 481h1.55M857 482h1.55M861 466h1.55M868 475h1.55M866 493h1.55M864 461h1.55M903 463h1.55M874 479h1.55M878 488h1.55M847 478h1.55M858 458h1.55M867 476h1.55M859 485h1.55M832 497h1.55M880 479h1.55M841 496h1.55M894 499h1.55M842 488h1.55M895 501h1.55M897 472h1.55M847 456h1.55M848 479h1.55M887 477h1.55M876 475h1.55M882 459h1.55M870 483h1.55M899 489h1.55M891 495h1.55M893 454h1.55M878 500h1.55M888 475h1.55M864 467h1.55M845 471h1.55M882 480h1.55M881 465h1.55M867 463h1.55M881 444h1.55M885 474h1.55M901 466h1.55M894 480h1.55M871 489h1.55M851 469h1.55M870 469h1.55M866 487h1.55M871 496h1.55M849 487h1.55M860 486h1.55M889 492h1.55M852 464h1.55M865 475h1.55M828 467h1.55M856 453h1.55M856 490h1.55M859 481h1.55M860 450h1.55M857 482h1.55M859 449h1.55M875 475h1.55M896 475h1.55M889 471h1.55M844 477h1.55M888 486h1.55M895 483h1.55M875 493h1.55M886 495h1.55M863 479h1.55M847 488h1.55M896 482h1.55M892 476h1.55M841 496h1.55M861 452h1.55M839 502h1.55M874 494h1.55M858 483h1.55M876 505h1.55M864 475h1.55M899 474h1.55M868 469h1.55M890 463h1.55M880 472h1.55M854 494h1.55M866 494h1.55M881 497h1.55M849 440h1.55M873 454h1.55M873 484h1.55M878 477h1.55M871 454h1.55M845 487h1.55M884 467h1.55M860 476h1.55M879 459h1.55M859 489h1.55M880 461h1.55M845 485h1.55M912 480h1.55M860 459h1.55M859 467h1.55M873 490h1.55M850 492h1.55M858 469h1.55M857 482h1.55M907 467h1.55M839 498h1.55M857 476h1.55M884 489h1.55M865 481h1.55M843 491h1.55M864 496h1.55M881 479h1.55M883 485h1.55M825 491h1.55M826 487h1.55M854 471h1.55M886 479h1.55M818 482h1.55M867 475h1.55M847 484h1.55M902 462h1.55M847 473h1.55M895 448h1.55M854 453h1.55M914 491h1.55M875 476h1.55M885 485h1.55M875 476h1.55M851 503h1.55M863 468h1.55M884 496h1.55M883 470h1.55M865 491h1.55M856 491h1.55M860 454h1.55M851 455h1.55M880 485h1.55M907 464h1.55M838 499h1.55M899 489h1.55M881 503h1.55M858 492h1.55M855 484h1.55M877 452h1.55M866 452h1.55M880 476h1.55M886 478h1.55M888 483h1.55M860 508h1.55M843 481h1.55M867 507h1.55M862 470h1.55M883 480h1.55M908 448h1.55M854 459h1.55M893 468h1.55M864 506h1.55M908 499h1.55M913 457h1.55M836 482h1.55M869 485h1.55M875 471h1.55M862 474h1.55M847 484h1.55M879 482h1.55M911 451h1.55M873 483h1.55M841 494h1.55M865 489h1.55M832 481h1.55M835 466h1.55M862 475h1.55M857 486h1.55M862 471h1.55M865 481h1.55M883 477h1.55M838 496h1.55M838 482h1.55M871 474h1.55M837 481h1.55M870 476h1.55M839 499h1.55M861 456h1.55M829 458h1.55M892 471h1.55M852 490h1.55M876 452h1.55M859 488h1.55M881 485h1.55M852 498h1.55M846 455h1.55M880 484h1.55M851 461h1.55M883 452h1.55M869 467h1.55M884 461h1.55M853 498h1.55M853 469h1.55M850 475h1.55M890 482h1.55M861 484h1.55M894 472h1.55M878 468h1.55M842 469h1.55M865 444h1.55M880 482h1.55M890 502h1.55M858 474h1.55M852 462h1.55M851 487h1.55M894 470h1.55M835 475h1.55M823 482h1.55M897 494h1.55M891 499h1.55M856 480h1.55M867 476h1.55M897 447h1.55M858 507h1.55M868 463h1.55M838 476h1.55M901 495h1.55M876 502h1.55M814 457h1.55M865 459h1.55M847 506h1.55M894 495h1.55M868 464h1.55M870 464h1.55M837 486h1.55M864 479h1.55M873 476h1.55M871 490h1.55M895 475h1.55M872 467h1.55M838 472h1.55M889 472h1.55M859 472h1.55M854 469h1.55M821 483h1.55M876 488h1.55M837 472h1.55M867 489h1.55M898 487h1.55M874 492h1.55M895 458h1.55M867 487h1.55M856 465h1.55M881 472h1.55M859 504h1.55M869 439h1.55M911 491h1.55M859 488h1.55M847 466h1.55M861 493h1.55M877 471h1.55M868 479h1.55M867 466h1.55M854 462h1.55M835 491h1.55M881 482h1.55M873 482h1.55M839 475h1.55M881 493h1.55M904 486h1.55M890 466h1.55M879 474h1.55M860 507h1.55M853 472h1.55M840 478h1.55M845 488h1.55M866 481h1.55M871 473h1.55M831 467h1.55M859 491h1.55M876 462h1.55M841 487h1.55M863 487h1.55M893 483h1.55M892 483h1.55M866 486h1.55M835 491h1.55M880 499h1.55M860 474h1.55M831 506h1.55M874 489h1.55M898 471h1.55M885 483h1.55M905 462h1.55M853 478h1.55M816 460h1.55M871 461h1.55M814 462h1.55M869 480h1.55M895 487h1.55M873 489h1.55M876 496h1.55M880 476h1.55M894 483h1.55M875 468h1.55M903 463h1.55M890 468h1.55M894 480h1.55M892 452h1.55M865 497h1.55M868 485h1.55M887 462h1.55M880 474h1.55M856 503h1.55M876 491h1.55M830 490h1.55M882 464h1.55M877 479h1.55M866 471h1.55M860 489h1.55M867 467h1.55M845 492h1.55M871 488h1.55M854 458h1.55M834 486h1.55M851 480h1.55M858 467h1.55M846 468h1.55M869 483h1.55M863 481h1.55M866 494h1.55M868 497h1.55M867 466h1.55M868 486h1.55M841 493h1.55M835 496h1.55M858 447h1.55M884 501h1.55M874 485h1.55M851 488h1.55M845 504h1.55M861 459h1.55M875 496h1.55M873 432h1.55M835 474h1.55M887 504h1.55M875 496h1.55M852 484h1.55M890 487h1.55M867 463h1.55M873 458h1.55M884 496h1.55M856 475h1.55M863 473h1.55M859 461h1.55M854 463h1.55M843 505h1.55M854 489h1.55M882 479h1.55M845 483h1.55M854 470h1.55M884 463h1.55M842 483h1.55M851 500h1.55M838 504h1.55M870 446h1.55M855 490h1.55M885 494h1.55M870 491h1.55M860 486h1.55M879 499h1.55M846 483h1.55M867 487h1.55M849 476h1.55M865 446h1.55M861 488h1.55M862 437h1.55M842 475h1.55M894 502h1.55M895 482h1.55M848 492h1.55M883 480h1.55M870 471h1.55M887 481h1.55M878 503h1.55M862 494h1.55M894 486h1.55M870 476h1.55M869 457h1.55M877 463h1.55M836 478h1.55M902 462h1.55M881 508h1.55M864 497h1.55M842 486h1.55M877 501h1.55M873 485h1.55M843 494h1.55M874 472h1.55M841 503h1.55M853 509h1.55M874 499h1.55M832 489h1.55M943 474h1.55M890 474h1.55M878 459h1.55M879 497h1.55M828 497h1.55M873 477h1.55M834 494h1.55M887 463h1.55M900 455h1.55M885 463h1.55M894 501h1.55M882 472h1.55M874 498h1.55M887 468h1.55M850 496h1.55M905 500h1.55M849 506h1.55M875 476h1.55M821 516h1.55M880 497h1.55M885 486h1.55M892 459h1.55M867 498h1.55M843 498h1.55M920 463h1.55M883 504h1.55M902 492h1.55M862 500h1.55M888 476h1.55M867 488h1.55M896 486h1.55M858 487h1.55M856 494h1.55M861 488h1.55M860 481h1.55M864 491h1.55M846 465h1.55M871 501h1.55M875 484h1.55M838 469h1.55M887 483h1.55M861 508h1.55M815 529h1.55M854 511h1.55M873 495h1.55M877 503h1.55M819 510h1.55M834 500h1.55M893 474h1.55M824 504h1.55M875 475h1.55M885 496h1.55M823 498h1.55M882 483h1.55M861 488h1.55M889 498h1.55M832 503h1.55M851 487h1.55M891 475h1.55M841 474h1.55M861 506h1.55M865 498h1.55M881 484h1.55M866 504h1.55M871 498h1.55M862 512h1.55M866 487h1.55M878 458h1.55M904 466h1.55M897 486h1.55M858 492h1.55M852 473h1.55M833 505h1.55M860 487h1.55M857 496h1.55M874 506h1.55M850 503h1.55M873 487h1.55M855 498h1.55M881 469h1.55M882 480h1.55M875 486h1.55M877 491h1.55M862 475h1.55M883 490h1.55M881 502h1.55M871 478h1.55M872 499h1.55M889 502h1.55M904 483h1.55M873 501h1.55M846 472h1.55M885 491h1.55M854 508h1.55M854 465h1.55M909 484h1.55M837 494h1.55M848 494h1.55M882 488h1.55M897 462h1.55M881 498h1.55M879 486h1.55M876 491h1.55M884 503h1.55M863 485h1.55M896 489h1.55M915 479h1.55M893 494h1.55M871 487h1.55M833 499h1.55M878 499h1.55M860 469h1.55M888 475h1.55M853 481h1.55M851 503h1.55M849 456h1.55M836 494h1.55M854 482h1.55M876 490h1.55M877 499h1.55M853 497h1.55M845 479h1.55M909 457h1.55M875 503h1.55M881 477h1.55M855 489h1.55M860 466h1.55M881 440h1.55M868 487h1.55M886 489h1.55M861 493h1.55M875 511h1.55M838 475h1.55M882 463h1.55M866 511h1.55M877 506h1.55M852 453h1.55M884 455h1.55M829 480h1.55M861 493h1.55M863 493h1.55M874 510h1.55M911 460h1.55M884 456h1.55M847 482h1.55M828 514h1.55M847 451h1.55M859 445h1.55M869 506h1.55M871 470h1.55M895 462h1.55M854 497h1.55M878 488h1.55M855 486h1.55M852 511h1.55M849 490h1.55M869 487h1.55M879 478h1.55M841 489h1.55M891 498h1.55M853 466h1.55M886 491h1.55M819 500h1.55M847 501h1.55M853 502h1.55M852 501h1.55M882 496h1.55M857 502h1.55M876 477h1.55M863 493h1.55M864 506h1.55M855 515h1.55M876 489h1.55M863 492h1.55M856 467h1.55M846 478h1.55M839 483h1.55M863 468h1.55M836 497h1.55M839 480h1.55M833 485h1.55M858 474h1.55M906 484h1.55M830 517h1.55M905 489h1.55M875 493h1.55M873 504h1.55M837 505h1.55M870 482h1.55M855 499h1.55M876 495h1.55M841 488h1.55M839 499h1.55M845 479h1.55M889 459h1.55M915 456h1.55M904 466h1.55M884 474h1.55M903 488h1.55M909 473h1.55M885 481h1.55M890 495h1.55M862 490h1.55M833 478h1.55M874 491h1.55M885 477h1.55M865 484h1.55M845 503h1.55M846 486h1.55M873 483h1.55M870 493h1.55M828 480h1.55M884 484h1.55M891 482h1.55M866 499h1.55M862 489h1.55M886 489h1.55M870 462h1.55M854 488h1.55M872 503h1.55M864 511h1.55M890 497h1.55M874 498h1.55M859 493h1.55M841 452h1.55M845 478h1.55M838 482h1.55M859 498h1.55M880 496h1.55M896 498h1.55M913 473h1.55M831 493h1.55M870 499h1.55M877 478h1.55M867 482h1.55M872 492h1.55M876 502h1.55M852 480h1.55M874 487h1.55M887 482h1.55M888 492h1.55M898 492h1.55M878 468h1.55M854 471h1.55M893 470h1.55M842 495h1.55M879 496h1.55M836 479h1.55M857 485h1.55M839 499h1.55M883 495h1.55M841 475h1.55M894 503h1.55M900 452h1.55M844 499h1.55M864 472h1.55M854 472h1.55M891 466h1.55M842 503h1.55M879 473h1.55M862 513h1.55M862 481h1.55M843 496h1.55M883 495h1.55M851 487h1.55M899 489h1.55M895 487h1.55M917 489h1.55M909 469h1.55M850 487h1.55M838 487h1.55M847 467h1.55M885 493h1.55M904 466h1.55M854 498h1.55M842 506h1.55M862 489h1.55M885 478h1.55M903 495h1.55M876 491h1.55M866 509h1.55M831 494h1.55M879 495h1.55M888 487h1.55M851 496h1.55M915 471h1.55M861 509h1.55M842 484h1.55M896 501h1.55M869 480h1.55M851 475h1.55M854 482h1.55M890 478h1.55M819 506h1.55M889 488h1.55M859 491h1.55M822 520h1.55M911 482h1.55M843 493h1.55M887 498h1.55M869 497h1.55M895 491h1.55M910 490h1.55M839 480h1.55M872 503h1.55M850 490h1.55M928 447h1.55M893 453h1.55M870 483h1.55M897 467h1.55M853 494h1.55M929 461h1.55M851 500h1.55M860 483h1.55M851 491h1.55M871 510h1.55M863 503h1.55M821 503h1.55M865 499h1.55M877 498h1.55M888 479h1.55M855 491h1.55M889 487h1.55M874 490h1.55M868 500h1.55M917 476h1.55M855 485h1.55M829 475h1.55M873 471h1.55M830 518h1.55M830 475h1.55M870 490h1.55M887 500h1.55M927 489h1.55M821 509h1.55M868 485h1.55M858 495h1.55M853 504h1.55M898 499h1.55M862 473h1.55M871 503h1.55M871 474h1.55M883 465h1.55M872 489h1.55M865 491h1.55M876 499h1.55M844 498h1.55M875 503h1.55M881 493h1.55M877 487h1.55M861 492h1.55M833 474h1.55M852 507h1.55M826 487h1.55M892 468h1.55M838 464h1.55M855 501h1.55M844 475h1.55M876 506h1.55M902 484h1.55M872 480h1.55M873 485h1.55M877 501h1.55M906 486h1.55M833 491h1.55M867 478h1.55M823 508h1.55M828 510h1.55M864 479h1.55M840 499h1.55M884 488h1.55M868 467h1.55M883 482h1.55M877 465h1.55M901 459h1.55M856 516h1.55M877 486h1.55M907 502h1.55M852 498h1.55M848 490h1.55M838 503h1.55M886 490h1.55M891 505h1.55M894 472h1.55M882 508h1.55M887 483h1.55M880 507h1.55M853 483h1.55M887 476h1.55M832 513h1.55M886 481h1.55M883 484h1.55M877 504h1.55M855 476h1.55M859 489h1.55M894 470h1.55M859 467h1.55M880 483h1.55M846 500h1.55M856 509h1.55M875 500h1.55M871 458h1.55M846 479h1.55M891 472h1.55M883 479h1.55M856 444h1.55M870 494h1.55M889 481h1.55M867 500h1.55M821 484h1.55M858 508h1.55M852 472h1.55M857 500h1.55M901 493h1.55M879 454h1.55M834 473h1.55M892 495h1.55M869 502h1.55M914 485h1.55M861 492h1.55M870 460h1.55M842 508h1.55M859 491h1.55M872 493h1.55M857 476h1.55M850 496h1.55M874 477h1.55M896 496h1.55M891 471h1.55M895 497h1.55M845 504h1.55M863 487h1.55M858 481h1.55M845 492h1.55M880 480h1.55M846 502h1.55M863 505h1.55M867 488h1.55M811 512h1.55M876 483h1.55M873 493h1.55M847 503h1.55M853 502h1.55M859 471h1.55M826 477h1.55M881 493h1.55M838 491h1.55M874 497h1.55M848 493h1.55M879 484h1.55M903 488h1.55M899 472h1.55M892 495h1.55M853 488h1.55M881 485h1.55M880 496h1.55M905 496h1.55M895 473h1.55M869 500h1.55M857 493h1.55M830 489h1.55M862 476h1.55M883 493h1.55M903 496h1.55M854 490h1.55M845 505h1.55M832 500h1.55M911 466h1.55M878 500h1.55M861 494h1.55M855 491h1.55M878 484h1.55M866 480h1.55M863 482h1.55M863 467h1.55M883 464h1.55M853 479h1.55M886 475h1.55M885 490h1.55M871 510h1.55M867 498h1.55M870 479h1.55M889 481h1.55M878 469h1.55M863 500h1.55M834 507h1.55M864 505h1.55M886 461h1.55M915 483h1.55M874 476h1.55M857 471h1.55M897 480h1.55M872 461h1.55M874 482h1.55M856 504h1.55M837 505h1.55M817 504h1.55M875 481h1.55M863 496h1.55M861 480h1.55M870 495h1.55M869 481h1.55M877 488h1.55M845 467h1.55M820 517h1.55M864 505h1.55M841 508h1.55M914 466h1.55M884 488h1.55M874 487h1.55M850 487h1.55M846 473h1.55M903 501h1.55M869 482h1.55M897 482h1.55M859 486h1.55M889 494h1.55M861 478h1.55M887 461h1.55M851 504h1.55M811 481h1.55M844 501h1.55M872 470h1.55M851 513h1.55M870 479h1.55M819 490h1.55M879 459h1.55M896 484h1.55M875 486h1.55M901 484h1.55M875 488h1.55M819 499h1.55M854 492h1.55M862 466h1.55M836 476h1.55M871 509h1.55M872 489h1.55M897 486h1.55M871 479h1.55M847 480h1.55M843 495h1.55M914 485h1.55M841 494h1.55M877 488h1.55M866 479h1.55M859 488h1.55M868 493h1.55M890 501h1.55M894 505h1.55M866 494h1.55M859 502h1.55M846 494h1.55M830 519h1.55M847 496h1.55M842 470h1.55M874 494h1.55M870 487h1.55M841 512h1.55M842 508h1.55M893 506h1.55M855 488h1.55M886 505h1.55M884 488h1.55M871 503h1.55M877 465h1.55M902 498h1.55M835 474h1.55M869 495h1.55M853 493h1.55M865 504h1.55M839 480h1.55M884 500h1.55M855 475h1.55M881 460h1.55M863 490h1.55M885 496h1.55M892 479h1.55M840 505h1.55M858 501h1.55M861 495h1.55M882 493h1.55M827 496h1.55M854 500h1.55M886 498h1.55M901 469h1.55M830 509h1.55M867 490h1.55M820 508h1.55M880 502h1.55M868 491h1.55M833 502h1.55M871 483h1.55M831 512h1.55M843 493h1.55M875 503h1.55M862 494h1.55M868 492h1.55M899 501h1.55M873 506h1.55M897 478h1.55M872 498h1.55M889 477h1.55M842 494h1.55M847 481h1.55M877 477h1.55M875 509h1.55M867 490h1.55M850 445h1.55M888 482h1.55M845 502h1.55M851 503h1.55M849 470h1.55M870 470h1.55M865 482h1.55M833 516h1.55M844 475h1.55M833 494h1.55M852 507h1.55M865 501h1.55M885 491h1.55M911 457h1.55M909 477h1.55M852 442h1.55M884 485h1.55M882 489h1.55M887 501h1.55M845 491h1.55M874 484h1.55M877 483h1.55M869 494h1.55M846 499h1.55M893 461h1.55M864 496h1.55M835 503h1.55M839 499h1.55M896 457h1.55M856 487h1.55M850 460h1.55M832 489h1.55M867 478h1.55M891 477h1.55M909 495h1.55M825 481h1.55M887 494h1.55M866 485h1.55M828 494h1.55M889 449h1.55M863 483h1.55M881 494h1.55M895 487h1.55M862 472h1.55M845 483h1.55M857 506h1.55M874 504h1.55M824 492h1.55M892 488h1.55M866 473h1.55M859 476h1.55M875 498h1.55M869 480h1.55M862 489h1.55M884 494h1.55M882 471h1.55M882 482h1.55M883 457h1.55M869 490h1.55M838 512h1.55M847 495h1.55M878 490h1.55M870 497h1.55M874 471h1.55M858 510h1.55M860 492h1.55M881 471h1.55M872 487h1.55M886 469h1.55M871 492h1.55M846 474h1.55M897 489h1.55M865 467h1.55M844 491h1.55M852 471h1.55M875 503h1.55M894 462h1.55M868 510h1.55M897 459h1.55M851 489h1.55M867 481h1.55M842 478h1.55M881 483h1.55M894 501h1.55M921 471h1.55M888 453h1.55M831 497h1.55M876 482h1.55M898 471h1.55M855 482h1.55M876 491h1.55M825 492h1.55M844 485h1.55M886 475h1.55M879 488h1.55M862 497h1.55M857 478h1.55M884 480h1.55M924 469h1.55M863 496h1.55M879 498h1.55M874 485h1.55M861 488h1.55M891 480h1.55M862 494h1.55M828 484h1.55M878 474h1.55M870 497h1.55M889 499h1.55M879 486h1.55M889 487h1.55M848 494h1.55M863 493h1.55M907 495h1.55M825 487h1.55M847 495h1.55M852 496h1.55M896 463h1.55M859 455h1.55M834 508h1.55M816 518h1.55M874 463h1.55M865 503h1.55M878 496h1.55M865 505h1.55M865 479h1.55M852 504h1.55M883 491h1.55M826 492h1.55M880 476h1.55M847 496h1.55M887 449h1.55M889 465h1.55M862 486h1.55M863 511h1.55M837 485h1.55M901 470h1.55M898 460h1.55M842 475h1.55M869 507h1.55M885 464h1.55M931 482h1.55M859 495h1.55M877 494h1.55M917 494h1.55M877 478h1.55M853 480h1.55M866 499h1.55M828 476h1.55M864 488h1.55M887 469h1.55M869 490h1.55M839 509h1.55M846 504h1.55M833 471h1.55M848 498h1.55M916 465h1.55M837 491h1.55M877 487h1.55M849 483h1.55M880 498h1.55M825 496h1.55M886 493h1.55M856 512h1.55M855 491h1.55M884 487h1.55M868 486h1.55M852 510h1.55M872 485h1.55M883 474h1.55M887 500h1.55M850 488h1.55M897 481h1.55M847 463h1.55M864 465h1.55M880 493h1.55M848 504h1.55M861 479h1.55M818 507h1.55M854 507h1.55M875 489h1.55M899 484h1.55M890 501h1.55M857 501h1.55M900 458h1.55M876 483h1.55M867 462h1.55M861 501h1.55M857 508h1.55M925 483h1.55M833 485h1.55M830 493h1.55M865 484h1.55M870 477h1.55M896 486h1.55M880 476h1.55M859 468h1.55M866 507h1.55M861 481h1.55M852 488h1.55M862 498h1.55M837 491h1.55M877 485h1.55M948 443h1.55M832 472h1.55M848 505h1.55M902 487h1.55M876 466h1.55M938 449h1.55M877 491h1.55M984 455h1.55M987 474h1.55M916 488h1.55M879 477h1.55M854 514h1.55M933 480h1.55M942 492h1.55M882 487h1.55M853 503h1.55M907 500h1.55M920 468h1.55M880 469h1.55M943 446h1.55M910 464h1.55M939 465h1.55M913 477h1.55M930 480h1.55M960 485h1.55M935 463h1.55M872 475h1.55M901 488h1.55M944 488h1.55M941 446h1.55M878 491h1.55M896 488h1.55M821 488h1.55M919 480h1.55M853 498h1.55M929 467h1.55M942 463h1.55M910 464h1.55M884 496h1.55M933 480h1.55M871 469h1.55M908 473h1.55M909 473h1.55M882 475h1.55M970 447h1.55M878 478h1.55M902 467h1.55M901 490h1.55M884 493h1.55M951 477h1.55M886 466h1.55M894 500h1.55M933 491h1.55M948 429h1.55M957 479h1.55M881 489h1.55M883 496h1.55M960 466h1.55M868 479h1.55M900 493h1.55M895 483h1.55M889 496h1.55M867 495h1.55M921 470h1.55M947 470h1.55M839 507h1.55M915 453h1.55M902 469h1.55M903 464h1.55M894 489h1.55M951 432h1.55M906 455h1.55M914 491h1.55M935 452h1.55M833 517h1.55M898 468h1.55M876 479h1.55M882 484h1.55M947 441h1.55M891 488h1.55M896 473h1.55M871 474h1.55M926 487h1.55M914 467h1.55M972 461h1.55M898 442h1.55M895 472h1.55M886 465h1.55M904 489h1.55" stroke="#258f35" stroke-width="1.55" stroke-opacity="0.64" fill="none"/><path transform="scale(.5)" d="M918 516h1.55M882 525h1.55M870 524h1.55M913 510h1.55M909 521h1.55M876 531h1.55M930 509h1.55M934 510h1.55M903 519h1.55M871 524h1.55M863 527h1.55M863 523h1.55M933 510h1.55M860 517h1.55M883 526h1.55M869 533h1.55M913 522h1.55M877 530h1.55M872 523h1.55M854 529h1.55M973 495h1.55M912 523h1.55M855 529h1.55M893 516h1.55M863 530h1.55M879 525h1.55M860 529h1.55M875 514h1.55M888 521h1.55M866 531h1.55M864 527h1.55M878 529h1.55M881 516h1.55M928 507h1.55M869 529h1.55M875 518h1.55M868 525h1.55M868 531h1.55M872 528h1.55M866 517h1.55M865 526h1.55M857 529h1.55M890 521h1.55M879 524h1.55M924 516h1.55M867 525h1.55M885 529h1.55M907 519h1.55M888 516h1.55M911 511h1.55M923 502h1.55M870 520h1.55M923 521h1.55M904 514h1.55M901 517h1.55M925 516h1.55M882 510h1.55M884 515h1.55M937 506h1.55M857 531h1.55M865 527h1.55M906 506h1.55M888 520h1.55M920 521h1.55M879 520h1.55M949 516h1.55M861 539h1.55M863 530h1.55M912 509h1.55M870 527h1.55M936 510h1.55M908 519h1.55M888 518h1.55M886 518h1.55M921 503h1.55M895 516h1.55M896 520h1.55M920 507h1.55M896 513h1.55M926 519h1.55M863 539h1.55M961 506h1.55M937 521h1.55M873 523h1.55M867 524h1.55M886 524h1.55M859 529h1.55M908 516h1.55M919 510h1.55M926 514h1.55M873 528h1.55M919 505h1.55M869 525h1.55M916 515h1.55M901 523h1.55M899 521h1.55M929 504h1.55M974 504h1.55M882 517h1.55M895 520h1.55M876 531h1.55M865 517h1.55M867 532h1.55M864 534h1.55M915 503h1.55M885 526h1.55M860 533h1.55M910 515h1.55M851 529h1.55M917 513h1.55M906 513h1.55M863 530h1.55M865 527h1.55M942 505h1.55M884 524h1.55M865 532h1.55M902 521h1.55M889 523h1.55M941 515h1.55M894 517h1.55M853 534h1.55M950 506h1.55M943 506h1.55M922 515h1.55M901 518h1.55M901 520h1.55M939 505h1.55M868 532h1.55M890 522h1.55M893 515h1.55M891 514h1.55M866 520h1.55M880 516h1.55M863 530h1.55M855 527h1.55M885 520h1.55M853 540h1.55M912 512h1.55M856 522h1.55M931 506h1.55M882 524h1.55M854 531h1.55M861 520h1.55M915 515h1.55M865 535h1.55M882 520h1.55M876 533h1.55M853 528h1.55M929 507h1.55M916 522h1.55M923 518h1.55M869 535h1.55M928 505h1.55M893 529h1.55M874 515h1.55M889 527h1.55M876 520h1.55M908 509h1.55M862 532h1.55M874 528h1.55M935 510h1.55M921 498h1.55M869 519h1.55M873 520h1.55M864 526h1.55M943 505h1.55M881 530h1.55M861 533h1.55M861 520h1.55M873 524h1.55M912 514h1.55M892 513h1.55M856 528h1.55M919 506h1.55M870 521h1.55M906 506h1.55M924 508h1.55M872 534h1.55M872 529h1.55M866 522h1.55M892 517h1.55M905 511h1.55M917 513h1.55M883 525h1.55M899 520h1.55M924 508h1.55M900 520h1.55M867 530h1.55M877 522h1.55M935 499h1.55M868 533h1.55M936 510h1.55M919 508h1.55M860 524h1.55M895 517h1.55M895 529h1.55M927 506h1.55M933 509h1.55M892 528h1.55M910 506h1.55M931 513h1.55M911 516h1.55M861 534h1.55M860 540h1.55M912 515h1.55M870 525h1.55M886 517h1.55M865 540h1.55M927 515h1.55M866 520h1.55M883 529h1.55M883 528h1.55M895 520h1.55M872 535h1.55M857 524h1.55M910 505h1.55M868 515h1.55M918 516h1.55M901 518h1.55M904 518h1.55M867 519h1.55M869 530h1.55M911 511h1.55M930 503h1.55M910 519h1.55M900 513h1.55M916 518h1.55M901 507h1.55M857 534h1.55M881 530h1.55M875 519h1.55M867 528h1.55M877 522h1.55M872 519h1.55M862 529h1.55M859 519h1.55M853 533h1.55M889 527h1.55M926 521h1.55M858 522h1.55M908 513h1.55M859 535h1.55M881 525h1.55M920 519h1.55M927 509h1.55M868 529h1.55M868 521h1.55M925 503h1.55M910 513h1.55M897 524h1.55M885 529h1.55M880 519h1.55M852 529h1.55M887 528h1.55M936 509h1.55M925 506h1.55M900 513h1.55M928 511h1.55M855 520h1.55M879 535h1.55M864 525h1.55M859 531h1.55M897 515h1.55M911 512h1.55M890 522h1.55M874 511h1.55M900 526h1.55M858 531h1.55M922 508h1.55M926 512h1.55M866 526h1.55M865 525h1.55M923 513h1.55M913 506h1.55M855 540h1.55M919 509h1.55M892 511h1.55M868 534h1.55M950 494h1.55M865 536h1.55M925 511h1.55M866 532h1.55M910 519h1.55M927 511h1.55M925 510h1.55M890 520h1.55M864 530h1.55M944 504h1.55M860 522h1.55M918 517h1.55M859 530h1.55M905 503h1.55M930 504h1.55M908 518h1.55M884 533h1.55M912 522h1.55M926 517h1.55M882 525h1.55M912 508h1.55M893 525h1.55M880 525h1.55M864 529h1.55M864 534h1.55M899 512h1.55M906 523h1.55M913 514h1.55M862 536h1.55M930 499h1.55M927 501h1.55M887 534h1.55M874 533h1.55M916 516h1.55M934 505h1.55M938 508h1.55M899 520h1.55M855 521h1.55M899 513h1.55M886 523h1.55M896 521h1.55M866 521h1.55M914 515h1.55M856 526h1.55M861 527h1.55M900 513h1.55M863 526h1.55M870 525h1.55M875 518h1.55M881 524h1.55M939 507h1.55M872 523h1.55M938 510h1.55M919 516h1.55M917 507h1.55M962 511h1.55M916 515h1.55M928 506h1.55M896 509h1.55M913 516h1.55M890 519h1.55M905 508h1.55M867 517h1.55M901 523h1.55M900 513h1.55M862 526h1.55M912 509h1.55M878 521h1.55M859 525h1.55M881 521h1.55M866 523h1.55M862 530h1.55M899 505h1.55M906 509h1.55M864 533h1.55M921 505h1.55M937 506h1.55M951 517h1.55M897 523h1.55M878 520h1.55M876 529h1.55M871 529h1.55M900 515h1.55M924 506h1.55M865 528h1.55M868 530h1.55M930 515h1.55M925 504h1.55M916 510h1.55M928 517h1.55M935 522h1.55M869 532h1.55M861 527h1.55M863 520h1.55M949 512h1.55M902 517h1.55M887 521h1.55M870 524h1.55M962 513h1.55M894 525h1.55M901 517h1.55M912 508h1.55M888 528h1.55M885 516h1.55M862 520h1.55M909 506h1.55M877 516h1.55M858 521h1.55M885 513h1.55M856 531h1.55M891 516h1.55M939 505h1.55M862 535h1.55M858 518h1.55M904 520h1.55M924 507h1.55M907 509h1.55M926 508h1.55M950 515h1.55M865 526h1.55M863 538h1.55M898 515h1.55M925 519h1.55M922 506h1.55M892 516h1.55M883 519h1.55M866 520h1.55M923 511h1.55M894 509h1.55M904 505h1.55M858 522h1.55M903 523h1.55M876 521h1.55M933 509h1.55M871 525h1.55M881 530h1.55M861 529h1.55M909 512h1.55M885 514h1.55M866 531h1.55M861 526h1.55M906 520h1.55M929 509h1.55M932 509h1.55M886 509h1.55M861 517h1.55M871 526h1.55M879 516h1.55M924 505h1.55M904 510h1.55M868 531h1.55M915 510h1.55M857 528h1.55M922 515h1.55M864 528h1.55M900 519h1.55M921 515h1.55M952 496h1.55M902 515h1.55M893 526h1.55M877 516h1.55M890 520h1.55M931 520h1.55M886 520h1.55M896 511h1.55M915 513h1.55M897 519h1.55M868 519h1.55M884 513h1.55M896 506h1.55M929 505h1.55M868 524h1.55M904 517h1.55M900 522h1.55M913 514h1.55M879 532h1.55M888 526h1.55M872 532h1.55M858 525h1.55M882 516h1.55M870 517h1.55M893 516h1.55M910 513h1.55M892 514h1.55M902 514h1.55M912 520h1.55M926 510h1.55M975 488h1.55M856 537h1.55M909 516h1.55M952 502h1.55M888 515h1.55M870 528h1.55M889 508h1.55M884 515h1.55M912 516h1.55M855 536h1.55M916 517h1.55M885 523h1.55M886 513h1.55M918 506h1.55M897 523h1.55M879 531h1.55M914 520h1.55M888 529h1.55M879 518h1.55M876 525h1.55M896 526h1.55M921 516h1.55M863 521h1.55M875 520h1.55M866 529h1.55M890 522h1.55M875 532h1.55M915 503h1.55M946 499h1.55M864 533h1.55M928 501h1.55M928 517h1.55M882 529h1.55M949 499h1.55M906 524h1.55M955 515h1.55M921 502h1.55M880 517h1.55M873 521h1.55M905 513h1.55M940 501h1.55M855 540h1.55M877 515h1.55M856 539h1.55M898 510h1.55M883 517h1.55M860 522h1.55M899 510h1.55M865 537h1.55M868 522h1.55M920 509h1.55M911 515h1.55M932 510h1.55M934 499h1.55M861 524h1.55M896 515h1.55M865 530h1.55M895 512h1.55M871 535h1.55M898 521h1.55M880 512h1.55M865 525h1.55M902 524h1.55M892 522h1.55M860 535h1.55M936 510h1.55M869 531h1.55M854 537h1.55M870 530h1.55M891 518h1.55M918 507h1.55M936 514h1.55M936 519h1.55M861 526h1.55M900 519h1.55M891 518h1.55M886 524h1.55M909 516h1.55M881 530h1.55M877 511h1.55M921 503h1.55M890 535h1.55M903 510h1.55M871 533h1.55M929 515h1.55M886 515h1.55M917 505h1.55M913 511h1.55M904 510h1.55M931 514h1.55M905 517h1.55M912 513h1.55M926 509h1.55M915 510h1.55M882 529h1.55M880 514h1.55M922 503h1.55M926 510h1.55M914 512h1.55M866 519h1.55M890 512h1.55M872 530h1.55M923 515h1.55M928 500h1.55M867 526h1.55M887 518h1.55M911 526h1.55M917 517h1.55M889 527h1.55M907 515h1.55M893 520h1.55M855 524h1.55M862 523h1.55M861 533h1.55M930 518h1.55M929 509h1.55M918 513h1.55M876 520h1.55M890 515h1.55M925 502h1.55M921 513h1.55M864 514h1.55M898 508h1.55M910 515h1.55M866 522h1.55M931 505h1.55M856 530h1.55M898 522h1.55M931 504h1.55M909 507h1.55M903 514h1.55M864 527h1.55M915 511h1.55M878 518h1.55M899 519h1.55M860 538h1.55M932 502h1.55M866 521h1.55M860 535h1.55M874 518h1.55M895 519h1.55M904 516h1.55M881 530h1.55M877 529h1.55M868 535h1.55M879 514h1.55M866 514h1.55M935 513h1.55M879 519h1.55M877 536h1.55M866 521h1.55M882 511h1.55M876 533h1.55M930 496h1.55M884 518h1.55M886 522h1.55M887 513h1.55M881 521h1.55M874 520h1.55M852 518h1.55M857 526h1.55M866 531h1.55M859 538h1.55M861 528h1.55M925 502h1.55M909 520h1.55M928 510h1.55M883 523h1.55M859 534h1.55M867 527h1.55M861 529h1.55M951 507h1.55M932 501h1.55M884 525h1.55M877 529h1.55M933 501h1.55M896 522h1.55M927 506h1.55M915 511h1.55M864 530h1.55M868 526h1.55M928 519h1.55M856 530h1.55M861 525h1.55M950 501h1.55M930 506h1.55M867 522h1.55M955 511h1.55M853 535h1.55M886 531h1.55M878 522h1.55M967 499h1.55M858 541h1.55M868 515h1.55M855 534h1.55M894 508h1.55M915 518h1.55M867 526h1.55M874 523h1.55M887 535h1.55M894 522h1.55M891 522h1.55M867 527h1.55M877 515h1.55M860 522h1.55M919 504h1.55M930 511h1.55M870 527h1.55M927 512h1.55M912 509h1.55M913 520h1.55M926 500h1.55M902 509h1.55M876 529h1.55M869 524h1.55M940 501h1.55M858 527h1.55M861 533h1.55M873 521h1.55M889 511h1.55M917 516h1.55M870 529h1.55M897 522h1.55M889 522h1.55M851 539h1.55M907 513h1.55M867 523h1.55M907 529h1.55M857 532h1.55M896 525h1.55M897 509h1.55M921 513h1.55M906 503h1.55M884 535h1.55M908 526h1.55M897 524h1.55M883 526h1.55M879 529h1.55M918 505h1.55M915 519h1.55M861 526h1.55M918 519h1.55M890 524h1.55M881 530h1.55M857 527h1.55M928 519h1.55M874 526h1.55M894 526h1.55M890 508h1.55M864 519h1.55M904 515h1.55M871 525h1.55M910 520h1.55M909 519h1.55M890 516h1.55M859 536h1.55M937 510h1.55M911 521h1.55M884 521h1.55M895 510h1.55M927 504h1.55M875 517h1.55M877 517h1.55M865 518h1.55M922 511h1.55M874 534h1.55M890 507h1.55M917 511h1.55M887 522h1.55M913 504h1.55M922 515h1.55M877 529h1.55M888 512h1.55M928 503h1.55M949 505h1.55M861 527h1.55M931 514h1.55M861 520h1.55M887 520h1.55M876 535h1.55M888 519h1.55M900 520h1.55M928 511h1.55M906 502h1.55M923 507h1.55M880 515h1.55M877 528h1.55M864 529h1.55M869 538h1.55M889 529h1.55M887 516h1.55M905 514h1.55M907 511h1.55M921 515h1.55M899 530h1.55M907 520h1.55M852 528h1.55M914 518h1.55M853 535h1.55M922 511h1.55M865 525h1.55M893 515h1.55M884 520h1.55M906 503h1.55M908 512h1.55M883 513h1.55M898 515h1.55M922 514h1.55M863 533h1.55M934 510h1.55M963 515h1.55M904 518h1.55M865 531h1.55M858 531h1.55M917 512h1.55M861 528h1.55M925 510h1.55M885 523h1.55M867 528h1.55M901 524h1.55M881 518h1.55M897 515h1.55M892 516h1.55M903 522h1.55M872 532h1.55M901 512h1.55M902 520h1.55M881 511h1.55M866 535h1.55M876 519h1.55M897 505h1.55M942 506h1.55M860 525h1.55M875 522h1.55M876 530h1.55M938 501h1.55M923 507h1.55M853 526h1.55M877 514h1.55M892 525h1.55M932 508h1.55M929 513h1.55M895 526h1.55M878 525h1.55M927 505h1.55M863 520h1.55M917 509h1.55M877 521h1.55M916 507h1.55M868 518h1.55M922 521h1.55M930 507h1.55M887 513h1.55M852 524h1.55M914 522h1.55M918 525h1.55M887 522h1.55M891 516h1.55M878 517h1.55M871 526h1.55M907 505h1.55M913 519h1.55M908 513h1.55M876 527h1.55M876 523h1.55M879 511h1.55M910 514h1.55M884 521h1.55M886 526h1.55M938 502h1.55M871 521h1.55M858 526h1.55M876 515h1.55M945 500h1.55M963 507h1.55M905 528h1.55M914 520h1.55M866 528h1.55M911 523h1.55M927 514h1.55M937 505h1.55M884 517h1.55M892 515h1.55M855 533h1.55M863 531h1.55M881 513h1.55M870 515h1.55M876 522h1.55M867 524h1.55M861 534h1.55M854 530h1.55M916 506h1.55M877 511h1.55M872 530h1.55M936 514h1.55M964 486h1.55M894 524h1.55M903 513h1.55M858 533h1.55M862 530h1.55M893 508h1.55M857 534h1.55M882 516h1.55M872 520h1.55M906 506h1.55M887 529h1.55M930 498h1.55M926 516h1.55M902 520h1.55M869 526h1.55M891 522h1.55M882 513h1.55M929 506h1.55M863 530h1.55M869 539h1.55M892 512h1.55M928 507h1.55M927 511h1.55M877 522h1.55M925 500h1.55M907 513h1.55M896 515h1.55M939 505h1.55M877 523h1.55M902 508h1.55M918 520h1.55M925 514h1.55M865 534h1.55M901 509h1.55M898 512h1.55M925 506h1.55M897 512h1.55M904 515h1.55M925 520h1.55M887 518h1.55M913 523h1.55M901 514h1.55M912 518h1.55M873 524h1.55M919 517h1.55M891 507h1.55M928 500h1.55M865 516h1.55M931 506h1.55M888 525h1.55M887 524h1.55M870 526h1.55M920 513h1.55M903 526h1.55M858 518h1.55M911 509h1.55M855 538h1.55M914 511h1.55M911 519h1.55M885 534h1.55M858 525h1.55M905 517h1.55M866 528h1.55M863 521h1.55M861 534h1.55M905 519h1.55M860 520h1.55M897 513h1.55M921 503h1.55M854 523h1.55M923 500h1.55M929 517h1.55M913 522h1.55M927 519h1.55M897 524h1.55M924 512h1.55M930 500h1.55M864 538h1.55M860 515h1.55M862 518h1.55M908 528h1.55M881 531h1.55M878 526h1.55M857 520h1.55M866 522h1.55M913 514h1.55M884 517h1.55M920 519h1.55M927 523h1.55M876 535h1.55M927 512h1.55M896 513h1.55M926 505h1.55M882 525h1.55M922 516h1.55M918 515h1.55M896 518h1.55M919 513h1.55M921 504h1.55M906 518h1.55M865 521h1.55M868 532h1.55M907 518h1.55M926 507h1.55M918 504h1.55M918 517h1.55M881 512h1.55M866 526h1.55M878 528h1.55M899 516h1.55M931 506h1.55M944 517h1.55M868 526h1.55M879 530h1.55M862 540h1.55M925 503h1.55M923 508h1.55M885 518h1.55M917 519h1.55M898 509h1.55M871 527h1.55M854 527h1.55M898 523h1.55M881 527h1.55M870 520h1.55M915 516h1.55M906 515h1.55M926 513h1.55M885 509h1.55M925 518h1.55M865 531h1.55M864 520h1.55M923 518h1.55M952 511h1.55M910 519h1.55M944 488h1.55M908 541h1.55M1014 490h1.55M925 502h1.55M968 493h1.55M920 524h1.55M918 540h1.55M868 515h1.55M959 489h1.55M950 499h1.55M933 515h1.55M966 498h1.55M1002 464h1.55M971 494h1.55M986 487h1.55M990 507h1.55M947 492h1.55M967 487h1.55M929 512h1.55M965 498h1.55M980 466h1.55M920 531h1.55M975 465h1.55M972 483h1.55M892 523h1.55M992 477h1.55M866 543h1.55M914 521h1.55M957 485h1.55M991 477h1.55M932 528h1.55M945 521h1.55M854 574h1.55M957 522h1.55M894 519h1.55M958 524h1.55M979 461h1.55M936 499h1.55M943 516h1.55M901 526h1.55M886 536h1.55M1003 481h1.55M951 516h1.55M931 505h1.55M888 524h1.55M881 558h1.55M1014 454h1.55M896 522h1.55M952 512h1.55" stroke="#2cc2f0" stroke-width="1.55" stroke-opacity="0.66" fill="none"/><path transform="scale(.5)" d="M838 532h1.55M817 546h1.55M826 532h1.55M836 539h1.55M823 540h1.55M832 526h1.55M839 530h1.55M829 531h1.55M819 533h1.55M848 526h1.55M832 521h1.55M828 529h1.55M828 541h1.55M839 525h1.55M831 522h1.55M821 540h1.55M825 524h1.55M829 527h1.55M825 531h1.55M838 519h1.55M834 535h1.55M838 538h1.55M824 545h1.55M835 521h1.55M826 541h1.55M820 537h1.55M838 536h1.55M834 533h1.55M832 540h1.55M831 538h1.55M821 532h1.55M821 539h1.55M843 529h1.55M837 518h1.55M817 537h1.55M833 518h1.55M830 528h1.55M828 545h1.55M821 527h1.55M827 543h1.55M819 541h1.55M834 539h1.55M843 533h1.55M818 532h1.55M840 521h1.55M830 527h1.55M829 534h1.55M816 543h1.55M821 542h1.55M828 537h1.55M820 535h1.55M823 533h1.55M841 532h1.55M819 534h1.55M831 537h1.55M830 543h1.55M816 532h1.55M816 541h1.55M825 534h1.55M812 548h1.55M836 529h1.55M821 528h1.55M838 527h1.55M832 538h1.55M837 527h1.55M844 537h1.55M829 541h1.55M820 532h1.55M832 535h1.55M837 523h1.55M828 538h1.55M822 545h1.55M839 533h1.55M827 525h1.55M827 531h1.55M833 522h1.55M826 531h1.55M822 541h1.55M836 535h1.55M835 524h1.55M830 550h1.55M824 526h1.55M829 539h1.55M833 549h1.55M825 524h1.55M837 530h1.55M812 535h1.55M831 530h1.55M820 538h1.55M833 533h1.55M832 536h1.55M817 545h1.55M837 533h1.55M823 543h1.55M827 532h1.55M826 535h1.55M830 535h1.55M827 538h1.55M816 538h1.55M835 535h1.55M834 528h1.55M831 527h1.55M821 537h1.55M838 518h1.55M823 541h1.55M835 521h1.55M842 521h1.55M826 530h1.55M835 532h1.55M827 526h1.55M823 535h1.55M827 528h1.55M836 537h1.55M834 546h1.55M822 538h1.55M836 526h1.55M820 539h1.55M835 537h1.55M830 528h1.55M819 535h1.55M837 537h1.55M829 533h1.55M820 544h1.55M820 528h1.55M830 531h1.55M833 534h1.55M834 525h1.55M824 544h1.55M839 530h1.55M836 536h1.55M836 534h1.55M829 524h1.55M831 530h1.55M827 529h1.55M814 535h1.55M825 530h1.55M831 532h1.55M823 539h1.55M830 525h1.55M838 530h1.55M821 538h1.55M845 519h1.55M828 538h1.55M839 537h1.55M824 530h1.55M844 520h1.55M831 531h1.55M822 550h1.55M833 524h1.55M821 544h1.55M829 520h1.55M831 541h1.55M821 532h1.55M828 530h1.55M825 529h1.55M834 530h1.55M827 525h1.55M828 537h1.55M835 537h1.55M827 531h1.55M823 529h1.55M821 530h1.55M825 541h1.55M835 521h1.55M827 531h1.55M836 533h1.55M835 536h1.55M834 531h1.55M835 529h1.55M830 527h1.55M827 532h1.55M828 535h1.55M835 521h1.55M832 533h1.55M837 530h1.55M841 513h1.55M826 530h1.55M833 531h1.55M827 539h1.55M827 542h1.55M836 533h1.55M827 535h1.55M826 538h1.55M820 530h1.55M838 534h1.55M839 528h1.55M828 535h1.55M842 529h1.55M815 540h1.55M821 541h1.55M844 528h1.55M831 524h1.55M829 542h1.55M832 526h1.55M827 525h1.55M837 527h1.55M840 525h1.55M817 534h1.55M823 538h1.55M826 535h1.55M836 526h1.55M837 525h1.55M822 545h1.55M823 540h1.55M834 532h1.55M828 531h1.55M828 528h1.55M844 530h1.55M831 539h1.55M821 537h1.55M821 532h1.55M821 532h1.55M817 537h1.55M826 539h1.55M823 536h1.55M819 543h1.55M828 541h1.55M824 529h1.55M822 536h1.55M828 531h1.55M842 525h1.55M834 528h1.55M829 528h1.55M831 532h1.55M816 545h1.55M824 545h1.55M832 531h1.55M830 528h1.55M839 523h1.55M827 548h1.55M824 541h1.55M824 536h1.55M828 535h1.55M836 523h1.55M825 540h1.55M827 541h1.55M824 534h1.55M834 526h1.55M828 536h1.55M822 534h1.55M823 545h1.55M837 522h1.55M841 524h1.55M829 534h1.55M825 530h1.55M829 530h1.55M827 537h1.55M837 523h1.55M836 528h1.55M827 544h1.55M825 533h1.55M837 532h1.55M828 536h1.55M835 526h1.55M833 531h1.55M828 536h1.55M835 533h1.55M823 548h1.55M836 537h1.55M826 531h1.55M829 536h1.55M836 526h1.55M829 538h1.55M818 537h1.55M830 538h1.55M833 534h1.55M827 529h1.55M822 538h1.55M827 527h1.55M831 529h1.55M833 528h1.55M827 529h1.55M825 556h1.55M828 528h1.55M833 529h1.55M835 535h1.55M825 534h1.55M822 530h1.55M823 534h1.55M829 531h1.55M815 549h1.55M835 536h1.55M841 530h1.55M829 530h1.55M831 530h1.55M838 533h1.55M830 529h1.55M824 528h1.55M832 530h1.55M838 529h1.55M827 527h1.55M833 528h1.55M832 538h1.55M819 531h1.55M826 534h1.55M824 539h1.55M814 531h1.55M824 532h1.55M824 530h1.55M819 535h1.55M836 530h1.55M831 526h1.55M824 528h1.55M840 533h1.55M828 530h1.55M835 539h1.55M829 534h1.55M827 545h1.55M833 533h1.55M819 532h1.55M811 549h1.55M834 529h1.55M832 531h1.55M827 535h1.55M837 526h1.55M825 543h1.55M823 536h1.55M836 537h1.55M835 521h1.55M828 528h1.55M823 533h1.55M830 523h1.55M823 552h1.55M832 536h1.55M834 530h1.55M828 535h1.55M836 530h1.55M845 529h1.55M826 528h1.55M831 526h1.55M826 538h1.55M824 533h1.55M816 544h1.55M832 546h1.55M833 529h1.55M822 527h1.55M824 534h1.55M835 535h1.55M827 526h1.55M825 542h1.55M819 535h1.55M821 532h1.55M826 536h1.55M826 530h1.55M828 542h1.55M823 540h1.55M818 545h1.55M835 530h1.55M829 531h1.55M822 527h1.55M826 540h1.55M841 528h1.55M825 530h1.55M827 540h1.55M815 537h1.55M827 522h1.55M827 535h1.55M830 534h1.55M837 526h1.55M829 537h1.55M831 537h1.55M827 525h1.55M839 526h1.55M832 537h1.55M832 535h1.55M819 531h1.55M835 541h1.55M825 536h1.55M830 536h1.55M823 530h1.55M828 537h1.55M823 527h1.55M819 541h1.55M838 545h1.55M839 519h1.55M820 532h1.55M821 534h1.55M834 536h1.55M826 543h1.55M839 523h1.55M830 551h1.55M831 525h1.55M839 525h1.55M830 525h1.55M830 526h1.55M834 522h1.55M833 531h1.55M841 519h1.55M835 524h1.55M824 544h1.55M827 534h1.55M832 533h1.55M819 532h1.55M820 542h1.55M814 539h1.55M840 533h1.55M833 529h1.55M819 538h1.55M815 533h1.55M832 531h1.55M821 528h1.55M826 528h1.55M831 541h1.55M840 523h1.55M827 531h1.55M811 538h1.55M825 533h1.55M823 551h1.55M824 526h1.55M825 534h1.55M823 537h1.55M833 528h1.55M827 534h1.55M826 530h1.55M824 533h1.55M823 527h1.55M825 540h1.55M829 532h1.55M824 531h1.55M834 528h1.55M823 547h1.55M824 536h1.55M816 547h1.55M841 532h1.55M813 541h1.55M825 531h1.55M830 540h1.55M827 529h1.55M828 537h1.55M833 524h1.55M841 531h1.55M840 529h1.55M840 522h1.55M825 535h1.55M830 533h1.55M829 544h1.55M827 535h1.55M832 528h1.55M835 530h1.55M817 534h1.55M817 532h1.55M837 533h1.55M821 541h1.55M829 534h1.55M822 533h1.55M816 534h1.55M836 533h1.55M830 525h1.55M834 536h1.55M811 536h1.55M843 528h1.55M811 540h1.55M821 531h1.55M826 535h1.55M831 524h1.55M836 531h1.55M835 525h1.55M842 524h1.55M825 533h1.55M832 524h1.55M821 537h1.55M836 540h1.55M846 531h1.55M819 542h1.55M845 531h1.55M830 523h1.55M815 562h1.55M821 544h1.55M837 531h1.55M831 525h1.55M838 531h1.55M836 528h1.55M817 540h1.55M828 544h1.55M827 530h1.55M830 537h1.55M838 528h1.55M813 532h1.55M812 545h1.55M828 529h1.55M833 523h1.55M832 532h1.55M838 536h1.55M827 531h1.55M830 539h1.55M831 529h1.55M827 531h1.55M830 528h1.55M810 535h1.55M825 525h1.55M832 528h1.55M819 539h1.55M838 531h1.55M820 543h1.55M824 525h1.55M832 535h1.55M841 547h1.55M828 533h1.55M828 531h1.55M831 531h1.55M841 525h1.55M821 531h1.55M826 531h1.55M828 527h1.55M828 532h1.55M840 533h1.55M832 531h1.55M816 548h1.55M843 523h1.55M824 541h1.55M826 536h1.55M830 526h1.55M827 533h1.55M823 540h1.55M828 526h1.55M827 524h1.55M826 536h1.55M835 526h1.55M842 536h1.55M840 536h1.55M832 522h1.55M828 526h1.55M822 530h1.55M836 545h1.55M823 543h1.55M829 534h1.55M832 531h1.55M817 533h1.55M828 539h1.55M830 537h1.55M845 533h1.55M837 541h1.55M839 528h1.55M825 539h1.55M832 527h1.55M833 536h1.55M826 531h1.55M843 532h1.55M825 542h1.55M828 536h1.55M824 542h1.55M827 528h1.55M824 525h1.55M826 525h1.55M826 531h1.55M826 539h1.55M835 536h1.55M811 545h1.55M829 533h1.55M825 537h1.55M831 539h1.55M842 532h1.55M824 526h1.55M820 537h1.55M824 541h1.55M832 532h1.55M827 535h1.55M832 528h1.55M824 548h1.55M837 533h1.55M844 524h1.55M823 532h1.55M830 535h1.55M833 540h1.55M837 536h1.55M826 531h1.55M819 544h1.55M841 537h1.55M832 526h1.55M830 534h1.55M816 542h1.55M837 534h1.55M843 534h1.55M827 535h1.55M822 531h1.55M831 537h1.55M829 523h1.55M833 522h1.55M828 546h1.55M827 534h1.55M833 532h1.55M830 532h1.55M837 530h1.55M828 522h1.55M826 531h1.55M824 552h1.55M826 534h1.55M835 528h1.55M824 532h1.55M828 535h1.55M824 539h1.55M830 542h1.55M820 533h1.55M830 535h1.55M828 533h1.55M828 534h1.55M829 533h1.55M826 527h1.55M834 521h1.55M824 539h1.55M819 541h1.55M821 541h1.55M837 530h1.55M831 541h1.55M838 537h1.55M843 539h1.55M829 533h1.55M824 540h1.55M830 527h1.55M813 537h1.55M835 537h1.55M829 529h1.55M826 548h1.55M826 541h1.55M827 542h1.55M833 531h1.55M829 532h1.55M823 529h1.55M841 517h1.55M830 528h1.55M826 538h1.55M821 537h1.55M826 539h1.55M837 533h1.55M822 536h1.55M820 533h1.55M820 537h1.55M829 529h1.55M833 524h1.55M846 531h1.55M822 532h1.55M831 534h1.55M824 540h1.55M824 531h1.55M830 540h1.55M830 524h1.55M839 517h1.55M837 529h1.55M822 534h1.55M832 536h1.55M833 528h1.55M844 520h1.55M821 528h1.55M833 532h1.55M821 533h1.55M843 523h1.55M839 529h1.55M831 520h1.55M823 528h1.55M823 540h1.55M835 518h1.55M840 523h1.55M832 535h1.55M827 532h1.55M819 548h1.55M833 522h1.55M841 531h1.55M835 528h1.55M843 535h1.55M829 526h1.55M844 524h1.55M825 525h1.55M829 541h1.55M817 541h1.55M832 534h1.55M815 536h1.55M823 530h1.55M839 527h1.55M829 529h1.55M828 529h1.55M836 541h1.55M832 531h1.55M822 538h1.55M845 522h1.55M833 547h1.55M825 537h1.55M828 546h1.55M822 540h1.55M831 542h1.55M823 539h1.55M832 524h1.55M836 535h1.55M800 562h1.55M816 553h1.55M843 526h1.55M842 519h1.55M798 555h1.55M833 533h1.55M835 549h1.55M841 536h1.55M819 548h1.55M834 558h1.55M831 536h1.55M811 549h1.55M846 519h1.55M827 522h1.55M830 546h1.55M814 540h1.55M842 552h1.55M814 549h1.55M848 540h1.55M834 560h1.55M847 531h1.55M824 548h1.55M840 520h1.55M834 547h1.55M824 551h1.55M833 546h1.55M835 544h1.55M841 539h1.55M841 553h1.55M836 577h1.55M812 540h1.55M818 553h1.55M840 513h1.55M842 521h1.55M836 542h1.55M823 529h1.55M823 552h1.55M807 548h1.55M825 557h1.55M802 540h1.55M816 534h1.55M806 540h1.55M822 539h1.55M809 538h1.55M795 548h1.55M823 540h1.55M815 551h1.55M834 566h1.55M828 538h1.55M832 535h1.55M805 552h1.55M841 522h1.55M827 535h1.55M837 549h1.55M826 547h1.55M817 550h1.55M808 535h1.55M834 559h1.55M807 552h1.55M809 539h1.55M826 533h1.55" stroke="#f23632" stroke-width="1.55" stroke-opacity="0.66" fill="none"/><path d="M371.2 155.2V289.7H507.2M379.1 289.7v1.8M387.1 289.7v1.8M395.1 289.7v1.8M410.9 289.7v1.8M418.9 289.7v1.8M426.8 289.7v1.8M442.8 289.7v1.8M450.7 289.7v1.8M458.6 289.7v1.8M474.6 289.7v1.8M482.5 289.7v1.8M490.4 289.7v1.8M506.4 289.7v1.8M371.2 277.3h-2.2M371.2 270.1h-2.2M371.2 265.0h-2.2M371.2 261.0h-2.2M371.2 257.7h-2.2M371.2 255.0h-2.2M371.2 252.6h-2.2M371.2 250.5h-2.2M371.2 236.2h-2.2M371.2 229.0h-2.2M371.2 223.9h-2.2M371.2 219.9h-2.2M371.2 216.6h-2.2M371.2 213.9h-2.2M371.2 211.5h-2.2M371.2 209.4h-2.2M371.2 195.1h-2.2M371.2 187.9h-2.2M371.2 182.8h-2.2M371.2 178.8h-2.2M371.2 175.5h-2.2M371.2 172.8h-2.2M371.2 170.4h-2.2M371.2 168.3h-2.2" fill="none" stroke="#3a3a3a" stroke-width="0.75"/><path d="M371.2 289.7v4.2M403.0 289.7v4.2M434.8 289.7v4.2M466.6 289.7v4.2M498.4 289.7v4.2M371.2 289.7h-4.6M371.2 248.6h-4.6M371.2 207.5h-4.6M371.2 166.4h-4.6" fill="none" stroke="#111" stroke-width="1.1"/><text x="371.2" y="301.0" text-anchor="middle" class="tk">0</text><text x="403.0" y="301.0" text-anchor="middle" class="tk">200</text><text x="434.8" y="301.0" text-anchor="middle" class="tk">400</text><text x="466.6" y="301.0" text-anchor="middle" class="tk">600</text><text x="498.4" y="301.0" text-anchor="middle" class="tk">800</text><text x="362.9" y="289.0" text-anchor="end" class="tk">10<tspan dy="-2.4" font-size="3.8">0</tspan></text><text x="362.9" y="249.4" text-anchor="end" class="tk">10<tspan dy="-2.4" font-size="3.8">1</tspan></text><text x="362.9" y="209.9" text-anchor="end" class="tk">10<tspan dy="-2.4" font-size="3.8">2</tspan></text><text x="362.9" y="170.3" text-anchor="end" class="tk">10<tspan dy="-2.4" font-size="3.8">3</tspan></text></g><text x="116.2" y="26.2" font-size="18.8" text-anchor="start" >C</text><text x="92.4" y="52.7" font-size="16.5" text-anchor="start" >S 38</text><text x="55.2" y="93.9" font-size="16.5" text-anchor="start" >G<tspan dy="4.6" font-size="12">1</tspan></text><text x="55.9" y="112.3" font-size="16.5" text-anchor="start" >47</text><text x="127.7" y="124.3" font-size="16.5" text-anchor="start" letter-spacing="0.3">G<tspan dy="4.6" font-size="12">2</tspan><tspan dy="-4.6">–M 13</tspan></text><text x="221.1" y="25.7" font-size="18.8" text-anchor="start" >PARPi</text><text transform="translate(283.2,25.4) scale(1.165,1)" font-size="11.6">(1 <tspan font-weight="normal">μ</tspan>mol/L)</text><text x="259.8" y="55.9" font-size="16.5" text-anchor="start" >S 35</text><text x="218.3" y="98.3" font-size="16.5" text-anchor="start" >G<tspan dy="4.6" font-size="12">1</tspan></text><text x="219.4" y="117.0" font-size="16.5" text-anchor="start" >19</text><text x="291.5" y="129.9" font-size="16.5" text-anchor="start" letter-spacing="0.4">G<tspan dy="4.6" font-size="12">2</tspan><tspan dy="-4.6">–M 44</tspan></text><text x="389.3" y="25.5" font-size="18.8" text-anchor="start" >CHK1i</text><text transform="translate(451.4,25.0) scale(1.165,1)" font-size="11.6">(1 <tspan font-weight="normal">μ</tspan>mol/L)</text><text x="425.6" y="52.7" font-size="16.5" text-anchor="start" >S 42</text><text x="383.1" y="97.2" font-size="16.5" text-anchor="start" >G<tspan dy="4.6" font-size="12">1</tspan></text><text x="383.6" y="116.3" font-size="16.5" text-anchor="start" >37</text><text x="446.2" y="130" font-size="16.5" text-anchor="start" >G<tspan dy="4.6" font-size="12">2</tspan><tspan dy="-4.6">–M 19</tspan></text><text x="79.9" y="171.4" font-size="18.8" text-anchor="start" >ATRi</text><text transform="translate(128.4,172.6) scale(1.165,1)" font-size="11.6">(1 <tspan font-weight="normal">μ</tspan>mol/L)</text><text x="103.8" y="212.0" font-size="16.5" text-anchor="start" >S 40</text><text x="59.5" y="263.0" font-size="16.5" text-anchor="start" >G<tspan dy="4.6" font-size="12">1</tspan></text><text x="60" y="282.7" font-size="16.5" text-anchor="start" >27</text><text x="128.5" y="283.8" font-size="16.5" text-anchor="start" letter-spacing="0.15">G<tspan dy="4.6" font-size="12">2</tspan><tspan dy="-4.6">–M 30</tspan></text><text x="218.1" y="174.8" font-size="18.8" text-anchor="start" letter-spacing="0.08">PARPi + CHK1i</text><text x="263.6" y="210.5" font-size="16.5" text-anchor="start" >S 44</text><text x="223.8" y="255.6" font-size="16.5" text-anchor="start" >G<tspan dy="4.6" font-size="12">1</tspan></text><text x="223.8" y="274.3" font-size="16.5" text-anchor="start" >31</text><text x="283.8" y="282.8" font-size="16.5" text-anchor="start" letter-spacing="0.4">G<tspan dy="4.6" font-size="12">2</tspan><tspan dy="-4.6">–M 22</tspan></text><text x="381.9" y="175.3" font-size="18.8" text-anchor="start" >PARPi + ATRi</text><text x="419.0" y="208.6" font-size="16.5" text-anchor="start" >S 41</text><text x="376.4" y="252.6" font-size="16.5" text-anchor="start" >G<tspan dy="4.6" font-size="12">1</tspan></text><text x="376.9" y="271.8" font-size="16.5" text-anchor="start" >26</text><text x="451.8" y="284.0" font-size="16.5" text-anchor="start" letter-spacing="0.4">G<tspan dy="4.6" font-size="12">2</tspan><tspan dy="-4.6">–M 30</tspan></text><path d="M24.0 164V320.8H181" fill="none" stroke="#000" stroke-width="4.0" stroke-linejoin="miter"/><path d="M24.0 154.4L18.3 165H29.7Z M191.4 320.8L180.5 315.3V326.3Z" fill="#000"/><text transform="translate(14.9,317.0) rotate(-90)" font-size="18.9" letter-spacing="0.36">FITC Anti BrdUrd</text><text x="31.3" y="345.1" font-size="19.4" text-anchor="start" >DNA Content (PI)</text><path d="M75.5 399.5V681.4H503.5M75.5 681.40h-5M75.50 681.4v5.5M75.5 634.56h-5M146.83 681.4v5.5M75.5 587.72h-5M218.17 681.4v5.5M75.5 540.88h-5M289.50 681.4v5.5M75.5 494.04h-5M360.83 681.4v5.5M75.5 447.20h-5M432.17 681.4v5.5M75.5 400.36h-5M503.50 681.4v5.5" fill="none" stroke="#8a8a8a" stroke-width="1.1"/><text x="57.5" y="688.40" font-size="18.5" text-anchor="end" >0%</text><text x="57.5" y="641.56" font-size="18.5" text-anchor="end" >20%</text><text x="57.5" y="594.72" font-size="18.5" text-anchor="end" >40%</text><text x="57.5" y="547.88" font-size="18.5" text-anchor="end" >60%</text><text x="57.5" y="501.04" font-size="18.5" text-anchor="end" >80%</text><text x="57.5" y="454.20" font-size="18.5" text-anchor="end" >100%</text><text x="57.5" y="407.36" font-size="18.5" text-anchor="end" >120%</text><rect x="96.42" y="447.20" width="28.5" height="31.62" fill="#14aaf5"/><rect x="96.42" y="478.82" width="28.5" height="92.98" fill="#0cb25a"/><rect x="96.42" y="571.79" width="28.5" height="109.11" fill="#ff2600"/><path d="M110.67 570.15V573.43M104.67 570.15h12M104.67 573.43h12M110.67 477.65V479.99M104.67 477.65h12M104.67 479.99h12M110.67 445.33V449.07M104.67 445.33h12M104.67 449.07h12" fill="none" stroke="#111" stroke-width="1.45"/><rect x="167.91" y="447.20" width="28.5" height="105.39" fill="#14aaf5"/><rect x="167.91" y="552.59" width="28.5" height="83.14" fill="#0cb25a"/><rect x="167.91" y="635.73" width="28.5" height="45.17" fill="#ff2600"/><path d="M182.16 633.86V637.60M176.16 633.86h12M176.16 637.60h12M182.16 550.72V554.46M176.16 550.72h12M176.16 554.46h12M182.16 444.86V449.54M176.16 444.86h12M176.16 449.54h12" fill="none" stroke="#111" stroke-width="1.45"/><rect x="239.40" y="447.20" width="28.5" height="45.67" fill="#14aaf5"/><rect x="239.40" y="492.87" width="28.5" height="103.05" fill="#0cb25a"/><rect x="239.40" y="595.92" width="28.5" height="84.98" fill="#ff2600"/><path d="M253.65 594.04V597.79M247.65 594.04h12M247.65 597.79h12M253.65 491.46V494.27M247.65 491.46h12M247.65 494.27h12M253.65 445.79V448.61M247.65 445.79h12M247.65 448.61h12" fill="none" stroke="#111" stroke-width="1.45"/><rect x="310.90" y="447.20" width="28.5" height="72.60" fill="#14aaf5"/><rect x="310.90" y="519.80" width="28.5" height="97.19" fill="#0cb25a"/><rect x="310.90" y="617.00" width="28.5" height="63.90" fill="#ff2600"/><path d="M325.15 614.42V619.57M319.15 614.42h12M319.15 619.57h12M325.15 517.23V522.38M319.15 517.23h12M319.15 522.38h12M325.15 445.33V449.07M319.15 445.33h12M319.15 449.07h12" fill="none" stroke="#111" stroke-width="1.45"/><rect x="382.39" y="447.20" width="28.5" height="53.40" fill="#14aaf5"/><rect x="382.39" y="500.60" width="28.5" height="107.03" fill="#0cb25a"/><rect x="382.39" y="607.63" width="28.5" height="73.27" fill="#ff2600"/><path d="M396.64 605.99V609.27M390.64 605.99h12M390.64 609.27h12M396.64 497.32V503.88M390.64 497.32h12M390.64 503.88h12M396.64 444.86V449.54M390.64 444.86h12M390.64 449.54h12" fill="none" stroke="#111" stroke-width="1.45"/><rect x="453.88" y="447.20" width="28.5" height="74.94" fill="#14aaf5"/><rect x="453.88" y="522.14" width="28.5" height="97.19" fill="#0cb25a"/><rect x="453.88" y="619.34" width="28.5" height="61.56" fill="#ff2600"/><path d="M468.13 617.70V620.98M462.13 617.70h12M462.13 620.98h12M468.13 520.74V523.55M462.13 520.74h12M462.13 523.55h12M468.13 445.56V448.84M462.13 445.56h12M462.13 448.84h12" fill="none" stroke="#111" stroke-width="1.45"/><rect x="192.5" y="396.2" width="9" height="9" fill="#14aaf5"/><text x="207" y="409.0" font-size="18.5" text-anchor="start" >G<tspan dy="4.6" font-size="13.5">2</tspan><tspan dy="-4.6">–M</tspan></text><rect x="299.6" y="396.4" width="9" height="9" fill="#0cb25a"/><text x="312.8" y="409.0" font-size="18.5" text-anchor="start" >S</text><rect x="372.4" y="396.4" width="9" height="9" fill="#ff2600"/><text x="386.3" y="409.0" font-size="18.5" text-anchor="start" >G<tspan dy="4.6" font-size="13.5">1</tspan></text><text x="111.17" y="711.2" font-size="18.5" text-anchor="middle" >Control</text><text x="182.50" y="711.2" font-size="18.5" text-anchor="middle" >PARPi</text><text transform="translate(183.50,732.6) scale(1.2,1)" font-size="12.3" text-anchor="middle">(1 <tspan font-weight="normal">μ</tspan>mol/L)</text><text x="253.83" y="711.2" font-size="18.5" text-anchor="middle" >CHK1i</text><text transform="translate(255.73,732.6) scale(1.2,1)" font-size="12.3" text-anchor="middle">(1 <tspan font-weight="normal">μ</tspan>mol/L)</text><text x="325.17" y="711.2" font-size="18.5" text-anchor="middle" >ATRi</text><text transform="translate(327.97,732.6) scale(1.2,1)" font-size="12.3" text-anchor="middle">(1 <tspan font-weight="normal">μ</tspan>mol/L)</text><text x="396.50" y="711.2" font-size="18.5" text-anchor="middle" >PARPi</text><text x="396.50" y="733.7" font-size="18.5" text-anchor="middle" >CHK1i</text><text x="467.83" y="711.2" font-size="18.5" text-anchor="middle" >PARPi</text><text x="467.83" y="733.7" font-size="18.5" text-anchor="middle" >ATRi</text></svg></body></html>
